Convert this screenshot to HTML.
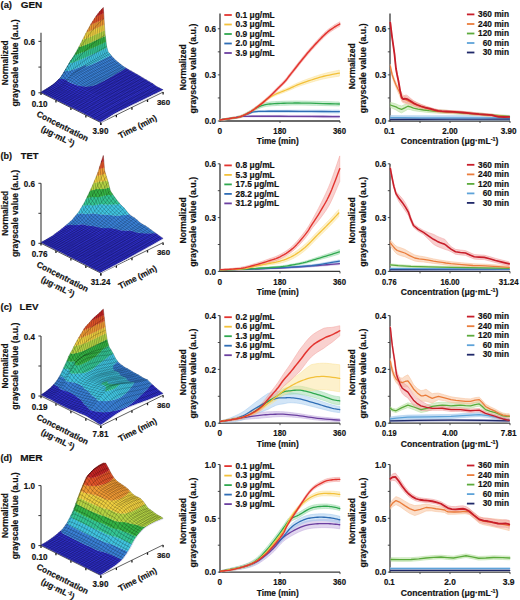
<!DOCTYPE html><html><head><meta charset="utf-8"><style>html,body{margin:0;padding:0;background:#fff;width:520px;height:600px;overflow:hidden}svg{display:block}text{font-family:"Liberation Sans", sans-serif;stroke:#141414;stroke-width:0.18px}.s0{fill:#2e2ec4;stroke:#2e2ec4;stroke-width:0.25}.s1{fill:#3a80d6;stroke:#3a80d6;stroke-width:0.25}.s2{fill:#40c4e0;stroke:#40c4e0;stroke-width:0.25}.s3{fill:#34c694;stroke:#34c694;stroke-width:0.25}.s4{fill:#34b244;stroke:#34b244;stroke-width:0.25}.s5{fill:#b4d444;stroke:#b4d444;stroke-width:0.25}.s6{fill:#f0d040;stroke:#f0d040;stroke-width:0.25}.s7{fill:#f09a34;stroke:#f09a34;stroke-width:0.25}.s8{fill:#e2542a;stroke:#e2542a;stroke-width:0.25}.s9{fill:#c42424;stroke:#c42424;stroke-width:0.25}</style></head><body>
<svg width="520" height="600" viewBox="0 0 520 600">
<rect width="520" height="600" fill="#fff"/>
<g transform="translate(0 0)">
<text x="0.50" y="8.20" font-size="9.6" text-anchor="start" fill="#111" font-weight="bold" textLength="11.50" lengthAdjust="spacingAndGlyphs" >(a)</text>
<text x="20.70" y="8.20" font-size="9.8" text-anchor="start" fill="#111" font-weight="bold" textLength="21.60" lengthAdjust="spacingAndGlyphs" >GEN</text>
</g>
<g transform="translate(0 0)">
<line x1="41.0" y1="32.80" x2="41.0" y2="93.3" stroke="#383838" stroke-width="1.1"/>
<line x1="38.4" y1="92.80" x2="41.0" y2="92.80" stroke="#383838" stroke-width="1"/>
<line x1="38.4" y1="41.37" x2="41.0" y2="41.37" stroke="#383838" stroke-width="1"/>
<line x1="38.4" y1="67.09" x2="41.0" y2="67.09" stroke="#383838" stroke-width="1"/>
<text x="35.40" y="95.80" font-size="8.2" text-anchor="end" fill="#111" font-weight="bold" textLength="4.60" lengthAdjust="spacingAndGlyphs" >0</text>
<text x="35.00" y="44.97" font-size="8.2" text-anchor="end" fill="#111" font-weight="bold" textLength="11.20" lengthAdjust="spacingAndGlyphs" >0.6</text>
<polyline points="41.0,92.8 100.8,122.6 163.1,92.1" fill="none" stroke="#383838" stroke-width="0.8"/>
<line x1="41.00" y1="92.80" x2="41.00" y2="95.10" stroke="#1a1a1a" stroke-width="1.3"/>
<line x1="55.95" y1="100.25" x2="55.95" y2="102.55" stroke="#1a1a1a" stroke-width="1.3"/>
<line x1="70.90" y1="107.70" x2="70.90" y2="110.00" stroke="#1a1a1a" stroke-width="1.3"/>
<line x1="85.85" y1="115.15" x2="85.85" y2="117.45" stroke="#1a1a1a" stroke-width="1.3"/>
<line x1="100.80" y1="122.60" x2="100.80" y2="124.90" stroke="#1a1a1a" stroke-width="1.3"/>
<line x1="100.80" y1="122.60" x2="100.80" y2="124.90" stroke="#1a1a1a" stroke-width="1.3"/>
<line x1="116.38" y1="114.97" x2="116.38" y2="117.27" stroke="#1a1a1a" stroke-width="1.3"/>
<line x1="131.95" y1="107.35" x2="131.95" y2="109.65" stroke="#1a1a1a" stroke-width="1.3"/>
<line x1="147.52" y1="99.72" x2="147.52" y2="102.02" stroke="#1a1a1a" stroke-width="1.3"/>
<line x1="163.10" y1="92.10" x2="163.10" y2="94.40" stroke="#1a1a1a" stroke-width="1.3"/>
<path class="s0" d="M41.0 92.2L41.7 92.4L43.4 91.3L42.7 91.1ZM42.7 91.1L43.4 91.3L45.2 90.2L44.5 90.0ZM44.5 90.0L45.2 90.2L46.9 89.1L46.2 89.0ZM46.2 89.0L46.9 89.1L48.6 88.0L47.9 87.9ZM47.9 87.9L48.6 88.0L50.4 86.8L49.7 86.8ZM49.7 86.8L50.4 86.8L52.1 85.6L51.4 85.6ZM51.4 85.6L52.1 85.6L53.8 84.4L53.1 84.4ZM53.1 84.4L53.8 84.4L55.5 82.9L54.8 83.1ZM54.8 83.1L55.5 82.9L57.3 81.2L56.6 81.4ZM56.6 81.4L57.3 81.2L59.0 79.4L58.3 79.8ZM58.3 79.8L59.0 79.4L59.4 79.0L60.2 78.1L60.0 78.2ZM60.0 78.2L60.2 78.1L60.2 77.9ZM41.7 92.4L42.8 93.1L44.6 92.0L43.4 91.3ZM43.4 91.3L44.6 92.0L46.3 90.9L45.2 90.2ZM45.2 90.2L46.3 90.9L48.0 89.8L46.9 89.1ZM46.9 89.1L48.0 89.8L49.8 88.7L48.6 88.0ZM48.6 88.0L49.8 88.7L51.5 87.6L50.4 86.8ZM50.4 86.8L51.5 87.6L53.2 86.4L52.1 85.6ZM52.1 85.6L53.2 86.4L55.0 85.2L53.8 84.4ZM53.8 84.4L55.0 85.2L56.7 83.9L55.5 82.9ZM55.5 82.9L56.7 83.9L58.4 82.2L57.3 81.2ZM57.3 81.2L58.4 82.2L60.1 80.5L59.0 79.4ZM59.0 79.4L60.1 80.5L61.8 79.0L59.4 79.0ZM42.8 93.1L44.3 93.9L46.0 92.8L44.6 92.0ZM44.6 92.0L46.0 92.8L47.7 91.8L46.3 90.9ZM46.3 90.9L47.7 91.8L49.4 90.7L48.0 89.8ZM48.0 89.8L49.4 90.7L51.2 89.7L49.8 88.7ZM49.8 88.7L51.2 89.7L52.9 88.6L51.5 87.6ZM51.5 87.6L52.9 88.6L54.6 87.5L53.2 86.4ZM53.2 86.4L54.6 87.5L56.4 86.3L55.0 85.2ZM55.0 85.2L56.4 86.3L58.1 85.1L56.7 83.9ZM56.7 83.9L58.1 85.1L59.8 83.5L58.4 82.2ZM58.4 82.2L59.8 83.5L61.6 82.0L60.1 80.5ZM60.1 80.5L61.6 82.0L63.3 80.4L62.0 79.0L61.8 79.0ZM62.0 79.0L63.3 80.4L64.3 79.1ZM44.3 93.9L45.9 94.7L47.6 93.7L46.0 92.8ZM46.0 92.8L47.6 93.7L49.3 92.7L47.7 91.8ZM47.7 91.8L49.3 92.7L51.1 91.6L49.4 90.7ZM49.4 90.7L51.1 91.6L52.8 90.6L51.2 89.7ZM51.2 89.7L52.8 90.6L54.5 89.5L52.9 88.6ZM52.9 88.6L54.5 89.5L56.3 88.4L54.6 87.5ZM54.6 87.5L56.3 88.4L58.0 87.3L56.4 86.3ZM56.4 86.3L58.0 87.3L59.7 86.1L58.1 85.1ZM58.1 85.1L59.7 86.1L61.4 84.6L59.8 83.5ZM59.8 83.5L61.4 84.6L63.2 83.1L61.6 82.0ZM61.6 82.0L63.2 83.1L64.9 81.6L63.3 80.4ZM63.3 80.4L64.9 81.6L66.5 79.6L64.3 79.1ZM45.9 94.7L47.7 95.5L49.4 94.5L47.6 93.7ZM47.6 93.7L49.4 94.5L51.1 93.4L49.3 92.7ZM49.3 92.7L51.1 93.4L52.8 92.3L51.1 91.6ZM51.1 91.6L52.8 92.3L54.6 91.3L52.8 90.6ZM52.8 90.6L54.6 91.3L56.3 90.2L54.5 89.5ZM54.5 89.5L56.3 90.2L58.0 89.0L56.3 88.4ZM56.3 88.4L58.0 89.0L59.8 87.9L58.0 87.3ZM58.0 87.3L59.8 87.9L61.5 86.6L59.7 86.1ZM59.7 86.1L61.5 86.6L63.2 85.0L61.4 84.6ZM61.4 84.6L63.2 85.0L65.0 83.4L63.2 83.1ZM63.2 83.1L65.0 83.4L66.7 81.8L64.9 81.6ZM64.9 81.6L66.7 81.8L67.2 81.0L66.5 79.6ZM47.7 95.5L49.6 96.5L51.3 95.4L49.4 94.5ZM49.4 94.5L51.3 95.4L53.0 94.3L51.1 93.4ZM51.1 93.4L53.0 94.3L54.8 93.3L52.8 92.3ZM52.8 92.3L54.8 93.3L56.5 92.2L54.6 91.3ZM54.6 91.3L56.5 92.2L58.2 91.1L56.3 90.2ZM56.3 90.2L58.2 91.1L60.0 89.9L58.0 89.0ZM58.0 89.0L60.0 89.9L61.7 88.8L59.8 87.9ZM59.8 87.9L61.7 88.8L63.4 87.4L61.5 86.6ZM61.5 86.6L63.4 87.4L65.2 85.8L63.2 85.0ZM63.2 85.0L65.2 85.8L66.9 84.2L65.0 83.4ZM65.0 83.4L66.9 84.2L68.6 82.6L66.7 81.8ZM66.7 81.8L68.6 82.6L69.0 82.1L67.2 81.0ZM49.6 96.5L51.7 97.5L53.4 96.4L51.3 95.4ZM51.3 95.4L53.4 96.4L55.1 95.4L53.0 94.3ZM53.0 94.3L55.1 95.4L56.8 94.3L54.8 93.3ZM54.8 93.3L56.8 94.3L58.6 93.2L56.5 92.2ZM56.5 92.2L58.6 93.2L60.3 92.1L58.2 91.1ZM58.2 91.1L60.3 92.1L62.0 90.9L60.0 89.9ZM60.0 89.9L62.0 90.9L63.8 89.8L61.7 88.8ZM61.7 88.8L63.8 89.8L65.5 88.4L63.4 87.4ZM63.4 87.4L65.5 88.4L67.2 86.8L65.2 85.8ZM65.2 85.8L67.2 86.8L69.0 85.2L66.9 84.2ZM66.9 84.2L69.0 85.2L70.7 83.6L68.6 82.6ZM68.6 82.6L70.7 83.6L71.1 83.1L69.0 82.1ZM51.7 97.5L53.8 98.6L55.6 97.5L53.4 96.4ZM53.4 96.4L55.6 97.5L57.3 96.5L55.1 95.4ZM55.1 95.4L57.3 96.5L59.0 95.4L56.8 94.3ZM56.8 94.3L59.0 95.4L60.8 94.3L58.6 93.2ZM58.6 93.2L60.8 94.3L62.5 93.2L60.3 92.1ZM60.3 92.1L62.5 93.2L64.2 92.0L62.0 90.9ZM62.0 90.9L64.2 92.0L66.0 90.9L63.8 89.8ZM63.8 89.8L66.0 90.9L67.7 89.6L65.5 88.4ZM65.5 88.4L67.7 89.6L69.4 88.1L67.2 86.8ZM67.2 86.8L69.4 88.1L71.2 86.5L69.0 85.2ZM69.0 85.2L71.2 86.5L72.9 85.0L70.7 83.6ZM70.7 83.6L72.9 85.0L73.8 84.0L71.1 83.1ZM53.8 98.6L56.1 99.7L57.9 98.7L55.6 97.5ZM55.6 97.5L57.9 98.7L59.6 97.6L57.3 96.5ZM57.3 96.5L59.6 97.6L61.3 96.5L59.0 95.4ZM59.0 95.4L61.3 96.5L63.1 95.5L60.8 94.3ZM60.8 94.3L63.1 95.5L64.8 94.4L62.5 93.2ZM62.5 93.2L64.8 94.4L66.5 93.2L64.2 92.0ZM64.2 92.0L66.5 93.2L68.3 92.0L66.0 90.9ZM66.0 90.9L68.3 92.0L70.0 90.8L67.7 89.6ZM67.7 89.6L70.0 90.8L71.7 89.3L69.4 88.1ZM69.4 88.1L71.7 89.3L73.5 87.8L71.2 86.5ZM71.2 86.5L73.5 87.8L75.2 86.3L72.9 85.0ZM72.9 85.0L75.2 86.3L76.4 84.9L73.8 84.0ZM56.1 99.7L58.6 101.0L60.3 99.9L57.9 98.7ZM57.9 98.7L60.3 99.9L62.0 98.8L59.6 97.6ZM59.6 97.6L62.0 98.8L63.7 97.8L61.3 96.5ZM61.3 96.5L63.7 97.8L65.5 96.7L63.1 95.5ZM63.1 95.5L65.5 96.7L67.2 95.6L64.8 94.4ZM64.8 94.4L67.2 95.6L68.9 94.4L66.5 93.2ZM66.5 93.2L68.9 94.4L70.7 93.3L68.3 92.0ZM68.3 92.0L70.7 93.3L72.4 92.0L70.0 90.8ZM70.0 90.8L72.4 92.0L74.1 90.6L71.7 89.3ZM71.7 89.3L74.1 90.6L75.9 89.1L73.5 87.8ZM73.5 87.8L75.9 89.1L77.6 87.7L75.2 86.3ZM75.2 86.3L77.6 87.7L79.3 86.0L79.0 85.7L76.4 84.9ZM79.0 85.7L79.3 86.0L79.5 85.8ZM58.6 101.0L61.1 102.2L62.8 101.2L60.3 99.9ZM60.3 99.9L62.8 101.2L64.5 100.1L62.0 98.8ZM62.0 98.8L64.5 100.1L66.3 99.1L63.7 97.8ZM63.7 97.8L66.3 99.1L68.0 98.0L65.5 96.7ZM65.5 96.7L68.0 98.0L69.7 96.9L67.2 95.6ZM67.2 95.6L69.7 96.9L71.4 95.8L68.9 94.4ZM68.9 94.4L71.4 95.8L73.2 94.6L70.7 93.3ZM70.7 93.3L73.2 94.6L74.9 93.4L72.4 92.0ZM72.4 92.0L74.9 93.4L76.6 92.0L74.1 90.6ZM74.1 90.6L76.6 92.0L78.4 90.6L75.9 89.1ZM75.9 89.1L78.4 90.6L80.1 89.2L77.6 87.7ZM77.6 87.7L80.1 89.2L81.8 87.6L79.3 86.0ZM79.3 86.0L81.8 87.6L83.6 86.3L83.4 86.2L79.5 85.8ZM83.4 86.2L83.6 86.3L83.8 86.2ZM61.1 102.2L63.7 103.5L65.4 102.5L62.8 101.2ZM62.8 101.2L65.4 102.5L67.1 101.4L64.5 100.1ZM64.5 100.1L67.1 101.4L68.9 100.3L66.3 99.1ZM66.3 99.1L68.9 100.3L70.6 99.3L68.0 98.0ZM68.0 98.0L70.6 99.3L72.3 98.2L69.7 96.9ZM69.7 96.9L72.3 98.2L74.0 97.0L71.4 95.8ZM71.4 95.8L74.0 97.0L75.8 95.9L73.2 94.6ZM73.2 94.6L75.8 95.9L77.5 94.6L74.9 93.4ZM74.9 93.4L77.5 94.6L79.2 93.3L76.6 92.0ZM76.6 92.0L79.2 93.3L81.0 91.9L78.4 90.6ZM78.4 90.6L81.0 91.9L82.7 90.5L80.1 89.2ZM80.1 89.2L82.7 90.5L84.4 88.9L81.8 87.6ZM81.8 87.6L84.4 88.9L86.2 87.8L83.6 86.3ZM83.6 86.3L86.2 87.8L87.9 86.8L87.4 86.5L83.8 86.2ZM87.4 86.5L87.9 86.8L88.9 86.3ZM125.2 68.5L126.0 68.1L125.9 68.1ZM63.7 103.5L66.3 104.8L68.1 103.8L65.4 102.5ZM65.4 102.5L68.1 103.8L69.8 102.7L67.1 101.4ZM67.1 101.4L69.8 102.7L71.5 101.6L68.9 100.3ZM68.9 100.3L71.5 101.6L73.3 100.6L70.6 99.3ZM70.6 99.3L73.3 100.6L75.0 99.5L72.3 98.2ZM72.3 98.2L75.0 99.5L76.7 98.3L74.0 97.0ZM74.0 97.0L76.7 98.3L78.5 97.1L75.8 95.9ZM75.8 95.9L78.5 97.1L80.2 95.9L77.5 94.6ZM77.5 94.6L80.2 95.9L81.9 94.5L79.2 93.3ZM79.2 93.3L81.9 94.5L83.7 93.1L81.0 91.9ZM81.0 91.9L83.7 93.1L85.4 91.8L82.7 90.5ZM82.7 90.5L85.4 91.8L87.1 90.3L84.4 88.9ZM84.4 88.9L87.1 90.3L88.8 89.2L86.2 87.8ZM86.2 87.8L88.8 89.2L90.6 88.3L87.9 86.8ZM87.9 86.8L90.6 88.3L92.3 87.4L90.1 86.1L88.9 86.3ZM90.1 86.1L92.3 87.4L94.0 86.5L92.6 85.7ZM92.6 85.7L94.0 86.5L95.8 85.6L94.8 85.1ZM94.8 85.1L95.8 85.6L97.5 84.8L96.9 84.4ZM96.9 84.4L97.5 84.8L99.2 83.9L98.7 83.6ZM98.7 83.6L99.2 83.9L101.0 83.1L100.3 82.7ZM100.3 82.7L101.0 83.1L102.7 82.2L102.0 81.8ZM102.0 81.8L102.7 82.2L104.4 81.4L103.7 80.9ZM103.7 80.9L104.4 81.4L106.1 80.5L105.3 80.0ZM105.3 80.0L106.1 80.5L107.9 79.7L106.9 79.1ZM106.9 79.1L107.9 79.7L109.6 78.9L108.5 78.2ZM108.5 78.2L109.6 78.9L111.3 78.0L110.1 77.3ZM110.1 77.3L111.3 78.0L113.1 77.2L111.7 76.4ZM111.7 76.4L113.1 77.2L114.8 76.4L113.3 75.5ZM113.3 75.5L114.8 76.4L116.5 75.5L114.8 74.5ZM114.8 74.5L116.5 75.5L118.3 74.7L116.4 73.6ZM116.4 73.6L118.3 74.7L120.0 73.9L118.0 72.7ZM118.0 72.7L120.0 73.9L121.7 73.0L119.6 71.8ZM119.6 71.8L121.7 73.0L123.5 72.2L121.2 70.9ZM121.2 70.9L123.5 72.2L125.2 71.4L122.7 69.9ZM122.7 69.9L125.2 71.4L126.9 70.5L124.3 69.0ZM124.3 69.0L126.9 70.5L128.6 69.7L126.0 68.1L125.2 68.5ZM66.3 104.8L69.1 106.2L70.8 105.1L68.1 103.8ZM68.1 103.8L70.8 105.1L72.6 104.0L69.8 102.7ZM69.8 102.7L72.6 104.0L74.3 103.0L71.5 101.6ZM71.5 101.6L74.3 103.0L76.0 101.9L73.3 100.6ZM73.3 100.6L76.0 101.9L77.8 100.8L75.0 99.5ZM75.0 99.5L77.8 100.8L79.5 99.6L76.7 98.3ZM76.7 98.3L79.5 99.6L81.2 98.4L78.5 97.1ZM78.5 97.1L81.2 98.4L83.0 97.2L80.2 95.9ZM80.2 95.9L83.0 97.2L84.7 95.8L81.9 94.5ZM81.9 94.5L84.7 95.8L86.4 94.5L83.7 93.1ZM83.7 93.1L86.4 94.5L88.2 93.2L85.4 91.8ZM85.4 91.8L88.2 93.2L89.9 91.7L87.1 90.3ZM87.1 90.3L89.9 91.7L91.6 90.7L88.8 89.2ZM88.8 89.2L91.6 90.7L93.3 89.8L90.6 88.3ZM90.6 88.3L93.3 89.8L95.1 88.9L92.3 87.4ZM92.3 87.4L95.1 88.9L96.8 88.1L94.0 86.5ZM94.0 86.5L96.8 88.1L98.5 87.2L95.8 85.6ZM95.8 85.6L98.5 87.2L100.3 86.3L97.5 84.8ZM97.5 84.8L100.3 86.3L102.0 85.5L99.2 83.9ZM99.2 83.9L102.0 85.5L103.7 84.6L101.0 83.1ZM101.0 83.1L103.7 84.6L105.5 83.8L102.7 82.2ZM102.7 82.2L105.5 83.8L107.2 83.0L104.4 81.4ZM104.4 81.4L107.2 83.0L108.9 82.1L106.1 80.5ZM106.1 80.5L108.9 82.1L110.7 81.3L107.9 79.7ZM107.9 79.7L110.7 81.3L112.4 80.4L109.6 78.9ZM109.6 78.9L112.4 80.4L114.1 79.6L111.3 78.0ZM111.3 78.0L114.1 79.6L115.8 78.8L113.1 77.2ZM113.1 77.2L115.8 78.8L117.6 77.9L114.8 76.4ZM114.8 76.4L117.6 77.9L119.3 77.1L116.5 75.5ZM116.5 75.5L119.3 77.1L121.0 76.3L118.3 74.7ZM118.3 74.7L121.0 76.3L122.8 75.4L120.0 73.9ZM120.0 73.9L122.8 75.4L124.5 74.6L121.7 73.0ZM121.7 73.0L124.5 74.6L126.2 73.8L123.5 72.2ZM123.5 72.2L126.2 73.8L128.0 72.9L125.2 71.4ZM125.2 71.4L128.0 72.9L129.7 72.1L126.9 70.5ZM126.9 70.5L129.7 72.1L131.4 71.2L128.6 69.7ZM69.1 106.2L72.0 107.6L73.7 106.5L70.8 105.1ZM70.8 105.1L73.7 106.5L75.4 105.4L72.6 104.0ZM72.6 104.0L75.4 105.4L77.2 104.3L74.3 103.0ZM74.3 103.0L77.2 104.3L78.9 103.2L76.0 101.9ZM76.0 101.9L78.9 103.2L80.6 102.1L77.8 100.8ZM77.8 100.8L80.6 102.1L82.4 100.9L79.5 99.6ZM79.5 99.6L82.4 100.9L84.1 99.7L81.2 98.4ZM81.2 98.4L84.1 99.7L85.8 98.5L83.0 97.2ZM83.0 97.2L85.8 98.5L87.5 97.2L84.7 95.8ZM84.7 95.8L87.5 97.2L89.3 95.9L86.4 94.5ZM86.4 94.5L89.3 95.9L91.0 94.7L88.2 93.2ZM88.2 93.2L91.0 94.7L92.7 93.3L89.9 91.7ZM89.9 91.7L92.7 93.3L94.5 92.3L91.6 90.7ZM91.6 90.7L94.5 92.3L96.2 91.4L93.3 89.8ZM93.3 89.8L96.2 91.4L97.9 90.5L95.1 88.9ZM95.1 88.9L97.9 90.5L99.7 89.6L96.8 88.1ZM96.8 88.1L99.7 89.6L101.4 88.8L98.5 87.2ZM98.5 87.2L101.4 88.8L103.1 87.9L100.3 86.3ZM100.3 86.3L103.1 87.9L104.8 87.1L102.0 85.5ZM102.0 85.5L104.8 87.1L106.6 86.2L103.7 84.6ZM103.7 84.6L106.6 86.2L108.3 85.4L105.5 83.8ZM105.5 83.8L108.3 85.4L110.0 84.5L107.2 83.0ZM107.2 83.0L110.0 84.5L111.8 83.7L108.9 82.1ZM108.9 82.1L111.8 83.7L113.5 82.9L110.7 81.3ZM110.7 81.3L113.5 82.9L115.2 82.0L112.4 80.4ZM112.4 80.4L115.2 82.0L117.0 81.2L114.1 79.6ZM114.1 79.6L117.0 81.2L118.7 80.4L115.8 78.8ZM115.8 78.8L118.7 80.4L120.4 79.5L117.6 77.9ZM117.6 77.9L120.4 79.5L122.2 78.7L119.3 77.1ZM119.3 77.1L122.2 78.7L123.9 77.9L121.0 76.3ZM121.0 76.3L123.9 77.9L125.6 77.0L122.8 75.4ZM122.8 75.4L125.6 77.0L127.3 76.2L124.5 74.6ZM124.5 74.6L127.3 76.2L129.1 75.4L126.2 73.8ZM126.2 73.8L129.1 75.4L130.8 74.5L128.0 72.9ZM128.0 72.9L130.8 74.5L132.5 73.7L129.7 72.1ZM129.7 72.1L132.5 73.7L134.3 72.9L131.4 71.2ZM72.0 107.6L74.9 109.0L76.6 107.9L73.7 106.5ZM73.7 106.5L76.6 107.9L78.4 106.8L75.4 105.4ZM75.4 105.4L78.4 106.8L80.1 105.7L77.2 104.3ZM77.2 104.3L80.1 105.7L81.8 104.6L78.9 103.2ZM78.9 103.2L81.8 104.6L83.6 103.5L80.6 102.1ZM80.6 102.1L83.6 103.5L85.3 102.3L82.4 100.9ZM82.4 100.9L85.3 102.3L87.0 101.1L84.1 99.7ZM84.1 99.7L87.0 101.1L88.7 99.9L85.8 98.5ZM85.8 98.5L88.7 99.9L90.5 98.6L87.5 97.2ZM87.5 97.2L90.5 98.6L92.2 97.4L89.3 95.9ZM89.3 95.9L92.2 97.4L93.9 96.2L91.0 94.7ZM91.0 94.7L93.9 96.2L95.7 94.9L92.7 93.3ZM92.7 93.3L95.7 94.9L97.4 93.9L94.5 92.3ZM94.5 92.3L97.4 93.9L99.1 93.0L96.2 91.4ZM96.2 91.4L99.1 93.0L100.9 92.2L97.9 90.5ZM97.9 90.5L100.9 92.2L102.6 91.3L99.7 89.6ZM99.7 89.6L102.6 91.3L104.3 90.4L101.4 88.8ZM101.4 88.8L104.3 90.4L106.0 89.6L103.1 87.9ZM103.1 87.9L106.0 89.6L107.8 88.7L104.8 87.1ZM104.8 87.1L107.8 88.7L109.5 87.9L106.6 86.2ZM106.6 86.2L109.5 87.9L111.2 87.0L108.3 85.4ZM108.3 85.4L111.2 87.0L113.0 86.2L110.0 84.5ZM110.0 84.5L113.0 86.2L114.7 85.4L111.8 83.7ZM111.8 83.7L114.7 85.4L116.4 84.5L113.5 82.9ZM113.5 82.9L116.4 84.5L118.2 83.7L115.2 82.0ZM115.2 82.0L118.2 83.7L119.9 82.9L117.0 81.2ZM117.0 81.2L119.9 82.9L121.6 82.0L118.7 80.4ZM118.7 80.4L121.6 82.0L123.4 81.2L120.4 79.5ZM120.4 79.5L123.4 81.2L125.1 80.4L122.2 78.7ZM122.2 78.7L125.1 80.4L126.8 79.5L123.9 77.9ZM123.9 77.9L126.8 79.5L128.5 78.7L125.6 77.0ZM125.6 77.0L128.5 78.7L130.3 77.9L127.3 76.2ZM127.3 76.2L130.3 77.9L132.0 77.0L129.1 75.4ZM129.1 75.4L132.0 77.0L133.7 76.2L130.8 74.5ZM130.8 74.5L133.7 76.2L135.5 75.4L132.5 73.7ZM132.5 73.7L135.5 75.4L137.2 74.5L134.3 72.9ZM74.9 109.0L77.9 110.5L79.6 109.4L76.6 107.9ZM76.6 107.9L79.6 109.4L81.4 108.3L78.4 106.8ZM78.4 106.8L81.4 108.3L83.1 107.2L80.1 105.7ZM80.1 105.7L83.1 107.2L84.8 106.1L81.8 104.6ZM81.8 104.6L84.8 106.1L86.6 104.9L83.6 103.5ZM83.6 103.5L86.6 104.9L88.3 103.8L85.3 102.3ZM85.3 102.3L88.3 103.8L90.0 102.6L87.0 101.1ZM87.0 101.1L90.0 102.6L91.7 101.4L88.7 99.9ZM88.7 99.9L91.7 101.4L93.5 100.2L90.5 98.6ZM90.5 98.6L93.5 100.2L95.2 99.0L92.2 97.4ZM92.2 97.4L95.2 99.0L96.9 97.9L93.9 96.2ZM93.9 96.2L96.9 97.9L98.7 96.7L95.7 94.9ZM95.7 94.9L98.7 96.7L100.4 95.7L97.4 93.9ZM97.4 93.9L100.4 95.7L102.1 94.8L99.1 93.0ZM99.1 93.0L102.1 94.8L103.9 94.0L100.9 92.2ZM100.9 92.2L103.9 94.0L105.6 93.1L102.6 91.3ZM102.6 91.3L105.6 93.1L107.3 92.2L104.3 90.4ZM104.3 90.4L107.3 92.2L109.1 91.4L106.0 89.6ZM106.0 89.6L109.1 91.4L110.8 90.5L107.8 88.7ZM107.8 88.7L110.8 90.5L112.5 89.7L109.5 87.9ZM109.5 87.9L112.5 89.7L114.2 88.8L111.2 87.0ZM111.2 87.0L114.2 88.8L116.0 88.0L113.0 86.2ZM113.0 86.2L116.0 88.0L117.7 87.2L114.7 85.4ZM114.7 85.4L117.7 87.2L119.4 86.3L116.4 84.5ZM116.4 84.5L119.4 86.3L121.2 85.5L118.2 83.7ZM118.2 83.7L121.2 85.5L122.9 84.7L119.9 82.9ZM119.9 82.9L122.9 84.7L124.6 83.8L121.6 82.0ZM121.6 82.0L124.6 83.8L126.4 83.0L123.4 81.2ZM123.4 81.2L126.4 83.0L128.1 82.2L125.1 80.4ZM125.1 80.4L128.1 82.2L129.8 81.3L126.8 79.5ZM126.8 79.5L129.8 81.3L131.5 80.5L128.5 78.7ZM128.5 78.7L131.5 80.5L133.3 79.7L130.3 77.9ZM130.3 77.9L133.3 79.7L135.0 78.8L132.0 77.0ZM132.0 77.0L135.0 78.8L136.7 78.0L133.7 76.2ZM133.7 76.2L136.7 78.0L138.5 77.2L135.5 75.4ZM135.5 75.4L138.5 77.2L140.2 76.3L137.2 74.5ZM77.9 110.5L81.0 112.0L82.7 110.9L79.6 109.4ZM79.6 109.4L82.7 110.9L84.4 109.8L81.4 108.3ZM81.4 108.3L84.4 109.8L86.2 108.7L83.1 107.2ZM83.1 107.2L86.2 108.7L87.9 107.6L84.8 106.1ZM84.8 106.1L87.9 107.6L89.6 106.5L86.6 104.9ZM86.6 104.9L89.6 106.5L91.4 105.3L88.3 103.8ZM88.3 103.8L91.4 105.3L93.1 104.1L90.0 102.6ZM90.0 102.6L93.1 104.1L94.8 103.0L91.7 101.4ZM91.7 101.4L94.8 103.0L96.5 101.8L93.5 100.2ZM93.5 100.2L96.5 101.8L98.3 100.7L95.2 99.0ZM95.2 99.0L98.3 100.7L100.0 99.6L96.9 97.9ZM96.9 97.9L100.0 99.6L101.7 98.5L98.7 96.7ZM98.7 96.7L101.7 98.5L103.5 97.5L100.4 95.7ZM100.4 95.7L103.5 97.5L105.2 96.7L102.1 94.8ZM102.1 94.8L105.2 96.7L106.9 95.8L103.9 94.0ZM103.9 94.0L106.9 95.8L108.7 94.9L105.6 93.1ZM105.6 93.1L108.7 94.9L110.4 94.1L107.3 92.2ZM107.3 92.2L110.4 94.1L112.1 93.2L109.1 91.4ZM109.1 91.4L112.1 93.2L113.9 92.4L110.8 90.5ZM110.8 90.5L113.9 92.4L115.6 91.5L112.5 89.7ZM112.5 89.7L115.6 91.5L117.3 90.7L114.2 88.8ZM114.2 88.8L117.3 90.7L119.0 89.8L116.0 88.0ZM116.0 88.0L119.0 89.8L120.8 89.0L117.7 87.2ZM117.7 87.2L120.8 89.0L122.5 88.2L119.4 86.3ZM119.4 86.3L122.5 88.2L124.2 87.3L121.2 85.5ZM121.2 85.5L124.2 87.3L126.0 86.5L122.9 84.7ZM122.9 84.7L126.0 86.5L127.7 85.7L124.6 83.8ZM124.6 83.8L127.7 85.7L129.4 84.8L126.4 83.0ZM126.4 83.0L129.4 84.8L131.2 84.0L128.1 82.2ZM128.1 82.2L131.2 84.0L132.9 83.2L129.8 81.3ZM129.8 81.3L132.9 83.2L134.6 82.3L131.5 80.5ZM131.5 80.5L134.6 82.3L136.4 81.5L133.3 79.7ZM133.3 79.7L136.4 81.5L138.1 80.7L135.0 78.8ZM135.0 78.8L138.1 80.7L139.8 79.8L136.7 78.0ZM136.7 78.0L139.8 79.8L141.5 79.0L138.5 77.2ZM138.5 77.2L141.5 79.0L143.3 78.2L140.2 76.3ZM81.0 112.0L84.1 113.6L85.8 112.5L82.7 110.9ZM82.7 110.9L85.8 112.5L87.6 111.4L84.4 109.8ZM84.4 109.8L87.6 111.4L89.3 110.3L86.2 108.7ZM86.2 108.7L89.3 110.3L91.0 109.2L87.9 107.6ZM87.9 107.6L91.0 109.2L92.8 108.0L89.6 106.5ZM89.6 106.5L92.8 108.0L94.5 106.9L91.4 105.3ZM91.4 105.3L94.5 106.9L96.2 105.7L93.1 104.1ZM93.1 104.1L96.2 105.7L98.0 104.6L94.8 103.0ZM94.8 103.0L98.0 104.6L99.7 103.5L96.5 101.8ZM96.5 101.8L99.7 103.5L101.4 102.4L98.3 100.7ZM98.3 100.7L101.4 102.4L103.2 101.4L100.0 99.6ZM100.0 99.6L103.2 101.4L104.9 100.3L101.7 98.5ZM101.7 98.5L104.9 100.3L106.6 99.4L103.5 97.5ZM103.5 97.5L106.6 99.4L108.3 98.5L105.2 96.7ZM105.2 96.7L108.3 98.5L110.1 97.6L106.9 95.8ZM106.9 95.8L110.1 97.6L111.8 96.8L108.7 94.9ZM108.7 94.9L111.8 96.8L113.5 95.9L110.4 94.1ZM110.4 94.1L113.5 95.9L115.3 95.1L112.1 93.2ZM112.1 93.2L115.3 95.1L117.0 94.2L113.9 92.4ZM113.9 92.4L117.0 94.2L118.7 93.4L115.6 91.5ZM115.6 91.5L118.7 93.4L120.5 92.5L117.3 90.7ZM117.3 90.7L120.5 92.5L122.2 91.7L119.0 89.8ZM119.0 89.8L122.2 91.7L123.9 90.9L120.8 89.0ZM120.8 89.0L123.9 90.9L125.7 90.0L122.5 88.2ZM122.5 88.2L125.7 90.0L127.4 89.2L124.2 87.3ZM124.2 87.3L127.4 89.2L129.1 88.4L126.0 86.5ZM126.0 86.5L129.1 88.4L130.8 87.5L127.7 85.7ZM127.7 85.7L130.8 87.5L132.6 86.7L129.4 84.8ZM129.4 84.8L132.6 86.7L134.3 85.9L131.2 84.0ZM131.2 84.0L134.3 85.9L136.0 85.0L132.9 83.2ZM132.9 83.2L136.0 85.0L137.8 84.2L134.6 82.3ZM134.6 82.3L137.8 84.2L139.5 83.4L136.4 81.5ZM136.4 81.5L139.5 83.4L141.2 82.5L138.1 80.7ZM138.1 80.7L141.2 82.5L143.0 81.7L139.8 79.8ZM139.8 79.8L143.0 81.7L144.7 80.9L141.5 79.0ZM141.5 79.0L144.7 80.9L146.4 80.0L143.3 78.2ZM84.1 113.6L87.3 115.2L89.1 114.1L85.8 112.5ZM85.8 112.5L89.1 114.1L90.8 113.0L87.6 111.4ZM87.6 111.4L90.8 113.0L92.5 111.9L89.3 110.3ZM89.3 110.3L92.5 111.9L94.3 110.8L91.0 109.2ZM91.0 109.2L94.3 110.8L96.0 109.7L92.8 108.0ZM92.8 108.0L96.0 109.7L97.7 108.5L94.5 106.9ZM94.5 106.9L97.7 108.5L99.4 107.3L96.2 105.7ZM96.2 105.7L99.4 107.3L101.2 106.2L98.0 104.6ZM98.0 104.6L101.2 106.2L102.9 105.2L99.7 103.5ZM99.7 103.5L102.9 105.2L104.6 104.1L101.4 102.4ZM101.4 102.4L104.6 104.1L106.4 103.2L103.2 101.4ZM103.2 101.4L106.4 103.2L108.1 102.1L104.9 100.3ZM104.9 100.3L108.1 102.1L109.8 101.2L106.6 99.4ZM106.6 99.4L109.8 101.2L111.6 100.4L108.3 98.5ZM108.3 98.5L111.6 100.4L113.3 99.5L110.1 97.6ZM110.1 97.6L113.3 99.5L115.0 98.6L111.8 96.8ZM111.8 96.8L115.0 98.6L116.7 97.8L113.5 95.9ZM113.5 95.9L116.7 97.8L118.5 96.9L115.3 95.1ZM115.3 95.1L118.5 96.9L120.2 96.1L117.0 94.2ZM117.0 94.2L120.2 96.1L121.9 95.3L118.7 93.4ZM118.7 93.4L121.9 95.3L123.7 94.4L120.5 92.5ZM120.5 92.5L123.7 94.4L125.4 93.6L122.2 91.7ZM122.2 91.7L125.4 93.6L127.1 92.7L123.9 90.9ZM123.9 90.9L127.1 92.7L128.9 91.9L125.7 90.0ZM125.7 90.0L128.9 91.9L130.6 91.1L127.4 89.2ZM127.4 89.2L130.6 91.1L132.3 90.2L129.1 88.4ZM129.1 88.4L132.3 90.2L134.1 89.4L130.8 87.5ZM130.8 87.5L134.1 89.4L135.8 88.6L132.6 86.7ZM132.6 86.7L135.8 88.6L137.5 87.7L134.3 85.9ZM134.3 85.9L137.5 87.7L139.2 86.9L136.0 85.0ZM136.0 85.0L139.2 86.9L141.0 86.1L137.8 84.2ZM137.8 84.2L141.0 86.1L142.7 85.2L139.5 83.4ZM139.5 83.4L142.7 85.2L144.4 84.4L141.2 82.5ZM141.2 82.5L144.4 84.4L146.2 83.6L143.0 81.7ZM143.0 81.7L146.2 83.6L147.9 82.7L144.7 80.9ZM144.7 80.9L147.9 82.7L149.6 81.9L146.4 80.0ZM87.3 115.2L90.6 116.8L92.3 115.8L89.1 114.1ZM89.1 114.1L92.3 115.8L94.1 114.7L90.8 113.0ZM90.8 113.0L94.1 114.7L95.8 113.6L92.5 111.9ZM92.5 111.9L95.8 113.6L97.5 112.5L94.3 110.8ZM94.3 110.8L97.5 112.5L99.3 111.4L96.0 109.7ZM96.0 109.7L99.3 111.4L101.0 110.2L97.7 108.5ZM97.7 108.5L101.0 110.2L102.7 109.1L99.4 107.3ZM99.4 107.3L102.7 109.1L104.4 108.0L101.2 106.2ZM101.2 106.2L104.4 108.0L106.2 107.0L102.9 105.2ZM102.9 105.2L106.2 107.0L107.9 106.0L104.6 104.1ZM104.6 104.1L107.9 106.0L109.6 105.0L106.4 103.2ZM106.4 103.2L109.6 105.0L111.4 104.0L108.1 102.1ZM108.1 102.1L111.4 104.0L113.1 103.2L109.8 101.2ZM109.8 101.2L113.1 103.2L114.8 102.3L111.6 100.4ZM111.6 100.4L114.8 102.3L116.6 101.4L113.3 99.5ZM113.3 99.5L116.6 101.4L118.3 100.6L115.0 98.6ZM115.0 98.6L118.3 100.6L120.0 99.7L116.7 97.8ZM116.7 97.8L120.0 99.7L121.8 98.9L118.5 96.9ZM118.5 96.9L121.8 98.9L123.5 98.0L120.2 96.1ZM120.2 96.1L123.5 98.0L125.2 97.2L121.9 95.3ZM121.9 95.3L125.2 97.2L126.9 96.4L123.7 94.4ZM123.7 94.4L126.9 96.4L128.7 95.5L125.4 93.6ZM125.4 93.6L128.7 95.5L130.4 94.7L127.1 92.7ZM127.1 92.7L130.4 94.7L132.1 93.9L128.9 91.9ZM128.9 91.9L132.1 93.9L133.9 93.0L130.6 91.1ZM130.6 91.1L133.9 93.0L135.6 92.2L132.3 90.2ZM132.3 90.2L135.6 92.2L137.3 91.4L134.1 89.4ZM134.1 89.4L137.3 91.4L139.1 90.5L135.8 88.6ZM135.8 88.6L139.1 90.5L140.8 89.7L137.5 87.7ZM137.5 87.7L140.8 89.7L142.5 88.9L139.2 86.9ZM139.2 86.9L142.5 88.9L144.3 88.0L141.0 86.1ZM141.0 86.1L144.3 88.0L146.0 87.2L142.7 85.2ZM142.7 85.2L146.0 87.2L147.7 86.3L144.4 84.4ZM144.4 84.4L147.7 86.3L149.4 85.5L146.2 83.6ZM146.2 83.6L149.4 85.5L151.2 84.7L147.9 82.7ZM147.9 82.7L151.2 84.7L152.9 83.8L149.6 81.9ZM90.6 116.8L93.9 118.7L95.7 117.6L92.3 115.8ZM92.3 115.8L95.7 117.6L97.4 116.6L94.1 114.7ZM94.1 114.7L97.4 116.6L99.1 115.5L95.8 113.6ZM95.8 113.6L99.1 115.5L100.9 114.5L97.5 112.5ZM97.5 112.5L100.9 114.5L102.6 113.4L99.3 111.4ZM99.3 111.4L102.6 113.4L104.3 112.4L101.0 110.2ZM101.0 110.2L104.3 112.4L106.1 111.3L102.7 109.1ZM102.7 109.1L106.1 111.3L107.8 110.3L104.4 108.0ZM104.4 108.0L107.8 110.3L109.5 109.3L106.2 107.0ZM106.2 107.0L109.5 109.3L111.2 108.4L107.9 106.0ZM107.9 106.0L111.2 108.4L113.0 107.5L109.6 105.0ZM109.6 105.0L113.0 107.5L114.7 106.6L111.4 104.0ZM111.4 104.0L114.7 106.6L116.4 105.7L113.1 103.2ZM113.1 103.2L116.4 105.7L118.2 104.8L114.8 102.3ZM114.8 102.3L118.2 104.8L119.9 104.0L116.6 101.4ZM116.6 101.4L119.9 104.0L121.6 103.1L118.3 100.6ZM118.3 100.6L121.6 103.1L123.4 102.3L120.0 99.7ZM120.0 99.7L123.4 102.3L125.1 101.4L121.8 98.9ZM121.8 98.9L125.1 101.4L126.8 100.6L123.5 98.0ZM123.5 98.0L126.8 100.6L128.6 99.7L125.2 97.2ZM125.2 97.2L128.6 99.7L130.3 98.9L126.9 96.4ZM126.9 96.4L130.3 98.9L132.0 98.1L128.7 95.5ZM128.7 95.5L132.0 98.1L133.7 97.2L130.4 94.7ZM130.4 94.7L133.7 97.2L135.5 96.4L132.1 93.9ZM132.1 93.9L135.5 96.4L137.2 95.6L133.9 93.0ZM133.9 93.0L137.2 95.6L138.9 94.7L135.6 92.2ZM135.6 92.2L138.9 94.7L140.7 93.9L137.3 91.4ZM137.3 91.4L140.7 93.9L142.4 93.0L139.1 90.5ZM139.1 90.5L142.4 93.0L144.1 92.2L140.8 89.7ZM140.8 89.7L144.1 92.2L145.9 91.4L142.5 88.9ZM142.5 88.9L145.9 91.4L147.6 90.5L144.3 88.0ZM144.3 88.0L147.6 90.5L149.3 89.7L146.0 87.2ZM146.0 87.2L149.3 89.7L151.0 88.9L147.7 86.3ZM147.7 86.3L151.0 88.9L152.8 88.0L149.4 85.5ZM149.4 85.5L152.8 88.0L154.5 87.2L151.2 84.7ZM151.2 84.7L154.5 87.2L156.2 86.3L152.9 83.8ZM93.9 118.7L97.3 120.3L99.1 119.3L95.7 117.6ZM95.7 117.6L99.1 119.3L100.8 118.2L97.4 116.6ZM97.4 116.6L100.8 118.2L102.5 117.2L99.1 115.5ZM99.1 115.5L102.5 117.2L104.3 116.2L100.9 114.5ZM100.9 114.5L104.3 116.2L106.0 115.1L102.6 113.4ZM102.6 113.4L106.0 115.1L107.7 114.0L104.3 112.4ZM104.3 112.4L107.7 114.0L109.5 112.9L106.1 111.3ZM106.1 111.3L109.5 112.9L111.2 111.9L107.8 110.3ZM107.8 110.3L111.2 111.9L112.9 111.0L109.5 109.3ZM109.5 109.3L112.9 111.0L114.6 110.0L111.2 108.4ZM111.2 108.4L114.6 110.0L116.4 109.2L113.0 107.5ZM113.0 107.5L116.4 109.2L118.1 108.3L114.7 106.6ZM114.7 106.6L118.1 108.3L119.8 107.4L116.4 105.7ZM116.4 105.7L119.8 107.4L121.6 106.6L118.2 104.8ZM118.2 104.8L121.6 106.6L123.3 105.7L119.9 104.0ZM119.9 104.0L123.3 105.7L125.0 104.9L121.6 103.1ZM121.6 103.1L125.0 104.9L126.8 104.0L123.4 102.3ZM123.4 102.3L126.8 104.0L128.5 103.2L125.1 101.4ZM125.1 101.4L128.5 103.2L130.2 102.3L126.8 100.6ZM126.8 100.6L130.2 102.3L132.0 101.5L128.6 99.7ZM128.6 99.7L132.0 101.5L133.7 100.7L130.3 98.9ZM130.3 98.9L133.7 100.7L135.4 99.8L132.0 98.1ZM132.0 98.1L135.4 99.8L137.1 99.0L133.7 97.2ZM133.7 97.2L137.1 99.0L138.9 98.1L135.5 96.4ZM135.5 96.4L138.9 98.1L140.6 97.3L137.2 95.6ZM137.2 95.6L140.6 97.3L142.3 96.5L138.9 94.7ZM138.9 94.7L142.3 96.5L144.1 95.6L140.7 93.9ZM140.7 93.9L144.1 95.6L145.8 94.8L142.4 93.0ZM142.4 93.0L145.8 94.8L147.5 94.0L144.1 92.2ZM144.1 92.2L147.5 94.0L149.3 93.1L145.9 91.4ZM145.9 91.4L149.3 93.1L151.0 92.3L147.6 90.5ZM147.6 90.5L151.0 92.3L152.7 91.4L149.3 89.7ZM149.3 89.7L152.7 91.4L154.4 90.6L151.0 88.9ZM151.0 88.9L154.4 90.6L156.2 89.8L152.8 88.0ZM152.8 88.0L156.2 89.8L157.9 88.9L154.5 87.2ZM154.5 87.2L157.9 88.9L159.6 88.1L156.2 86.3ZM97.3 120.3L100.8 122.0L102.5 121.0L99.1 119.3ZM99.1 119.3L102.5 121.0L104.3 119.9L100.8 118.2ZM100.8 118.2L104.3 119.9L106.0 118.9L102.5 117.2ZM102.5 117.2L106.0 118.9L107.7 117.8L104.3 116.2ZM104.3 116.2L107.7 117.8L109.5 116.7L106.0 115.1ZM106.0 115.1L109.5 116.7L111.2 115.6L107.7 114.0ZM107.7 114.0L111.2 115.6L112.9 114.5L109.5 112.9ZM109.5 112.9L112.9 114.5L114.6 113.5L111.2 111.9ZM111.2 111.9L114.6 113.5L116.4 112.6L112.9 111.0ZM112.9 111.0L116.4 112.6L118.1 111.7L114.6 110.0ZM114.6 110.0L118.1 111.7L119.8 110.8L116.4 109.2ZM116.4 109.2L119.8 110.8L121.6 110.0L118.1 108.3ZM118.1 108.3L121.6 110.0L123.3 109.1L119.8 107.4ZM119.8 107.4L123.3 109.1L125.0 108.3L121.6 106.6ZM121.6 106.6L125.0 108.3L126.8 107.4L123.3 105.7ZM123.3 105.7L126.8 107.4L128.5 106.6L125.0 104.9ZM125.0 104.9L128.5 106.6L130.2 105.7L126.8 104.0ZM126.8 104.0L130.2 105.7L131.9 104.9L128.5 103.2ZM128.5 103.2L131.9 104.9L133.7 104.0L130.2 102.3ZM130.2 102.3L133.7 104.0L135.4 103.2L132.0 101.5ZM132.0 101.5L135.4 103.2L137.1 102.4L133.7 100.7ZM133.7 100.7L137.1 102.4L138.9 101.5L135.4 99.8ZM135.4 99.8L138.9 101.5L140.6 100.7L137.1 99.0ZM137.1 99.0L140.6 100.7L142.3 99.9L138.9 98.1ZM138.9 98.1L142.3 99.9L144.1 99.0L140.6 97.3ZM140.6 97.3L144.1 99.0L145.8 98.2L142.3 96.5ZM142.3 96.5L145.8 98.2L147.5 97.3L144.1 95.6ZM144.1 95.6L147.5 97.3L149.3 96.5L145.8 94.8ZM145.8 94.8L149.3 96.5L151.0 95.7L147.5 94.0ZM147.5 94.0L151.0 95.7L152.7 94.8L149.3 93.1ZM149.3 93.1L152.7 94.8L154.4 94.0L151.0 92.3ZM151.0 92.3L154.4 94.0L156.2 93.2L152.7 91.4ZM152.7 91.4L156.2 93.2L157.9 92.3L154.4 90.6ZM154.4 90.6L157.9 92.3L159.6 91.5L156.2 89.8ZM156.2 89.8L159.6 91.5L161.4 90.7L157.9 88.9ZM157.9 88.9L161.4 90.7L163.1 89.8L159.6 88.1Z"/><path class="s1" d="M59.4 79.0L60.7 77.7L60.2 78.1ZM60.2 78.1L60.7 77.7L62.5 74.9L61.8 75.6L60.2 77.9ZM61.8 75.6L62.5 74.9L64.2 71.9L63.5 73.0ZM63.5 73.0L64.2 71.9L64.8 70.9L65.4 70.0L65.2 70.3ZM65.2 70.3L65.4 70.0L65.5 69.8ZM61.8 79.0L61.9 78.9L60.7 77.7L59.4 79.0ZM60.7 77.7L61.9 78.9L63.6 76.3L62.5 74.9ZM62.5 74.9L63.6 76.3L65.3 73.6L64.2 71.9ZM64.2 71.9L65.3 73.6L67.0 70.9L64.8 70.9ZM62.0 79.0L61.9 78.9L61.8 79.0ZM61.9 78.9L62.0 79.0L64.3 79.1L65.0 78.2L63.6 76.3ZM63.6 76.3L65.0 78.2L66.8 76.0L65.3 73.6ZM65.3 73.6L66.8 76.0L68.5 73.9L67.1 70.9L67.0 70.9ZM67.1 70.9L68.5 73.9L70.2 71.9L69.7 70.5ZM69.7 70.5L70.2 71.9L71.9 70.2L71.8 69.9ZM71.8 69.9L71.9 70.2L72.6 69.6ZM66.5 79.6L66.6 79.5L65.0 78.2L64.3 79.1ZM65.0 78.2L66.6 79.5L68.4 77.5L66.8 76.0ZM66.8 76.0L68.4 77.5L70.1 75.7L68.5 73.9ZM68.5 73.9L70.1 75.7L71.8 74.1L70.2 71.9ZM70.2 71.9L71.8 74.1L73.6 72.7L71.9 70.2ZM71.9 70.2L73.6 72.7L75.3 71.4L74.0 69.2L72.6 69.6ZM74.0 69.2L75.3 71.4L77.0 70.3L76.0 68.5ZM76.0 68.5L77.0 70.3L78.7 69.2L78.0 67.8ZM78.0 67.8L78.7 69.2L80.5 68.1L79.9 67.1ZM79.9 67.1L80.5 68.1L82.2 67.0L81.9 66.3ZM81.9 66.3L82.2 67.0L83.9 66.0L83.7 65.5ZM83.7 65.5L83.9 66.0L85.7 64.9L85.6 64.7ZM85.6 64.7L85.7 64.9L86.4 64.4ZM67.2 81.0L68.4 79.5L66.6 79.5L66.5 79.6ZM66.6 79.5L68.4 79.5L70.1 77.5L68.4 77.5ZM68.4 77.5L70.1 77.5L71.9 75.6L70.1 75.7ZM70.1 75.7L71.9 75.6L73.6 74.1L71.8 74.1ZM71.8 74.1L73.6 74.1L75.3 72.7L73.6 72.7ZM73.6 72.7L75.3 72.7L77.1 71.6L75.3 71.4ZM75.3 71.4L77.1 71.6L78.8 70.6L77.0 70.3ZM77.0 70.3L78.8 70.6L80.5 69.6L78.7 69.2ZM78.7 69.2L80.5 69.6L82.3 68.5L80.5 68.1ZM80.5 68.1L82.3 68.5L84.0 67.5L82.2 67.0ZM82.2 67.0L84.0 67.5L85.7 66.5L83.9 66.0ZM83.9 66.0L85.7 66.5L85.8 66.5L86.5 65.2L85.7 64.9ZM85.7 64.9L86.5 65.2L86.4 64.4ZM69.0 82.1L70.4 80.3L68.4 79.5L67.2 81.0ZM68.4 79.5L70.4 80.3L72.1 78.3L70.1 77.5ZM70.1 77.5L72.1 78.3L73.8 76.5L71.9 75.6ZM71.9 75.6L73.8 76.5L75.5 75.2L73.6 74.1ZM73.6 74.1L75.5 75.2L77.3 73.9L75.3 72.7ZM75.3 72.7L77.3 73.9L79.0 72.9L77.1 71.6ZM77.1 71.6L79.0 72.9L80.7 71.9L78.8 70.6ZM78.8 70.6L80.7 71.9L82.5 71.0L80.5 69.6ZM80.5 69.6L82.5 71.0L84.2 70.0L82.3 68.5ZM82.3 68.5L84.2 70.0L85.9 69.1L84.0 67.5ZM84.0 67.5L85.9 69.1L87.7 68.2L85.7 66.5ZM85.7 66.5L87.7 68.2L89.4 67.3L87.8 65.8L85.8 66.5ZM87.8 65.8L89.4 67.3L91.1 66.4L89.8 65.1ZM89.8 65.1L91.1 66.4L92.9 65.5L91.7 64.4ZM91.7 64.4L92.9 65.5L94.6 64.7L93.5 63.6ZM93.5 63.6L94.6 64.7L96.3 63.8L95.3 62.7ZM95.3 62.7L96.3 63.8L98.0 63.0L97.1 61.9ZM97.1 61.9L98.0 63.0L99.8 62.2L98.8 61.1ZM98.8 61.1L99.8 62.2L101.5 61.4L100.6 60.2ZM100.6 60.2L101.5 61.4L103.2 60.5L102.3 59.4ZM102.3 59.4L103.2 60.5L105.0 59.7L104.0 58.5ZM104.0 58.5L105.0 59.7L106.7 58.9L105.8 57.7ZM105.8 57.7L106.7 58.9L108.4 58.1L107.5 56.8ZM107.5 56.8L108.4 58.1L110.2 57.3L109.2 56.0ZM109.2 56.0L110.2 57.3L111.9 56.4L110.9 55.1ZM71.1 83.1L72.4 81.4L70.4 80.3L69.0 82.1ZM70.4 80.3L72.4 81.4L74.2 79.6L72.1 78.3ZM72.1 78.3L74.2 79.6L75.9 77.9L73.8 76.5ZM73.8 76.5L75.9 77.9L77.6 76.7L75.5 75.2ZM75.5 75.2L77.6 76.7L79.3 75.5L77.3 73.9ZM77.3 73.9L79.3 75.5L81.1 74.5L79.0 72.9ZM79.0 72.9L81.1 74.5L82.8 73.6L80.7 71.9ZM80.7 71.9L82.8 73.6L84.5 72.7L82.5 71.0ZM82.5 71.0L84.5 72.7L86.3 71.8L84.2 70.0ZM84.2 70.0L86.3 71.8L88.0 70.9L85.9 69.1ZM85.9 69.1L88.0 70.9L89.7 70.0L87.7 68.2ZM87.7 68.2L89.7 70.0L91.5 69.2L89.4 67.3ZM89.4 67.3L91.5 69.2L93.2 68.3L91.1 66.4ZM91.1 66.4L93.2 68.3L94.9 67.5L92.9 65.5ZM92.9 65.5L94.9 67.5L96.6 66.6L94.6 64.7ZM94.6 64.7L96.6 66.6L98.4 65.8L96.3 63.8ZM96.3 63.8L98.4 65.8L100.1 65.0L98.0 63.0ZM98.0 63.0L100.1 65.0L101.8 64.2L99.8 62.2ZM99.8 62.2L101.8 64.2L103.6 63.4L101.5 61.4ZM101.5 61.4L103.6 63.4L105.3 62.6L103.2 60.5ZM103.2 60.5L105.3 62.6L107.0 61.8L105.0 59.7ZM105.0 59.7L107.0 61.8L108.8 61.0L106.7 58.9ZM106.7 58.9L108.8 61.0L110.5 60.2L108.4 58.1ZM108.4 58.1L110.5 60.2L112.2 59.4L110.2 57.3ZM110.2 57.3L112.2 59.4L114.0 58.6L111.9 56.4ZM73.8 84.0L74.6 83.0L72.4 81.4L71.1 83.1ZM72.4 81.4L74.6 83.0L76.3 81.3L74.2 79.6ZM74.2 79.6L76.3 81.3L78.1 79.8L75.9 77.9ZM75.9 77.9L78.1 79.8L79.8 78.7L77.6 76.7ZM77.6 76.7L79.8 78.7L81.5 77.6L79.3 75.5ZM79.3 75.5L81.5 77.6L83.3 76.6L81.1 74.5ZM81.1 74.5L83.3 76.6L85.0 75.7L82.8 73.6ZM82.8 73.6L85.0 75.7L86.7 74.8L84.5 72.7ZM84.5 72.7L86.7 74.8L88.5 73.9L86.3 71.8ZM86.3 71.8L88.5 73.9L90.2 73.0L88.0 70.9ZM88.0 70.9L90.2 73.0L91.9 72.2L89.7 70.0ZM89.7 70.0L91.9 72.2L93.6 71.3L91.5 69.2ZM91.5 69.2L93.6 71.3L95.4 70.5L93.2 68.3ZM93.2 68.3L95.4 70.5L97.1 69.6L94.9 67.5ZM94.9 67.5L97.1 69.6L98.8 68.8L96.6 66.6ZM96.6 66.6L98.8 68.8L100.6 68.0L98.4 65.8ZM98.4 65.8L100.6 68.0L102.3 67.2L100.1 65.0ZM100.1 65.0L102.3 67.2L104.0 66.4L101.8 64.2ZM101.8 64.2L104.0 66.4L105.8 65.6L103.6 63.4ZM103.6 63.4L105.8 65.6L107.5 64.8L105.3 62.6ZM105.3 62.6L107.5 64.8L109.2 64.0L107.0 61.8ZM107.0 61.8L109.2 64.0L111.0 63.1L108.8 61.0ZM108.8 61.0L111.0 63.1L112.7 62.3L110.5 60.2ZM110.5 60.2L112.7 62.3L114.4 61.5L112.2 59.4ZM112.2 59.4L114.4 61.5L116.1 60.7L114.0 58.6ZM76.4 84.9L76.9 84.4L74.6 83.0L73.8 84.0ZM74.6 83.0L76.9 84.4L78.6 82.9L76.3 81.3ZM76.3 81.3L78.6 82.9L80.4 81.6L78.1 79.8ZM78.1 79.8L80.4 81.6L82.1 80.5L79.8 78.7ZM79.8 78.7L82.1 80.5L83.8 79.4L81.5 77.6ZM81.5 77.6L83.8 79.4L85.6 78.5L83.3 76.6ZM83.3 76.6L85.6 78.5L87.3 77.6L85.0 75.7ZM85.0 75.7L87.3 77.6L89.0 76.7L86.7 74.8ZM86.7 74.8L89.0 76.7L90.8 75.9L88.5 73.9ZM88.5 73.9L90.8 75.9L92.5 75.0L90.2 73.0ZM90.2 73.0L92.5 75.0L94.2 74.1L91.9 72.2ZM91.9 72.2L94.2 74.1L96.0 73.3L93.6 71.3ZM93.6 71.3L96.0 73.3L97.7 72.4L95.4 70.5ZM95.4 70.5L97.7 72.4L99.4 71.6L97.1 69.6ZM97.1 69.6L99.4 71.6L101.1 70.8L98.8 68.8ZM98.8 68.8L101.1 70.8L102.9 70.0L100.6 68.0ZM100.6 68.0L102.9 70.0L104.6 69.1L102.3 67.2ZM102.3 67.2L104.6 69.1L106.3 68.3L104.0 66.4ZM104.0 66.4L106.3 68.3L108.1 67.5L105.8 65.6ZM105.8 65.6L108.1 67.5L109.8 66.7L107.5 64.8ZM107.5 64.8L109.8 66.7L111.5 65.9L109.2 64.0ZM109.2 64.0L111.5 65.9L113.3 65.0L111.0 63.1ZM111.0 63.1L113.3 65.0L115.0 64.2L112.7 62.3ZM112.7 62.3L115.0 64.2L116.7 63.4L114.4 61.5ZM114.4 61.5L116.7 63.4L118.4 62.6L116.1 60.7ZM79.0 85.7L76.9 84.4L76.4 84.9ZM76.9 84.4L79.0 85.7L79.5 85.8L81.1 84.6L78.6 82.9ZM78.6 82.9L81.1 84.6L82.8 83.4L80.4 81.6ZM80.4 81.6L82.8 83.4L84.5 82.4L82.1 80.5ZM82.1 80.5L84.5 82.4L86.2 81.4L83.8 79.4ZM83.8 79.4L86.2 81.4L88.0 80.5L85.6 78.5ZM85.6 78.5L88.0 80.5L89.7 79.6L87.3 77.6ZM87.3 77.6L89.7 79.6L91.4 78.7L89.0 76.7ZM89.0 76.7L91.4 78.7L93.2 77.8L90.8 75.9ZM90.8 75.9L93.2 77.8L94.9 77.0L92.5 75.0ZM92.5 75.0L94.9 77.0L96.6 76.1L94.2 74.1ZM94.2 74.1L96.6 76.1L98.4 75.3L96.0 73.3ZM96.0 73.3L98.4 75.3L100.1 74.4L97.7 72.4ZM97.7 72.4L100.1 74.4L101.8 73.6L99.4 71.6ZM99.4 71.6L101.8 73.6L103.5 72.8L101.1 70.8ZM101.1 70.8L103.5 72.8L105.3 71.9L102.9 70.0ZM102.9 70.0L105.3 71.9L107.0 71.1L104.6 69.1ZM104.6 69.1L107.0 71.1L108.7 70.3L106.3 68.3ZM106.3 68.3L108.7 70.3L110.5 69.5L108.1 67.5ZM108.1 67.5L110.5 69.5L112.2 68.6L109.8 66.7ZM109.8 66.7L112.2 68.6L113.9 67.8L111.5 65.9ZM111.5 65.9L113.9 67.8L115.7 67.0L113.3 65.0ZM113.3 65.0L115.7 67.0L117.4 66.2L115.0 64.2ZM115.0 64.2L117.4 66.2L119.1 65.4L116.7 63.4ZM116.7 63.4L119.1 65.4L120.9 64.5L118.4 62.6ZM83.4 86.2L81.1 84.6L79.5 85.8ZM81.1 84.6L83.4 86.2L83.8 86.2L85.3 85.3L82.8 83.4ZM82.8 83.4L85.3 85.3L87.0 84.3L84.5 82.4ZM84.5 82.4L87.0 84.3L88.8 83.3L86.2 81.4ZM86.2 81.4L88.8 83.3L90.5 82.4L88.0 80.5ZM88.0 80.5L90.5 82.4L92.2 81.6L89.7 79.6ZM89.7 79.6L92.2 81.6L93.9 80.7L91.4 78.7ZM91.4 78.7L93.9 80.7L95.7 79.8L93.2 77.8ZM93.2 77.8L95.7 79.8L97.4 79.0L94.9 77.0ZM94.9 77.0L97.4 79.0L99.1 78.1L96.6 76.1ZM96.6 76.1L99.1 78.1L100.9 77.3L98.4 75.3ZM98.4 75.3L100.9 77.3L102.6 76.5L100.1 74.4ZM100.1 74.4L102.6 76.5L104.3 75.6L101.8 73.6ZM101.8 73.6L104.3 75.6L106.1 74.8L103.5 72.8ZM103.5 72.8L106.1 74.8L107.8 74.0L105.3 71.9ZM105.3 71.9L107.8 74.0L109.5 73.1L107.0 71.1ZM107.0 71.1L109.5 73.1L111.2 72.3L108.7 70.3ZM108.7 70.3L111.2 72.3L113.0 71.5L110.5 69.5ZM110.5 69.5L113.0 71.5L114.7 70.6L112.2 68.6ZM112.2 68.6L114.7 70.6L116.4 69.8L113.9 67.8ZM113.9 67.8L116.4 69.8L118.2 69.0L115.7 67.0ZM115.7 67.0L118.2 69.0L119.9 68.2L117.4 66.2ZM117.4 66.2L119.9 68.2L121.6 67.3L119.1 65.4ZM119.1 65.4L121.6 67.3L123.4 66.5L120.9 64.5ZM87.4 86.5L85.3 85.3L83.8 86.2ZM85.3 85.3L87.4 86.5L88.9 86.3L89.6 85.9L87.0 84.3ZM87.0 84.3L89.6 85.9L91.3 84.9L88.8 83.3ZM88.8 83.3L91.3 84.9L93.1 84.1L90.5 82.4ZM90.5 82.4L93.1 84.1L94.8 83.2L92.2 81.6ZM92.2 81.6L94.8 83.2L96.5 82.3L93.9 80.7ZM93.9 80.7L96.5 82.3L98.3 81.5L95.7 79.8ZM95.7 79.8L98.3 81.5L100.0 80.6L97.4 79.0ZM97.4 79.0L100.0 80.6L101.7 79.8L99.1 78.1ZM99.1 78.1L101.7 79.8L103.5 78.9L100.9 77.3ZM100.9 77.3L103.5 78.9L105.2 78.1L102.6 76.5ZM102.6 76.5L105.2 78.1L106.9 77.3L104.3 75.6ZM104.3 75.6L106.9 77.3L108.7 76.4L106.1 74.8ZM106.1 74.8L108.7 76.4L110.4 75.6L107.8 74.0ZM107.8 74.0L110.4 75.6L112.1 74.8L109.5 73.1ZM109.5 73.1L112.1 74.8L113.8 73.9L111.2 72.3ZM111.2 72.3L113.8 73.9L115.6 73.1L113.0 71.5ZM113.0 71.5L115.6 73.1L117.3 72.3L114.7 70.6ZM114.7 70.6L117.3 72.3L119.0 71.4L116.4 69.8ZM116.4 69.8L119.0 71.4L120.8 70.6L118.2 69.0ZM118.2 69.0L120.8 70.6L122.5 69.8L119.9 68.2ZM119.9 68.2L122.5 69.8L124.2 69.0L121.6 67.3ZM121.6 67.3L124.2 69.0L125.2 68.5L125.9 68.1L123.4 66.5ZM90.1 86.1L89.6 85.9L88.9 86.3ZM89.6 85.9L90.1 86.1L92.6 85.7L91.3 84.9ZM91.3 84.9L92.6 85.7L94.8 85.1L93.1 84.1ZM93.1 84.1L94.8 85.1L96.9 84.4L94.8 83.2ZM94.8 83.2L96.9 84.4L98.7 83.6L96.5 82.3ZM96.5 82.3L98.7 83.6L100.3 82.7L98.3 81.5ZM98.3 81.5L100.3 82.7L102.0 81.8L100.0 80.6ZM100.0 80.6L102.0 81.8L103.7 80.9L101.7 79.8ZM101.7 79.8L103.7 80.9L105.3 80.0L103.5 78.9ZM103.5 78.9L105.3 80.0L106.9 79.1L105.2 78.1ZM105.2 78.1L106.9 79.1L108.5 78.2L106.9 77.3ZM106.9 77.3L108.5 78.2L110.1 77.3L108.7 76.4ZM108.7 76.4L110.1 77.3L111.7 76.4L110.4 75.6ZM110.4 75.6L111.7 76.4L113.3 75.5L112.1 74.8ZM112.1 74.8L113.3 75.5L114.8 74.5L113.8 73.9ZM113.8 73.9L114.8 74.5L116.4 73.6L115.6 73.1ZM115.6 73.1L116.4 73.6L118.0 72.7L117.3 72.3ZM117.3 72.3L118.0 72.7L119.6 71.8L119.0 71.4ZM119.0 71.4L119.6 71.8L121.2 70.9L120.8 70.6ZM120.8 70.6L121.2 70.9L122.7 69.9L122.5 69.8ZM122.5 69.8L122.7 69.9L124.3 69.0L124.2 69.0ZM124.2 69.0L124.3 69.0L125.2 68.5Z"/><path class="s2" d="M64.8 70.9L65.9 68.9L65.4 70.0ZM65.4 70.0L65.9 68.9L67.7 65.8L67.0 67.4L65.5 69.8ZM67.0 67.4L67.7 65.8L69.3 63.2L69.3 63.1L68.7 64.4ZM68.7 64.4L69.3 63.1L69.9 62.2ZM67.0 70.9L67.1 70.8L65.9 68.9L64.8 70.9ZM65.9 68.9L67.1 70.8L68.8 68.0L67.7 65.8ZM67.7 65.8L68.8 68.0L70.5 65.7L69.5 63.2L69.3 63.2ZM69.5 63.2L70.5 65.7L72.3 63.5L72.0 62.7ZM72.0 62.7L72.3 63.5L73.6 62.2ZM67.1 70.9L67.1 70.8L67.0 70.9ZM67.1 70.8L67.1 70.9L69.7 70.5L68.8 68.0ZM68.8 68.0L69.7 70.5L71.8 69.9L70.5 65.7ZM70.5 65.7L71.8 69.9L72.6 69.6L73.7 68.6L72.3 63.5ZM72.3 63.5L73.7 68.6L75.4 67.4L74.0 62.1L73.6 62.2ZM74.0 62.1L75.4 67.4L77.1 66.1L76.0 61.3ZM76.0 61.3L77.1 66.1L78.9 64.8L77.9 60.6ZM77.9 60.6L78.9 64.8L80.6 63.6L79.8 59.8ZM79.8 59.8L80.6 63.6L82.3 62.3L81.7 59.0ZM81.7 59.0L82.3 62.3L84.1 61.0L83.5 58.2ZM83.5 58.2L84.1 61.0L85.8 59.7L85.4 57.4ZM85.4 57.4L85.8 59.7L87.5 58.5L87.2 56.6ZM87.2 56.6L87.5 58.5L89.2 57.2L89.0 55.8ZM89.0 55.8L89.2 57.2L91.0 56.0L90.8 55.0ZM90.8 55.0L91.0 56.0L92.7 54.9L92.6 54.2ZM92.6 54.2L92.7 54.9L94.4 53.7L94.4 53.4ZM94.4 53.4L94.4 53.7L96.2 52.6L96.2 52.6ZM96.2 52.6L96.2 52.6L96.6 52.3ZM74.0 69.2L73.7 68.6L72.6 69.6ZM73.7 68.6L74.0 69.2L76.0 68.5L75.4 67.4ZM75.4 67.4L76.0 68.5L78.0 67.8L77.1 66.1ZM77.1 66.1L78.0 67.8L79.9 67.1L78.9 64.8ZM78.9 64.8L79.9 67.1L81.9 66.3L80.6 63.6ZM80.6 63.6L81.9 66.3L83.7 65.5L82.3 62.3ZM82.3 62.3L83.7 65.5L85.6 64.7L84.1 61.0ZM84.1 61.0L85.6 64.7L86.4 64.4L87.4 63.8L85.8 59.7ZM85.8 59.7L87.4 63.8L89.1 62.7L87.5 58.5ZM87.5 58.5L89.1 62.7L90.9 61.7L89.2 57.2ZM89.2 57.2L90.9 61.7L92.6 60.7L91.0 56.0ZM91.0 56.0L92.6 60.7L94.3 59.7L92.7 54.9ZM92.7 54.9L94.3 59.7L96.1 58.7L94.4 53.7ZM94.4 53.7L96.1 58.7L97.8 57.8L96.2 52.6ZM96.2 52.6L97.8 57.8L99.5 56.8L98.0 51.7L96.6 52.3ZM98.0 51.7L99.5 56.8L101.2 55.9L99.8 50.9ZM99.8 50.9L101.2 55.9L103.0 55.0L101.6 50.1ZM101.6 50.1L103.0 55.0L104.7 54.0L103.3 49.3ZM103.3 49.3L104.7 54.0L106.4 53.1L105.1 48.5ZM105.1 48.5L106.4 53.1L108.2 52.2L106.9 47.6ZM85.8 66.5L87.5 65.5L86.5 65.2ZM86.5 65.2L87.5 65.5L89.2 64.5L87.4 63.8L86.4 64.4ZM87.4 63.8L89.2 64.5L90.9 63.6L89.1 62.7ZM89.1 62.7L90.9 63.6L92.6 62.6L90.9 61.7ZM90.9 61.7L92.6 62.6L94.4 61.7L92.6 60.7ZM92.6 60.7L94.4 61.7L96.1 60.8L94.3 59.7ZM94.3 59.7L96.1 60.8L97.8 59.9L96.1 58.7ZM96.1 58.7L97.8 59.9L99.6 59.0L97.8 57.8ZM97.8 57.8L99.6 59.0L101.3 58.1L99.5 56.8ZM99.5 56.8L101.3 58.1L103.0 57.3L101.2 55.9ZM101.2 55.9L103.0 57.3L104.8 56.4L103.0 55.0ZM103.0 55.0L104.8 56.4L106.5 55.5L104.7 54.0ZM104.7 54.0L106.5 55.5L108.2 54.7L106.4 53.1ZM106.4 53.1L108.2 54.7L110.0 53.8L108.2 52.2ZM87.8 65.8L87.5 65.5L85.8 66.5ZM87.5 65.5L87.8 65.8L89.8 65.1L89.2 64.5ZM89.2 64.5L89.8 65.1L91.7 64.4L90.9 63.6ZM90.9 63.6L91.7 64.4L93.5 63.6L92.6 62.6ZM92.6 62.6L93.5 63.6L95.3 62.7L94.4 61.7ZM94.4 61.7L95.3 62.7L97.1 61.9L96.1 60.8ZM96.1 60.8L97.1 61.9L98.8 61.1L97.8 59.9ZM97.8 59.9L98.8 61.1L100.6 60.2L99.6 59.0ZM99.6 59.0L100.6 60.2L102.3 59.4L101.3 58.1ZM101.3 58.1L102.3 59.4L104.0 58.5L103.0 57.3ZM103.0 57.3L104.0 58.5L105.8 57.7L104.8 56.4ZM104.8 56.4L105.8 57.7L107.5 56.8L106.5 55.5ZM106.5 55.5L107.5 56.8L109.2 56.0L108.2 54.7ZM108.2 54.7L109.2 56.0L110.9 55.1L110.0 53.8Z"/><path class="s3" d="M69.3 63.2L69.4 63.0L69.3 63.1ZM69.3 63.1L69.4 63.0L71.1 60.2L70.4 61.2L69.9 62.2ZM70.4 61.2L71.1 60.2L72.8 58.0L72.2 58.5ZM72.2 58.5L72.8 58.0L74.6 55.8L73.9 55.8ZM73.9 55.8L74.6 55.8L75.4 54.7L74.8 54.3ZM69.5 63.2L69.4 63.0L69.3 63.2ZM69.4 63.0L69.5 63.2L72.0 62.7L71.1 60.2ZM71.1 60.2L72.0 62.7L73.6 62.2L74.0 61.8L72.8 58.0ZM72.8 58.0L74.0 61.8L75.7 60.2L74.6 55.8ZM74.6 55.8L75.7 60.2L77.5 58.6L76.5 54.4L75.4 54.7ZM76.5 54.4L77.5 58.6L79.2 56.9L78.6 53.7ZM78.6 53.7L79.2 56.9L80.9 55.2L80.5 53.0ZM80.5 53.0L80.9 55.2L82.6 53.4L82.5 52.2ZM82.5 52.2L82.6 53.4L84.4 51.6L84.4 51.4ZM84.4 51.4L84.4 51.6L84.7 51.3ZM74.0 62.1L74.0 61.8L73.6 62.2ZM74.0 61.8L74.0 62.1L76.0 61.3L75.7 60.2ZM75.7 60.2L76.0 61.3L77.9 60.6L77.5 58.6ZM77.5 58.6L77.9 60.6L79.8 59.8L79.2 56.9ZM79.2 56.9L79.8 59.8L81.7 59.0L80.9 55.2ZM80.9 55.2L81.7 59.0L83.5 58.2L82.6 53.4ZM82.6 53.4L83.5 58.2L85.4 57.4L84.4 51.6ZM84.4 51.6L85.4 57.4L87.2 56.6L86.2 50.7L84.7 51.3ZM86.2 50.7L87.2 56.6L89.0 55.8L88.1 49.9ZM88.1 49.9L89.0 55.8L90.8 55.0L89.9 49.1ZM89.9 49.1L90.8 55.0L92.6 54.2L91.8 48.3ZM91.8 48.3L92.6 54.2L94.4 53.4L93.6 47.5ZM93.6 47.5L94.4 53.4L96.2 52.6L95.4 46.7ZM95.4 46.7L96.2 52.6L96.6 52.3L97.9 51.5L97.2 45.9ZM97.2 45.9L97.9 51.5L99.6 50.5L98.9 45.0ZM98.9 45.0L99.6 50.5L101.4 49.5L100.7 44.2ZM100.7 44.2L101.4 49.5L103.1 48.5L102.5 43.4ZM102.5 43.4L103.1 48.5L104.8 47.4L104.2 42.5ZM104.2 42.5L104.8 47.4L106.6 46.4L106.0 41.7ZM98.0 51.7L97.9 51.5L96.6 52.3ZM97.9 51.5L98.0 51.7L99.8 50.9L99.6 50.5ZM99.6 50.5L99.8 50.9L101.6 50.1L101.4 49.5ZM101.4 49.5L101.6 50.1L103.3 49.3L103.1 48.5ZM103.1 48.5L103.3 49.3L105.1 48.5L104.8 47.4ZM104.8 47.4L105.1 48.5L106.9 47.6L106.6 46.4Z"/><path class="s4" d="M75.4 54.7L76.3 53.5L75.6 53.1L74.8 54.3ZM75.6 53.1L76.3 53.5L78.0 51.0L77.3 49.9ZM77.3 49.9L78.0 51.0L79.8 48.5L79.1 46.8L79.0 46.8ZM79.1 46.8L79.8 48.5L81.2 46.4ZM76.5 54.4L76.3 53.5L75.4 54.7ZM76.3 53.5L76.5 54.4L78.6 53.7L78.0 51.0ZM78.0 51.0L78.6 53.7L80.5 53.0L79.8 48.5ZM79.8 48.5L80.5 53.0L82.5 52.2L81.6 46.3L81.2 46.4ZM81.6 46.3L82.5 52.2L84.4 51.4L83.5 45.6ZM83.5 45.6L84.4 51.4L84.7 51.3L86.1 50.0L85.5 44.8ZM85.5 44.8L86.1 50.0L87.8 48.4L87.4 44.0ZM87.4 44.0L87.8 48.4L89.6 46.7L89.2 43.3ZM89.2 43.3L89.6 46.7L91.3 45.2L91.0 42.5ZM91.0 42.5L91.3 45.2L93.0 43.7L92.8 41.6ZM92.8 41.6L93.0 43.7L94.8 42.3L94.6 40.8ZM94.6 40.8L94.8 42.3L96.5 40.9L96.4 40.0ZM96.4 40.0L96.5 40.9L98.2 39.6L98.2 39.2ZM98.2 39.2L98.2 39.6L100.0 38.4L100.0 38.4ZM100.0 38.4L100.0 38.4L100.1 38.3ZM86.2 50.7L86.1 50.0L84.7 51.3ZM86.1 50.0L86.2 50.7L88.1 49.9L87.8 48.4ZM87.8 48.4L88.1 49.9L89.9 49.1L89.6 46.7ZM89.6 46.7L89.9 49.1L91.8 48.3L91.3 45.2ZM91.3 45.2L91.8 48.3L93.6 47.5L93.0 43.7ZM93.0 43.7L93.6 47.5L95.4 46.7L94.8 42.3ZM94.8 42.3L95.4 46.7L97.2 45.9L96.5 40.9ZM96.5 40.9L97.2 45.9L98.9 45.0L98.2 39.6ZM98.2 39.6L98.9 45.0L100.7 44.2L100.0 38.4ZM100.0 38.4L100.7 44.2L102.5 43.4L101.7 37.5L100.1 38.3ZM101.7 37.5L102.5 43.4L104.2 42.5L103.5 36.7ZM103.5 36.7L104.2 42.5L106.0 41.7L105.3 35.9Z"/><path class="s5" d="M79.1 46.8L79.1 46.7L79.0 46.8ZM79.1 46.7L79.1 46.8L81.2 46.4L81.5 45.9L80.8 43.4ZM80.8 43.4L81.5 45.9L83.2 43.3L82.5 39.9ZM82.5 39.9L83.2 43.3L85.0 40.7L84.7 38.9L82.8 39.5ZM84.7 38.9L85.0 40.7L86.7 38.2ZM81.6 46.3L81.5 45.9L81.2 46.4ZM81.5 45.9L81.6 46.3L83.5 45.6L83.2 43.3ZM83.2 43.3L83.5 45.6L85.5 44.8L85.0 40.7ZM85.0 40.7L85.5 44.8L87.4 44.0L86.7 38.2L86.7 38.2ZM86.7 38.2L87.4 44.0L89.2 43.3L88.6 37.5ZM88.6 37.5L89.2 43.3L91.0 42.5L90.5 36.7ZM90.5 36.7L91.0 42.5L92.8 41.6L92.3 35.9ZM92.3 35.9L92.8 41.6L94.6 40.8L94.1 35.1ZM94.1 35.1L94.6 40.8L96.4 40.0L96.0 34.3ZM96.0 34.3L96.4 40.0L98.2 39.2L97.7 33.5ZM97.7 33.5L98.2 39.2L100.0 38.4L99.5 32.7ZM99.5 32.7L100.0 38.4L100.1 38.3L101.7 37.1L101.3 31.8ZM101.3 31.8L101.7 37.1L103.4 35.9L103.1 31.0ZM103.1 31.0L103.4 35.9L105.1 34.7L104.8 30.2ZM101.7 37.5L101.7 37.1L100.1 38.3ZM101.7 37.1L101.7 37.5L103.5 36.7L103.4 35.9ZM103.4 35.9L103.5 36.7L105.3 35.9L105.1 34.7Z"/><path class="s6" d="M84.7 38.9L84.3 36.5L82.8 39.5ZM84.3 36.5L84.7 38.9L86.7 38.2L86.7 38.2L86.0 33.1ZM86.0 33.1L86.7 38.2L88.4 35.7L87.9 31.7L86.5 32.2ZM87.9 31.7L88.4 35.7L90.2 33.4L89.9 30.9ZM89.9 30.9L90.2 33.4L91.9 31.1L91.8 30.2ZM91.8 30.2L91.9 31.1L93.1 29.6ZM86.7 38.2L86.7 38.2L86.7 38.2ZM86.7 38.2L86.7 38.2L88.6 37.5L88.4 35.7ZM88.4 35.7L88.6 37.5L90.5 36.7L90.2 33.4ZM90.2 33.4L90.5 36.7L92.3 35.9L91.9 31.1ZM91.9 31.1L92.3 35.9L94.1 35.1L93.6 29.4L93.1 29.6ZM93.6 29.4L94.1 35.1L96.0 34.3L95.5 28.6ZM95.5 28.6L96.0 34.3L97.7 33.5L97.3 27.8ZM97.3 27.8L97.7 33.5L99.5 32.7L99.1 27.0ZM99.1 27.0L99.5 32.7L101.3 31.8L100.9 26.1ZM100.9 26.1L101.3 31.8L103.1 31.0L102.7 25.3ZM102.7 25.3L103.1 31.0L104.8 30.2L104.4 24.5Z"/><path class="s7" d="M87.9 31.7L87.7 29.9L86.5 32.2ZM87.7 29.9L87.9 31.7L89.9 30.9L89.5 26.7ZM89.5 26.7L89.9 30.9L91.8 30.2L91.3 24.4L90.6 24.7ZM91.3 24.4L91.8 30.2L93.1 29.6L93.6 29.0L93.1 23.6ZM93.1 23.6L93.6 29.0L95.3 27.0L95.0 22.9ZM95.0 22.9L95.3 27.0L97.1 25.1L96.9 22.1ZM96.9 22.1L97.1 25.1L98.8 23.3L98.7 21.3ZM98.7 21.3L98.8 23.3L100.5 21.6L100.5 20.5ZM100.5 20.5L100.5 21.6L102.3 20.0L102.2 19.6ZM102.2 19.6L102.3 20.0L103.1 19.2ZM93.6 29.4L93.6 29.0L93.1 29.6ZM93.6 29.0L93.6 29.4L95.5 28.6L95.3 27.0ZM95.3 27.0L95.5 28.6L97.3 27.8L97.1 25.1ZM97.1 25.1L97.3 27.8L99.1 27.0L98.8 23.3ZM98.8 23.3L99.1 27.0L100.9 26.1L100.5 21.6ZM100.5 21.6L100.9 26.1L102.7 25.3L102.3 20.0ZM102.3 20.0L102.7 25.3L104.4 24.5L104.0 18.8L103.1 19.2Z"/><path class="s8" d="M91.3 24.4L91.2 23.7L90.6 24.7ZM91.2 23.7L91.3 24.4L93.1 23.6L92.9 21.0ZM92.9 21.0L93.1 23.6L95.0 22.9L94.6 18.3ZM94.6 18.3L95.0 22.9L96.9 22.1L96.4 16.4L95.7 16.7ZM96.4 16.4L96.9 22.1L98.7 21.3L98.3 15.6ZM98.3 15.6L98.7 21.3L100.5 20.5L100.1 14.8ZM100.1 14.8L100.5 20.5L102.2 19.6L101.9 14.0ZM101.9 14.0L102.2 19.6L103.1 19.2L104.0 18.5L103.7 13.1ZM104.0 18.8L104.0 18.5L103.1 19.2Z"/><path class="s9" d="M96.4 16.4L96.4 15.7L95.7 16.7ZM96.4 15.7L96.4 16.4L98.3 15.6L98.1 13.5ZM98.1 13.5L98.3 15.6L100.1 14.8L99.8 11.3ZM99.8 11.3L100.1 14.8L101.9 14.0L101.6 9.3ZM101.6 9.3L101.9 14.0L103.7 13.1L103.3 7.5Z"/>
<path d="M41.0 92.2L41.7 92.4L42.8 93.1L44.3 93.9L45.9 94.7L47.7 95.5L49.6 96.5L51.7 97.5L53.8 98.6L56.1 99.7L58.6 101.0L61.1 102.2L63.7 103.5L66.3 104.8L69.1 106.2L72.0 107.6L74.9 109.0L77.9 110.5L81.0 112.0L84.1 113.6L87.3 115.2L90.6 116.8L93.9 118.7L97.3 120.3L100.8 122.0M42.7 91.1L43.4 91.3L44.6 92.0L46.0 92.8L47.6 93.7L49.4 94.5L51.3 95.4L53.4 96.4L55.6 97.5L57.9 98.7L60.3 99.9L62.8 101.2L65.4 102.5L68.1 103.8L70.8 105.1L73.7 106.5L76.6 107.9L79.6 109.4L82.7 110.9L85.8 112.5L89.1 114.1L92.3 115.8L95.7 117.6L99.1 119.3L102.5 121.0M44.5 90.0L45.2 90.2L46.3 90.9L47.7 91.8L49.3 92.7L51.1 93.4L53.0 94.3L55.1 95.4L57.3 96.5L59.6 97.6L62.0 98.8L64.5 100.1L67.1 101.4L69.8 102.7L72.6 104.0L75.4 105.4L78.4 106.8L81.4 108.3L84.4 109.8L87.6 111.4L90.8 113.0L94.1 114.7L97.4 116.6L100.8 118.2L104.3 119.9M46.2 89.0L46.9 89.1L48.0 89.8L49.4 90.7L51.1 91.6L52.8 92.3L54.8 93.3L56.8 94.3L59.0 95.4L61.3 96.5L63.7 97.8L66.3 99.1L68.9 100.3L71.5 101.6L74.3 103.0L77.2 104.3L80.1 105.7L83.1 107.2L86.2 108.7L89.3 110.3L92.5 111.9L95.8 113.6L99.1 115.5L102.5 117.2L106.0 118.9M47.9 87.9L48.6 88.0L49.8 88.7L51.2 89.7L52.8 90.6L54.6 91.3L56.5 92.2L58.6 93.2L60.8 94.3L63.1 95.5L65.5 96.7L68.0 98.0L70.6 99.3L73.3 100.6L76.0 101.9L78.9 103.2L81.8 104.6L84.8 106.1L87.9 107.6L91.0 109.2L94.3 110.8L97.5 112.5L100.9 114.5L104.3 116.2L107.7 117.8M49.7 86.8L50.4 86.8L51.5 87.6L52.9 88.6L54.5 89.5L56.3 90.2L58.2 91.1L60.3 92.1L62.5 93.2L64.8 94.4L67.2 95.6L69.7 96.9L72.3 98.2L75.0 99.5L77.8 100.8L80.6 102.1L83.6 103.5L86.6 104.9L89.6 106.5L92.8 108.0L96.0 109.7L99.3 111.4L102.6 113.4L106.0 115.1L109.5 116.7M51.4 85.6L52.1 85.6L53.2 86.4L54.6 87.5L56.3 88.4L58.0 89.0L60.0 89.9L62.0 90.9L64.2 92.0L66.5 93.2L68.9 94.4L71.4 95.8L74.0 97.0L76.7 98.3L79.5 99.6L82.4 100.9L85.3 102.3L88.3 103.8L91.4 105.3L94.5 106.9L97.7 108.5L101.0 110.2L104.3 112.4L107.7 114.0L111.2 115.6M53.1 84.4L53.8 84.4L55.0 85.2L56.4 86.3L58.0 87.3L59.8 87.9L61.7 88.8L63.8 89.8L66.0 90.9L68.3 92.0L70.7 93.3L73.2 94.6L75.8 95.9L78.5 97.1L81.2 98.4L84.1 99.7L87.0 101.1L90.0 102.6L93.1 104.1L96.2 105.7L99.4 107.3L102.7 109.1L106.1 111.3L109.5 112.9L112.9 114.5M54.8 83.1L55.5 82.9L56.7 83.9L58.1 85.1L59.7 86.1L61.5 86.6L63.4 87.4L65.5 88.4L67.7 89.6L70.0 90.8L72.4 92.0L74.9 93.4L77.5 94.6L80.2 95.9L83.0 97.2L85.8 98.5L88.7 99.9L91.7 101.4L94.8 103.0L98.0 104.6L101.2 106.2L104.4 108.0L107.8 110.3L111.2 111.9L114.6 113.5M56.6 81.4L57.3 81.2L58.4 82.2L59.8 83.5L61.4 84.6L63.2 85.0L65.2 85.8L67.2 86.8L69.4 88.1L71.7 89.3L74.1 90.6L76.6 92.0L79.2 93.3L81.9 94.5L84.7 95.8L87.5 97.2L90.5 98.6L93.5 100.2L96.5 101.8L99.7 103.5L102.9 105.2L106.2 107.0L109.5 109.3L112.9 111.0L116.4 112.6M58.3 79.8L59.0 79.4L60.1 80.5L61.6 82.0L63.2 83.1L65.0 83.4L66.9 84.2L69.0 85.2L71.2 86.5L73.5 87.8L75.9 89.1L78.4 90.6L81.0 91.9L83.7 93.1L86.4 94.5L89.3 95.9L92.2 97.4L95.2 99.0L98.3 100.7L101.4 102.4L104.6 104.1L107.9 106.0L111.2 108.4L114.6 110.0L118.1 111.7M60.0 78.2L60.7 77.7L61.9 78.9L63.3 80.4L64.9 81.6L66.7 81.8L68.6 82.6L70.7 83.6L72.9 85.0L75.2 86.3L77.6 87.7L80.1 89.2L82.7 90.5L85.4 91.8L88.2 93.2L91.0 94.7L93.9 96.2L96.9 97.9L100.0 99.6L103.2 101.4L106.4 103.2L109.6 105.0L113.0 107.5L116.4 109.2L119.8 110.8M61.8 75.6L62.5 74.9L63.6 76.3L65.0 78.2L66.6 79.5L68.4 79.5L70.4 80.3L72.4 81.4L74.6 83.0L76.9 84.4L79.3 86.0L81.8 87.6L84.4 88.9L87.1 90.3L89.9 91.7L92.7 93.3L95.7 94.9L98.7 96.7L101.7 98.5L104.9 100.3L108.1 102.1L111.4 104.0L114.7 106.6L118.1 108.3L121.6 110.0M63.5 73.0L64.2 71.9L65.3 73.6L66.8 76.0L68.4 77.5L70.1 77.5L72.1 78.3L74.2 79.6L76.3 81.3L78.6 82.9L81.1 84.6L83.6 86.3L86.2 87.8L88.8 89.2L91.6 90.7L94.5 92.3L97.4 93.9L100.4 95.7L103.5 97.5L106.6 99.4L109.8 101.2L113.1 103.2L116.4 105.7L119.8 107.4L123.3 109.1M65.2 70.3L65.9 68.9L67.1 70.8L68.5 73.9L70.1 75.7L71.9 75.6L73.8 76.5L75.9 77.9L78.1 79.8L80.4 81.6L82.8 83.4L85.3 85.3L87.9 86.8L90.6 88.3L93.3 89.8L96.2 91.4L99.1 93.0L102.1 94.8L105.2 96.7L108.3 98.5L111.6 100.4L114.8 102.3L118.2 104.8L121.6 106.6L125.0 108.3M67.0 67.4L67.7 65.8L68.8 68.0L70.2 71.9L71.8 74.1L73.6 74.1L75.5 75.2L77.6 76.7L79.8 78.7L82.1 80.5L84.5 82.4L87.0 84.3L89.6 85.9L92.3 87.4L95.1 88.9L97.9 90.5L100.9 92.2L103.9 94.0L106.9 95.8L110.1 97.6L113.3 99.5L116.6 101.4L119.9 104.0L123.3 105.7L126.8 107.4M68.7 64.4L69.4 63.0L70.5 65.7L71.9 70.2L73.6 72.7L75.3 72.7L77.3 73.9L79.3 75.5L81.5 77.6L83.8 79.4L86.2 81.4L88.8 83.3L91.3 84.9L94.0 86.5L96.8 88.1L99.7 89.6L102.6 91.3L105.6 93.1L108.7 94.9L111.8 96.8L115.0 98.6L118.3 100.6L121.6 103.1L125.0 104.9L128.5 106.6M70.4 61.2L71.1 60.2L72.3 63.5L73.7 68.6L75.3 71.4L77.1 71.6L79.0 72.9L81.1 74.5L83.3 76.6L85.6 78.5L88.0 80.5L90.5 82.4L93.1 84.1L95.8 85.6L98.5 87.2L101.4 88.8L104.3 90.4L107.3 92.2L110.4 94.1L113.5 95.9L116.7 97.8L120.0 99.7L123.4 102.3L126.8 104.0L130.2 105.7M72.2 58.5L72.8 58.0L74.0 61.8L75.4 67.4L77.0 70.3L78.8 70.6L80.7 71.9L82.8 73.6L85.0 75.7L87.3 77.6L89.7 79.6L92.2 81.6L94.8 83.2L97.5 84.8L100.3 86.3L103.1 87.9L106.0 89.6L109.1 91.4L112.1 93.2L115.3 95.1L118.5 96.9L121.8 98.9L125.1 101.4L128.5 103.2L131.9 104.9M73.9 55.8L74.6 55.8L75.7 60.2L77.1 66.1L78.7 69.2L80.5 69.6L82.5 71.0L84.5 72.7L86.7 74.8L89.0 76.7L91.4 78.7L93.9 80.7L96.5 82.3L99.2 83.9L102.0 85.5L104.8 87.1L107.8 88.7L110.8 90.5L113.9 92.4L117.0 94.2L120.2 96.1L123.5 98.0L126.8 100.6L130.2 102.3L133.7 104.0M75.6 53.1L76.3 53.5L77.5 58.6L78.9 64.8L80.5 68.1L82.3 68.5L84.2 70.0L86.3 71.8L88.5 73.9L90.8 75.9L93.2 77.8L95.7 79.8L98.3 81.5L101.0 83.1L103.7 84.6L106.6 86.2L109.5 87.9L112.5 89.7L115.6 91.5L118.7 93.4L121.9 95.3L125.2 97.2L128.6 99.7L132.0 101.5L135.4 103.2M77.3 49.9L78.0 51.0L79.2 56.9L80.6 63.6L82.2 67.0L84.0 67.5L85.9 69.1L88.0 70.9L90.2 73.0L92.5 75.0L94.9 77.0L97.4 79.0L100.0 80.6L102.7 82.2L105.5 83.8L108.3 85.4L111.2 87.0L114.2 88.8L117.3 90.7L120.5 92.5L123.7 94.4L126.9 96.4L130.3 98.9L133.7 100.7L137.1 102.4M79.1 46.7L79.8 48.5L80.9 55.2L82.3 62.3L83.9 66.0L85.7 66.5L87.7 68.2L89.7 70.0L91.9 72.2L94.2 74.1L96.6 76.1L99.1 78.1L101.7 79.8L104.4 81.4L107.2 83.0L110.0 84.5L113.0 86.2L116.0 88.0L119.0 89.8L122.2 91.7L125.4 93.6L128.7 95.5L132.0 98.1L135.4 99.8L138.9 101.5M80.8 43.4L81.5 45.9L82.6 53.4L84.1 61.0L85.7 64.9L87.5 65.5L89.4 67.3L91.5 69.2L93.6 71.3L96.0 73.3L98.4 75.3L100.9 77.3L103.5 78.9L106.1 80.5L108.9 82.1L111.8 83.7L114.7 85.4L117.7 87.2L120.8 89.0L123.9 90.9L127.1 92.7L130.4 94.7L133.7 97.2L137.1 99.0L140.6 100.7M82.5 39.9L83.2 43.3L84.4 51.6L85.8 59.7L87.4 63.8L89.2 64.5L91.1 66.4L93.2 68.3L95.4 70.5L97.7 72.4L100.1 74.4L102.6 76.5L105.2 78.1L107.9 79.7L110.7 81.3L113.5 82.9L116.4 84.5L119.4 86.3L122.5 88.2L125.7 90.0L128.9 91.9L132.1 93.9L135.5 96.4L138.9 98.1L142.3 99.9M84.3 36.5L85.0 40.7L86.1 50.0L87.5 58.5L89.1 62.7L90.9 63.6L92.9 65.5L94.9 67.5L97.1 69.6L99.4 71.6L101.8 73.6L104.3 75.6L106.9 77.3L109.6 78.9L112.4 80.4L115.2 82.0L118.2 83.7L121.2 85.5L124.2 87.3L127.4 89.2L130.6 91.1L133.9 93.0L137.2 95.6L140.6 97.3L144.1 99.0M86.0 33.1L86.7 38.2L87.8 48.4L89.2 57.2L90.9 61.7L92.6 62.6L94.6 64.7L96.6 66.6L98.8 68.8L101.1 70.8L103.5 72.8L106.1 74.8L108.7 76.4L111.3 78.0L114.1 79.6L117.0 81.2L119.9 82.9L122.9 84.7L126.0 86.5L129.1 88.4L132.3 90.2L135.6 92.2L138.9 94.7L142.3 96.5L145.8 98.2M87.7 29.9L88.4 35.7L89.6 46.7L91.0 56.0L92.6 60.7L94.4 61.7L96.3 63.8L98.4 65.8L100.6 68.0L102.9 70.0L105.3 71.9L107.8 74.0L110.4 75.6L113.1 77.2L115.8 78.8L118.7 80.4L121.6 82.0L124.6 83.8L127.7 85.7L130.8 87.5L134.1 89.4L137.3 91.4L140.7 93.9L144.1 95.6L147.5 97.3M89.5 26.7L90.2 33.4L91.3 45.2L92.7 54.9L94.3 59.7L96.1 60.8L98.0 63.0L100.1 65.0L102.3 67.2L104.6 69.1L107.0 71.1L109.5 73.1L112.1 74.8L114.8 76.4L117.6 77.9L120.4 79.5L123.4 81.2L126.4 83.0L129.4 84.8L132.6 86.7L135.8 88.6L139.1 90.5L142.4 93.0L145.8 94.8L149.3 96.5M91.2 23.7L91.9 31.1L93.0 43.7L94.4 53.7L96.1 58.7L97.8 59.9L99.8 62.2L101.8 64.2L104.0 66.4L106.3 68.3L108.7 70.3L111.2 72.3L113.8 73.9L116.5 75.5L119.3 77.1L122.2 78.7L125.1 80.4L128.1 82.2L131.2 84.0L134.3 85.9L137.5 87.7L140.8 89.7L144.1 92.2L147.5 94.0L151.0 95.7M92.9 21.0L93.6 29.0L94.8 42.3L96.2 52.6L97.8 57.8L99.6 59.0L101.5 61.4L103.6 63.4L105.8 65.6L108.1 67.5L110.5 69.5L113.0 71.5L115.6 73.1L118.3 74.7L121.0 76.3L123.9 77.9L126.8 79.5L129.8 81.3L132.9 83.2L136.0 85.0L139.2 86.9L142.5 88.9L145.9 91.4L149.3 93.1L152.7 94.8M94.6 18.3L95.3 27.0L96.5 40.9L97.9 51.5L99.5 56.8L101.3 58.1L103.2 60.5L105.3 62.6L107.5 64.8L109.8 66.7L112.2 68.6L114.7 70.6L117.3 72.3L120.0 73.9L122.8 75.4L125.6 77.0L128.5 78.7L131.5 80.5L134.6 82.3L137.8 84.2L141.0 86.1L144.3 88.0L147.6 90.5L151.0 92.3L154.4 94.0M96.4 15.7L97.1 25.1L98.2 39.6L99.6 50.5L101.2 55.9L103.0 57.3L105.0 59.7L107.0 61.8L109.2 64.0L111.5 65.9L113.9 67.8L116.4 69.8L119.0 71.4L121.7 73.0L124.5 74.6L127.3 76.2L130.3 77.9L133.3 79.7L136.4 81.5L139.5 83.4L142.7 85.2L146.0 87.2L149.3 89.7L152.7 91.4L156.2 93.2M98.1 13.5L98.8 23.3L100.0 38.4L101.4 49.5L103.0 55.0L104.8 56.4L106.7 58.9L108.8 61.0L111.0 63.1L113.3 65.0L115.7 67.0L118.2 69.0L120.8 70.6L123.5 72.2L126.2 73.8L129.1 75.4L132.0 77.0L135.0 78.8L138.1 80.7L141.2 82.5L144.4 84.4L147.7 86.3L151.0 88.9L154.4 90.6L157.9 92.3M99.8 11.3L100.5 21.6L101.7 37.1L103.1 48.5L104.7 54.0L106.5 55.5L108.4 58.1L110.5 60.2L112.7 62.3L115.0 64.2L117.4 66.2L119.9 68.2L122.5 69.8L125.2 71.4L128.0 72.9L130.8 74.5L133.7 76.2L136.7 78.0L139.8 79.8L143.0 81.7L146.2 83.6L149.4 85.5L152.8 88.0L156.2 89.8L159.6 91.5M101.6 9.3L102.3 20.0L103.4 35.9L104.8 47.4L106.4 53.1L108.2 54.7L110.2 57.3L112.2 59.4L114.4 61.5L116.7 63.4L119.1 65.4L121.6 67.3L124.2 69.0L126.9 70.5L129.7 72.1L132.5 73.7L135.5 75.4L138.5 77.2L141.5 79.0L144.7 80.9L147.9 82.7L151.2 84.7L154.5 87.2L157.9 88.9L161.4 90.7M103.3 7.5L104.0 18.5L105.1 34.7L106.6 46.4L108.2 52.2L110.0 53.8L111.9 56.4L114.0 58.6L116.1 60.7L118.4 62.6L120.9 64.5L123.4 66.5L126.0 68.1L128.6 69.7L131.4 71.2L134.3 72.9L137.2 74.5L140.2 76.3L143.3 78.2L146.4 80.0L149.6 81.9L152.9 83.8L156.2 86.3L159.6 88.1L163.1 89.8" fill="none" stroke="#000" stroke-opacity="0.52" stroke-width="0.45"/>
<path d="M41.0 92.2L42.7 91.1L44.5 90.0L46.2 89.0L47.9 87.9L49.7 86.8L51.4 85.6L53.1 84.4L54.8 83.1L56.6 81.4L58.3 79.8L60.0 78.2L61.8 75.6L63.5 73.0L65.2 70.3L67.0 67.4L68.7 64.4L70.4 61.2L72.2 58.5L73.9 55.8L75.6 53.1L77.3 49.9L79.1 46.7L80.8 43.4L82.5 39.9L84.3 36.5L86.0 33.1L87.7 29.9L89.5 26.7L91.2 23.7L92.9 21.0L94.6 18.3L96.4 15.7L98.1 13.5L99.8 11.3L101.6 9.3L103.3 7.5M41.7 92.4L43.4 91.3L45.2 90.2L46.9 89.1L48.6 88.0L50.4 86.8L52.1 85.6L53.8 84.4L55.5 82.9L57.3 81.2L59.0 79.4L60.7 77.7L62.5 74.9L64.2 71.9L65.9 68.9L67.7 65.8L69.4 63.0L71.1 60.2L72.8 58.0L74.6 55.8L76.3 53.5L78.0 51.0L79.8 48.5L81.5 45.9L83.2 43.3L85.0 40.7L86.7 38.2L88.4 35.7L90.2 33.4L91.9 31.1L93.6 29.0L95.3 27.0L97.1 25.1L98.8 23.3L100.5 21.6L102.3 20.0L104.0 18.5M42.8 93.1L44.6 92.0L46.3 90.9L48.0 89.8L49.8 88.7L51.5 87.6L53.2 86.4L55.0 85.2L56.7 83.9L58.4 82.2L60.1 80.5L61.9 78.9L63.6 76.3L65.3 73.6L67.1 70.8L68.8 68.0L70.5 65.7L72.3 63.5L74.0 61.8L75.7 60.2L77.5 58.6L79.2 56.9L80.9 55.2L82.6 53.4L84.4 51.6L86.1 50.0L87.8 48.4L89.6 46.7L91.3 45.2L93.0 43.7L94.8 42.3L96.5 40.9L98.2 39.6L100.0 38.4L101.7 37.1L103.4 35.9L105.1 34.7M44.3 93.9L46.0 92.8L47.7 91.8L49.4 90.7L51.2 89.7L52.9 88.6L54.6 87.5L56.4 86.3L58.1 85.1L59.8 83.5L61.6 82.0L63.3 80.4L65.0 78.2L66.8 76.0L68.5 73.9L70.2 71.9L71.9 70.2L73.7 68.6L75.4 67.4L77.1 66.1L78.9 64.8L80.6 63.6L82.3 62.3L84.1 61.0L85.8 59.7L87.5 58.5L89.2 57.2L91.0 56.0L92.7 54.9L94.4 53.7L96.2 52.6L97.9 51.5L99.6 50.5L101.4 49.5L103.1 48.5L104.8 47.4L106.6 46.4M45.9 94.7L47.6 93.7L49.3 92.7L51.1 91.6L52.8 90.6L54.5 89.5L56.3 88.4L58.0 87.3L59.7 86.1L61.4 84.6L63.2 83.1L64.9 81.6L66.6 79.5L68.4 77.5L70.1 75.7L71.8 74.1L73.6 72.7L75.3 71.4L77.0 70.3L78.7 69.2L80.5 68.1L82.2 67.0L83.9 66.0L85.7 64.9L87.4 63.8L89.1 62.7L90.9 61.7L92.6 60.7L94.3 59.7L96.1 58.7L97.8 57.8L99.5 56.8L101.2 55.9L103.0 55.0L104.7 54.0L106.4 53.1L108.2 52.2M47.7 95.5L49.4 94.5L51.1 93.4L52.8 92.3L54.6 91.3L56.3 90.2L58.0 89.0L59.8 87.9L61.5 86.6L63.2 85.0L65.0 83.4L66.7 81.8L68.4 79.5L70.1 77.5L71.9 75.6L73.6 74.1L75.3 72.7L77.1 71.6L78.8 70.6L80.5 69.6L82.3 68.5L84.0 67.5L85.7 66.5L87.5 65.5L89.2 64.5L90.9 63.6L92.6 62.6L94.4 61.7L96.1 60.8L97.8 59.9L99.6 59.0L101.3 58.1L103.0 57.3L104.8 56.4L106.5 55.5L108.2 54.7L110.0 53.8M49.6 96.5L51.3 95.4L53.0 94.3L54.8 93.3L56.5 92.2L58.2 91.1L60.0 89.9L61.7 88.8L63.4 87.4L65.2 85.8L66.9 84.2L68.6 82.6L70.4 80.3L72.1 78.3L73.8 76.5L75.5 75.2L77.3 73.9L79.0 72.9L80.7 71.9L82.5 71.0L84.2 70.0L85.9 69.1L87.7 68.2L89.4 67.3L91.1 66.4L92.9 65.5L94.6 64.7L96.3 63.8L98.0 63.0L99.8 62.2L101.5 61.4L103.2 60.5L105.0 59.7L106.7 58.9L108.4 58.1L110.2 57.3L111.9 56.4M51.7 97.5L53.4 96.4L55.1 95.4L56.8 94.3L58.6 93.2L60.3 92.1L62.0 90.9L63.8 89.8L65.5 88.4L67.2 86.8L69.0 85.2L70.7 83.6L72.4 81.4L74.2 79.6L75.9 77.9L77.6 76.7L79.3 75.5L81.1 74.5L82.8 73.6L84.5 72.7L86.3 71.8L88.0 70.9L89.7 70.0L91.5 69.2L93.2 68.3L94.9 67.5L96.6 66.6L98.4 65.8L100.1 65.0L101.8 64.2L103.6 63.4L105.3 62.6L107.0 61.8L108.8 61.0L110.5 60.2L112.2 59.4L114.0 58.6M53.8 98.6L55.6 97.5L57.3 96.5L59.0 95.4L60.8 94.3L62.5 93.2L64.2 92.0L66.0 90.9L67.7 89.6L69.4 88.1L71.2 86.5L72.9 85.0L74.6 83.0L76.3 81.3L78.1 79.8L79.8 78.7L81.5 77.6L83.3 76.6L85.0 75.7L86.7 74.8L88.5 73.9L90.2 73.0L91.9 72.2L93.6 71.3L95.4 70.5L97.1 69.6L98.8 68.8L100.6 68.0L102.3 67.2L104.0 66.4L105.8 65.6L107.5 64.8L109.2 64.0L111.0 63.1L112.7 62.3L114.4 61.5L116.1 60.7M56.1 99.7L57.9 98.7L59.6 97.6L61.3 96.5L63.1 95.5L64.8 94.4L66.5 93.2L68.3 92.0L70.0 90.8L71.7 89.3L73.5 87.8L75.2 86.3L76.9 84.4L78.6 82.9L80.4 81.6L82.1 80.5L83.8 79.4L85.6 78.5L87.3 77.6L89.0 76.7L90.8 75.9L92.5 75.0L94.2 74.1L96.0 73.3L97.7 72.4L99.4 71.6L101.1 70.8L102.9 70.0L104.6 69.1L106.3 68.3L108.1 67.5L109.8 66.7L111.5 65.9L113.3 65.0L115.0 64.2L116.7 63.4L118.4 62.6M58.6 101.0L60.3 99.9L62.0 98.8L63.7 97.8L65.5 96.7L67.2 95.6L68.9 94.4L70.7 93.3L72.4 92.0L74.1 90.6L75.9 89.1L77.6 87.7L79.3 86.0L81.1 84.6L82.8 83.4L84.5 82.4L86.2 81.4L88.0 80.5L89.7 79.6L91.4 78.7L93.2 77.8L94.9 77.0L96.6 76.1L98.4 75.3L100.1 74.4L101.8 73.6L103.5 72.8L105.3 71.9L107.0 71.1L108.7 70.3L110.5 69.5L112.2 68.6L113.9 67.8L115.7 67.0L117.4 66.2L119.1 65.4L120.9 64.5M61.1 102.2L62.8 101.2L64.5 100.1L66.3 99.1L68.0 98.0L69.7 96.9L71.4 95.8L73.2 94.6L74.9 93.4L76.6 92.0L78.4 90.6L80.1 89.2L81.8 87.6L83.6 86.3L85.3 85.3L87.0 84.3L88.8 83.3L90.5 82.4L92.2 81.6L93.9 80.7L95.7 79.8L97.4 79.0L99.1 78.1L100.9 77.3L102.6 76.5L104.3 75.6L106.1 74.8L107.8 74.0L109.5 73.1L111.2 72.3L113.0 71.5L114.7 70.6L116.4 69.8L118.2 69.0L119.9 68.2L121.6 67.3L123.4 66.5M63.7 103.5L65.4 102.5L67.1 101.4L68.9 100.3L70.6 99.3L72.3 98.2L74.0 97.0L75.8 95.9L77.5 94.6L79.2 93.3L81.0 91.9L82.7 90.5L84.4 88.9L86.2 87.8L87.9 86.8L89.6 85.9L91.3 84.9L93.1 84.1L94.8 83.2L96.5 82.3L98.3 81.5L100.0 80.6L101.7 79.8L103.5 78.9L105.2 78.1L106.9 77.3L108.7 76.4L110.4 75.6L112.1 74.8L113.8 73.9L115.6 73.1L117.3 72.3L119.0 71.4L120.8 70.6L122.5 69.8L124.2 69.0L126.0 68.1M66.3 104.8L68.1 103.8L69.8 102.7L71.5 101.6L73.3 100.6L75.0 99.5L76.7 98.3L78.5 97.1L80.2 95.9L81.9 94.5L83.7 93.1L85.4 91.8L87.1 90.3L88.8 89.2L90.6 88.3L92.3 87.4L94.0 86.5L95.8 85.6L97.5 84.8L99.2 83.9L101.0 83.1L102.7 82.2L104.4 81.4L106.1 80.5L107.9 79.7L109.6 78.9L111.3 78.0L113.1 77.2L114.8 76.4L116.5 75.5L118.3 74.7L120.0 73.9L121.7 73.0L123.5 72.2L125.2 71.4L126.9 70.5L128.6 69.7M69.1 106.2L70.8 105.1L72.6 104.0L74.3 103.0L76.0 101.9L77.8 100.8L79.5 99.6L81.2 98.4L83.0 97.2L84.7 95.8L86.4 94.5L88.2 93.2L89.9 91.7L91.6 90.7L93.3 89.8L95.1 88.9L96.8 88.1L98.5 87.2L100.3 86.3L102.0 85.5L103.7 84.6L105.5 83.8L107.2 83.0L108.9 82.1L110.7 81.3L112.4 80.4L114.1 79.6L115.8 78.8L117.6 77.9L119.3 77.1L121.0 76.3L122.8 75.4L124.5 74.6L126.2 73.8L128.0 72.9L129.7 72.1L131.4 71.2M72.0 107.6L73.7 106.5L75.4 105.4L77.2 104.3L78.9 103.2L80.6 102.1L82.4 100.9L84.1 99.7L85.8 98.5L87.5 97.2L89.3 95.9L91.0 94.7L92.7 93.3L94.5 92.3L96.2 91.4L97.9 90.5L99.7 89.6L101.4 88.8L103.1 87.9L104.8 87.1L106.6 86.2L108.3 85.4L110.0 84.5L111.8 83.7L113.5 82.9L115.2 82.0L117.0 81.2L118.7 80.4L120.4 79.5L122.2 78.7L123.9 77.9L125.6 77.0L127.3 76.2L129.1 75.4L130.8 74.5L132.5 73.7L134.3 72.9M74.9 109.0L76.6 107.9L78.4 106.8L80.1 105.7L81.8 104.6L83.6 103.5L85.3 102.3L87.0 101.1L88.7 99.9L90.5 98.6L92.2 97.4L93.9 96.2L95.7 94.9L97.4 93.9L99.1 93.0L100.9 92.2L102.6 91.3L104.3 90.4L106.0 89.6L107.8 88.7L109.5 87.9L111.2 87.0L113.0 86.2L114.7 85.4L116.4 84.5L118.2 83.7L119.9 82.9L121.6 82.0L123.4 81.2L125.1 80.4L126.8 79.5L128.5 78.7L130.3 77.9L132.0 77.0L133.7 76.2L135.5 75.4L137.2 74.5M77.9 110.5L79.6 109.4L81.4 108.3L83.1 107.2L84.8 106.1L86.6 104.9L88.3 103.8L90.0 102.6L91.7 101.4L93.5 100.2L95.2 99.0L96.9 97.9L98.7 96.7L100.4 95.7L102.1 94.8L103.9 94.0L105.6 93.1L107.3 92.2L109.1 91.4L110.8 90.5L112.5 89.7L114.2 88.8L116.0 88.0L117.7 87.2L119.4 86.3L121.2 85.5L122.9 84.7L124.6 83.8L126.4 83.0L128.1 82.2L129.8 81.3L131.5 80.5L133.3 79.7L135.0 78.8L136.7 78.0L138.5 77.2L140.2 76.3M81.0 112.0L82.7 110.9L84.4 109.8L86.2 108.7L87.9 107.6L89.6 106.5L91.4 105.3L93.1 104.1L94.8 103.0L96.5 101.8L98.3 100.7L100.0 99.6L101.7 98.5L103.5 97.5L105.2 96.7L106.9 95.8L108.7 94.9L110.4 94.1L112.1 93.2L113.9 92.4L115.6 91.5L117.3 90.7L119.0 89.8L120.8 89.0L122.5 88.2L124.2 87.3L126.0 86.5L127.7 85.7L129.4 84.8L131.2 84.0L132.9 83.2L134.6 82.3L136.4 81.5L138.1 80.7L139.8 79.8L141.5 79.0L143.3 78.2M84.1 113.6L85.8 112.5L87.6 111.4L89.3 110.3L91.0 109.2L92.8 108.0L94.5 106.9L96.2 105.7L98.0 104.6L99.7 103.5L101.4 102.4L103.2 101.4L104.9 100.3L106.6 99.4L108.3 98.5L110.1 97.6L111.8 96.8L113.5 95.9L115.3 95.1L117.0 94.2L118.7 93.4L120.5 92.5L122.2 91.7L123.9 90.9L125.7 90.0L127.4 89.2L129.1 88.4L130.8 87.5L132.6 86.7L134.3 85.9L136.0 85.0L137.8 84.2L139.5 83.4L141.2 82.5L143.0 81.7L144.7 80.9L146.4 80.0M87.3 115.2L89.1 114.1L90.8 113.0L92.5 111.9L94.3 110.8L96.0 109.7L97.7 108.5L99.4 107.3L101.2 106.2L102.9 105.2L104.6 104.1L106.4 103.2L108.1 102.1L109.8 101.2L111.6 100.4L113.3 99.5L115.0 98.6L116.7 97.8L118.5 96.9L120.2 96.1L121.9 95.3L123.7 94.4L125.4 93.6L127.1 92.7L128.9 91.9L130.6 91.1L132.3 90.2L134.1 89.4L135.8 88.6L137.5 87.7L139.2 86.9L141.0 86.1L142.7 85.2L144.4 84.4L146.2 83.6L147.9 82.7L149.6 81.9M90.6 116.8L92.3 115.8L94.1 114.7L95.8 113.6L97.5 112.5L99.3 111.4L101.0 110.2L102.7 109.1L104.4 108.0L106.2 107.0L107.9 106.0L109.6 105.0L111.4 104.0L113.1 103.2L114.8 102.3L116.6 101.4L118.3 100.6L120.0 99.7L121.8 98.9L123.5 98.0L125.2 97.2L126.9 96.4L128.7 95.5L130.4 94.7L132.1 93.9L133.9 93.0L135.6 92.2L137.3 91.4L139.1 90.5L140.8 89.7L142.5 88.9L144.3 88.0L146.0 87.2L147.7 86.3L149.4 85.5L151.2 84.7L152.9 83.8M93.9 118.7L95.7 117.6L97.4 116.6L99.1 115.5L100.9 114.5L102.6 113.4L104.3 112.4L106.1 111.3L107.8 110.3L109.5 109.3L111.2 108.4L113.0 107.5L114.7 106.6L116.4 105.7L118.2 104.8L119.9 104.0L121.6 103.1L123.4 102.3L125.1 101.4L126.8 100.6L128.6 99.7L130.3 98.9L132.0 98.1L133.7 97.2L135.5 96.4L137.2 95.6L138.9 94.7L140.7 93.9L142.4 93.0L144.1 92.2L145.9 91.4L147.6 90.5L149.3 89.7L151.0 88.9L152.8 88.0L154.5 87.2L156.2 86.3M97.3 120.3L99.1 119.3L100.8 118.2L102.5 117.2L104.3 116.2L106.0 115.1L107.7 114.0L109.5 112.9L111.2 111.9L112.9 111.0L114.6 110.0L116.4 109.2L118.1 108.3L119.8 107.4L121.6 106.6L123.3 105.7L125.0 104.9L126.8 104.0L128.5 103.2L130.2 102.3L132.0 101.5L133.7 100.7L135.4 99.8L137.1 99.0L138.9 98.1L140.6 97.3L142.3 96.5L144.1 95.6L145.8 94.8L147.5 94.0L149.3 93.1L151.0 92.3L152.7 91.4L154.4 90.6L156.2 89.8L157.9 88.9L159.6 88.1M100.8 122.0L102.5 121.0L104.3 119.9L106.0 118.9L107.7 117.8L109.5 116.7L111.2 115.6L112.9 114.5L114.6 113.5L116.4 112.6L118.1 111.7L119.8 110.8L121.6 110.0L123.3 109.1L125.0 108.3L126.8 107.4L128.5 106.6L130.2 105.7L131.9 104.9L133.7 104.0L135.4 103.2L137.1 102.4L138.9 101.5L140.6 100.7L142.3 99.9L144.1 99.0L145.8 98.2L147.5 97.3L149.3 96.5L151.0 95.7L152.7 94.8L154.4 94.0L156.2 93.2L157.9 92.3L159.6 91.5L161.4 90.7L163.1 89.8" fill="none" stroke="#000" stroke-opacity="0.42" stroke-width="0.45"/>
<path d="M100.8 122.6L102.5 121.6L104.3 120.5L106.0 119.5L107.7 118.4L109.5 117.3L111.2 116.2L112.9 115.1L114.6 114.1L116.4 113.2L118.1 112.3L119.8 111.4L121.6 110.6L123.3 109.7L125.0 108.9L126.8 108.0L128.5 107.2L130.2 106.3L131.9 105.5L133.7 104.6L135.4 103.8L137.1 103.0L138.9 102.1L140.6 101.3L142.3 100.5L144.1 99.6L145.8 98.8L147.5 97.9L149.3 97.1L151.0 96.3L152.7 95.4L154.4 94.6L156.2 93.8L157.9 92.9L159.6 92.1L161.4 91.3L163.1 90.4" fill="none" stroke="#dcdcf4" stroke-width="0.9"/>
<text x="31.80" y="106.80" font-size="8.2" text-anchor="start" fill="#111" font-weight="bold" textLength="15.80" lengthAdjust="spacingAndGlyphs" >0.10</text>
<text x="100.50" y="134.00" font-size="8.2" text-anchor="middle" fill="#111" font-weight="bold" textLength="15.80" lengthAdjust="spacingAndGlyphs" >3.90</text>
<text x="163.50" y="104.80" font-size="8.0" text-anchor="middle" fill="#111" font-weight="bold" textLength="13.20" lengthAdjust="spacingAndGlyphs" >360</text>
<text x="61.30" y="128.70" font-size="8.4" text-anchor="middle" fill="#111" font-weight="bold" textLength="57.00" lengthAdjust="spacingAndGlyphs" transform="rotate(27.00 61.30 128.70)" >Concentration</text>
<text x="56.60" y="138.70" font-size="8.4" text-anchor="middle" fill="#111" font-weight="bold" transform="rotate(27.00 56.60 138.70)" >(μg·mL<tspan dy="-3" font-size="5.5">-1</tspan><tspan dy="3">)</tspan></text>
<text x="138.90" y="129.20" font-size="8.4" text-anchor="middle" fill="#111" font-weight="bold" textLength="41.60" lengthAdjust="spacingAndGlyphs" transform="rotate(-27.00 138.90 129.20)" >Time (min)</text>
<text x="7.60" y="62.80" font-size="8.6" text-anchor="middle" fill="#111" font-weight="bold" textLength="45.00" lengthAdjust="spacingAndGlyphs" transform="rotate(-90.00 7.60 62.80)" >Normalized</text>
<text x="17.60" y="63.00" font-size="8.6" text-anchor="middle" fill="#111" font-weight="bold" textLength="87.00" lengthAdjust="spacingAndGlyphs" transform="rotate(-90.00 17.60 63.00)" >grayscale value (a.u.)</text>
</g>
<g transform="translate(0 0)">
<line x1="220.00" y1="13.40" x2="220.00" y2="121.60" stroke="#383838" stroke-width="1.3" />
<line x1="219.40" y1="121.00" x2="340.00" y2="121.00" stroke="#383838" stroke-width="1.3" />
<line x1="217.80" y1="121.00" x2="220.00" y2="121.00" stroke="#383838" stroke-width="0.9" />
<line x1="217.80" y1="74.89" x2="220.00" y2="74.89" stroke="#383838" stroke-width="0.9" />
<line x1="217.80" y1="28.77" x2="220.00" y2="28.77" stroke="#383838" stroke-width="0.9" />
<line x1="217.80" y1="97.94" x2="220.00" y2="97.94" stroke="#383838" stroke-width="0.9" />
<line x1="217.80" y1="51.83" x2="220.00" y2="51.83" stroke="#383838" stroke-width="0.9" />
<line x1="280.00" y1="121.00" x2="280.00" y2="123.00" stroke="#383838" stroke-width="0.9" />
<line x1="340.00" y1="121.00" x2="340.00" y2="123.00" stroke="#383838" stroke-width="0.9" />
<path d="M220.00,119.40 L221.40,119.19 L223.38,118.90 L225.70,118.56 L228.14,118.20 L230.49,117.84 L232.50,117.53 L234.21,117.24 L235.79,116.94 L237.26,116.66 L238.66,116.39 L240.00,116.16 L241.30,115.98 L242.25,115.85 L242.75,115.77 L243.20,115.72 L243.97,115.70 L245.44,115.67 L248.00,115.64 L251.55,115.59 L255.78,115.54 L260.71,115.50 L266.37,115.46 L272.79,115.42 L280.00,115.40 L289.00,115.39 L299.97,115.38 L311.70,115.39 L322.99,115.39 L332.62,115.40 L339.40,115.40 L339.40,117.80 L332.62,117.71 L322.99,117.60 L311.70,117.46 L299.97,117.32 L289.00,117.19 L280.00,117.10 L272.79,117.04 L266.37,117.00 L260.71,116.97 L255.78,116.96 L251.55,116.96 L248.00,116.96 L245.44,116.97 L243.97,116.98 L243.20,116.99 L242.75,117.03 L242.25,117.11 L241.30,117.22 L240.00,117.39 L238.66,117.61 L237.26,117.86 L235.79,118.13 L234.21,118.40 L232.50,118.67 L230.49,118.96 L228.14,119.29 L225.70,119.63 L223.38,119.94 L221.40,120.21 L220.00,120.40 Z" fill="#c4aee0" fill-opacity="0.5" stroke="#c4aee0" stroke-width="0.6" stroke-opacity="0.9"/>
<path d="M220.00,119.40 L221.40,119.19 L223.38,118.91 L225.70,118.57 L228.14,118.20 L230.49,117.83 L232.50,117.50 L234.19,117.19 L235.75,116.90 L237.20,116.61 L238.59,116.31 L239.94,115.99 L241.30,115.62 L242.66,115.21 L243.97,114.74 L245.26,114.25 L246.53,113.76 L247.77,113.29 L249.00,112.86 L250.01,112.46 L250.76,112.06 L251.48,111.69 L252.43,111.35 L253.86,111.05 L256.00,110.80 L258.61,110.62 L261.43,110.49 L264.72,110.41 L268.75,110.35 L273.75,110.30 L280.00,110.25 L288.54,110.20 L299.38,110.17 L311.20,110.14 L322.69,110.13 L332.53,110.12 L339.40,110.10 L339.40,113.09 L332.53,112.99 L322.69,112.84 L311.20,112.66 L299.38,112.49 L288.54,112.34 L280.00,112.25 L273.75,112.20 L268.75,112.16 L264.72,112.15 L261.43,112.18 L258.61,112.26 L256.00,112.40 L253.86,112.61 L252.43,112.89 L251.48,113.22 L250.76,113.58 L250.01,113.96 L249.00,114.34 L247.77,114.75 L246.53,115.20 L245.26,115.67 L243.97,116.14 L242.66,116.58 L241.30,116.98 L239.94,117.32 L238.59,117.62 L237.20,117.90 L235.75,118.16 L234.19,118.43 L232.50,118.70 L230.49,119.01 L228.14,119.33 L225.70,119.66 L223.38,119.96 L221.40,120.22 L220.00,120.40 Z" fill="#a6cbef" fill-opacity="0.5" stroke="#a6cbef" stroke-width="0.6" stroke-opacity="0.9"/>
<path d="M220.00,119.40 L221.40,119.16 L223.38,118.83 L225.70,118.44 L228.14,118.02 L230.49,117.61 L232.50,117.22 L234.17,116.91 L235.66,116.65 L237.06,116.39 L238.41,116.08 L239.81,115.69 L241.30,115.16 L242.96,114.44 L244.74,113.55 L246.56,112.58 L248.31,111.59 L249.93,110.66 L251.30,109.86 L252.36,109.21 L253.17,108.66 L253.84,108.16 L254.46,107.69 L255.14,107.22 L256.00,106.72 L257.01,106.17 L258.09,105.60 L259.23,105.03 L260.43,104.48 L261.69,103.96 L263.00,103.51 L264.28,103.13 L265.52,102.79 L266.81,102.50 L268.26,102.24 L269.96,101.99 L272.00,101.80 L274.51,101.63 L277.44,101.48 L280.62,101.36 L283.89,101.25 L287.07,101.17 L290.00,101.10 L292.45,101.05 L294.50,101.01 L296.47,101.00 L298.67,101.01 L301.41,101.04 L305.00,101.10 L310.01,101.21 L316.30,101.37 L323.14,101.55 L329.76,101.73 L335.43,101.89 L339.40,102.00 L339.40,106.00 L335.43,105.89 L329.76,105.73 L323.14,105.55 L316.30,105.37 L310.01,105.21 L305.00,105.10 L301.41,105.04 L298.67,105.01 L296.47,105.00 L294.50,105.01 L292.45,105.05 L290.00,105.10 L287.07,105.17 L283.89,105.25 L280.62,105.36 L277.44,105.48 L274.51,105.63 L272.00,105.80 L269.96,105.99 L268.26,106.13 L266.81,106.31 L265.52,106.52 L264.28,106.78 L263.00,107.09 L261.69,107.46 L260.43,107.90 L259.23,108.38 L258.09,108.89 L257.01,109.39 L256.00,109.88 L255.14,110.33 L254.46,110.76 L253.84,111.19 L253.17,111.65 L252.36,112.16 L251.30,112.74 L249.93,113.45 L248.31,114.29 L246.56,115.17 L244.74,116.04 L242.96,116.82 L241.30,117.44 L239.81,117.88 L238.41,118.19 L237.06,118.41 L235.66,118.59 L234.17,118.76 L232.50,118.97 L230.49,119.24 L228.14,119.51 L225.70,119.78 L223.38,120.03 L221.40,120.25 L220.00,120.40 Z" fill="#9edcae" fill-opacity="0.5" stroke="#9edcae" stroke-width="0.6" stroke-opacity="0.9"/>
<path d="M220.00,119.40 L221.40,119.18 L223.38,118.89 L225.70,118.53 L228.14,118.15 L230.49,117.77 L232.50,117.42 L234.17,117.14 L235.66,116.90 L237.06,116.66 L238.41,116.38 L239.81,116.01 L241.30,115.50 L242.90,114.86 L244.54,114.12 L246.23,113.29 L247.92,112.38 L249.62,111.40 L251.30,110.36 L253.00,109.21 L254.76,107.92 L256.51,106.56 L258.21,105.19 L259.82,103.89 L261.30,102.72 L262.60,101.68 L263.77,100.71 L264.84,99.80 L265.87,98.95 L266.90,98.13 L268.00,97.33 L269.09,96.58 L270.11,95.91 L271.14,95.26 L272.25,94.61 L273.51,93.92 L275.00,93.17 L276.78,92.34 L278.81,91.45 L280.98,90.53 L283.22,89.59 L285.43,88.66 L287.50,87.75 L289.43,86.85 L291.30,85.96 L293.12,85.06 L294.95,84.18 L296.82,83.31 L298.75,82.46 L300.76,81.63 L302.82,80.82 L304.92,80.02 L307.04,79.24 L309.15,78.48 L311.25,77.74 L313.30,77.02 L315.30,76.31 L317.30,75.63 L319.35,74.96 L321.48,74.31 L323.75,73.67 L326.36,73.00 L329.31,72.31 L332.36,71.64 L335.23,71.02 L337.66,70.50 L339.40,70.12 L339.40,76.08 L337.66,76.38 L335.23,76.77 L332.36,77.24 L329.31,77.76 L326.36,78.30 L323.75,78.83 L321.48,79.36 L319.35,79.90 L317.30,80.46 L315.30,81.04 L313.30,81.64 L311.25,82.26 L309.15,82.90 L307.04,83.55 L304.92,84.22 L302.82,84.91 L300.76,85.62 L298.75,86.34 L296.82,87.09 L294.95,87.86 L293.12,88.65 L291.30,89.45 L289.43,90.25 L287.50,91.05 L285.43,91.85 L283.22,92.67 L280.98,93.49 L278.81,94.30 L276.78,95.09 L275.00,95.83 L273.51,96.51 L272.25,97.12 L271.14,97.72 L270.11,98.31 L269.09,98.96 L268.00,99.67 L266.90,100.44 L265.87,101.23 L264.84,102.06 L263.77,102.93 L262.60,103.87 L261.30,104.88 L259.82,106.01 L258.21,107.26 L256.51,108.58 L254.76,109.89 L253.00,111.13 L251.30,112.24 L249.62,113.23 L247.92,114.16 L246.23,115.02 L244.54,115.81 L242.90,116.50 L241.30,117.10 L239.81,117.56 L238.41,117.89 L237.06,118.14 L235.66,118.34 L234.17,118.54 L232.50,118.77 L230.49,119.07 L228.14,119.38 L225.70,119.69 L223.38,119.98 L221.40,120.22 L220.00,120.40 Z" fill="#fbe39a" fill-opacity="0.5" stroke="#fbe39a" stroke-width="0.6" stroke-opacity="0.9"/>
<path d="M220.00,119.40 L221.40,119.17 L223.38,118.85 L225.70,118.47 L228.14,118.06 L230.49,117.66 L232.50,117.29 L234.17,116.98 L235.66,116.73 L237.06,116.47 L238.41,116.18 L239.81,115.79 L241.30,115.27 L242.90,114.61 L244.54,113.85 L246.23,113.00 L247.92,112.07 L249.62,111.07 L251.30,110.02 L252.98,108.87 L254.68,107.62 L256.38,106.30 L258.06,104.94 L259.71,103.59 L261.30,102.29 L262.84,101.03 L264.34,99.76 L265.81,98.50 L267.24,97.24 L268.63,95.97 L270.00,94.71 L271.32,93.45 L272.59,92.19 L273.82,90.93 L275.04,89.67 L276.26,88.41 L277.50,87.15 L278.78,85.87 L280.09,84.58 L281.41,83.29 L282.69,82.01 L283.89,80.77 L285.00,79.58 L285.93,78.51 L286.71,77.56 L287.42,76.64 L288.14,75.67 L288.98,74.57 L290.00,73.24 L291.25,71.64 L292.66,69.83 L294.17,67.88 L295.73,65.87 L297.30,63.87 L298.80,61.96 L300.24,60.14 L301.66,58.35 L303.08,56.57 L304.51,54.80 L305.98,53.00 L307.50,51.18 L309.11,49.30 L310.78,47.37 L312.49,45.42 L314.21,43.50 L315.89,41.64 L317.50,39.90 L319.05,38.24 L320.57,36.64 L322.06,35.11 L323.51,33.65 L324.92,32.29 L326.30,31.02 L327.64,29.87 L328.95,28.82 L330.23,27.85 L331.46,26.97 L332.65,26.14 L333.80,25.35 L334.96,24.60 L336.13,23.88 L337.27,23.22 L338.30,22.64 L339.16,22.16 L339.80,21.80 L339.80,26.20 L339.16,26.55 L338.30,27.01 L337.27,27.58 L336.13,28.21 L334.96,28.91 L333.80,29.65 L332.65,30.41 L331.46,31.22 L330.23,32.08 L328.95,33.02 L327.64,34.05 L326.30,35.18 L324.92,36.42 L323.51,37.76 L322.06,39.19 L320.57,40.70 L319.05,42.27 L317.50,43.90 L315.89,45.62 L314.21,47.45 L312.49,49.34 L310.78,51.26 L309.11,53.16 L307.50,55.02 L305.98,56.81 L304.51,58.57 L303.08,60.33 L301.66,62.08 L300.24,63.85 L298.80,65.64 L297.30,67.52 L295.73,69.49 L294.17,71.47 L292.66,73.40 L291.25,75.18 L290.00,76.76 L288.98,78.07 L288.14,79.16 L287.42,80.12 L286.71,81.03 L285.93,81.96 L285.00,83.02 L283.89,84.19 L282.69,85.41 L281.41,86.66 L280.09,87.93 L278.78,89.20 L277.50,90.45 L276.26,91.69 L275.04,92.93 L273.82,94.17 L272.59,95.41 L271.32,96.65 L270.00,97.89 L268.63,99.13 L267.24,100.36 L265.81,101.60 L264.34,102.84 L262.84,104.07 L261.30,105.31 L259.71,106.57 L258.06,107.84 L256.38,109.12 L254.68,110.35 L252.98,111.52 L251.30,112.58 L249.62,113.56 L247.92,114.47 L246.23,115.31 L244.54,116.08 L242.90,116.75 L241.30,117.33 L239.81,117.78 L238.41,118.10 L237.06,118.33 L235.66,118.51 L234.17,118.69 L232.50,118.91 L230.49,119.18 L228.14,119.47 L225.70,119.76 L223.38,120.02 L221.40,120.24 L220.00,120.40 Z" fill="#f4a3a0" fill-opacity="0.5" stroke="#f4a3a0" stroke-width="0.6" stroke-opacity="0.9"/>
<path d="M220.00,119.90 L221.40,119.70 L223.38,119.42 L225.70,119.09 L228.14,118.74 L230.49,118.40 L232.50,118.10 L234.21,117.82 L235.79,117.53 L237.26,117.26 L238.66,117.00 L240.00,116.78 L241.30,116.60 L242.25,116.48 L242.75,116.40 L243.20,116.36 L243.97,116.34 L245.44,116.32 L248.00,116.30 L251.55,116.27 L255.78,116.25 L260.71,116.23 L266.37,116.23 L272.79,116.23 L280.00,116.25 L289.00,116.29 L299.97,116.35 L311.70,116.42 L322.99,116.49 L332.62,116.56 L339.40,116.60" fill="none" stroke="#6b3fa0" stroke-width="1.3" stroke-linejoin="round" stroke-linecap="round"/>
<path d="M220.00,119.90 L221.40,119.70 L223.38,119.43 L225.70,119.11 L228.14,118.77 L230.49,118.42 L232.50,118.10 L234.19,117.81 L235.75,117.53 L237.20,117.26 L238.59,116.97 L239.94,116.65 L241.30,116.30 L242.66,115.89 L243.97,115.44 L245.26,114.96 L246.53,114.48 L247.77,114.02 L249.00,113.60 L250.01,113.21 L250.76,112.82 L251.48,112.45 L252.43,112.12 L253.86,111.83 L256.00,111.60 L258.61,111.44 L261.43,111.34 L264.72,111.28 L268.75,111.25 L273.75,111.25 L280.00,111.25 L288.54,111.27 L299.38,111.33 L311.20,111.40 L322.69,111.48 L332.53,111.55 L339.40,111.60" fill="none" stroke="#2f6db5" stroke-width="1.3" stroke-linejoin="round" stroke-linecap="round"/>
<path d="M220.00,119.90 L221.40,119.70 L223.38,119.43 L225.70,119.11 L228.14,118.77 L230.49,118.42 L232.50,118.10 L234.17,117.84 L235.66,117.62 L237.06,117.40 L238.41,117.14 L239.81,116.79 L241.30,116.30 L242.96,115.63 L244.74,114.80 L246.56,113.88 L248.31,112.94 L249.93,112.05 L251.30,111.30 L252.36,110.68 L253.17,110.15 L253.84,109.67 L254.46,109.23 L255.14,108.78 L256.00,108.30 L257.01,107.78 L258.09,107.24 L259.23,106.71 L260.43,106.19 L261.69,105.71 L263.00,105.30 L264.28,104.95 L265.52,104.66 L266.81,104.41 L268.26,104.19 L269.96,103.99 L272.00,103.80 L274.51,103.63 L277.44,103.48 L280.62,103.36 L283.89,103.25 L287.07,103.17 L290.00,103.10 L292.45,103.05 L294.50,103.01 L296.47,103.00 L298.67,103.01 L301.41,103.04 L305.00,103.10 L310.01,103.21 L316.30,103.37 L323.14,103.55 L329.76,103.73 L335.43,103.89 L339.40,104.00" fill="none" stroke="#2fa84f" stroke-width="1.3" stroke-linejoin="round" stroke-linecap="round"/>
<path d="M220.00,119.90 L221.40,119.70 L223.38,119.43 L225.70,119.11 L228.14,118.77 L230.49,118.42 L232.50,118.10 L234.17,117.84 L235.66,117.62 L237.06,117.40 L238.41,117.14 L239.81,116.79 L241.30,116.30 L242.90,115.68 L244.54,114.96 L246.23,114.16 L247.92,113.27 L249.62,112.32 L251.30,111.30 L253.00,110.17 L254.76,108.90 L256.51,107.57 L258.21,106.23 L259.82,104.95 L261.30,103.80 L262.60,102.77 L263.77,101.82 L264.84,100.93 L265.87,100.09 L266.90,99.28 L268.00,98.50 L269.09,97.77 L270.11,97.11 L271.14,96.49 L272.25,95.87 L273.51,95.22 L275.00,94.50 L276.78,93.71 L278.81,92.88 L280.98,92.01 L283.22,91.13 L285.43,90.26 L287.50,89.40 L289.43,88.55 L291.30,87.70 L293.12,86.86 L294.95,86.02 L296.82,85.20 L298.75,84.40 L300.76,83.62 L302.82,82.86 L304.92,82.12 L307.04,81.40 L309.15,80.69 L311.25,80.00 L313.30,79.33 L315.30,78.68 L317.30,78.05 L319.35,77.43 L321.48,76.83 L323.75,76.25 L326.36,75.65 L329.31,75.04 L332.36,74.44 L335.23,73.89 L337.66,73.44 L339.40,73.10" fill="none" stroke="#f3c13a" stroke-width="1.3" stroke-linejoin="round" stroke-linecap="round"/>
<path d="M220.00,119.90 L221.40,119.70 L223.38,119.43 L225.70,119.11 L228.14,118.77 L230.49,118.42 L232.50,118.10 L234.17,117.84 L235.66,117.62 L237.06,117.40 L238.41,117.14 L239.81,116.79 L241.30,116.30 L242.90,115.68 L244.54,114.96 L246.23,114.16 L247.92,113.27 L249.62,112.32 L251.30,111.30 L252.98,110.19 L254.68,108.99 L256.38,107.71 L258.06,106.39 L259.71,105.08 L261.30,103.80 L262.84,102.55 L264.34,101.30 L265.81,100.05 L267.24,98.80 L268.63,97.55 L270.00,96.30 L271.32,95.05 L272.59,93.80 L273.82,92.55 L275.04,91.30 L276.26,90.05 L277.50,88.80 L278.78,87.54 L280.09,86.26 L281.41,84.97 L282.69,83.71 L283.89,82.48 L285.00,81.30 L285.93,80.24 L286.71,79.29 L287.42,78.38 L288.14,77.42 L288.98,76.32 L290.00,75.00 L291.25,73.41 L292.66,71.61 L294.17,69.67 L295.73,67.68 L297.30,65.69 L298.80,63.80 L300.24,61.99 L301.66,60.21 L303.08,58.45 L304.51,56.69 L305.98,54.91 L307.50,53.10 L309.11,51.23 L310.78,49.31 L312.49,47.38 L314.21,45.47 L315.89,43.63 L317.50,41.90 L319.05,40.26 L320.57,38.67 L322.06,37.15 L323.51,35.71 L324.92,34.35 L326.30,33.10 L327.64,31.96 L328.95,30.92 L330.23,29.97 L331.46,29.09 L332.65,28.27 L333.80,27.50 L334.96,26.75 L336.13,26.05 L337.27,25.40 L338.30,24.83 L339.16,24.36 L339.80,24.00" fill="none" stroke="#e3342f" stroke-width="1.5" stroke-linejoin="round" stroke-linecap="round"/>
<text x="216.00" y="124.40" font-size="8.2" text-anchor="end" fill="#111" font-weight="bold" textLength="11.20" lengthAdjust="spacingAndGlyphs" >0.0</text>
<text x="216.00" y="78.29" font-size="8.2" text-anchor="end" fill="#111" font-weight="bold" textLength="11.20" lengthAdjust="spacingAndGlyphs" >0.3</text>
<text x="216.00" y="32.17" font-size="8.2" text-anchor="end" fill="#111" font-weight="bold" textLength="11.20" lengthAdjust="spacingAndGlyphs" >0.6</text>
<text x="219.80" y="133.50" font-size="8.2" text-anchor="middle" fill="#111" font-weight="bold" textLength="4.60" lengthAdjust="spacingAndGlyphs" >0</text>
<text x="279.80" y="133.50" font-size="8.2" text-anchor="middle" fill="#111" font-weight="bold" textLength="13.00" lengthAdjust="spacingAndGlyphs" >180</text>
<text x="339.50" y="133.50" font-size="8.2" text-anchor="middle" fill="#111" font-weight="bold" textLength="13.00" lengthAdjust="spacingAndGlyphs" >360</text>
<text x="277.70" y="143.75" font-size="8.8" text-anchor="middle" fill="#111" font-weight="bold" textLength="42.00" lengthAdjust="spacingAndGlyphs" >Time (min)</text>
<text x="185.80" y="67.20" font-size="8.6" text-anchor="middle" fill="#111" font-weight="bold" textLength="46.00" lengthAdjust="spacingAndGlyphs" transform="rotate(-90.00 185.80 67.20)" >Normalized</text>
<text x="196.20" y="68.50" font-size="8.6" text-anchor="middle" fill="#111" font-weight="bold" textLength="90.00" lengthAdjust="spacingAndGlyphs" transform="rotate(-90.00 196.20 68.50)" >grayscale value (a.u.)</text>
<line x1="224.30" y1="15.00" x2="231.80" y2="15.00" stroke="#e3342f" stroke-width="1.8" />
<text x="235.60" y="17.80" font-size="8.4" text-anchor="start" fill="#111" font-weight="bold" textLength="39.15" lengthAdjust="spacingAndGlyphs" >0.1 μg/mL</text>
<line x1="224.30" y1="24.50" x2="231.80" y2="24.50" stroke="#f3c13a" stroke-width="1.8" />
<text x="235.60" y="27.30" font-size="8.4" text-anchor="start" fill="#111" font-weight="bold" textLength="39.15" lengthAdjust="spacingAndGlyphs" >0.3 μg/mL</text>
<line x1="224.30" y1="34.00" x2="231.80" y2="34.00" stroke="#2fa84f" stroke-width="1.8" />
<text x="235.60" y="36.80" font-size="8.4" text-anchor="start" fill="#111" font-weight="bold" textLength="39.15" lengthAdjust="spacingAndGlyphs" >0.9 μg/mL</text>
<line x1="224.30" y1="43.50" x2="231.80" y2="43.50" stroke="#2f6db5" stroke-width="1.8" />
<text x="235.60" y="46.30" font-size="8.4" text-anchor="start" fill="#111" font-weight="bold" textLength="39.15" lengthAdjust="spacingAndGlyphs" >2.0 μg/mL</text>
<line x1="224.30" y1="53.00" x2="231.80" y2="53.00" stroke="#6b3fa0" stroke-width="1.8" />
<text x="235.60" y="55.80" font-size="8.4" text-anchor="start" fill="#111" font-weight="bold" textLength="39.15" lengthAdjust="spacingAndGlyphs" >3.9 μg/mL</text>
<line x1="390.00" y1="13.40" x2="390.00" y2="121.60" stroke="#383838" stroke-width="1.3" />
<line x1="389.40" y1="121.00" x2="510.00" y2="121.00" stroke="#383838" stroke-width="1.3" />
<line x1="387.80" y1="121.00" x2="390.00" y2="121.00" stroke="#383838" stroke-width="0.9" />
<line x1="387.80" y1="74.89" x2="390.00" y2="74.89" stroke="#383838" stroke-width="0.9" />
<line x1="387.80" y1="28.77" x2="390.00" y2="28.77" stroke="#383838" stroke-width="0.9" />
<line x1="387.80" y1="97.94" x2="390.00" y2="97.94" stroke="#383838" stroke-width="0.9" />
<line x1="387.80" y1="51.83" x2="390.00" y2="51.83" stroke="#383838" stroke-width="0.9" />
<line x1="420.00" y1="121.00" x2="420.00" y2="123.00" stroke="#383838" stroke-width="0.9" />
<line x1="450.00" y1="121.00" x2="450.00" y2="123.00" stroke="#383838" stroke-width="0.9" />
<line x1="480.00" y1="121.00" x2="480.00" y2="123.00" stroke="#383838" stroke-width="0.9" />
<line x1="510.00" y1="121.00" x2="510.00" y2="123.00" stroke="#383838" stroke-width="0.9" />
<path d="M390.40,118.50 L416.48,118.46 L450.00,118.40 L483.48,118.29 L509.50,118.20 L509.50,119.80 L483.48,119.89 L450.00,120.00 L416.48,120.06 L390.40,120.10 Z" fill="#8a90c0" fill-opacity="0.5" stroke="#8a90c0" stroke-width="0.6" stroke-opacity="0.9"/>
<path d="M390.40,115.60 L403.32,115.65 L420.00,115.70 L433.13,115.73 L450.00,115.70 L481.62,115.50 L509.50,115.30 L509.50,120.10 L481.62,120.11 L450.00,120.10 L433.13,120.02 L420.00,119.90 L403.32,119.74 L390.40,119.60 Z" fill="#a9cdee" fill-opacity="0.7" stroke="#a9cdee" stroke-width="0.6" stroke-opacity="0.9"/>
<path d="M390.40,102.47 L392.85,103.06 L396.00,103.90 L398.76,105.24 L401.60,105.93 L404.75,104.59 L407.90,103.24 L410.47,104.07 L413.50,105.56 L418.07,106.93 L423.50,108.05 L428.88,108.77 L436.00,109.46 L445.69,110.21 L460.00,111.33 L486.25,113.63 L509.50,115.69 L509.50,117.31 L486.25,115.86 L460.00,114.27 L445.69,113.53 L436.00,113.04 L428.88,112.53 L423.50,111.95 L418.07,111.25 L413.50,110.64 L410.47,109.65 L407.90,109.26 L404.75,111.14 L401.60,112.87 L398.76,111.70 L396.00,109.90 L392.85,108.53 L390.40,107.53 Z" fill="#b7e0a0" fill-opacity="0.5" stroke="#b7e0a0" stroke-width="0.6" stroke-opacity="0.9"/>
<path d="M390.40,64.22 L391.09,67.91 L392.25,72.81 L394.01,77.74 L396.00,82.50 L397.95,86.04 L399.75,89.06 L401.00,91.90 L402.25,94.13 L403.81,95.40 L406.00,96.50 L409.52,98.67 L413.50,100.86 L416.78,102.56 L421.00,104.42 L428.32,107.26 L436.00,109.44 L441.06,110.13 L446.30,110.40 L454.13,110.86 L462.70,111.40 L471.06,112.24 L479.00,113.11 L485.44,113.70 L492.00,114.29 L501.41,115.22 L509.20,116.00 L509.20,118.00 L501.41,117.32 L492.00,116.51 L485.44,116.00 L479.00,115.49 L471.06,114.73 L462.70,114.00 L454.13,113.56 L446.30,113.20 L441.06,112.99 L436.00,112.36 L428.32,110.51 L421.00,108.77 L416.78,107.55 L413.50,106.34 L409.52,104.79 L406.00,103.50 L403.81,102.95 L402.25,102.07 L401.00,99.40 L399.75,95.94 L397.95,92.01 L396.00,87.50 L394.01,82.41 L392.25,77.19 L391.09,72.09 L390.40,68.28 Z" fill="#f7bf98" fill-opacity="0.5" stroke="#f7bf98" stroke-width="0.6" stroke-opacity="0.9"/>
<path d="M390.30,21.67 L391.11,28.25 L392.20,36.82 L393.38,44.87 L394.50,52.83 L395.24,60.27 L396.00,67.25 L397.15,73.30 L398.50,79.54 L400.01,88.24 L401.60,95.53 L403.17,96.51 L404.75,95.38 L406.17,94.96 L407.90,95.88 L410.43,98.20 L413.50,100.71 L417.04,102.62 L421.00,104.40 L425.46,106.01 L430.00,107.50 L434.16,108.67 L438.20,109.62 L441.74,110.05 L446.30,110.34 L453.99,110.80 L462.70,111.38 L471.06,112.20 L479.00,113.02 L486.11,113.58 L492.00,114.16 L495.45,115.08 L498.60,115.87 L504.31,115.99 L509.20,115.90 L509.20,117.90 L504.31,118.02 L498.60,117.93 L495.45,117.16 L492.00,116.25 L486.11,115.70 L479.00,115.18 L471.06,114.39 L462.70,113.62 L453.99,113.08 L446.30,112.66 L441.74,112.39 L438.20,111.98 L434.16,111.05 L430.00,109.90 L425.46,109.07 L421.00,108.10 L417.04,106.89 L413.50,105.49 L410.43,103.99 L407.90,102.93 L406.17,102.88 L404.75,102.12 L403.17,101.69 L401.60,99.47 L400.01,91.91 L398.50,82.96 L397.15,76.49 L396.00,70.25 L395.24,63.14 L394.50,55.58 L393.38,47.43 L392.20,39.18 L391.11,30.43 L390.30,23.73 Z" fill="#f1a0a0" fill-opacity="0.5" stroke="#f1a0a0" stroke-width="0.6" stroke-opacity="0.9"/>
<path d="M390.40,119.30 L416.48,119.26 L450.00,119.20 L483.48,119.09 L509.50,119.00" fill="none" stroke="#1f2869" stroke-width="1.3" stroke-linejoin="round" stroke-linecap="round"/>
<path d="M390.40,117.60 L403.32,117.69 L420.00,117.80 L433.13,117.88 L450.00,117.90 L481.62,117.81 L509.50,117.70" fill="none" stroke="#5ea3d9" stroke-width="1.3" stroke-linejoin="round" stroke-linecap="round"/>
<path d="M390.40,105.00 L392.85,105.79 L396.00,106.90 L398.76,108.47 L401.60,109.40 L404.75,107.87 L407.90,106.25 L410.47,106.86 L413.50,108.10 L418.07,109.09 L423.50,110.00 L428.88,110.65 L436.00,111.25 L445.69,111.87 L460.00,112.80 L486.25,114.75 L509.50,116.50" fill="none" stroke="#5cab3c" stroke-width="1.3" stroke-linejoin="round" stroke-linecap="round"/>
<path d="M390.40,66.25 L391.09,70.00 L392.25,75.00 L394.01,80.08 L396.00,85.00 L397.95,89.02 L399.75,92.50 L401.00,95.65 L402.25,98.10 L403.81,99.17 L406.00,100.00 L409.52,101.73 L413.50,103.60 L416.78,105.06 L421.00,106.60 L428.32,108.88 L436.00,110.90 L441.06,111.56 L446.30,111.80 L454.13,112.21 L462.70,112.70 L471.06,113.49 L479.00,114.30 L485.44,114.85 L492.00,115.40 L501.41,116.27 L509.20,117.00" fill="none" stroke="#ea7d3c" stroke-width="1.3" stroke-linejoin="round" stroke-linecap="round"/>
<path d="M390.30,22.70 L391.11,29.34 L392.20,38.00 L393.38,46.15 L394.50,54.20 L395.24,61.71 L396.00,68.75 L397.15,74.89 L398.50,81.25 L400.01,90.08 L401.60,97.50 L403.17,99.10 L404.75,98.75 L406.17,98.92 L407.90,99.40 L410.43,101.09 L413.50,103.10 L417.04,104.75 L421.00,106.25 L425.46,107.54 L430.00,108.70 L434.16,109.86 L438.20,110.80 L441.74,111.22 L446.30,111.50 L453.99,111.94 L462.70,112.50 L471.06,113.29 L479.00,114.10 L486.11,114.64 L492.00,115.20 L495.45,116.12 L498.60,116.90 L504.31,117.01 L509.20,116.90" fill="none" stroke="#c81e2a" stroke-width="1.8" stroke-linejoin="round" stroke-linecap="round"/>
<text x="386.20" y="124.40" font-size="8.2" text-anchor="end" fill="#111" font-weight="bold" textLength="11.20" lengthAdjust="spacingAndGlyphs" >0.0</text>
<text x="386.20" y="78.29" font-size="8.2" text-anchor="end" fill="#111" font-weight="bold" textLength="11.20" lengthAdjust="spacingAndGlyphs" >0.3</text>
<text x="386.20" y="32.17" font-size="8.2" text-anchor="end" fill="#111" font-weight="bold" textLength="11.20" lengthAdjust="spacingAndGlyphs" >0.6</text>
<text x="389.30" y="133.50" font-size="8.2" text-anchor="middle" fill="#111" font-weight="bold" textLength="10.80" lengthAdjust="spacingAndGlyphs" >0.1</text>
<text x="450.00" y="133.50" font-size="8.2" text-anchor="middle" fill="#111" font-weight="bold" textLength="15.40" lengthAdjust="spacingAndGlyphs" >2.00</text>
<text x="508.70" y="133.50" font-size="8.2" text-anchor="middle" fill="#111" font-weight="bold" textLength="15.80" lengthAdjust="spacingAndGlyphs" >3.90</text>
<text x="449.60" y="143.75" font-size="8.8" text-anchor="middle" fill="#111" font-weight="bold" textLength="97.50" lengthAdjust="spacingAndGlyphs" >Concentration (μg·mL<tspan dy="-3" font-size="5.5">-1</tspan><tspan dy="3">)</tspan></text>
<text x="354.80" y="66.30" font-size="8.6" text-anchor="middle" fill="#111" font-weight="bold" textLength="46.00" lengthAdjust="spacingAndGlyphs" transform="rotate(-90.00 354.80 66.30)" >Normalized</text>
<text x="365.80" y="68.30" font-size="8.6" text-anchor="middle" fill="#111" font-weight="bold" textLength="90.00" lengthAdjust="spacingAndGlyphs" transform="rotate(-90.00 365.80 68.30)" >grayscale value (a.u.)</text>
<line x1="466.90" y1="14.40" x2="474.40" y2="14.40" stroke="#c81e2a" stroke-width="1.8" />
<text x="509.00" y="17.20" font-size="8.3" text-anchor="end" fill="#111" font-weight="bold" >360 min</text>
<line x1="466.90" y1="24.00" x2="474.40" y2="24.00" stroke="#ea7d3c" stroke-width="1.8" />
<text x="509.00" y="26.80" font-size="8.3" text-anchor="end" fill="#111" font-weight="bold" >240 min</text>
<line x1="466.90" y1="33.50" x2="474.40" y2="33.50" stroke="#5cab3c" stroke-width="1.8" />
<text x="509.00" y="36.30" font-size="8.3" text-anchor="end" fill="#111" font-weight="bold" >120 min</text>
<line x1="466.90" y1="43.00" x2="474.40" y2="43.00" stroke="#5ea3d9" stroke-width="1.8" />
<text x="509.00" y="45.80" font-size="8.3" text-anchor="end" fill="#111" font-weight="bold" >60 min</text>
<line x1="466.90" y1="52.50" x2="474.40" y2="52.50" stroke="#1f2869" stroke-width="1.8" />
<text x="509.00" y="55.30" font-size="8.3" text-anchor="end" fill="#111" font-weight="bold" >30 min</text>
</g>
<g transform="translate(0 150.8)">
<text x="0.50" y="8.20" font-size="9.6" text-anchor="start" fill="#111" font-weight="bold" textLength="11.50" lengthAdjust="spacingAndGlyphs" >(b)</text>
<text x="20.80" y="8.20" font-size="9.8" text-anchor="start" fill="#111" font-weight="bold" textLength="17.80" lengthAdjust="spacingAndGlyphs" >TET</text>
</g>
<g transform="translate(0 150.5)">
<line x1="41.0" y1="32.80" x2="41.0" y2="93.3" stroke="#383838" stroke-width="1.1"/>
<line x1="38.4" y1="92.80" x2="41.0" y2="92.80" stroke="#383838" stroke-width="1"/>
<line x1="38.4" y1="32.80" x2="41.0" y2="32.80" stroke="#383838" stroke-width="1"/>
<line x1="38.4" y1="62.80" x2="41.0" y2="62.80" stroke="#383838" stroke-width="1"/>
<text x="35.40" y="95.80" font-size="8.2" text-anchor="end" fill="#111" font-weight="bold" textLength="4.60" lengthAdjust="spacingAndGlyphs" >0</text>
<text x="35.00" y="36.40" font-size="8.2" text-anchor="end" fill="#111" font-weight="bold" textLength="11.20" lengthAdjust="spacingAndGlyphs" >0.6</text>
<polyline points="41.0,92.8 100.8,122.6 163.1,92.1" fill="none" stroke="#383838" stroke-width="0.8"/>
<line x1="41.00" y1="92.80" x2="41.00" y2="95.10" stroke="#1a1a1a" stroke-width="1.3"/>
<line x1="55.95" y1="100.25" x2="55.95" y2="102.55" stroke="#1a1a1a" stroke-width="1.3"/>
<line x1="70.90" y1="107.70" x2="70.90" y2="110.00" stroke="#1a1a1a" stroke-width="1.3"/>
<line x1="85.85" y1="115.15" x2="85.85" y2="117.45" stroke="#1a1a1a" stroke-width="1.3"/>
<line x1="100.80" y1="122.60" x2="100.80" y2="124.90" stroke="#1a1a1a" stroke-width="1.3"/>
<line x1="100.80" y1="122.60" x2="100.80" y2="124.90" stroke="#1a1a1a" stroke-width="1.3"/>
<line x1="116.38" y1="114.97" x2="116.38" y2="117.27" stroke="#1a1a1a" stroke-width="1.3"/>
<line x1="131.95" y1="107.35" x2="131.95" y2="109.65" stroke="#1a1a1a" stroke-width="1.3"/>
<line x1="147.52" y1="99.72" x2="147.52" y2="102.02" stroke="#1a1a1a" stroke-width="1.3"/>
<line x1="163.10" y1="92.10" x2="163.10" y2="94.40" stroke="#1a1a1a" stroke-width="1.3"/>
<path class="s0" d="M41.0 91.8L42.3 92.6L44.1 91.7L42.7 90.9ZM42.7 90.9L44.1 91.7L45.8 90.8L44.5 90.0ZM44.5 90.0L45.8 90.8L47.5 89.8L46.2 89.1ZM46.2 89.1L47.5 89.8L49.2 88.9L47.9 88.1ZM47.9 88.1L49.2 88.9L51.0 87.9L49.7 87.0ZM49.7 87.0L51.0 87.9L52.7 86.9L51.4 86.0ZM51.4 86.0L52.7 86.9L54.4 85.9L53.1 84.9ZM53.1 84.9L54.4 85.9L56.2 84.7L54.8 83.6ZM54.8 83.6L56.2 84.7L57.9 83.4L56.6 82.3ZM56.6 82.3L57.9 83.4L59.6 82.1L58.3 81.0ZM58.3 81.0L59.6 82.1L61.4 80.9L60.0 79.7ZM60.0 79.7L61.4 80.9L63.1 79.6L61.8 78.3ZM61.8 78.3L63.1 79.6L64.8 78.3L63.5 76.9ZM63.5 76.9L64.8 78.3L66.5 77.0L65.2 75.4ZM65.2 75.4L66.5 77.0L68.3 75.7L67.5 74.6L65.9 74.9ZM67.5 74.6L68.3 75.7L70.0 74.3L69.9 74.1ZM69.9 74.1L70.0 74.3L70.5 73.9ZM42.3 92.6L44.0 93.4L45.8 92.5L44.1 91.7ZM44.1 91.7L45.8 92.5L47.5 91.6L45.8 90.8ZM45.8 90.8L47.5 91.6L49.2 90.7L47.5 89.8ZM47.5 89.8L49.2 90.7L51.0 89.7L49.2 88.9ZM49.2 88.9L51.0 89.7L52.7 88.8L51.0 87.9ZM51.0 87.9L52.7 88.8L54.4 87.8L52.7 86.9ZM52.7 86.9L54.4 87.8L56.1 86.8L54.4 85.9ZM54.4 85.9L56.1 86.8L57.9 85.5L56.2 84.7ZM56.2 84.7L57.9 85.5L59.6 84.3L57.9 83.4ZM57.9 83.4L59.6 84.3L61.3 83.0L59.6 82.1ZM59.6 82.1L61.3 83.0L63.1 81.7L61.4 80.9ZM61.4 80.9L63.1 81.7L64.8 80.5L63.1 79.6ZM63.1 79.6L64.8 80.5L66.5 79.2L64.8 78.3ZM64.8 78.3L66.5 79.2L68.3 77.9L66.5 77.0ZM66.5 77.0L68.3 77.9L70.0 76.7L68.3 75.7ZM68.3 75.7L70.0 76.7L71.7 75.4L70.0 74.3ZM70.0 74.3L71.7 75.4L73.0 74.4L70.5 73.9ZM44.0 93.4L45.9 94.4L47.7 93.5L45.8 92.5ZM45.8 92.5L47.7 93.5L49.4 92.5L47.5 91.6ZM47.5 91.6L49.4 92.5L51.1 91.6L49.2 90.7ZM49.2 90.7L51.1 91.6L52.9 90.7L51.0 89.7ZM51.0 89.7L52.9 90.7L54.6 89.7L52.7 88.8ZM52.7 88.8L54.6 89.7L56.3 88.8L54.4 87.8ZM54.4 87.8L56.3 88.8L58.0 87.8L56.1 86.8ZM56.1 86.8L58.0 87.8L59.8 86.6L57.9 85.5ZM57.9 85.5L59.8 86.6L61.5 85.3L59.6 84.3ZM59.6 84.3L61.5 85.3L63.2 84.1L61.3 83.0ZM61.3 83.0L63.2 84.1L65.0 82.8L63.1 81.7ZM63.1 81.7L65.0 82.8L66.7 81.6L64.8 80.5ZM64.8 80.5L66.7 81.6L68.4 80.4L66.5 79.2ZM66.5 79.2L68.4 80.4L70.2 79.2L68.3 77.9ZM68.3 77.9L70.2 79.2L71.9 77.9L70.0 76.7ZM70.0 76.7L71.9 77.9L73.6 76.7L71.7 75.4ZM71.7 75.4L73.6 76.7L75.4 75.4L74.0 74.4L73.0 74.4ZM74.0 74.4L75.4 75.4L76.8 74.4ZM45.9 94.4L48.0 95.5L49.7 94.6L47.7 93.5ZM47.7 93.5L49.7 94.6L51.4 93.6L49.4 92.5ZM49.4 92.5L51.4 93.6L53.2 92.7L51.1 91.6ZM51.1 91.6L53.2 92.7L54.9 91.8L52.9 90.7ZM52.9 90.7L54.9 91.8L56.6 90.9L54.6 89.7ZM54.6 89.7L56.6 90.9L58.3 89.9L56.3 88.8ZM56.3 88.8L58.3 89.9L60.1 89.0L58.0 87.8ZM58.0 87.8L60.1 89.0L61.8 87.8L59.8 86.6ZM59.8 86.6L61.8 87.8L63.5 86.7L61.5 85.3ZM61.5 85.3L63.5 86.7L65.3 85.5L63.2 84.1ZM63.2 84.1L65.3 85.5L67.0 84.4L65.0 82.8ZM65.0 82.8L67.0 84.4L68.7 83.2L66.7 81.6ZM66.7 81.6L68.7 83.2L70.5 82.1L68.4 80.4ZM68.4 80.4L70.5 82.1L72.2 81.0L70.2 79.2ZM70.2 79.2L72.2 81.0L73.9 79.8L71.9 77.9ZM71.9 77.9L73.9 79.8L75.7 78.7L73.6 76.7ZM73.6 76.7L75.7 78.7L77.4 77.5L75.4 75.4ZM75.4 75.4L77.4 77.5L79.1 76.4L77.2 74.3L76.8 74.4ZM77.2 74.3L79.1 76.4L80.8 74.9L80.1 74.1ZM80.1 74.1L80.8 74.9L82.3 73.7ZM48.0 95.5L50.1 96.5L51.8 95.6L49.7 94.6ZM49.7 94.6L51.8 95.6L53.6 94.6L51.4 93.6ZM51.4 93.6L53.6 94.6L55.3 93.7L53.2 92.7ZM53.2 92.7L55.3 93.7L57.0 92.8L54.9 91.8ZM54.9 91.8L57.0 92.8L58.8 91.9L56.6 90.9ZM56.6 90.9L58.8 91.9L60.5 90.9L58.3 89.9ZM58.3 89.9L60.5 90.9L62.2 90.0L60.1 89.0ZM60.1 89.0L62.2 90.0L63.9 88.9L61.8 87.8ZM61.8 87.8L63.9 88.9L65.7 87.8L63.5 86.7ZM63.5 86.7L65.7 87.8L67.4 86.6L65.3 85.5ZM65.3 85.5L67.4 86.6L69.1 85.5L67.0 84.4ZM67.0 84.4L69.1 85.5L70.9 84.4L68.7 83.2ZM68.7 83.2L70.9 84.4L72.6 83.3L70.5 82.1ZM70.5 82.1L72.6 83.3L74.3 82.2L72.2 81.0ZM72.2 81.0L74.3 82.2L76.1 81.0L73.9 79.8ZM73.9 79.8L76.1 81.0L77.8 79.9L75.7 78.7ZM75.7 78.7L77.8 79.9L79.5 78.8L77.4 77.5ZM77.4 77.5L79.5 78.8L81.3 77.7L79.1 76.4ZM79.1 76.4L81.3 77.7L83.0 76.3L80.8 74.9ZM80.8 74.9L83.0 76.3L84.7 74.9L83.3 74.0L82.3 73.7ZM83.3 74.0L84.7 74.9L85.3 74.4ZM50.1 96.5L52.3 97.6L54.1 96.6L51.8 95.6ZM51.8 95.6L54.1 96.6L55.8 95.7L53.6 94.6ZM53.6 94.6L55.8 95.7L57.5 94.8L55.3 93.7ZM55.3 93.7L57.5 94.8L59.3 93.9L57.0 92.8ZM57.0 92.8L59.3 93.9L61.0 92.9L58.8 91.9ZM58.8 91.9L61.0 92.9L62.7 92.0L60.5 90.9ZM60.5 90.9L62.7 92.0L64.4 91.1L62.2 90.0ZM62.2 90.0L64.4 91.1L66.2 90.0L63.9 88.9ZM63.9 88.9L66.2 90.0L67.9 88.9L65.7 87.8ZM65.7 87.8L67.9 88.9L69.6 87.8L67.4 86.6ZM67.4 86.6L69.6 87.8L71.4 86.7L69.1 85.5ZM69.1 85.5L71.4 86.7L73.1 85.6L70.9 84.4ZM70.9 84.4L73.1 85.6L74.8 84.5L72.6 83.3ZM72.6 83.3L74.8 84.5L76.6 83.4L74.3 82.2ZM74.3 82.2L76.6 83.4L78.3 82.3L76.1 81.0ZM76.1 81.0L78.3 82.3L80.0 81.2L77.8 79.9ZM77.8 79.9L80.0 81.2L81.7 80.1L79.5 78.8ZM79.5 78.8L81.7 80.1L83.5 79.0L81.3 77.7ZM81.3 77.7L83.5 79.0L85.2 77.6L83.0 76.3ZM83.0 76.3L85.2 77.6L86.9 76.3L84.7 74.9ZM84.7 74.9L86.9 76.3L88.7 74.9L88.6 74.9L85.3 74.4ZM88.6 74.9L88.7 74.9L88.7 74.9ZM52.3 97.6L54.6 98.7L56.4 97.8L54.1 96.6ZM54.1 96.6L56.4 97.8L58.1 96.8L55.8 95.7ZM55.8 95.7L58.1 96.8L59.8 95.9L57.5 94.8ZM57.5 94.8L59.8 95.9L61.6 95.0L59.3 93.9ZM59.3 93.9L61.6 95.0L63.3 94.1L61.0 92.9ZM61.0 92.9L63.3 94.1L65.0 93.1L62.7 92.0ZM62.7 92.0L65.0 93.1L66.7 92.2L64.4 91.1ZM64.4 91.1L66.7 92.2L68.5 91.2L66.2 90.0ZM66.2 90.0L68.5 91.2L70.2 90.1L67.9 88.9ZM67.9 88.9L70.2 90.1L71.9 89.0L69.6 87.8ZM69.6 87.8L71.9 89.0L73.7 87.9L71.4 86.7ZM71.4 86.7L73.7 87.9L75.4 86.9L73.1 85.6ZM73.1 85.6L75.4 86.9L77.1 85.8L74.8 84.5ZM74.8 84.5L77.1 85.8L78.9 84.7L76.6 83.4ZM76.6 83.4L78.9 84.7L80.6 83.7L78.3 82.3ZM78.3 82.3L80.6 83.7L82.3 82.6L80.0 81.2ZM80.0 81.2L82.3 82.6L84.1 81.5L81.7 80.1ZM81.7 80.1L84.1 81.5L85.8 80.4L83.5 79.0ZM83.5 79.0L85.8 80.4L87.5 79.1L85.2 77.6ZM85.2 77.6L87.5 79.1L89.2 77.8L86.9 76.3ZM86.9 76.3L89.2 77.8L91.0 76.5L88.7 74.9ZM88.7 74.9L91.0 76.5L92.3 75.4L88.7 74.9ZM54.6 98.7L57.0 99.9L58.7 99.0L56.4 97.8ZM56.4 97.8L58.7 99.0L60.5 98.0L58.1 96.8ZM58.1 96.8L60.5 98.0L62.2 97.1L59.8 95.9ZM59.8 95.9L62.2 97.1L63.9 96.2L61.6 95.0ZM61.6 95.0L63.9 96.2L65.7 95.2L63.3 94.1ZM63.3 94.1L65.7 95.2L67.4 94.3L65.0 93.1ZM65.0 93.1L67.4 94.3L69.1 93.4L66.7 92.2ZM66.7 92.2L69.1 93.4L70.8 92.4L68.5 91.2ZM68.5 91.2L70.8 92.4L72.6 91.4L70.2 90.1ZM70.2 90.1L72.6 91.4L74.3 90.3L71.9 89.0ZM71.9 89.0L74.3 90.3L76.0 89.2L73.7 87.9ZM73.7 87.9L76.0 89.2L77.8 88.2L75.4 86.9ZM75.4 86.9L77.8 88.2L79.5 87.1L77.1 85.8ZM77.1 85.8L79.5 87.1L81.2 86.1L78.9 84.7ZM78.9 84.7L81.2 86.1L83.0 85.0L80.6 83.7ZM80.6 83.7L83.0 85.0L84.7 84.0L82.3 82.6ZM82.3 82.6L84.7 84.0L86.4 82.9L84.1 81.5ZM84.1 81.5L86.4 82.9L88.2 81.9L85.8 80.4ZM85.8 80.4L88.2 81.9L89.9 80.6L87.5 79.1ZM87.5 79.1L89.9 80.6L91.6 79.3L89.2 77.8ZM89.2 77.8L91.6 79.3L93.3 78.0L91.0 76.5ZM91.0 76.5L93.3 78.0L95.1 76.7L93.5 75.6L92.3 75.4ZM93.5 75.6L95.1 76.7L95.8 76.0ZM57.0 99.9L59.4 101.1L61.2 100.2L58.7 99.0ZM58.7 99.0L61.2 100.2L62.9 99.2L60.5 98.0ZM60.5 98.0L62.9 99.2L64.6 98.3L62.2 97.1ZM62.2 97.1L64.6 98.3L66.4 97.4L63.9 96.2ZM63.9 96.2L66.4 97.4L68.1 96.4L65.7 95.2ZM65.7 95.2L68.1 96.4L69.8 95.5L67.4 94.3ZM67.4 94.3L69.8 95.5L71.5 94.6L69.1 93.4ZM69.1 93.4L71.5 94.6L73.3 93.6L70.8 92.4ZM70.8 92.4L73.3 93.6L75.0 92.6L72.6 91.4ZM72.6 91.4L75.0 92.6L76.7 91.6L74.3 90.3ZM74.3 90.3L76.7 91.6L78.5 90.5L76.0 89.2ZM76.0 89.2L78.5 90.5L80.2 89.5L77.8 88.2ZM77.8 88.2L80.2 89.5L81.9 88.5L79.5 87.1ZM79.5 87.1L81.9 88.5L83.7 87.4L81.2 86.1ZM81.2 86.1L83.7 87.4L85.4 86.4L83.0 85.0ZM83.0 85.0L85.4 86.4L87.1 85.3L84.7 84.0ZM84.7 84.0L87.1 85.3L88.9 84.3L86.4 82.9ZM86.4 82.9L88.9 84.3L90.6 83.3L88.2 81.9ZM88.2 81.9L90.6 83.3L92.3 82.0L89.9 80.6ZM89.9 80.6L92.3 82.0L94.0 80.8L91.6 79.3ZM91.6 79.3L94.0 80.8L95.8 79.5L93.3 78.0ZM93.3 78.0L95.8 79.5L97.5 78.2L95.1 76.7ZM95.1 76.7L97.5 78.2L99.2 76.8L99.1 76.7L95.8 76.0ZM99.1 76.7L99.2 76.8L99.3 76.7ZM59.4 101.1L61.9 102.3L63.6 101.4L61.2 100.2ZM61.2 100.2L63.6 101.4L65.4 100.5L62.9 99.2ZM62.9 99.2L65.4 100.5L67.1 99.5L64.6 98.3ZM64.6 98.3L67.1 99.5L68.8 98.6L66.4 97.4ZM66.4 97.4L68.8 98.6L70.6 97.7L68.1 96.4ZM68.1 96.4L70.6 97.7L72.3 96.7L69.8 95.5ZM69.8 95.5L72.3 96.7L74.0 95.8L71.5 94.6ZM71.5 94.6L74.0 95.8L75.8 94.8L73.3 93.6ZM73.3 93.6L75.8 94.8L77.5 93.9L75.0 92.6ZM75.0 92.6L77.5 93.9L79.2 92.8L76.7 91.6ZM76.7 91.6L79.2 92.8L81.0 91.8L78.5 90.5ZM78.5 90.5L81.0 91.8L82.7 90.8L80.2 89.5ZM80.2 89.5L82.7 90.8L84.4 89.8L81.9 88.5ZM81.9 88.5L84.4 89.8L86.1 88.7L83.7 87.4ZM83.7 87.4L86.1 88.7L87.9 87.7L85.4 86.4ZM85.4 86.4L87.9 87.7L89.6 86.7L87.1 85.3ZM87.1 85.3L89.6 86.7L91.3 85.7L88.9 84.3ZM88.9 84.3L91.3 85.7L93.1 84.6L90.6 83.3ZM90.6 83.3L93.1 84.6L94.8 83.4L92.3 82.0ZM92.3 82.0L94.8 83.4L96.5 82.2L94.0 80.8ZM94.0 80.8L96.5 82.2L98.3 80.9L95.8 79.5ZM95.8 79.5L98.3 80.9L100.0 79.7L97.5 78.2ZM97.5 78.2L100.0 79.7L101.7 78.3L99.2 76.8ZM99.2 76.8L101.7 78.3L102.6 77.6L99.3 76.7ZM61.9 102.3L64.4 103.6L66.2 102.7L63.6 101.4ZM63.6 101.4L66.2 102.7L67.9 101.8L65.4 100.5ZM65.4 100.5L67.9 101.8L69.6 100.9L67.1 99.5ZM67.1 99.5L69.6 100.9L71.4 99.9L68.8 98.6ZM68.8 98.6L71.4 99.9L73.1 99.0L70.6 97.7ZM70.6 97.7L73.1 99.0L74.8 98.1L72.3 96.7ZM72.3 96.7L74.8 98.1L76.6 97.2L74.0 95.8ZM74.0 95.8L76.6 97.2L78.3 96.2L75.8 94.8ZM75.8 94.8L78.3 96.2L80.0 95.3L77.5 93.9ZM77.5 93.9L80.0 95.3L81.8 94.3L79.2 92.8ZM79.2 92.8L81.8 94.3L83.5 93.3L81.0 91.8ZM81.0 91.8L83.5 93.3L85.2 92.3L82.7 90.8ZM82.7 90.8L85.2 92.3L86.9 91.3L84.4 89.8ZM84.4 89.8L86.9 91.3L88.7 90.3L86.1 88.7ZM86.1 88.7L88.7 90.3L90.4 89.3L87.9 87.7ZM87.9 87.7L90.4 89.3L92.1 88.3L89.6 86.7ZM89.6 86.7L92.1 88.3L93.9 87.3L91.3 85.7ZM91.3 85.7L93.9 87.3L95.6 86.2L93.1 84.6ZM93.1 84.6L95.6 86.2L97.3 85.1L94.8 83.4ZM94.8 83.4L97.3 85.1L99.1 83.9L96.5 82.2ZM96.5 82.2L99.1 83.9L100.8 82.7L98.3 80.9ZM98.3 80.9L100.8 82.7L102.5 81.5L100.0 79.7ZM100.0 79.7L102.5 81.5L104.3 80.2L101.7 78.3ZM101.7 78.3L104.3 80.2L106.0 78.9L104.3 77.6L102.6 77.6ZM104.3 77.6L106.0 78.9L107.7 77.6ZM64.4 103.6L67.0 105.0L68.8 104.1L66.2 102.7ZM66.2 102.7L68.8 104.1L70.5 103.2L67.9 101.8ZM67.9 101.8L70.5 103.2L72.2 102.2L69.6 100.9ZM69.6 100.9L72.2 102.2L74.0 101.3L71.4 99.9ZM71.4 99.9L74.0 101.3L75.7 100.4L73.1 99.0ZM73.1 99.0L75.7 100.4L77.4 99.5L74.8 98.1ZM74.8 98.1L77.4 99.5L79.1 98.6L76.6 97.2ZM76.6 97.2L79.1 98.6L80.9 97.6L78.3 96.2ZM78.3 96.2L80.9 97.6L82.6 96.7L80.0 95.3ZM80.0 95.3L82.6 96.7L84.3 95.7L81.8 94.3ZM81.8 94.3L84.3 95.7L86.1 94.8L83.5 93.3ZM83.5 93.3L86.1 94.8L87.8 93.8L85.2 92.3ZM85.2 92.3L87.8 93.8L89.5 92.8L86.9 91.3ZM86.9 91.3L89.5 92.8L91.3 91.8L88.7 90.3ZM88.7 90.3L91.3 91.8L93.0 90.8L90.4 89.3ZM90.4 89.3L93.0 90.8L94.7 89.8L92.1 88.3ZM92.1 88.3L94.7 89.8L96.4 88.9L93.9 87.3ZM93.9 87.3L96.4 88.9L98.2 87.9L95.6 86.2ZM95.6 86.2L98.2 87.9L99.9 86.7L97.3 85.1ZM97.3 85.1L99.9 86.7L101.6 85.6L99.1 83.9ZM99.1 83.9L101.6 85.6L103.4 84.5L100.8 82.7ZM100.8 82.7L103.4 84.5L105.1 83.3L102.5 81.5ZM102.5 81.5L105.1 83.3L106.8 82.1L104.3 80.2ZM104.3 80.2L106.8 82.1L108.6 80.8L106.0 78.9ZM106.0 78.9L108.6 80.8L110.3 79.6L107.7 77.6L107.7 77.6ZM107.7 77.6L110.3 79.6L112.0 78.2L111.3 77.6ZM111.3 77.6L112.0 78.2L112.7 77.7ZM67.0 105.0L69.7 106.3L71.4 105.4L68.8 104.1ZM68.8 104.1L71.4 105.4L73.1 104.4L70.5 103.2ZM70.5 103.2L73.1 104.4L74.8 103.5L72.2 102.2ZM72.2 102.2L74.8 103.5L76.6 102.6L74.0 101.3ZM74.0 101.3L76.6 102.6L78.3 101.7L75.7 100.4ZM75.7 100.4L78.3 101.7L80.0 100.8L77.4 99.5ZM77.4 99.5L80.0 100.8L81.8 99.8L79.1 98.6ZM79.1 98.6L81.8 99.8L83.5 98.9L80.9 97.6ZM80.9 97.6L83.5 98.9L85.2 98.0L82.6 96.7ZM82.6 96.7L85.2 98.0L87.0 97.0L84.3 95.7ZM84.3 95.7L87.0 97.0L88.7 96.0L86.1 94.8ZM86.1 94.8L88.7 96.0L90.4 95.1L87.8 93.8ZM87.8 93.8L90.4 95.1L92.2 94.1L89.5 92.8ZM89.5 92.8L92.2 94.1L93.9 93.1L91.3 91.8ZM91.3 91.8L93.9 93.1L95.6 92.1L93.0 90.8ZM93.0 90.8L95.6 92.1L97.3 91.2L94.7 89.8ZM94.7 89.8L97.3 91.2L99.1 90.2L96.4 88.9ZM96.4 88.9L99.1 90.2L100.8 89.2L98.2 87.9ZM98.2 87.9L100.8 89.2L102.5 88.1L99.9 86.7ZM99.9 86.7L102.5 88.1L104.3 87.0L101.6 85.6ZM101.6 85.6L104.3 87.0L106.0 85.9L103.4 84.5ZM103.4 84.5L106.0 85.9L107.7 84.7L105.1 83.3ZM105.1 83.3L107.7 84.7L109.5 83.5L106.8 82.1ZM106.8 82.1L109.5 83.5L111.2 82.3L108.6 80.8ZM108.6 80.8L111.2 82.3L112.9 81.1L110.3 79.6ZM110.3 79.6L112.9 81.1L114.6 79.8L112.0 78.2ZM112.0 78.2L114.6 79.8L116.3 78.5L112.7 77.7ZM69.7 106.3L72.3 107.6L74.0 106.6L71.4 105.4ZM71.4 105.4L74.0 106.6L75.8 105.7L73.1 104.4ZM73.1 104.4L75.8 105.7L77.5 104.8L74.8 103.5ZM74.8 103.5L77.5 104.8L79.2 103.9L76.6 102.6ZM76.6 102.6L79.2 103.9L81.0 102.9L78.3 101.7ZM78.3 101.7L81.0 102.9L82.7 102.0L80.0 100.8ZM80.0 100.8L82.7 102.0L84.4 101.1L81.8 99.8ZM81.8 99.8L84.4 101.1L86.2 100.2L83.5 98.9ZM83.5 98.9L86.2 100.2L87.9 99.2L85.2 98.0ZM85.2 98.0L87.9 99.2L89.6 98.3L87.0 97.0ZM87.0 97.0L89.6 98.3L91.4 97.3L88.7 96.0ZM88.7 96.0L91.4 97.3L93.1 96.3L90.4 95.1ZM90.4 95.1L93.1 96.3L94.8 95.3L92.2 94.1ZM92.2 94.1L94.8 95.3L96.5 94.4L93.9 93.1ZM93.9 93.1L96.5 94.4L98.3 93.4L95.6 92.1ZM95.6 92.1L98.3 93.4L100.0 92.4L97.3 91.2ZM97.3 91.2L100.0 92.4L101.7 91.4L99.1 90.2ZM99.1 90.2L101.7 91.4L103.5 90.5L100.8 89.2ZM100.8 89.2L103.5 90.5L105.2 89.4L102.5 88.1ZM102.5 88.1L105.2 89.4L106.9 88.3L104.3 87.0ZM104.3 87.0L106.9 88.3L108.7 87.2L106.0 85.9ZM106.0 85.9L108.7 87.2L110.4 86.0L107.7 84.7ZM107.7 84.7L110.4 86.0L112.1 84.9L109.5 83.5ZM109.5 83.5L112.1 84.9L113.9 83.7L111.2 82.3ZM111.2 82.3L113.9 83.7L115.6 82.5L112.9 81.1ZM112.9 81.1L115.6 82.5L117.3 81.3L114.6 79.8ZM114.6 79.8L117.3 81.3L119.0 79.9L116.7 78.6L116.3 78.5ZM116.7 78.6L119.0 79.9L119.5 79.6ZM72.3 107.6L75.0 108.9L76.8 108.0L74.0 106.6ZM74.0 106.6L76.8 108.0L78.5 107.1L75.8 105.7ZM75.8 105.7L78.5 107.1L80.2 106.1L77.5 104.8ZM77.5 104.8L80.2 106.1L81.9 105.2L79.2 103.9ZM79.2 103.9L81.9 105.2L83.7 104.3L81.0 102.9ZM81.0 102.9L83.7 104.3L85.4 103.4L82.7 102.0ZM82.7 102.0L85.4 103.4L87.1 102.4L84.4 101.1ZM84.4 101.1L87.1 102.4L88.9 101.5L86.2 100.2ZM86.2 100.2L88.9 101.5L90.6 100.6L87.9 99.2ZM87.9 99.2L90.6 100.6L92.3 99.6L89.6 98.3ZM89.6 98.3L92.3 99.6L94.1 98.6L91.4 97.3ZM91.4 97.3L94.1 98.6L95.8 97.7L93.1 96.3ZM93.1 96.3L95.8 97.7L97.5 96.7L94.8 95.3ZM94.8 95.3L97.5 96.7L99.2 95.8L96.5 94.4ZM96.5 94.4L99.2 95.8L101.0 94.8L98.3 93.4ZM98.3 93.4L101.0 94.8L102.7 93.8L100.0 92.4ZM100.0 92.4L102.7 93.8L104.4 92.9L101.7 91.4ZM101.7 91.4L104.4 92.9L106.2 91.9L103.5 90.5ZM103.5 90.5L106.2 91.9L107.9 90.8L105.2 89.4ZM105.2 89.4L107.9 90.8L109.6 89.7L106.9 88.3ZM106.9 88.3L109.6 89.7L111.4 88.7L108.7 87.2ZM108.7 87.2L111.4 88.7L113.1 87.6L110.4 86.0ZM110.4 86.0L113.1 87.6L114.8 86.5L112.1 84.9ZM112.1 84.9L114.8 86.5L116.6 85.3L113.9 83.7ZM113.9 83.7L116.6 85.3L118.3 84.2L115.6 82.5ZM115.6 82.5L118.3 84.2L120.0 83.0L117.3 81.3ZM117.3 81.3L120.0 83.0L121.7 81.7L119.0 79.9ZM119.0 79.9L121.7 81.7L123.5 80.4L122.8 79.9L119.5 79.6ZM122.8 79.9L123.5 80.4L124.0 80.0ZM75.0 108.9L77.8 110.3L79.5 109.4L76.8 108.0ZM76.8 108.0L79.5 109.4L81.2 108.5L78.5 107.1ZM78.5 107.1L81.2 108.5L83.0 107.6L80.2 106.1ZM80.2 106.1L83.0 107.6L84.7 106.6L81.9 105.2ZM81.9 105.2L84.7 106.6L86.4 105.7L83.7 104.3ZM83.7 104.3L86.4 105.7L88.1 104.8L85.4 103.4ZM85.4 103.4L88.1 104.8L89.9 103.9L87.1 102.4ZM87.1 102.4L89.9 103.9L91.6 102.9L88.9 101.5ZM88.9 101.5L91.6 102.9L93.3 102.0L90.6 100.6ZM90.6 100.6L93.3 102.0L95.1 101.1L92.3 99.6ZM92.3 99.6L95.1 101.1L96.8 100.1L94.1 98.6ZM94.1 98.6L96.8 100.1L98.5 99.2L95.8 97.7ZM95.8 97.7L98.5 99.2L100.3 98.2L97.5 96.7ZM97.5 96.7L100.3 98.2L102.0 97.3L99.2 95.8ZM99.2 95.8L102.0 97.3L103.7 96.3L101.0 94.8ZM101.0 94.8L103.7 96.3L105.5 95.4L102.7 93.8ZM102.7 93.8L105.5 95.4L107.2 94.4L104.4 92.9ZM104.4 92.9L107.2 94.4L108.9 93.5L106.2 91.9ZM106.2 91.9L108.9 93.5L110.6 92.4L107.9 90.8ZM107.9 90.8L110.6 92.4L112.4 91.4L109.6 89.7ZM109.6 89.7L112.4 91.4L114.1 90.3L111.4 88.7ZM111.4 88.7L114.1 90.3L115.8 89.3L113.1 87.6ZM113.1 87.6L115.8 89.3L117.6 88.2L114.8 86.5ZM114.8 86.5L117.6 88.2L119.3 87.1L116.6 85.3ZM116.6 85.3L119.3 87.1L121.0 86.0L118.3 84.2ZM118.3 84.2L121.0 86.0L122.8 84.9L120.0 83.0ZM120.0 83.0L122.8 84.9L124.5 83.7L121.7 81.7ZM121.7 81.7L124.5 83.7L126.2 82.5L123.5 80.4ZM123.5 80.4L126.2 82.5L127.9 81.3L126.3 80.0L124.0 80.0ZM126.3 80.0L127.9 81.3L129.7 80.0L129.6 80.0ZM129.6 80.0L129.7 80.0L129.7 80.0ZM77.8 110.3L80.5 111.7L82.3 110.8L79.5 109.4ZM79.5 109.4L82.3 110.8L84.0 109.9L81.2 108.5ZM81.2 108.5L84.0 109.9L85.7 108.9L83.0 107.6ZM83.0 107.6L85.7 108.9L87.5 108.0L84.7 106.6ZM84.7 106.6L87.5 108.0L89.2 107.1L86.4 105.7ZM86.4 105.7L89.2 107.1L90.9 106.1L88.1 104.8ZM88.1 104.8L90.9 106.1L92.6 105.2L89.9 103.9ZM89.9 103.9L92.6 105.2L94.4 104.3L91.6 102.9ZM91.6 102.9L94.4 104.3L96.1 103.4L93.3 102.0ZM93.3 102.0L96.1 103.4L97.8 102.4L95.1 101.1ZM95.1 101.1L97.8 102.4L99.6 101.5L96.8 100.1ZM96.8 100.1L99.6 101.5L101.3 100.5L98.5 99.2ZM98.5 99.2L101.3 100.5L103.0 99.6L100.3 98.2ZM100.3 98.2L103.0 99.6L104.8 98.6L102.0 97.3ZM102.0 97.3L104.8 98.6L106.5 97.7L103.7 96.3ZM103.7 96.3L106.5 97.7L108.2 96.7L105.5 95.4ZM105.5 95.4L108.2 96.7L110.0 95.8L107.2 94.4ZM107.2 94.4L110.0 95.8L111.7 94.8L108.9 93.5ZM108.9 93.5L111.7 94.8L113.4 93.8L110.6 92.4ZM110.6 92.4L113.4 93.8L115.1 92.8L112.4 91.4ZM112.4 91.4L115.1 92.8L116.9 91.7L114.1 90.3ZM114.1 90.3L116.9 91.7L118.6 90.7L115.8 89.3ZM115.8 89.3L118.6 90.7L120.3 89.6L117.6 88.2ZM117.6 88.2L120.3 89.6L122.1 88.6L119.3 87.1ZM119.3 87.1L122.1 88.6L123.8 87.5L121.0 86.0ZM121.0 86.0L123.8 87.5L125.5 86.4L122.8 84.9ZM122.8 84.9L125.5 86.4L127.3 85.2L124.5 83.7ZM124.5 83.7L127.3 85.2L129.0 84.0L126.2 82.5ZM126.2 82.5L129.0 84.0L130.7 82.9L127.9 81.3ZM127.9 81.3L130.7 82.9L132.5 81.6L129.7 80.0ZM129.7 80.0L132.5 81.6L133.5 80.8L129.7 80.0ZM80.5 111.7L83.3 113.1L85.1 112.1L82.3 110.8ZM82.3 110.8L85.1 112.1L86.8 111.2L84.0 109.9ZM84.0 109.9L86.8 111.2L88.5 110.3L85.7 108.9ZM85.7 108.9L88.5 110.3L90.3 109.3L87.5 108.0ZM87.5 108.0L90.3 109.3L92.0 108.4L89.2 107.1ZM89.2 107.1L92.0 108.4L93.7 107.5L90.9 106.1ZM90.9 106.1L93.7 107.5L95.5 106.5L92.6 105.2ZM92.6 105.2L95.5 106.5L97.2 105.6L94.4 104.3ZM94.4 104.3L97.2 105.6L98.9 104.7L96.1 103.4ZM96.1 103.4L98.9 104.7L100.6 103.7L97.8 102.4ZM97.8 102.4L100.6 103.7L102.4 102.8L99.6 101.5ZM99.6 101.5L102.4 102.8L104.1 101.8L101.3 100.5ZM101.3 100.5L104.1 101.8L105.8 100.9L103.0 99.6ZM103.0 99.6L105.8 100.9L107.6 99.9L104.8 98.6ZM104.8 98.6L107.6 99.9L109.3 99.0L106.5 97.7ZM106.5 97.7L109.3 99.0L111.0 98.0L108.2 96.7ZM108.2 96.7L111.0 98.0L112.8 97.1L110.0 95.8ZM110.0 95.8L112.8 97.1L114.5 96.2L111.7 94.8ZM111.7 94.8L114.5 96.2L116.2 95.1L113.4 93.8ZM113.4 93.8L116.2 95.1L118.0 94.1L115.1 92.8ZM115.1 92.8L118.0 94.1L119.7 93.1L116.9 91.7ZM116.9 91.7L119.7 93.1L121.4 92.1L118.6 90.7ZM118.6 90.7L121.4 92.1L123.1 91.0L120.3 89.6ZM120.3 89.6L123.1 91.0L124.9 90.0L122.1 88.6ZM122.1 88.6L124.9 90.0L126.6 88.9L123.8 87.5ZM123.8 87.5L126.6 88.9L128.3 87.8L125.5 86.4ZM125.5 86.4L128.3 87.8L130.1 86.7L127.3 85.2ZM127.3 85.2L130.1 86.7L131.8 85.5L129.0 84.0ZM129.0 84.0L131.8 85.5L133.5 84.4L130.7 82.9ZM130.7 82.9L133.5 84.4L135.3 83.1L132.5 81.6ZM132.5 81.6L135.3 83.1L136.8 82.0L133.5 80.8ZM83.3 113.1L86.2 114.5L87.9 113.6L85.1 112.1ZM85.1 112.1L87.9 113.6L89.6 112.6L86.8 111.2ZM86.8 111.2L89.6 112.6L91.4 111.7L88.5 110.3ZM88.5 110.3L91.4 111.7L93.1 110.8L90.3 109.3ZM90.3 109.3L93.1 110.8L94.8 109.8L92.0 108.4ZM92.0 108.4L94.8 109.8L96.6 108.9L93.7 107.5ZM93.7 107.5L96.6 108.9L98.3 108.0L95.5 106.5ZM95.5 106.5L98.3 108.0L100.0 107.0L97.2 105.6ZM97.2 105.6L100.0 107.0L101.8 106.1L98.9 104.7ZM98.9 104.7L101.8 106.1L103.5 105.2L100.6 103.7ZM100.6 103.7L103.5 105.2L105.2 104.2L102.4 102.8ZM102.4 102.8L105.2 104.2L106.9 103.3L104.1 101.8ZM104.1 101.8L106.9 103.3L108.7 102.3L105.8 100.9ZM105.8 100.9L108.7 102.3L110.4 101.4L107.6 99.9ZM107.6 99.9L110.4 101.4L112.1 100.5L109.3 99.0ZM109.3 99.0L112.1 100.5L113.9 99.5L111.0 98.0ZM111.0 98.0L113.9 99.5L115.6 98.6L112.8 97.1ZM112.8 97.1L115.6 98.6L117.3 97.6L114.5 96.2ZM114.5 96.2L117.3 97.6L119.1 96.6L116.2 95.1ZM116.2 95.1L119.1 96.6L120.8 95.6L118.0 94.1ZM118.0 94.1L120.8 95.6L122.5 94.6L119.7 93.1ZM119.7 93.1L122.5 94.6L124.3 93.6L121.4 92.1ZM121.4 92.1L124.3 93.6L126.0 92.6L123.1 91.0ZM123.1 91.0L126.0 92.6L127.7 91.6L124.9 90.0ZM124.9 90.0L127.7 91.6L129.4 90.6L126.6 88.9ZM126.6 88.9L129.4 90.6L131.2 89.5L128.3 87.8ZM128.3 87.8L131.2 89.5L132.9 88.4L130.1 86.7ZM130.1 86.7L132.9 88.4L134.6 87.2L131.8 85.5ZM131.8 85.5L134.6 87.2L136.4 86.1L133.5 84.4ZM133.5 84.4L136.4 86.1L138.1 84.9L135.3 83.1ZM135.3 83.1L138.1 84.9L139.8 83.7L137.3 82.1L136.8 82.0ZM137.3 82.1L139.8 83.7L141.3 82.6ZM86.2 114.5L89.0 116.0L90.8 115.0L87.9 113.6ZM87.9 113.6L90.8 115.0L92.5 114.1L89.6 112.6ZM89.6 112.6L92.5 114.1L94.2 113.2L91.4 111.7ZM91.4 111.7L94.2 113.2L96.0 112.3L93.1 110.8ZM93.1 110.8L96.0 112.3L97.7 111.3L94.8 109.8ZM94.8 109.8L97.7 111.3L99.4 110.4L96.6 108.9ZM96.6 108.9L99.4 110.4L101.2 109.5L98.3 108.0ZM98.3 108.0L101.2 109.5L102.9 108.5L100.0 107.0ZM100.0 107.0L102.9 108.5L104.6 107.6L101.8 106.1ZM101.8 106.1L104.6 107.6L106.4 106.7L103.5 105.2ZM103.5 105.2L106.4 106.7L108.1 105.7L105.2 104.2ZM105.2 104.2L108.1 105.7L109.8 104.8L106.9 103.3ZM106.9 103.3L109.8 104.8L111.5 103.9L108.7 102.3ZM108.7 102.3L111.5 103.9L113.3 102.9L110.4 101.4ZM110.4 101.4L113.3 102.9L115.0 102.0L112.1 100.5ZM112.1 100.5L115.0 102.0L116.7 101.1L113.9 99.5ZM113.9 99.5L116.7 101.1L118.5 100.1L115.6 98.6ZM115.6 98.6L118.5 100.1L120.2 99.2L117.3 97.6ZM117.3 97.6L120.2 99.2L121.9 98.2L119.1 96.6ZM119.1 96.6L121.9 98.2L123.7 97.2L120.8 95.6ZM120.8 95.6L123.7 97.2L125.4 96.2L122.5 94.6ZM122.5 94.6L125.4 96.2L127.1 95.3L124.3 93.6ZM124.3 93.6L127.1 95.3L128.9 94.3L126.0 92.6ZM126.0 92.6L128.9 94.3L130.6 93.3L127.7 91.6ZM127.7 91.6L130.6 93.3L132.3 92.3L129.4 90.6ZM129.4 90.6L132.3 92.3L134.0 91.2L131.2 89.5ZM131.2 89.5L134.0 91.2L135.8 90.2L132.9 88.4ZM132.9 88.4L135.8 90.2L137.5 89.1L134.6 87.2ZM134.6 87.2L137.5 89.1L139.2 88.0L136.4 86.1ZM136.4 86.1L139.2 88.0L141.0 86.8L138.1 84.9ZM138.1 84.9L141.0 86.8L142.7 85.6L139.8 83.7ZM139.8 83.7L142.7 85.6L144.4 84.4L141.9 82.6L141.3 82.6ZM141.9 82.6L144.4 84.4L146.2 83.2L145.5 82.7ZM145.5 82.7L146.2 83.2L146.8 82.8ZM89.0 116.0L91.9 117.4L93.7 116.5L90.8 115.0ZM90.8 115.0L93.7 116.5L95.4 115.6L92.5 114.1ZM92.5 114.1L95.4 115.6L97.1 114.7L94.2 113.2ZM94.2 113.2L97.1 114.7L98.9 113.8L96.0 112.3ZM96.0 112.3L98.9 113.8L100.6 112.8L97.7 111.3ZM97.7 111.3L100.6 112.8L102.3 111.9L99.4 110.4ZM99.4 110.4L102.3 111.9L104.1 111.0L101.2 109.5ZM101.2 109.5L104.1 111.0L105.8 110.1L102.9 108.5ZM102.9 108.5L105.8 110.1L107.5 109.1L104.6 107.6ZM104.6 107.6L107.5 109.1L109.3 108.2L106.4 106.7ZM106.4 106.7L109.3 108.2L111.0 107.3L108.1 105.7ZM108.1 105.7L111.0 107.3L112.7 106.3L109.8 104.8ZM109.8 104.8L112.7 106.3L114.4 105.4L111.5 103.9ZM111.5 103.9L114.4 105.4L116.2 104.5L113.3 102.9ZM113.3 102.9L116.2 104.5L117.9 103.6L115.0 102.0ZM115.0 102.0L117.9 103.6L119.6 102.6L116.7 101.1ZM116.7 101.1L119.6 102.6L121.4 101.7L118.5 100.1ZM118.5 100.1L121.4 101.7L123.1 100.8L120.2 99.2ZM120.2 99.2L123.1 100.8L124.8 99.8L121.9 98.2ZM121.9 98.2L124.8 99.8L126.6 98.9L123.7 97.2ZM123.7 97.2L126.6 98.9L128.3 97.9L125.4 96.2ZM125.4 96.2L128.3 97.9L130.0 96.9L127.1 95.3ZM127.1 95.3L130.0 96.9L131.7 96.0L128.9 94.3ZM128.9 94.3L131.7 96.0L133.5 95.0L130.6 93.3ZM130.6 93.3L133.5 95.0L135.2 94.0L132.3 92.3ZM132.3 92.3L135.2 94.0L136.9 93.0L134.0 91.2ZM134.0 91.2L136.9 93.0L138.7 92.0L135.8 90.2ZM135.8 90.2L138.7 92.0L140.4 90.9L137.5 89.1ZM137.5 89.1L140.4 90.9L142.1 89.9L139.2 88.0ZM139.2 88.0L142.1 89.9L143.9 88.7L141.0 86.8ZM141.0 86.8L143.9 88.7L145.6 87.6L142.7 85.6ZM142.7 85.6L145.6 87.6L147.3 86.4L144.4 84.4ZM144.4 84.4L147.3 86.4L149.1 85.2L146.2 83.2ZM146.2 83.2L149.1 85.2L150.8 84.0L149.0 82.8L146.8 82.8ZM149.0 82.8L150.8 84.0L152.5 82.9L152.3 82.7ZM152.3 82.7L152.5 82.9L152.8 82.7ZM91.9 117.4L94.9 118.9L96.6 118.0L93.7 116.5ZM93.7 116.5L96.6 118.0L98.3 117.1L95.4 115.6ZM95.4 115.6L98.3 117.1L100.1 116.2L97.1 114.7ZM97.1 114.7L100.1 116.2L101.8 115.3L98.9 113.8ZM98.9 113.8L101.8 115.3L103.5 114.3L100.6 112.8ZM100.6 112.8L103.5 114.3L105.3 113.4L102.3 111.9ZM102.3 111.9L105.3 113.4L107.0 112.5L104.1 111.0ZM104.1 111.0L107.0 112.5L108.7 111.6L105.8 110.1ZM105.8 110.1L108.7 111.6L110.4 110.6L107.5 109.1ZM107.5 109.1L110.4 110.6L112.2 109.7L109.3 108.2ZM109.3 108.2L112.2 109.7L113.9 108.8L111.0 107.3ZM111.0 107.3L113.9 108.8L115.6 107.9L112.7 106.3ZM112.7 106.3L115.6 107.9L117.4 107.0L114.4 105.4ZM114.4 105.4L117.4 107.0L119.1 106.0L116.2 104.5ZM116.2 104.5L119.1 106.0L120.8 105.1L117.9 103.6ZM117.9 103.6L120.8 105.1L122.6 104.2L119.6 102.6ZM119.6 102.6L122.6 104.2L124.3 103.3L121.4 101.7ZM121.4 101.7L124.3 103.3L126.0 102.4L123.1 100.8ZM123.1 100.8L126.0 102.4L127.8 101.4L124.8 99.8ZM124.8 99.8L127.8 101.4L129.5 100.4L126.6 98.9ZM126.6 98.9L129.5 100.4L131.2 99.5L128.3 97.9ZM128.3 97.9L131.2 99.5L132.9 98.5L130.0 96.9ZM130.0 96.9L132.9 98.5L134.7 97.5L131.7 96.0ZM131.7 96.0L134.7 97.5L136.4 96.6L133.5 95.0ZM133.5 95.0L136.4 96.6L138.1 95.6L135.2 94.0ZM135.2 94.0L138.1 95.6L139.9 94.6L136.9 93.0ZM136.9 93.0L139.9 94.6L141.6 93.6L138.7 92.0ZM138.7 92.0L141.6 93.6L143.3 92.6L140.4 90.9ZM140.4 90.9L143.3 92.6L145.1 91.6L142.1 89.9ZM142.1 89.9L145.1 91.6L146.8 90.5L143.9 88.7ZM143.9 88.7L146.8 90.5L148.5 89.4L145.6 87.6ZM145.6 87.6L148.5 89.4L150.2 88.2L147.3 86.4ZM147.3 86.4L150.2 88.2L152.0 87.1L149.1 85.2ZM149.1 85.2L152.0 87.1L153.7 86.0L150.8 84.0ZM150.8 84.0L153.7 86.0L155.4 84.9L152.5 82.9ZM152.5 82.9L155.4 84.9L157.2 83.8L155.3 82.5L152.8 82.7ZM94.9 118.9L97.8 120.4L99.6 119.5L96.6 118.0ZM96.6 118.0L99.6 119.5L101.3 118.6L98.3 117.1ZM98.3 117.1L101.3 118.6L103.0 117.7L100.1 116.2ZM100.1 116.2L103.0 117.7L104.7 116.8L101.8 115.3ZM101.8 115.3L104.7 116.8L106.5 115.9L103.5 114.3ZM103.5 114.3L106.5 115.9L108.2 114.9L105.3 113.4ZM105.3 113.4L108.2 114.9L109.9 114.0L107.0 112.5ZM107.0 112.5L109.9 114.0L111.7 113.1L108.7 111.6ZM108.7 111.6L111.7 113.1L113.4 112.2L110.4 110.6ZM110.4 110.6L113.4 112.2L115.1 111.3L112.2 109.7ZM112.2 109.7L115.1 111.3L116.9 110.4L113.9 108.8ZM113.9 108.8L116.9 110.4L118.6 109.4L115.6 107.9ZM115.6 107.9L118.6 109.4L120.3 108.5L117.4 107.0ZM117.4 107.0L120.3 108.5L122.1 107.6L119.1 106.0ZM119.1 106.0L122.1 107.6L123.8 106.7L120.8 105.1ZM120.8 105.1L123.8 106.7L125.5 105.8L122.6 104.2ZM122.6 104.2L125.5 105.8L127.2 104.8L124.3 103.3ZM124.3 103.3L127.2 104.8L129.0 103.9L126.0 102.4ZM126.0 102.4L129.0 103.9L130.7 103.0L127.8 101.4ZM127.8 101.4L130.7 103.0L132.4 102.0L129.5 100.4ZM129.5 100.4L132.4 102.0L134.2 101.0L131.2 99.5ZM131.2 99.5L134.2 101.0L135.9 100.1L132.9 98.5ZM132.9 98.5L135.9 100.1L137.6 99.1L134.7 97.5ZM134.7 97.5L137.6 99.1L139.4 98.1L136.4 96.6ZM136.4 96.6L139.4 98.1L141.1 97.2L138.1 95.6ZM138.1 95.6L141.1 97.2L142.8 96.2L139.9 94.6ZM139.9 94.6L142.8 96.2L144.5 95.2L141.6 93.6ZM141.6 93.6L144.5 95.2L146.3 94.2L143.3 92.6ZM143.3 92.6L146.3 94.2L148.0 93.2L145.1 91.6ZM145.1 91.6L148.0 93.2L149.7 92.2L146.8 90.5ZM146.8 90.5L149.7 92.2L151.5 91.1L148.5 89.4ZM148.5 89.4L151.5 91.1L153.2 90.1L150.2 88.2ZM150.2 88.2L153.2 90.1L154.9 89.0L152.0 87.1ZM152.0 87.1L154.9 89.0L156.7 88.0L153.7 86.0ZM153.7 86.0L156.7 88.0L158.4 86.9L155.4 84.9ZM155.4 84.9L158.4 86.9L160.1 85.9L157.2 83.8ZM97.8 120.4L100.8 122.0L102.5 121.0L99.6 119.5ZM99.6 119.5L102.5 121.0L104.3 120.1L101.3 118.6ZM101.3 118.6L104.3 120.1L106.0 119.2L103.0 117.7ZM103.0 117.7L106.0 119.2L107.7 118.3L104.7 116.8ZM104.7 116.8L107.7 118.3L109.5 117.4L106.5 115.9ZM106.5 115.9L109.5 117.4L111.2 116.5L108.2 114.9ZM108.2 114.9L111.2 116.5L112.9 115.6L109.9 114.0ZM109.9 114.0L112.9 115.6L114.6 114.7L111.7 113.1ZM111.7 113.1L114.6 114.7L116.4 113.7L113.4 112.2ZM113.4 112.2L116.4 113.7L118.1 112.8L115.1 111.3ZM115.1 111.3L118.1 112.8L119.8 111.9L116.9 110.4ZM116.9 110.4L119.8 111.9L121.6 111.0L118.6 109.4ZM118.6 109.4L121.6 111.0L123.3 110.1L120.3 108.5ZM120.3 108.5L123.3 110.1L125.0 109.2L122.1 107.6ZM122.1 107.6L125.0 109.2L126.8 108.3L123.8 106.7ZM123.8 106.7L126.8 108.3L128.5 107.3L125.5 105.8ZM125.5 105.8L128.5 107.3L130.2 106.4L127.2 104.8ZM127.2 104.8L130.2 106.4L131.9 105.5L129.0 103.9ZM129.0 103.9L131.9 105.5L133.7 104.5L130.7 103.0ZM130.7 103.0L133.7 104.5L135.4 103.6L132.4 102.0ZM132.4 102.0L135.4 103.6L137.1 102.6L134.2 101.0ZM134.2 101.0L137.1 102.6L138.9 101.6L135.9 100.1ZM135.9 100.1L138.9 101.6L140.6 100.7L137.6 99.1ZM137.6 99.1L140.6 100.7L142.3 99.7L139.4 98.1ZM139.4 98.1L142.3 99.7L144.1 98.7L141.1 97.2ZM141.1 97.2L144.1 98.7L145.8 97.8L142.8 96.2ZM142.8 96.2L145.8 97.8L147.5 96.8L144.5 95.2ZM144.5 95.2L147.5 96.8L149.3 95.8L146.3 94.2ZM146.3 94.2L149.3 95.8L151.0 94.9L148.0 93.2ZM148.0 93.2L151.0 94.9L152.7 93.9L149.7 92.2ZM149.7 92.2L152.7 93.9L154.4 92.9L151.5 91.1ZM151.5 91.1L154.4 92.9L156.2 91.9L153.2 90.1ZM153.2 90.1L156.2 91.9L157.9 90.9L154.9 89.0ZM154.9 89.0L157.9 90.9L159.6 89.9L156.7 88.0ZM156.7 88.0L159.6 89.9L161.4 88.9L158.4 86.9ZM158.4 86.9L161.4 88.9L163.1 87.9L160.1 85.9Z"/><path class="s1" d="M67.5 74.6L67.0 74.0L65.9 74.9ZM67.0 74.0L67.5 74.6L69.9 74.1L68.7 72.5ZM68.7 72.5L69.9 74.1L70.5 73.9L71.7 73.0L70.4 70.9ZM70.4 70.9L71.7 73.0L73.5 71.6L72.2 69.4ZM72.2 69.4L73.5 71.6L75.2 69.8L73.9 67.3ZM73.9 67.3L75.2 69.8L76.9 68.0L75.6 65.3ZM75.6 65.3L76.9 68.0L78.7 66.3L77.5 63.6L76.9 63.8ZM77.5 63.6L78.7 66.3L80.4 64.3L79.9 63.1ZM79.9 63.1L80.4 64.3L81.4 62.8ZM73.0 74.4L73.5 74.1L71.7 73.0L70.5 73.9ZM71.7 73.0L73.5 74.1L75.2 72.8L73.5 71.6ZM73.5 71.6L75.2 72.8L76.9 71.1L75.2 69.8ZM75.2 69.8L76.9 71.1L78.6 69.4L76.9 68.0ZM76.9 68.0L78.6 69.4L80.4 67.7L78.7 66.3ZM78.7 66.3L80.4 67.7L82.1 65.8L80.4 64.3ZM80.4 64.3L82.1 65.8L83.8 63.5L83.5 63.2L81.4 62.8ZM83.5 63.2L83.8 63.5L84.0 63.3ZM74.0 74.4L73.5 74.1L73.0 74.4ZM73.5 74.1L74.0 74.4L76.8 74.4L77.1 74.2L75.2 72.8ZM75.2 72.8L77.1 74.2L78.8 72.6L76.9 71.1ZM76.9 71.1L78.8 72.6L80.5 71.0L78.6 69.4ZM78.6 69.4L80.5 71.0L82.3 69.4L80.4 67.7ZM80.4 67.7L82.3 69.4L84.0 67.7L82.1 65.8ZM82.1 65.8L84.0 67.7L85.7 65.5L83.8 63.5ZM83.8 63.5L85.7 65.5L87.3 63.5L84.0 63.3ZM77.2 74.3L77.1 74.2L76.8 74.4ZM77.1 74.2L77.2 74.3L80.1 74.1L78.8 72.6ZM78.8 72.6L80.1 74.1L82.3 73.7L82.6 73.5L80.5 71.0ZM80.5 71.0L82.6 73.5L84.3 72.1L82.3 69.4ZM82.3 69.4L84.3 72.1L86.0 70.5L84.0 67.7ZM84.0 67.7L86.0 70.5L87.8 68.7L85.7 65.5ZM85.7 65.5L87.8 68.7L89.5 66.8L87.6 63.5L87.3 63.5ZM87.6 63.5L89.5 66.8L91.2 65.0L90.2 63.1ZM90.2 63.1L91.2 65.0L93.0 62.9L92.9 62.7ZM92.9 62.7L93.0 62.9L93.1 62.7ZM83.3 74.0L82.6 73.5L82.3 73.7ZM82.6 73.5L83.3 74.0L85.3 74.4L86.4 73.5L84.3 72.1ZM84.3 72.1L86.4 73.5L88.2 72.0L86.0 70.5ZM86.0 70.5L88.2 72.0L89.9 70.2L87.8 68.7ZM87.8 68.7L89.9 70.2L91.6 68.5L89.5 66.8ZM89.5 66.8L91.6 68.5L93.4 66.7L91.2 65.0ZM91.2 65.0L93.4 66.7L95.1 64.8L93.0 62.9ZM93.0 62.9L95.1 64.8L96.3 63.2L93.1 62.7ZM88.6 74.9L86.4 73.5L85.3 74.4ZM86.4 73.5L88.6 74.9L88.7 74.9L90.4 73.5L88.2 72.0ZM88.2 72.0L90.4 73.5L92.1 71.8L89.9 70.2ZM89.9 70.2L92.1 71.8L93.9 70.2L91.6 68.5ZM91.6 68.5L93.9 70.2L95.6 68.5L93.4 66.7ZM93.4 66.7L95.6 68.5L97.3 66.7L95.1 64.8ZM95.1 64.8L97.3 66.7L99.1 64.7L97.7 63.4L96.3 63.2ZM97.7 63.4L99.1 64.7L99.9 63.7ZM92.3 75.4L92.7 75.1L90.4 73.5L88.7 74.9ZM90.4 73.5L92.7 75.1L94.4 73.5L92.1 71.8ZM92.1 71.8L94.4 73.5L96.2 71.9L93.9 70.2ZM93.9 70.2L96.2 71.9L97.9 70.4L95.6 68.5ZM95.6 68.5L97.9 70.4L99.6 68.6L97.3 66.7ZM97.3 66.7L99.6 68.6L101.4 66.7L99.1 64.7ZM99.1 64.7L101.4 66.7L103.1 64.8L102.2 63.9L99.9 63.7ZM102.2 63.9L103.1 64.8L103.8 64.1ZM93.5 75.6L92.7 75.1L92.3 75.4ZM92.7 75.1L93.5 75.6L95.8 76.0L96.8 75.2L94.4 73.5ZM94.4 73.5L96.8 75.2L98.5 73.7L96.2 71.9ZM96.2 71.9L98.5 73.7L100.3 72.2L97.9 70.4ZM97.9 70.4L100.3 72.2L102.0 70.6L99.6 68.6ZM99.6 68.6L102.0 70.6L103.7 68.8L101.4 66.7ZM101.4 66.7L103.7 68.8L105.5 67.0L103.1 64.8ZM103.1 64.8L105.5 67.0L107.2 65.2L106.2 64.2L103.8 64.1ZM106.2 64.2L107.2 65.2L108.0 64.3ZM99.1 76.7L96.8 75.2L95.8 76.0ZM96.8 75.2L99.1 76.7L99.3 76.7L101.0 75.4L98.5 73.7ZM98.5 73.7L101.0 75.4L102.7 73.9L100.3 72.2ZM100.3 72.2L102.7 73.9L104.4 72.4L102.0 70.6ZM102.0 70.6L104.4 72.4L106.2 70.6L103.7 68.8ZM103.7 68.8L106.2 70.6L107.9 68.9L105.5 67.0ZM105.5 67.0L107.9 68.9L109.6 67.2L107.2 65.2ZM107.2 65.2L109.6 67.2L111.3 65.5L110.2 64.6L108.0 64.3ZM110.2 64.6L111.3 65.5L112.2 64.7ZM102.6 77.6L103.4 76.9L101.0 75.4L99.3 76.7ZM101.0 75.4L103.4 76.9L105.2 75.5L102.7 73.9ZM102.7 73.9L105.2 75.5L106.9 74.0L104.4 72.4ZM104.4 72.4L106.9 74.0L108.6 72.4L106.2 70.6ZM106.2 70.6L108.6 72.4L110.4 70.7L107.9 68.9ZM107.9 68.9L110.4 70.7L112.1 69.1L109.6 67.2ZM109.6 67.2L112.1 69.1L113.8 67.4L111.3 65.5ZM111.3 65.5L113.8 67.4L115.6 65.8L114.6 65.0L112.2 64.7ZM114.6 65.0L115.6 65.8L116.2 65.2ZM104.3 77.6L103.4 76.9L102.6 77.6ZM103.4 76.9L104.3 77.6L107.7 77.6L107.7 77.6L105.2 75.5ZM105.2 75.5L107.7 77.6L109.4 76.2L106.9 74.0ZM106.9 74.0L109.4 76.2L111.2 74.6L108.6 72.4ZM108.6 72.4L111.2 74.6L112.9 73.1L110.4 70.7ZM110.4 70.7L112.9 73.1L114.6 71.6L112.1 69.1ZM112.1 69.1L114.6 71.6L116.4 70.0L113.8 67.4ZM113.8 67.4L116.4 70.0L118.1 68.5L115.6 65.8ZM115.6 65.8L118.1 68.5L119.8 67.0L118.1 65.1L116.2 65.2ZM118.1 65.1L119.8 67.0L121.6 65.4L121.0 64.8ZM121.0 64.8L121.6 65.4L122.4 64.6ZM107.7 77.6L107.7 77.6L107.7 77.6ZM107.7 77.6L107.7 77.6L111.3 77.6L109.4 76.2ZM109.4 76.2L111.3 77.6L112.7 77.7L113.8 76.8L111.2 74.6ZM111.2 74.6L113.8 76.8L115.5 75.4L112.9 73.1ZM112.9 73.1L115.5 75.4L117.2 74.0L114.6 71.6ZM114.6 71.6L117.2 74.0L118.9 72.5L116.4 70.0ZM116.4 70.0L118.9 72.5L120.7 71.1L118.1 68.5ZM118.1 68.5L120.7 71.1L122.4 69.7L119.8 67.0ZM119.8 67.0L122.4 69.7L124.1 68.2L121.6 65.4ZM121.6 65.4L124.1 68.2L125.9 66.8L123.9 64.5L122.4 64.6ZM123.9 64.5L125.9 66.8L127.6 65.3L126.7 64.2ZM126.7 64.2L127.6 65.3L129.3 63.9L129.2 63.8ZM116.3 78.5L116.4 78.5L113.8 76.8L112.7 77.7ZM113.8 76.8L116.4 78.5L118.1 77.1L115.5 75.4ZM115.5 75.4L118.1 77.1L119.8 75.7L117.2 74.0ZM117.2 74.0L119.8 75.7L121.6 74.3L118.9 72.5ZM118.9 72.5L121.6 74.3L123.3 72.9L120.7 71.1ZM120.7 71.1L123.3 72.9L125.0 71.5L122.4 69.7ZM122.4 69.7L125.0 71.5L126.8 70.1L124.1 68.2ZM124.1 68.2L126.8 70.1L128.5 68.7L125.9 66.8ZM125.9 66.8L128.5 68.7L130.2 67.2L127.6 65.3ZM127.6 65.3L130.2 67.2L132.0 65.9L129.3 63.9ZM116.7 78.6L116.4 78.5L116.3 78.5ZM116.4 78.5L116.7 78.6L119.5 79.6L120.8 78.6L118.1 77.1ZM118.1 77.1L120.8 78.6L122.5 77.2L119.8 75.7ZM119.8 75.7L122.5 77.2L124.2 75.9L121.6 74.3ZM121.6 74.3L124.2 75.9L126.0 74.5L123.3 72.9ZM123.3 72.9L126.0 74.5L127.7 73.1L125.0 71.5ZM125.0 71.5L127.7 73.1L129.4 71.7L126.8 70.1ZM126.8 70.1L129.4 71.7L131.2 70.3L128.5 68.7ZM128.5 68.7L131.2 70.3L132.9 68.9L130.2 67.2ZM130.2 67.2L132.9 68.9L134.6 67.5L132.0 65.9ZM122.8 79.9L120.8 78.6L119.5 79.6ZM120.8 78.6L122.8 79.9L124.0 80.0L125.2 79.2L122.5 77.2ZM122.5 77.2L125.2 79.2L126.9 77.8L124.2 75.9ZM124.2 75.9L126.9 77.8L128.7 76.5L126.0 74.5ZM126.0 74.5L128.7 76.5L130.4 75.1L127.7 73.1ZM127.7 73.1L130.4 75.1L132.1 73.8L129.4 71.7ZM129.4 71.7L132.1 73.8L133.9 72.4L131.2 70.3ZM131.2 70.3L133.9 72.4L135.6 71.0L132.9 68.9ZM132.9 68.9L135.6 71.0L137.3 69.7L134.6 67.5ZM126.3 80.0L125.2 79.2L124.0 80.0ZM125.2 79.2L126.3 80.0L129.6 80.0L126.9 77.8ZM126.9 77.8L129.6 80.0L129.7 80.0L131.4 78.7L128.7 76.5ZM128.7 76.5L131.4 78.7L133.1 77.4L130.4 75.1ZM130.4 75.1L133.1 77.4L134.9 76.1L132.1 73.8ZM132.1 73.8L134.9 76.1L136.6 74.8L133.9 72.4ZM133.9 72.4L136.6 74.8L138.3 73.5L135.6 71.0ZM135.6 71.0L138.3 73.5L140.1 72.3L137.3 69.7ZM133.5 80.8L134.2 80.3L131.4 78.7L129.7 80.0ZM131.4 78.7L134.2 80.3L135.9 79.1L133.1 77.4ZM133.1 77.4L135.9 79.1L137.6 77.8L134.9 76.1ZM134.9 76.1L137.6 77.8L139.4 76.5L136.6 74.8ZM136.6 74.8L139.4 76.5L141.1 75.2L138.3 73.5ZM138.3 73.5L141.1 75.2L142.8 74.0L140.1 72.3ZM136.8 82.0L137.0 81.9L134.2 80.3L133.5 80.8ZM134.2 80.3L137.0 81.9L138.7 80.6L135.9 79.1ZM135.9 79.1L138.7 80.6L140.5 79.3L137.6 77.8ZM137.6 77.8L140.5 79.3L142.2 78.0L139.4 76.5ZM139.4 76.5L142.2 78.0L143.9 76.7L141.1 75.2ZM141.1 75.2L143.9 76.7L145.6 75.5L142.8 74.0ZM137.3 82.1L137.0 81.9L136.8 82.0ZM137.0 81.9L137.3 82.1L141.3 82.6L141.6 82.4L138.7 80.6ZM138.7 80.6L141.6 82.4L143.3 81.2L140.5 79.3ZM140.5 79.3L143.3 81.2L145.0 79.9L142.2 78.0ZM142.2 78.0L145.0 79.9L146.8 78.7L143.9 76.7ZM143.9 76.7L146.8 78.7L148.5 77.5L145.6 75.5ZM141.9 82.6L141.6 82.4L141.3 82.6ZM141.6 82.4L141.9 82.6L145.5 82.7L143.3 81.2ZM143.3 81.2L145.5 82.7L146.8 82.8L147.9 82.0L145.0 79.9ZM145.0 79.9L147.9 82.0L149.6 80.8L146.8 78.7ZM146.8 78.7L149.6 80.8L151.3 79.6L148.5 77.5ZM149.0 82.8L147.9 82.0L146.8 82.8ZM147.9 82.0L149.0 82.8L152.3 82.7L149.6 80.8ZM149.6 80.8L152.3 82.7L152.8 82.7L154.2 81.7L151.3 79.6ZM155.3 82.5L154.2 81.7L152.8 82.7Z"/><path class="s2" d="M77.5 63.6L77.3 63.2L76.9 63.8ZM77.3 63.2L77.5 63.6L79.9 63.1L79.1 61.0ZM79.1 61.0L79.9 63.1L81.4 62.8L82.1 61.9L80.8 58.1ZM80.8 58.1L82.1 61.9L83.9 59.5L82.6 55.3L82.5 55.3ZM82.6 55.3L83.9 59.5L85.6 57.0L85.0 54.8ZM85.0 54.8L85.6 57.0L87.3 54.3L87.3 54.2ZM87.3 54.2L87.3 54.3L87.3 54.2ZM83.5 63.2L82.1 61.9L81.4 62.8ZM82.1 61.9L83.5 63.2L84.0 63.3L85.6 61.2L83.9 59.5ZM83.9 59.5L85.6 61.2L87.3 58.9L85.6 57.0ZM85.6 57.0L87.3 58.9L89.0 56.2L87.3 54.3ZM87.3 54.3L89.0 56.2L90.0 54.6L87.3 54.2ZM87.3 63.5L87.5 63.3L85.6 61.2L84.0 63.3ZM85.6 61.2L87.5 63.3L89.2 61.2L87.3 58.9ZM87.3 58.9L89.2 61.2L90.9 58.7L89.0 56.2ZM89.0 56.2L90.9 58.7L92.7 56.0L91.8 54.7L90.0 54.6ZM91.8 54.7L92.7 56.0L93.4 54.8ZM87.6 63.5L87.5 63.3L87.3 63.5ZM87.5 63.3L87.6 63.5L90.2 63.1L89.2 61.2ZM89.2 61.2L90.2 63.1L92.9 62.7L90.9 58.7ZM90.9 58.7L92.9 62.7L93.1 62.7L94.7 60.6L92.7 56.0ZM92.7 56.0L94.7 60.6L96.4 58.4L94.9 54.6L93.4 54.8ZM94.9 54.6L96.4 58.4L98.2 56.1L97.4 54.2ZM97.4 54.2L98.2 56.1L99.9 53.8L99.8 53.6ZM99.8 53.6L99.9 53.8L100.0 53.6ZM96.3 63.2L96.8 62.6L94.7 60.6L93.1 62.7ZM94.7 60.6L96.8 62.6L98.6 60.5L96.4 58.4ZM96.4 58.4L98.6 60.5L100.3 58.3L98.2 56.1ZM98.2 56.1L100.3 58.3L102.0 56.2L99.9 53.8ZM99.9 53.8L102.0 56.2L103.8 54.0L103.5 53.8L100.0 53.6ZM103.5 53.8L103.8 54.0L104.0 53.8ZM97.7 63.4L96.8 62.6L96.3 63.2ZM96.8 62.6L97.7 63.4L99.9 63.7L100.8 62.6L98.6 60.5ZM98.6 60.5L100.8 62.6L102.5 60.6L100.3 58.3ZM100.3 58.3L102.5 60.6L104.2 58.6L102.0 56.2ZM102.0 56.2L104.2 58.6L106.0 56.6L103.8 54.0ZM103.8 54.0L106.0 56.6L107.7 54.6L107.1 53.9L104.0 53.8ZM107.1 53.9L107.7 54.6L108.3 53.9ZM102.2 63.9L100.8 62.6L99.9 63.7ZM100.8 62.6L102.2 63.9L103.8 64.1L104.8 62.9L102.5 60.6ZM102.5 60.6L104.8 62.9L106.5 61.0L104.2 58.6ZM104.2 58.6L106.5 61.0L108.3 59.1L106.0 56.6ZM106.0 56.6L108.3 59.1L110.0 57.2L107.7 54.6ZM107.7 54.6L110.0 57.2L111.7 55.3L110.5 53.8L108.3 53.9ZM110.5 53.8L111.7 55.3L113.1 53.8ZM106.2 64.2L104.8 62.9L103.8 64.1ZM104.8 62.9L106.2 64.2L108.0 64.3L108.9 63.4L106.5 61.0ZM106.5 61.0L108.9 63.4L110.6 61.6L108.3 59.1ZM108.3 59.1L110.6 61.6L112.4 59.8L110.0 57.2ZM110.0 57.2L112.4 59.8L114.1 58.0L111.7 55.3ZM111.7 55.3L114.1 58.0L115.8 56.2L113.8 53.8L113.1 53.8ZM113.8 53.8L115.8 56.2L117.6 54.3L117.1 53.7ZM117.1 53.7L117.6 54.3L118.4 53.5ZM110.2 64.6L108.9 63.4L108.0 64.3ZM108.9 63.4L110.2 64.6L112.2 64.7L113.1 63.8L110.6 61.6ZM110.6 61.6L113.1 63.8L114.8 62.1L112.4 59.8ZM112.4 59.8L114.8 62.1L116.5 60.4L114.1 58.0ZM114.1 58.0L116.5 60.4L118.3 58.6L115.8 56.2ZM115.8 56.2L118.3 58.6L120.0 56.8L117.6 54.3ZM117.6 54.3L120.0 56.8L121.7 55.3L120.0 53.4L118.4 53.5ZM114.6 65.0L113.1 63.8L112.2 64.7ZM113.1 63.8L114.6 65.0L116.2 65.2L117.3 64.2L114.8 62.1ZM114.8 62.1L117.3 64.2L119.0 62.5L116.5 60.4ZM116.5 60.4L119.0 62.5L120.8 60.8L118.3 58.6ZM118.3 58.6L120.8 60.8L122.5 59.1L120.0 56.8ZM120.0 56.8L122.5 59.1L124.2 57.6L121.7 55.3ZM118.1 65.1L117.3 64.2L116.2 65.2ZM117.3 64.2L118.1 65.1L121.0 64.8L119.0 62.5ZM119.0 62.5L121.0 64.8L122.4 64.6L123.3 63.8L120.8 60.8ZM120.8 60.8L123.3 63.8L125.0 62.3L122.5 59.1ZM122.5 59.1L125.0 62.3L126.7 60.8L124.2 57.6ZM123.9 64.5L123.3 63.8L122.4 64.6ZM123.3 63.8L123.9 64.5L126.7 64.2L125.0 62.3ZM125.0 62.3L126.7 64.2L129.2 63.8L126.7 60.8Z"/><path class="s3" d="M82.6 55.3L82.5 55.2L82.5 55.3ZM82.5 55.2L82.6 55.3L85.0 54.8L84.3 52.3ZM84.3 52.3L85.0 54.8L87.3 54.2L86.0 49.0ZM86.0 49.0L87.3 54.2L87.3 54.2L89.0 51.2L88.1 47.2L86.7 47.5ZM88.1 47.2L89.0 51.2L90.8 48.1L90.5 46.7ZM90.5 46.7L90.8 48.1L91.8 46.3ZM90.0 54.6L90.8 53.3L89.0 51.2L87.3 54.2ZM89.0 51.2L90.8 53.3L92.5 50.4L90.8 48.1ZM90.8 48.1L92.5 50.4L94.2 47.4L93.5 46.5L91.8 46.3ZM93.5 46.5L94.2 47.4L94.7 46.6ZM91.8 54.7L90.8 53.3L90.0 54.6ZM90.8 53.3L91.8 54.7L93.4 54.8L94.4 53.3L92.5 50.4ZM92.5 50.4L94.4 53.3L96.1 50.6L94.2 47.4ZM94.2 47.4L96.1 50.6L97.8 47.8L97.1 46.6L94.7 46.6ZM97.1 46.6L97.8 47.8L98.7 46.5ZM94.9 54.6L94.4 53.3L93.4 54.8ZM94.4 53.3L94.9 54.6L97.4 54.2L96.1 50.6ZM96.1 50.6L97.4 54.2L99.8 53.6L97.8 47.8ZM97.8 47.8L99.8 53.6L100.0 53.6L101.6 51.5L99.9 46.3L98.7 46.5ZM99.9 46.3L101.6 51.5L103.3 49.2L102.3 45.7ZM102.3 45.7L103.3 49.2L105.1 47.0L104.6 45.1ZM104.6 45.1L105.1 47.0L106.8 44.6L106.8 44.5ZM106.8 44.5L106.8 44.6L106.8 44.5ZM103.5 53.8L101.6 51.5L100.0 53.6ZM101.6 51.5L103.5 53.8L104.0 53.8L105.5 51.9L103.3 49.2ZM103.3 49.2L105.5 51.9L107.2 49.7L105.1 47.0ZM105.1 47.0L107.2 49.7L108.9 47.5L106.8 44.6ZM106.8 44.6L108.9 47.5L110.7 45.2L110.2 44.5L106.8 44.5ZM110.2 44.5L110.7 45.2L111.5 44.3ZM107.1 53.9L105.5 51.9L104.0 53.8ZM105.5 51.9L107.1 53.9L108.3 53.9L109.4 52.5L107.2 49.7ZM107.2 49.7L109.4 52.5L111.2 50.4L108.9 47.5ZM108.9 47.5L111.2 50.4L112.9 48.3L110.7 45.2ZM110.7 45.2L112.9 48.3L114.6 46.6L112.9 44.2L111.5 44.3ZM110.5 53.8L109.4 52.5L108.3 53.9ZM109.4 52.5L110.5 53.8L113.1 53.8L113.5 53.3L111.2 50.4ZM111.2 50.4L113.5 53.3L115.2 51.3L112.9 48.3ZM112.9 48.3L115.2 51.3L116.9 49.7L114.6 46.6ZM113.8 53.8L113.5 53.3L113.1 53.8ZM113.5 53.3L113.8 53.8L117.1 53.7L115.2 51.3ZM115.2 51.3L117.1 53.7L118.4 53.5L119.3 52.7L116.9 49.7ZM120.0 53.4L119.3 52.7L118.4 53.5Z"/><path class="s4" d="M88.1 47.2L87.7 45.4L86.7 47.5ZM87.7 45.4L88.1 47.2L90.5 46.7L89.5 41.7ZM89.5 41.7L90.5 46.7L91.8 46.3L92.5 45.0L91.5 39.8L90.2 40.1ZM91.5 39.8L92.5 45.0L94.2 41.9L93.8 39.2ZM93.8 39.2L94.2 41.9L96.0 38.6L96.0 38.5ZM96.0 38.5L96.0 38.6L96.0 38.5ZM93.5 46.5L92.5 45.0L91.8 46.3ZM92.5 45.0L93.5 46.5L94.7 46.6L95.9 44.5L94.2 41.9ZM94.2 41.9L95.9 44.5L97.7 41.5L96.0 38.6ZM96.0 38.6L97.7 41.5L99.3 38.6L96.0 38.5ZM97.1 46.6L95.9 44.5L94.7 46.6ZM95.9 44.5L97.1 46.6L98.7 46.5L99.6 45.1L97.7 41.5ZM97.7 41.5L99.6 45.1L101.3 42.4L99.5 38.6L99.3 38.6ZM99.5 38.6L101.3 42.4L103.0 39.7L102.5 38.4ZM102.5 38.4L103.0 39.7L103.9 38.2ZM99.9 46.3L99.6 45.1L98.7 46.5ZM99.6 45.1L99.9 46.3L102.3 45.7L101.3 42.4ZM101.3 42.4L102.3 45.7L104.6 45.1L103.0 39.7ZM103.0 39.7L104.6 45.1L106.8 44.5L105.1 38.0L103.9 38.2ZM105.1 38.0L106.8 44.5L106.8 44.5L108.5 42.2L107.3 37.4ZM107.3 37.4L108.5 42.2L110.3 40.3L109.4 36.7ZM110.2 44.5L108.5 42.2L106.8 44.5ZM108.5 42.2L110.2 44.5L111.5 44.3L112.4 43.5L110.3 40.3ZM112.9 44.2L112.4 43.5L111.5 44.3Z"/><path class="s5" d="M91.5 39.8L91.2 38.0L90.2 40.1ZM91.2 38.0L91.5 39.8L93.8 39.2L92.9 34.2ZM92.9 34.2L93.8 39.2L96.0 38.5L95.0 32.3L93.5 32.7ZM95.0 32.3L96.0 38.5L96.0 38.5L97.7 35.2L97.2 31.7ZM97.2 31.7L97.7 35.2L99.4 31.9L99.3 31.1ZM99.3 31.1L99.4 31.9L99.8 30.9ZM99.3 38.6L99.4 38.4L97.7 35.2L96.0 38.5ZM97.7 35.2L99.4 38.4L101.1 35.4L99.4 31.9ZM99.4 31.9L101.1 35.4L102.9 32.0L102.4 30.9L99.8 30.9ZM102.4 30.9L102.9 32.0L103.4 30.8ZM99.5 38.6L99.4 38.4L99.3 38.6ZM99.4 38.4L99.5 38.6L102.5 38.4L101.1 35.4ZM101.1 35.4L102.5 38.4L103.9 38.2L104.8 36.8L102.9 32.0ZM102.9 32.0L104.8 36.8L106.5 33.9L105.3 30.6L103.4 30.8ZM105.3 30.6L106.5 33.9L108.2 31.8L107.7 30.1ZM105.1 38.0L104.8 36.8L103.9 38.2ZM104.8 36.8L105.1 38.0L107.3 37.4L106.5 33.9ZM106.5 33.9L107.3 37.4L109.4 36.7L108.2 31.8Z"/><path class="s6" d="M95.0 32.3L94.6 30.1L93.5 32.7ZM94.6 30.1L95.0 32.3L97.2 31.7L96.4 25.8ZM96.4 25.8L97.2 31.7L99.3 31.1L98.5 25.0L96.5 25.5ZM98.5 25.0L99.3 31.1L99.8 30.9L101.2 27.8L100.8 24.4ZM100.8 24.4L101.2 27.8L102.9 23.8L102.9 23.7ZM102.9 23.7L102.9 23.8L102.9 23.7ZM102.4 30.9L101.2 27.8L99.8 30.9ZM101.2 27.8L102.4 30.9L103.4 30.8L104.6 28.6L102.9 23.8ZM102.9 23.8L104.6 28.6L106.3 25.8L105.6 23.3L102.9 23.7ZM105.3 30.6L104.6 28.6L103.4 30.8ZM104.6 28.6L105.3 30.6L107.7 30.1L106.3 25.8Z"/><path class="s7" d="M98.5 25.0L98.1 21.5L96.5 25.5ZM98.1 21.5L98.5 25.0L100.8 24.4L100.1 18.3L99.0 18.6ZM100.1 18.3L100.8 24.4L102.9 23.7L102.3 17.7ZM102.3 17.7L102.9 23.7L102.9 23.7L104.6 20.3L104.3 17.0ZM105.6 23.3L104.6 20.3L102.9 23.7Z"/><path class="s8" d="M100.1 18.3L99.8 15.9L99.0 18.6ZM99.8 15.9L100.1 18.3L102.3 17.7L101.7 11.6L101.1 11.8ZM101.7 11.6L102.3 17.7L104.3 17.0L103.8 11.0Z"/><path class="s9" d="M101.7 11.6L101.6 10.3L101.1 11.8ZM101.6 10.3L101.7 11.6L103.8 11.0L103.3 5.0Z"/>
<path d="M41.0 91.8L42.3 92.6L44.0 93.4L45.9 94.4L48.0 95.5L50.1 96.5L52.3 97.6L54.6 98.7L57.0 99.9L59.4 101.1L61.9 102.3L64.4 103.6L67.0 105.0L69.7 106.3L72.3 107.6L75.0 108.9L77.8 110.3L80.5 111.7L83.3 113.1L86.2 114.5L89.0 116.0L91.9 117.4L94.9 118.9L97.8 120.4L100.8 122.0M42.7 90.9L44.1 91.7L45.8 92.5L47.7 93.5L49.7 94.6L51.8 95.6L54.1 96.6L56.4 97.8L58.7 99.0L61.2 100.2L63.6 101.4L66.2 102.7L68.8 104.1L71.4 105.4L74.0 106.6L76.8 108.0L79.5 109.4L82.3 110.8L85.1 112.1L87.9 113.6L90.8 115.0L93.7 116.5L96.6 118.0L99.6 119.5L102.5 121.0M44.5 90.0L45.8 90.8L47.5 91.6L49.4 92.5L51.4 93.6L53.6 94.6L55.8 95.7L58.1 96.8L60.5 98.0L62.9 99.2L65.4 100.5L67.9 101.8L70.5 103.2L73.1 104.4L75.8 105.7L78.5 107.1L81.2 108.5L84.0 109.9L86.8 111.2L89.6 112.6L92.5 114.1L95.4 115.6L98.3 117.1L101.3 118.6L104.3 120.1M46.2 89.1L47.5 89.8L49.2 90.7L51.1 91.6L53.2 92.7L55.3 93.7L57.5 94.8L59.8 95.9L62.2 97.1L64.6 98.3L67.1 99.5L69.6 100.9L72.2 102.2L74.8 103.5L77.5 104.8L80.2 106.1L83.0 107.6L85.7 108.9L88.5 110.3L91.4 111.7L94.2 113.2L97.1 114.7L100.1 116.2L103.0 117.7L106.0 119.2M47.9 88.1L49.2 88.9L51.0 89.7L52.9 90.7L54.9 91.8L57.0 92.8L59.3 93.9L61.6 95.0L63.9 96.2L66.4 97.4L68.8 98.6L71.4 99.9L74.0 101.3L76.6 102.6L79.2 103.9L81.9 105.2L84.7 106.6L87.5 108.0L90.3 109.3L93.1 110.8L96.0 112.3L98.9 113.8L101.8 115.3L104.7 116.8L107.7 118.3M49.7 87.0L51.0 87.9L52.7 88.8L54.6 89.7L56.6 90.9L58.8 91.9L61.0 92.9L63.3 94.1L65.7 95.2L68.1 96.4L70.6 97.7L73.1 99.0L75.7 100.4L78.3 101.7L81.0 102.9L83.7 104.3L86.4 105.7L89.2 107.1L92.0 108.4L94.8 109.8L97.7 111.3L100.6 112.8L103.5 114.3L106.5 115.9L109.5 117.4M51.4 86.0L52.7 86.9L54.4 87.8L56.3 88.8L58.3 89.9L60.5 90.9L62.7 92.0L65.0 93.1L67.4 94.3L69.8 95.5L72.3 96.7L74.8 98.1L77.4 99.5L80.0 100.8L82.7 102.0L85.4 103.4L88.1 104.8L90.9 106.1L93.7 107.5L96.6 108.9L99.4 110.4L102.3 111.9L105.3 113.4L108.2 114.9L111.2 116.5M53.1 84.9L54.4 85.9L56.1 86.8L58.0 87.8L60.1 89.0L62.2 90.0L64.4 91.1L66.7 92.2L69.1 93.4L71.5 94.6L74.0 95.8L76.6 97.2L79.1 98.6L81.8 99.8L84.4 101.1L87.1 102.4L89.9 103.9L92.6 105.2L95.5 106.5L98.3 108.0L101.2 109.5L104.1 111.0L107.0 112.5L109.9 114.0L112.9 115.6M54.8 83.6L56.2 84.7L57.9 85.5L59.8 86.6L61.8 87.8L63.9 88.9L66.2 90.0L68.5 91.2L70.8 92.4L73.3 93.6L75.8 94.8L78.3 96.2L80.9 97.6L83.5 98.9L86.2 100.2L88.9 101.5L91.6 102.9L94.4 104.3L97.2 105.6L100.0 107.0L102.9 108.5L105.8 110.1L108.7 111.6L111.7 113.1L114.6 114.7M56.6 82.3L57.9 83.4L59.6 84.3L61.5 85.3L63.5 86.7L65.7 87.8L67.9 88.9L70.2 90.1L72.6 91.4L75.0 92.6L77.5 93.9L80.0 95.3L82.6 96.7L85.2 98.0L87.9 99.2L90.6 100.6L93.3 102.0L96.1 103.4L98.9 104.7L101.8 106.1L104.6 107.6L107.5 109.1L110.4 110.6L113.4 112.2L116.4 113.7M58.3 81.0L59.6 82.1L61.3 83.0L63.2 84.1L65.3 85.5L67.4 86.6L69.6 87.8L71.9 89.0L74.3 90.3L76.7 91.6L79.2 92.8L81.8 94.3L84.3 95.7L87.0 97.0L89.6 98.3L92.3 99.6L95.1 101.1L97.8 102.4L100.6 103.7L103.5 105.2L106.4 106.7L109.3 108.2L112.2 109.7L115.1 111.3L118.1 112.8M60.0 79.7L61.4 80.9L63.1 81.7L65.0 82.8L67.0 84.4L69.1 85.5L71.4 86.7L73.7 87.9L76.0 89.2L78.5 90.5L81.0 91.8L83.5 93.3L86.1 94.8L88.7 96.0L91.4 97.3L94.1 98.6L96.8 100.1L99.6 101.5L102.4 102.8L105.2 104.2L108.1 105.7L111.0 107.3L113.9 108.8L116.9 110.4L119.8 111.9M61.8 78.3L63.1 79.6L64.8 80.5L66.7 81.6L68.7 83.2L70.9 84.4L73.1 85.6L75.4 86.9L77.8 88.2L80.2 89.5L82.7 90.8L85.2 92.3L87.8 93.8L90.4 95.1L93.1 96.3L95.8 97.7L98.5 99.2L101.3 100.5L104.1 101.8L106.9 103.3L109.8 104.8L112.7 106.3L115.6 107.9L118.6 109.4L121.6 111.0M63.5 76.9L64.8 78.3L66.5 79.2L68.4 80.4L70.5 82.1L72.6 83.3L74.8 84.5L77.1 85.8L79.5 87.1L81.9 88.5L84.4 89.8L86.9 91.3L89.5 92.8L92.2 94.1L94.8 95.3L97.5 96.7L100.3 98.2L103.0 99.6L105.8 100.9L108.7 102.3L111.5 103.9L114.4 105.4L117.4 107.0L120.3 108.5L123.3 110.1M65.2 75.4L66.5 77.0L68.3 77.9L70.2 79.2L72.2 81.0L74.3 82.2L76.6 83.4L78.9 84.7L81.2 86.1L83.7 87.4L86.1 88.7L88.7 90.3L91.3 91.8L93.9 93.1L96.5 94.4L99.2 95.8L102.0 97.3L104.8 98.6L107.6 99.9L110.4 101.4L113.3 102.9L116.2 104.5L119.1 106.0L122.1 107.6L125.0 109.2M67.0 74.0L68.3 75.7L70.0 76.7L71.9 77.9L73.9 79.8L76.1 81.0L78.3 82.3L80.6 83.7L83.0 85.0L85.4 86.4L87.9 87.7L90.4 89.3L93.0 90.8L95.6 92.1L98.3 93.4L101.0 94.8L103.7 96.3L106.5 97.7L109.3 99.0L112.1 100.5L115.0 102.0L117.9 103.6L120.8 105.1L123.8 106.7L126.8 108.3M68.7 72.5L70.0 74.3L71.7 75.4L73.6 76.7L75.7 78.7L77.8 79.9L80.0 81.2L82.3 82.6L84.7 84.0L87.1 85.3L89.6 86.7L92.1 88.3L94.7 89.8L97.3 91.2L100.0 92.4L102.7 93.8L105.5 95.4L108.2 96.7L111.0 98.0L113.9 99.5L116.7 101.1L119.6 102.6L122.6 104.2L125.5 105.8L128.5 107.3M70.4 70.9L71.7 73.0L73.5 74.1L75.4 75.4L77.4 77.5L79.5 78.8L81.7 80.1L84.1 81.5L86.4 82.9L88.9 84.3L91.3 85.7L93.9 87.3L96.4 88.9L99.1 90.2L101.7 91.4L104.4 92.9L107.2 94.4L110.0 95.8L112.8 97.1L115.6 98.6L118.5 100.1L121.4 101.7L124.3 103.3L127.2 104.8L130.2 106.4M72.2 69.4L73.5 71.6L75.2 72.8L77.1 74.2L79.1 76.4L81.3 77.7L83.5 79.0L85.8 80.4L88.2 81.9L90.6 83.3L93.1 84.6L95.6 86.2L98.2 87.9L100.8 89.2L103.5 90.5L106.2 91.9L108.9 93.5L111.7 94.8L114.5 96.2L117.3 97.6L120.2 99.2L123.1 100.8L126.0 102.4L129.0 103.9L131.9 105.5M73.9 67.3L75.2 69.8L76.9 71.1L78.8 72.6L80.8 74.9L83.0 76.3L85.2 77.6L87.5 79.1L89.9 80.6L92.3 82.0L94.8 83.4L97.3 85.1L99.9 86.7L102.5 88.1L105.2 89.4L107.9 90.8L110.6 92.4L113.4 93.8L116.2 95.1L119.1 96.6L121.9 98.2L124.8 99.8L127.8 101.4L130.7 103.0L133.7 104.5M75.6 65.3L76.9 68.0L78.6 69.4L80.5 71.0L82.6 73.5L84.7 74.9L86.9 76.3L89.2 77.8L91.6 79.3L94.0 80.8L96.5 82.2L99.1 83.9L101.6 85.6L104.3 87.0L106.9 88.3L109.6 89.7L112.4 91.4L115.1 92.8L118.0 94.1L120.8 95.6L123.7 97.2L126.6 98.9L129.5 100.4L132.4 102.0L135.4 103.6M77.3 63.2L78.7 66.3L80.4 67.7L82.3 69.4L84.3 72.1L86.4 73.5L88.7 74.9L91.0 76.5L93.3 78.0L95.8 79.5L98.3 80.9L100.8 82.7L103.4 84.5L106.0 85.9L108.7 87.2L111.4 88.7L114.1 90.3L116.9 91.7L119.7 93.1L122.5 94.6L125.4 96.2L128.3 97.9L131.2 99.5L134.2 101.0L137.1 102.6M79.1 61.0L80.4 64.3L82.1 65.8L84.0 67.7L86.0 70.5L88.2 72.0L90.4 73.5L92.7 75.1L95.1 76.7L97.5 78.2L100.0 79.7L102.5 81.5L105.1 83.3L107.7 84.7L110.4 86.0L113.1 87.6L115.8 89.3L118.6 90.7L121.4 92.1L124.3 93.6L127.1 95.3L130.0 96.9L132.9 98.5L135.9 100.1L138.9 101.6M80.8 58.1L82.1 61.9L83.8 63.5L85.7 65.5L87.8 68.7L89.9 70.2L92.1 71.8L94.4 73.5L96.8 75.2L99.2 76.8L101.7 78.3L104.3 80.2L106.8 82.1L109.5 83.5L112.1 84.9L114.8 86.5L117.6 88.2L120.3 89.6L123.1 91.0L126.0 92.6L128.9 94.3L131.7 96.0L134.7 97.5L137.6 99.1L140.6 100.7M82.5 55.2L83.9 59.5L85.6 61.2L87.5 63.3L89.5 66.8L91.6 68.5L93.9 70.2L96.2 71.9L98.5 73.7L101.0 75.4L103.4 76.9L106.0 78.9L108.6 80.8L111.2 82.3L113.9 83.7L116.6 85.3L119.3 87.1L122.1 88.6L124.9 90.0L127.7 91.6L130.6 93.3L133.5 95.0L136.4 96.6L139.4 98.1L142.3 99.7M84.3 52.3L85.6 57.0L87.3 58.9L89.2 61.2L91.2 65.0L93.4 66.7L95.6 68.5L97.9 70.4L100.3 72.2L102.7 73.9L105.2 75.5L107.7 77.6L110.3 79.6L112.9 81.1L115.6 82.5L118.3 84.2L121.0 86.0L123.8 87.5L126.6 88.9L129.4 90.6L132.3 92.3L135.2 94.0L138.1 95.6L141.1 97.2L144.1 98.7M86.0 49.0L87.3 54.3L89.0 56.2L90.9 58.7L93.0 62.9L95.1 64.8L97.3 66.7L99.6 68.6L102.0 70.6L104.4 72.4L106.9 74.0L109.4 76.2L112.0 78.2L114.6 79.8L117.3 81.3L120.0 83.0L122.8 84.9L125.5 86.4L128.3 87.8L131.2 89.5L134.0 91.2L136.9 93.0L139.9 94.6L142.8 96.2L145.8 97.8M87.7 45.4L89.0 51.2L90.8 53.3L92.7 56.0L94.7 60.6L96.8 62.6L99.1 64.7L101.4 66.7L103.7 68.8L106.2 70.6L108.6 72.4L111.2 74.6L113.8 76.8L116.4 78.5L119.0 79.9L121.7 81.7L124.5 83.7L127.3 85.2L130.1 86.7L132.9 88.4L135.8 90.2L138.7 92.0L141.6 93.6L144.5 95.2L147.5 96.8M89.5 41.7L90.8 48.1L92.5 50.4L94.4 53.3L96.4 58.4L98.6 60.5L100.8 62.6L103.1 64.8L105.5 67.0L107.9 68.9L110.4 70.7L112.9 73.1L115.5 75.4L118.1 77.1L120.8 78.6L123.5 80.4L126.2 82.5L129.0 84.0L131.8 85.5L134.6 87.2L137.5 89.1L140.4 90.9L143.3 92.6L146.3 94.2L149.3 95.8M91.2 38.0L92.5 45.0L94.2 47.4L96.1 50.6L98.2 56.1L100.3 58.3L102.5 60.6L104.8 62.9L107.2 65.2L109.6 67.2L112.1 69.1L114.6 71.6L117.2 74.0L119.8 75.7L122.5 77.2L125.2 79.2L127.9 81.3L130.7 82.9L133.5 84.4L136.4 86.1L139.2 88.0L142.1 89.9L145.1 91.6L148.0 93.2L151.0 94.9M92.9 34.2L94.2 41.9L95.9 44.5L97.8 47.8L99.9 53.8L102.0 56.2L104.2 58.6L106.5 61.0L108.9 63.4L111.3 65.5L113.8 67.4L116.4 70.0L118.9 72.5L121.6 74.3L124.2 75.9L126.9 77.8L129.7 80.0L132.5 81.6L135.3 83.1L138.1 84.9L141.0 86.8L143.9 88.7L146.8 90.5L149.7 92.2L152.7 93.9M94.6 30.1L96.0 38.6L97.7 41.5L99.6 45.1L101.6 51.5L103.8 54.0L106.0 56.6L108.3 59.1L110.6 61.6L113.1 63.8L115.6 65.8L118.1 68.5L120.7 71.1L123.3 72.9L126.0 74.5L128.7 76.5L131.4 78.7L134.2 80.3L137.0 81.9L139.8 83.7L142.7 85.6L145.6 87.6L148.5 89.4L151.5 91.1L154.4 92.9M96.4 25.8L97.7 35.2L99.4 38.4L101.3 42.4L103.3 49.2L105.5 51.9L107.7 54.6L110.0 57.2L112.4 59.8L114.8 62.1L117.3 64.2L119.8 67.0L122.4 69.7L125.0 71.5L127.7 73.1L130.4 75.1L133.1 77.4L135.9 79.1L138.7 80.6L141.6 82.4L144.4 84.4L147.3 86.4L150.2 88.2L153.2 90.1L156.2 91.9M98.1 21.5L99.4 31.9L101.1 35.4L103.0 39.7L105.1 47.0L107.2 49.7L109.4 52.5L111.7 55.3L114.1 58.0L116.5 60.4L119.0 62.5L121.6 65.4L124.1 68.2L126.8 70.1L129.4 71.7L132.1 73.8L134.9 76.1L137.6 77.8L140.5 79.3L143.3 81.2L146.2 83.2L149.1 85.2L152.0 87.1L154.9 89.0L157.9 90.9M99.8 15.9L101.2 27.8L102.9 32.0L104.8 36.8L106.8 44.6L108.9 47.5L111.2 50.4L113.5 53.3L115.8 56.2L118.3 58.6L120.8 60.8L123.3 63.8L125.9 66.8L128.5 68.7L131.2 70.3L133.9 72.4L136.6 74.8L139.4 76.5L142.2 78.0L145.0 79.9L147.9 82.0L150.8 84.0L153.7 86.0L156.7 88.0L159.6 89.9M101.6 10.3L102.9 23.8L104.6 28.6L106.5 33.9L108.5 42.2L110.7 45.2L112.9 48.3L115.2 51.3L117.6 54.3L120.0 56.8L122.5 59.1L125.0 62.3L127.6 65.3L130.2 67.2L132.9 68.9L135.6 71.0L138.3 73.5L141.1 75.2L143.9 76.7L146.8 78.7L149.6 80.8L152.5 82.9L155.4 84.9L158.4 86.9L161.4 88.9M103.3 5.0L104.6 20.3L106.3 25.8L108.2 31.8L110.3 40.3L112.4 43.5L114.6 46.6L116.9 49.7L119.3 52.7L121.7 55.3L124.2 57.6L126.7 60.8L129.3 63.9L132.0 65.9L134.6 67.5L137.3 69.7L140.1 72.3L142.8 74.0L145.6 75.5L148.5 77.5L151.3 79.6L154.2 81.7L157.2 83.8L160.1 85.9L163.1 87.9" fill="none" stroke="#000" stroke-opacity="0.52" stroke-width="0.45"/>
<path d="M41.0 91.8L42.7 90.9L44.5 90.0L46.2 89.1L47.9 88.1L49.7 87.0L51.4 86.0L53.1 84.9L54.8 83.6L56.6 82.3L58.3 81.0L60.0 79.7L61.8 78.3L63.5 76.9L65.2 75.4L67.0 74.0L68.7 72.5L70.4 70.9L72.2 69.4L73.9 67.3L75.6 65.3L77.3 63.2L79.1 61.0L80.8 58.1L82.5 55.2L84.3 52.3L86.0 49.0L87.7 45.4L89.5 41.7L91.2 38.0L92.9 34.2L94.6 30.1L96.4 25.8L98.1 21.5L99.8 15.9L101.6 10.3L103.3 5.0M42.3 92.6L44.1 91.7L45.8 90.8L47.5 89.8L49.2 88.9L51.0 87.9L52.7 86.9L54.4 85.9L56.2 84.7L57.9 83.4L59.6 82.1L61.4 80.9L63.1 79.6L64.8 78.3L66.5 77.0L68.3 75.7L70.0 74.3L71.7 73.0L73.5 71.6L75.2 69.8L76.9 68.0L78.7 66.3L80.4 64.3L82.1 61.9L83.9 59.5L85.6 57.0L87.3 54.3L89.0 51.2L90.8 48.1L92.5 45.0L94.2 41.9L96.0 38.6L97.7 35.2L99.4 31.9L101.2 27.8L102.9 23.8L104.6 20.3M44.0 93.4L45.8 92.5L47.5 91.6L49.2 90.7L51.0 89.7L52.7 88.8L54.4 87.8L56.1 86.8L57.9 85.5L59.6 84.3L61.3 83.0L63.1 81.7L64.8 80.5L66.5 79.2L68.3 77.9L70.0 76.7L71.7 75.4L73.5 74.1L75.2 72.8L76.9 71.1L78.6 69.4L80.4 67.7L82.1 65.8L83.8 63.5L85.6 61.2L87.3 58.9L89.0 56.2L90.8 53.3L92.5 50.4L94.2 47.4L95.9 44.5L97.7 41.5L99.4 38.4L101.1 35.4L102.9 32.0L104.6 28.6L106.3 25.8M45.9 94.4L47.7 93.5L49.4 92.5L51.1 91.6L52.9 90.7L54.6 89.7L56.3 88.8L58.0 87.8L59.8 86.6L61.5 85.3L63.2 84.1L65.0 82.8L66.7 81.6L68.4 80.4L70.2 79.2L71.9 77.9L73.6 76.7L75.4 75.4L77.1 74.2L78.8 72.6L80.5 71.0L82.3 69.4L84.0 67.7L85.7 65.5L87.5 63.3L89.2 61.2L90.9 58.7L92.7 56.0L94.4 53.3L96.1 50.6L97.8 47.8L99.6 45.1L101.3 42.4L103.0 39.7L104.8 36.8L106.5 33.9L108.2 31.8M48.0 95.5L49.7 94.6L51.4 93.6L53.2 92.7L54.9 91.8L56.6 90.9L58.3 89.9L60.1 89.0L61.8 87.8L63.5 86.7L65.3 85.5L67.0 84.4L68.7 83.2L70.5 82.1L72.2 81.0L73.9 79.8L75.7 78.7L77.4 77.5L79.1 76.4L80.8 74.9L82.6 73.5L84.3 72.1L86.0 70.5L87.8 68.7L89.5 66.8L91.2 65.0L93.0 62.9L94.7 60.6L96.4 58.4L98.2 56.1L99.9 53.8L101.6 51.5L103.3 49.2L105.1 47.0L106.8 44.6L108.5 42.2L110.3 40.3M50.1 96.5L51.8 95.6L53.6 94.6L55.3 93.7L57.0 92.8L58.8 91.9L60.5 90.9L62.2 90.0L63.9 88.9L65.7 87.8L67.4 86.6L69.1 85.5L70.9 84.4L72.6 83.3L74.3 82.2L76.1 81.0L77.8 79.9L79.5 78.8L81.3 77.7L83.0 76.3L84.7 74.9L86.4 73.5L88.2 72.0L89.9 70.2L91.6 68.5L93.4 66.7L95.1 64.8L96.8 62.6L98.6 60.5L100.3 58.3L102.0 56.2L103.8 54.0L105.5 51.9L107.2 49.7L108.9 47.5L110.7 45.2L112.4 43.5M52.3 97.6L54.1 96.6L55.8 95.7L57.5 94.8L59.3 93.9L61.0 92.9L62.7 92.0L64.4 91.1L66.2 90.0L67.9 88.9L69.6 87.8L71.4 86.7L73.1 85.6L74.8 84.5L76.6 83.4L78.3 82.3L80.0 81.2L81.7 80.1L83.5 79.0L85.2 77.6L86.9 76.3L88.7 74.9L90.4 73.5L92.1 71.8L93.9 70.2L95.6 68.5L97.3 66.7L99.1 64.7L100.8 62.6L102.5 60.6L104.2 58.6L106.0 56.6L107.7 54.6L109.4 52.5L111.2 50.4L112.9 48.3L114.6 46.6M54.6 98.7L56.4 97.8L58.1 96.8L59.8 95.9L61.6 95.0L63.3 94.1L65.0 93.1L66.7 92.2L68.5 91.2L70.2 90.1L71.9 89.0L73.7 87.9L75.4 86.9L77.1 85.8L78.9 84.7L80.6 83.7L82.3 82.6L84.1 81.5L85.8 80.4L87.5 79.1L89.2 77.8L91.0 76.5L92.7 75.1L94.4 73.5L96.2 71.9L97.9 70.4L99.6 68.6L101.4 66.7L103.1 64.8L104.8 62.9L106.5 61.0L108.3 59.1L110.0 57.2L111.7 55.3L113.5 53.3L115.2 51.3L116.9 49.7M57.0 99.9L58.7 99.0L60.5 98.0L62.2 97.1L63.9 96.2L65.7 95.2L67.4 94.3L69.1 93.4L70.8 92.4L72.6 91.4L74.3 90.3L76.0 89.2L77.8 88.2L79.5 87.1L81.2 86.1L83.0 85.0L84.7 84.0L86.4 82.9L88.2 81.9L89.9 80.6L91.6 79.3L93.3 78.0L95.1 76.7L96.8 75.2L98.5 73.7L100.3 72.2L102.0 70.6L103.7 68.8L105.5 67.0L107.2 65.2L108.9 63.4L110.6 61.6L112.4 59.8L114.1 58.0L115.8 56.2L117.6 54.3L119.3 52.7M59.4 101.1L61.2 100.2L62.9 99.2L64.6 98.3L66.4 97.4L68.1 96.4L69.8 95.5L71.5 94.6L73.3 93.6L75.0 92.6L76.7 91.6L78.5 90.5L80.2 89.5L81.9 88.5L83.7 87.4L85.4 86.4L87.1 85.3L88.9 84.3L90.6 83.3L92.3 82.0L94.0 80.8L95.8 79.5L97.5 78.2L99.2 76.8L101.0 75.4L102.7 73.9L104.4 72.4L106.2 70.6L107.9 68.9L109.6 67.2L111.3 65.5L113.1 63.8L114.8 62.1L116.5 60.4L118.3 58.6L120.0 56.8L121.7 55.3M61.9 102.3L63.6 101.4L65.4 100.5L67.1 99.5L68.8 98.6L70.6 97.7L72.3 96.7L74.0 95.8L75.8 94.8L77.5 93.9L79.2 92.8L81.0 91.8L82.7 90.8L84.4 89.8L86.1 88.7L87.9 87.7L89.6 86.7L91.3 85.7L93.1 84.6L94.8 83.4L96.5 82.2L98.3 80.9L100.0 79.7L101.7 78.3L103.4 76.9L105.2 75.5L106.9 74.0L108.6 72.4L110.4 70.7L112.1 69.1L113.8 67.4L115.6 65.8L117.3 64.2L119.0 62.5L120.8 60.8L122.5 59.1L124.2 57.6M64.4 103.6L66.2 102.7L67.9 101.8L69.6 100.9L71.4 99.9L73.1 99.0L74.8 98.1L76.6 97.2L78.3 96.2L80.0 95.3L81.8 94.3L83.5 93.3L85.2 92.3L86.9 91.3L88.7 90.3L90.4 89.3L92.1 88.3L93.9 87.3L95.6 86.2L97.3 85.1L99.1 83.9L100.8 82.7L102.5 81.5L104.3 80.2L106.0 78.9L107.7 77.6L109.4 76.2L111.2 74.6L112.9 73.1L114.6 71.6L116.4 70.0L118.1 68.5L119.8 67.0L121.6 65.4L123.3 63.8L125.0 62.3L126.7 60.8M67.0 105.0L68.8 104.1L70.5 103.2L72.2 102.2L74.0 101.3L75.7 100.4L77.4 99.5L79.1 98.6L80.9 97.6L82.6 96.7L84.3 95.7L86.1 94.8L87.8 93.8L89.5 92.8L91.3 91.8L93.0 90.8L94.7 89.8L96.4 88.9L98.2 87.9L99.9 86.7L101.6 85.6L103.4 84.5L105.1 83.3L106.8 82.1L108.6 80.8L110.3 79.6L112.0 78.2L113.8 76.8L115.5 75.4L117.2 74.0L118.9 72.5L120.7 71.1L122.4 69.7L124.1 68.2L125.9 66.8L127.6 65.3L129.3 63.9M69.7 106.3L71.4 105.4L73.1 104.4L74.8 103.5L76.6 102.6L78.3 101.7L80.0 100.8L81.8 99.8L83.5 98.9L85.2 98.0L87.0 97.0L88.7 96.0L90.4 95.1L92.2 94.1L93.9 93.1L95.6 92.1L97.3 91.2L99.1 90.2L100.8 89.2L102.5 88.1L104.3 87.0L106.0 85.9L107.7 84.7L109.5 83.5L111.2 82.3L112.9 81.1L114.6 79.8L116.4 78.5L118.1 77.1L119.8 75.7L121.6 74.3L123.3 72.9L125.0 71.5L126.8 70.1L128.5 68.7L130.2 67.2L132.0 65.9M72.3 107.6L74.0 106.6L75.8 105.7L77.5 104.8L79.2 103.9L81.0 102.9L82.7 102.0L84.4 101.1L86.2 100.2L87.9 99.2L89.6 98.3L91.4 97.3L93.1 96.3L94.8 95.3L96.5 94.4L98.3 93.4L100.0 92.4L101.7 91.4L103.5 90.5L105.2 89.4L106.9 88.3L108.7 87.2L110.4 86.0L112.1 84.9L113.9 83.7L115.6 82.5L117.3 81.3L119.0 79.9L120.8 78.6L122.5 77.2L124.2 75.9L126.0 74.5L127.7 73.1L129.4 71.7L131.2 70.3L132.9 68.9L134.6 67.5M75.0 108.9L76.8 108.0L78.5 107.1L80.2 106.1L81.9 105.2L83.7 104.3L85.4 103.4L87.1 102.4L88.9 101.5L90.6 100.6L92.3 99.6L94.1 98.6L95.8 97.7L97.5 96.7L99.2 95.8L101.0 94.8L102.7 93.8L104.4 92.9L106.2 91.9L107.9 90.8L109.6 89.7L111.4 88.7L113.1 87.6L114.8 86.5L116.6 85.3L118.3 84.2L120.0 83.0L121.7 81.7L123.5 80.4L125.2 79.2L126.9 77.8L128.7 76.5L130.4 75.1L132.1 73.8L133.9 72.4L135.6 71.0L137.3 69.7M77.8 110.3L79.5 109.4L81.2 108.5L83.0 107.6L84.7 106.6L86.4 105.7L88.1 104.8L89.9 103.9L91.6 102.9L93.3 102.0L95.1 101.1L96.8 100.1L98.5 99.2L100.3 98.2L102.0 97.3L103.7 96.3L105.5 95.4L107.2 94.4L108.9 93.5L110.6 92.4L112.4 91.4L114.1 90.3L115.8 89.3L117.6 88.2L119.3 87.1L121.0 86.0L122.8 84.9L124.5 83.7L126.2 82.5L127.9 81.3L129.7 80.0L131.4 78.7L133.1 77.4L134.9 76.1L136.6 74.8L138.3 73.5L140.1 72.3M80.5 111.7L82.3 110.8L84.0 109.9L85.7 108.9L87.5 108.0L89.2 107.1L90.9 106.1L92.6 105.2L94.4 104.3L96.1 103.4L97.8 102.4L99.6 101.5L101.3 100.5L103.0 99.6L104.8 98.6L106.5 97.7L108.2 96.7L110.0 95.8L111.7 94.8L113.4 93.8L115.1 92.8L116.9 91.7L118.6 90.7L120.3 89.6L122.1 88.6L123.8 87.5L125.5 86.4L127.3 85.2L129.0 84.0L130.7 82.9L132.5 81.6L134.2 80.3L135.9 79.1L137.6 77.8L139.4 76.5L141.1 75.2L142.8 74.0M83.3 113.1L85.1 112.1L86.8 111.2L88.5 110.3L90.3 109.3L92.0 108.4L93.7 107.5L95.5 106.5L97.2 105.6L98.9 104.7L100.6 103.7L102.4 102.8L104.1 101.8L105.8 100.9L107.6 99.9L109.3 99.0L111.0 98.0L112.8 97.1L114.5 96.2L116.2 95.1L118.0 94.1L119.7 93.1L121.4 92.1L123.1 91.0L124.9 90.0L126.6 88.9L128.3 87.8L130.1 86.7L131.8 85.5L133.5 84.4L135.3 83.1L137.0 81.9L138.7 80.6L140.5 79.3L142.2 78.0L143.9 76.7L145.6 75.5M86.2 114.5L87.9 113.6L89.6 112.6L91.4 111.7L93.1 110.8L94.8 109.8L96.6 108.9L98.3 108.0L100.0 107.0L101.8 106.1L103.5 105.2L105.2 104.2L106.9 103.3L108.7 102.3L110.4 101.4L112.1 100.5L113.9 99.5L115.6 98.6L117.3 97.6L119.1 96.6L120.8 95.6L122.5 94.6L124.3 93.6L126.0 92.6L127.7 91.6L129.4 90.6L131.2 89.5L132.9 88.4L134.6 87.2L136.4 86.1L138.1 84.9L139.8 83.7L141.6 82.4L143.3 81.2L145.0 79.9L146.8 78.7L148.5 77.5M89.0 116.0L90.8 115.0L92.5 114.1L94.2 113.2L96.0 112.3L97.7 111.3L99.4 110.4L101.2 109.5L102.9 108.5L104.6 107.6L106.4 106.7L108.1 105.7L109.8 104.8L111.5 103.9L113.3 102.9L115.0 102.0L116.7 101.1L118.5 100.1L120.2 99.2L121.9 98.2L123.7 97.2L125.4 96.2L127.1 95.3L128.9 94.3L130.6 93.3L132.3 92.3L134.0 91.2L135.8 90.2L137.5 89.1L139.2 88.0L141.0 86.8L142.7 85.6L144.4 84.4L146.2 83.2L147.9 82.0L149.6 80.8L151.3 79.6M91.9 117.4L93.7 116.5L95.4 115.6L97.1 114.7L98.9 113.8L100.6 112.8L102.3 111.9L104.1 111.0L105.8 110.1L107.5 109.1L109.3 108.2L111.0 107.3L112.7 106.3L114.4 105.4L116.2 104.5L117.9 103.6L119.6 102.6L121.4 101.7L123.1 100.8L124.8 99.8L126.6 98.9L128.3 97.9L130.0 96.9L131.7 96.0L133.5 95.0L135.2 94.0L136.9 93.0L138.7 92.0L140.4 90.9L142.1 89.9L143.9 88.7L145.6 87.6L147.3 86.4L149.1 85.2L150.8 84.0L152.5 82.9L154.2 81.7M94.9 118.9L96.6 118.0L98.3 117.1L100.1 116.2L101.8 115.3L103.5 114.3L105.3 113.4L107.0 112.5L108.7 111.6L110.4 110.6L112.2 109.7L113.9 108.8L115.6 107.9L117.4 107.0L119.1 106.0L120.8 105.1L122.6 104.2L124.3 103.3L126.0 102.4L127.8 101.4L129.5 100.4L131.2 99.5L132.9 98.5L134.7 97.5L136.4 96.6L138.1 95.6L139.9 94.6L141.6 93.6L143.3 92.6L145.1 91.6L146.8 90.5L148.5 89.4L150.2 88.2L152.0 87.1L153.7 86.0L155.4 84.9L157.2 83.8M97.8 120.4L99.6 119.5L101.3 118.6L103.0 117.7L104.7 116.8L106.5 115.9L108.2 114.9L109.9 114.0L111.7 113.1L113.4 112.2L115.1 111.3L116.9 110.4L118.6 109.4L120.3 108.5L122.1 107.6L123.8 106.7L125.5 105.8L127.2 104.8L129.0 103.9L130.7 103.0L132.4 102.0L134.2 101.0L135.9 100.1L137.6 99.1L139.4 98.1L141.1 97.2L142.8 96.2L144.5 95.2L146.3 94.2L148.0 93.2L149.7 92.2L151.5 91.1L153.2 90.1L154.9 89.0L156.7 88.0L158.4 86.9L160.1 85.9M100.8 122.0L102.5 121.0L104.3 120.1L106.0 119.2L107.7 118.3L109.5 117.4L111.2 116.5L112.9 115.6L114.6 114.7L116.4 113.7L118.1 112.8L119.8 111.9L121.6 111.0L123.3 110.1L125.0 109.2L126.8 108.3L128.5 107.3L130.2 106.4L131.9 105.5L133.7 104.5L135.4 103.6L137.1 102.6L138.9 101.6L140.6 100.7L142.3 99.7L144.1 98.7L145.8 97.8L147.5 96.8L149.3 95.8L151.0 94.9L152.7 93.9L154.4 92.9L156.2 91.9L157.9 90.9L159.6 89.9L161.4 88.9L163.1 87.9" fill="none" stroke="#000" stroke-opacity="0.42" stroke-width="0.45"/>
<path d="M100.8 122.6L102.5 121.6L104.3 120.7L106.0 119.8L107.7 118.9L109.5 118.0L111.2 117.1L112.9 116.2L114.6 115.3L116.4 114.3L118.1 113.4L119.8 112.5L121.6 111.6L123.3 110.7L125.0 109.8L126.8 108.9L128.5 107.9L130.2 107.0L131.9 106.1L133.7 105.1L135.4 104.2L137.1 103.2L138.9 102.2L140.6 101.3L142.3 100.3L144.1 99.3L145.8 98.4L147.5 97.4L149.3 96.4L151.0 95.5L152.7 94.5L154.4 93.5L156.2 92.5L157.9 91.5L159.6 90.5L161.4 89.5L163.1 88.5" fill="none" stroke="#dcdcf4" stroke-width="0.9"/>
<text x="31.80" y="106.80" font-size="8.2" text-anchor="start" fill="#111" font-weight="bold" textLength="15.80" lengthAdjust="spacingAndGlyphs" >0.76</text>
<text x="100.50" y="134.00" font-size="8.2" text-anchor="middle" fill="#111" font-weight="bold" textLength="19.75" lengthAdjust="spacingAndGlyphs" >31.24</text>
<text x="163.50" y="104.80" font-size="8.0" text-anchor="middle" fill="#111" font-weight="bold" textLength="13.20" lengthAdjust="spacingAndGlyphs" >360</text>
<text x="61.30" y="128.70" font-size="8.4" text-anchor="middle" fill="#111" font-weight="bold" textLength="57.00" lengthAdjust="spacingAndGlyphs" transform="rotate(27.00 61.30 128.70)" >Concentration</text>
<text x="56.60" y="138.70" font-size="8.4" text-anchor="middle" fill="#111" font-weight="bold" transform="rotate(27.00 56.60 138.70)" >(μg·mL<tspan dy="-3" font-size="5.5">-1</tspan><tspan dy="3">)</tspan></text>
<text x="138.90" y="129.20" font-size="8.4" text-anchor="middle" fill="#111" font-weight="bold" textLength="41.60" lengthAdjust="spacingAndGlyphs" transform="rotate(-27.00 138.90 129.20)" >Time (min)</text>
<text x="7.60" y="62.80" font-size="8.6" text-anchor="middle" fill="#111" font-weight="bold" textLength="45.00" lengthAdjust="spacingAndGlyphs" transform="rotate(-90.00 7.60 62.80)" >Normalized</text>
<text x="17.60" y="63.00" font-size="8.6" text-anchor="middle" fill="#111" font-weight="bold" textLength="87.00" lengthAdjust="spacingAndGlyphs" transform="rotate(-90.00 17.60 63.00)" >grayscale value (a.u.)</text>
</g>
<g transform="translate(0 150.4)">
<line x1="220.00" y1="13.40" x2="220.00" y2="121.60" stroke="#383838" stroke-width="1.3" />
<line x1="219.40" y1="121.00" x2="340.00" y2="121.00" stroke="#383838" stroke-width="1.3" />
<line x1="217.80" y1="121.00" x2="220.00" y2="121.00" stroke="#383838" stroke-width="0.9" />
<line x1="217.80" y1="67.20" x2="220.00" y2="67.20" stroke="#383838" stroke-width="0.9" />
<line x1="217.80" y1="13.40" x2="220.00" y2="13.40" stroke="#383838" stroke-width="0.9" />
<line x1="217.80" y1="94.10" x2="220.00" y2="94.10" stroke="#383838" stroke-width="0.9" />
<line x1="217.80" y1="40.30" x2="220.00" y2="40.30" stroke="#383838" stroke-width="0.9" />
<line x1="280.00" y1="121.00" x2="280.00" y2="123.00" stroke="#383838" stroke-width="0.9" />
<line x1="340.00" y1="121.00" x2="340.00" y2="123.00" stroke="#383838" stroke-width="0.9" />
<path d="M220.50,119.40 L227.23,119.13 L236.74,118.76 L247.91,118.32 L259.59,117.84 L270.67,117.36 L280.00,116.90 L287.70,116.45 L294.71,115.99 L301.10,115.52 L306.97,115.06 L312.41,114.62 L317.50,114.21 L322.31,113.82 L326.77,113.43 L330.79,113.06 L334.30,112.73 L337.20,112.46 L339.40,112.25 L339.40,114.25 L337.20,114.43 L334.30,114.68 L330.79,114.97 L326.77,115.30 L322.31,115.64 L317.50,115.99 L312.41,116.34 L306.97,116.73 L301.10,117.13 L294.71,117.54 L287.70,117.93 L280.00,118.30 L270.67,118.66 L259.59,119.03 L247.91,119.40 L236.74,119.72 L227.23,120.00 L220.50,120.20 Z" fill="#c4aee0" fill-opacity="0.5" stroke="#c4aee0" stroke-width="0.6" stroke-opacity="0.9"/>
<path d="M220.50,119.30 L227.37,118.97 L237.20,118.51 L248.69,117.98 L260.52,117.42 L271.39,116.89 L280.00,116.45 L286.31,116.10 L291.35,115.79 L295.44,115.52 L298.87,115.27 L301.96,115.03 L305.00,114.78 L307.70,114.57 L309.74,114.41 L311.44,114.26 L313.10,114.07 L315.02,113.82 L317.50,113.45 L320.86,112.90 L324.91,112.20 L329.23,111.42 L333.37,110.66 L336.91,110.01 L339.40,109.55 L339.40,111.95 L336.91,112.37 L333.37,112.97 L329.23,113.68 L324.91,114.40 L320.86,115.05 L317.50,115.55 L315.02,115.88 L313.10,116.11 L311.44,116.28 L309.74,116.41 L307.70,116.54 L305.00,116.72 L301.96,116.92 L298.87,117.12 L295.44,117.33 L291.35,117.55 L286.31,117.78 L280.00,118.05 L271.39,118.37 L260.52,118.76 L248.69,119.16 L237.20,119.54 L227.37,119.87 L220.50,120.10 Z" fill="#a6cbef" fill-opacity="0.5" stroke="#a6cbef" stroke-width="0.6" stroke-opacity="0.9"/>
<path d="M220.50,119.20 L223.70,119.06 L228.13,118.89 L233.38,118.68 L239.04,118.44 L244.71,118.17 L250.00,117.88 L255.17,117.54 L260.61,117.16 L266.06,116.75 L271.28,116.34 L276.01,115.93 L280.00,115.55 L283.10,115.21 L285.46,114.88 L287.34,114.57 L288.98,114.25 L290.62,113.92 L292.50,113.56 L294.58,113.17 L296.67,112.78 L298.75,112.38 L300.83,111.92 L302.92,111.41 L305.00,110.85 L307.08,110.23 L309.17,109.57 L311.25,108.87 L313.33,108.15 L315.42,107.43 L317.50,106.72 L319.62,106.03 L321.78,105.32 L323.94,104.62 L326.06,103.92 L328.10,103.24 L330.00,102.60 L331.85,101.95 L333.71,101.29 L335.48,100.65 L337.08,100.07 L338.41,99.58 L339.40,99.22 L339.40,103.58 L338.41,103.88 L337.08,104.29 L335.48,104.78 L333.71,105.32 L331.85,105.87 L330.00,106.40 L328.10,106.93 L326.06,107.48 L323.94,108.05 L321.78,108.63 L319.62,109.21 L317.50,109.78 L315.42,110.35 L313.33,110.95 L311.25,111.54 L309.17,112.12 L307.08,112.66 L305.00,113.15 L302.92,113.58 L300.83,113.97 L298.75,114.36 L296.67,114.73 L294.58,115.09 L292.50,115.44 L290.62,115.78 L288.98,116.09 L287.34,116.38 L285.46,116.67 L283.10,116.95 L280.00,117.25 L276.01,117.57 L271.28,117.91 L266.06,118.25 L260.61,118.57 L255.17,118.87 L250.00,119.12 L244.71,119.34 L239.04,119.52 L233.38,119.68 L228.13,119.81 L223.70,119.92 L220.50,120.00 Z" fill="#9edcae" fill-opacity="0.5" stroke="#9edcae" stroke-width="0.6" stroke-opacity="0.9"/>
<path d="M220.50,118.99 L223.06,118.85 L226.70,118.67 L230.97,118.45 L235.41,118.19 L239.57,117.89 L243.00,117.54 L245.66,117.13 L247.91,116.65 L249.88,116.12 L251.70,115.58 L253.53,115.04 L255.50,114.54 L257.59,114.07 L259.69,113.60 L261.78,113.15 L263.87,112.70 L265.95,112.24 L268.00,111.79 L270.02,111.36 L272.02,110.91 L274.00,110.46 L275.98,109.97 L277.98,109.41 L280.00,108.75 L282.05,108.00 L284.13,107.20 L286.22,106.33 L288.31,105.37 L290.41,104.31 L292.50,103.12 L294.58,101.82 L296.67,100.42 L298.75,98.91 L300.83,97.32 L302.92,95.68 L305.00,93.94 L307.08,92.05 L309.17,90.00 L311.25,87.84 L313.33,85.64 L315.42,83.43 L317.50,81.28 L319.63,79.14 L321.81,76.95 L323.98,74.76 L326.11,72.61 L328.13,70.55 L330.00,68.62 L331.78,66.75 L333.52,64.87 L335.16,63.08 L336.62,61.46 L337.84,60.11 L338.75,59.12 L338.75,66.08 L337.84,67.06 L336.62,68.38 L335.16,69.96 L333.52,71.71 L331.78,73.54 L330.00,75.38 L328.13,77.26 L326.11,79.26 L323.98,81.36 L321.81,83.49 L319.63,85.63 L317.50,87.72 L315.42,89.82 L313.33,91.97 L311.25,94.12 L309.17,96.23 L307.08,98.22 L305.00,100.06 L302.92,101.76 L300.83,103.34 L298.75,104.78 L296.67,106.08 L294.58,107.28 L292.50,108.38 L290.41,109.35 L288.31,110.20 L286.22,110.95 L284.13,111.61 L282.05,112.21 L280.00,112.75 L277.98,113.21 L275.98,113.57 L274.00,113.86 L272.02,114.11 L270.02,114.36 L268.00,114.71 L265.95,115.08 L263.87,115.45 L261.78,115.82 L259.69,116.19 L257.59,116.57 L255.50,116.96 L253.53,117.38 L251.70,117.85 L249.88,118.32 L247.91,118.76 L245.66,119.15 L243.00,119.46 L239.57,119.67 L235.41,119.81 L230.97,119.89 L226.70,119.94 L223.06,119.97 L220.50,120.01 Z" fill="#fbe39a" fill-opacity="0.5" stroke="#fbe39a" stroke-width="0.6" stroke-opacity="0.9"/>
<path d="M220.50,118.74 L221.56,118.68 L223.00,118.61 L224.72,118.52 L226.61,118.41 L228.57,118.27 L230.50,118.10 L232.44,117.90 L234.48,117.69 L236.59,117.45 L238.74,117.17 L240.89,116.84 L243.00,116.44 L245.08,115.98 L247.17,115.45 L249.25,114.87 L251.33,114.25 L253.42,113.62 L255.50,112.99 L257.59,112.35 L259.69,111.69 L261.78,111.01 L263.87,110.32 L265.95,109.60 L268.00,108.88 L270.02,108.17 L272.02,107.50 L274.00,106.81 L275.98,106.05 L277.98,105.20 L280.00,104.19 L282.05,103.05 L284.13,101.84 L286.22,100.52 L288.31,99.07 L290.41,97.45 L292.50,95.58 L294.64,93.44 L296.85,91.02 L299.06,88.45 L301.20,85.84 L303.21,83.31 L305.00,80.98 L306.52,78.88 L307.82,76.94 L308.98,75.08 L310.09,73.22 L311.24,71.29 L312.50,69.08 L313.89,66.50 L315.32,63.84 L316.80,61.09 L318.29,58.27 L319.78,55.37 L321.25,52.42 L322.70,49.47 L324.13,46.55 L325.56,43.56 L327.01,40.40 L328.48,37.00 L330.00,33.25 L331.68,28.83 L333.54,23.65 L335.42,18.22 L337.19,13.04 L338.68,8.64 L339.75,5.52 L339.75,30.98 L338.68,33.50 L337.19,37.07 L335.42,41.25 L333.54,45.63 L331.68,49.77 L330.00,53.25 L328.48,55.99 L327.01,58.41 L325.56,60.60 L324.13,62.64 L322.70,64.60 L321.25,66.58 L319.78,68.56 L318.29,70.46 L316.80,72.29 L315.32,74.05 L313.89,75.76 L312.50,77.42 L311.24,79.19 L310.09,80.96 L308.98,82.67 L307.82,84.37 L306.52,86.14 L305.00,88.02 L303.21,90.11 L301.20,92.37 L299.06,94.69 L296.85,96.96 L294.64,99.07 L292.50,100.92 L290.41,102.50 L288.31,103.97 L286.22,105.30 L284.13,106.50 L282.05,107.60 L280.00,108.61 L277.98,109.51 L275.98,110.25 L274.00,110.89 L272.02,111.47 L270.02,112.03 L268.00,112.62 L265.95,113.23 L263.87,113.82 L261.78,114.40 L259.69,114.95 L257.59,115.49 L255.50,116.01 L253.42,116.53 L251.33,117.04 L249.25,117.54 L247.17,118.00 L245.08,118.41 L243.00,118.76 L240.89,119.03 L238.74,119.24 L236.59,119.40 L234.48,119.52 L232.44,119.61 L230.50,119.70 L228.57,119.76 L226.61,119.79 L224.72,119.79 L223.00,119.78 L221.56,119.77 L220.50,119.76 Z" fill="#f4a3a0" fill-opacity="0.5" stroke="#f4a3a0" stroke-width="0.6" stroke-opacity="0.9"/>
<path d="M220.50,119.80 L227.23,119.56 L236.74,119.24 L247.91,118.86 L259.59,118.44 L270.67,118.01 L280.00,117.60 L287.70,117.19 L294.71,116.76 L301.10,116.33 L306.97,115.90 L312.41,115.48 L317.50,115.10 L322.31,114.73 L326.77,114.37 L330.79,114.02 L334.30,113.71 L337.20,113.44 L339.40,113.25" fill="none" stroke="#6b3fa0" stroke-width="1.3" stroke-linejoin="round" stroke-linecap="round"/>
<path d="M220.50,119.70 L227.37,119.42 L237.20,119.03 L248.69,118.57 L260.52,118.09 L271.39,117.63 L280.00,117.25 L286.31,116.94 L291.35,116.67 L295.44,116.42 L298.87,116.20 L301.96,115.97 L305.00,115.75 L307.70,115.56 L309.74,115.41 L311.44,115.27 L313.10,115.09 L315.02,114.85 L317.50,114.50 L320.86,113.98 L324.91,113.30 L329.23,112.55 L333.37,111.81 L336.91,111.19 L339.40,110.75" fill="none" stroke="#2f6db5" stroke-width="1.3" stroke-linejoin="round" stroke-linecap="round"/>
<path d="M220.50,119.60 L223.70,119.49 L228.13,119.35 L233.38,119.18 L239.04,118.98 L244.71,118.75 L250.00,118.50 L255.17,118.21 L260.61,117.87 L266.06,117.50 L271.28,117.12 L276.01,116.75 L280.00,116.40 L283.10,116.08 L285.46,115.77 L287.34,115.48 L288.98,115.17 L290.62,114.85 L292.50,114.50 L294.58,114.13 L296.67,113.76 L298.75,113.37 L300.83,112.95 L302.92,112.50 L305.00,112.00 L307.08,111.45 L309.17,110.84 L311.25,110.20 L313.33,109.55 L315.42,108.89 L317.50,108.25 L319.62,107.62 L321.78,106.98 L323.94,106.33 L326.06,105.70 L328.10,105.09 L330.00,104.50 L331.85,103.91 L333.71,103.30 L335.48,102.72 L337.08,102.18 L338.41,101.73 L339.40,101.40" fill="none" stroke="#2fa84f" stroke-width="1.3" stroke-linejoin="round" stroke-linecap="round"/>
<path d="M220.50,119.50 L223.06,119.41 L226.70,119.31 L230.97,119.17 L235.41,119.00 L239.57,118.78 L243.00,118.50 L245.66,118.14 L247.91,117.70 L249.88,117.22 L251.70,116.71 L253.53,116.21 L255.50,115.75 L257.59,115.32 L259.69,114.90 L261.78,114.48 L263.87,114.07 L265.95,113.66 L268.00,113.25 L270.02,112.86 L272.02,112.51 L274.00,112.16 L275.98,111.77 L277.98,111.31 L280.00,110.75 L282.05,110.10 L284.13,109.41 L286.22,108.64 L288.31,107.79 L290.41,106.83 L292.50,105.75 L294.58,104.55 L296.67,103.25 L298.75,101.84 L300.83,100.33 L302.92,98.72 L305.00,97.00 L307.08,95.13 L309.17,93.11 L311.25,90.98 L313.33,88.81 L315.42,86.63 L317.50,84.50 L319.63,82.38 L321.81,80.22 L323.98,78.06 L326.11,75.94 L328.13,73.90 L330.00,72.00 L331.78,70.15 L333.52,68.29 L335.16,66.52 L336.62,64.92 L337.84,63.59 L338.75,62.60" fill="none" stroke="#f3c13a" stroke-width="1.3" stroke-linejoin="round" stroke-linecap="round"/>
<path d="M220.50,119.25 L221.56,119.22 L223.00,119.19 L224.72,119.16 L226.61,119.10 L228.57,119.02 L230.50,118.90 L232.44,118.76 L234.48,118.60 L236.59,118.42 L238.74,118.20 L240.89,117.93 L243.00,117.60 L245.08,117.20 L247.17,116.72 L249.25,116.20 L251.33,115.65 L253.42,115.08 L255.50,114.50 L257.59,113.92 L259.69,113.32 L261.78,112.70 L263.87,112.07 L265.95,111.42 L268.00,110.75 L270.02,110.10 L272.02,109.49 L274.00,108.85 L275.98,108.15 L277.98,107.35 L280.00,106.40 L282.05,105.33 L284.13,104.17 L286.22,102.91 L288.31,101.52 L290.41,99.98 L292.50,98.25 L294.64,96.25 L296.85,93.99 L299.06,91.57 L301.20,89.11 L303.21,86.71 L305.00,84.50 L306.52,82.51 L307.82,80.66 L308.98,78.88 L310.09,77.09 L311.24,75.24 L312.50,73.25 L313.89,71.13 L315.32,68.94 L316.80,66.69 L318.29,64.36 L319.78,61.97 L321.25,59.50 L322.70,57.04 L324.13,54.59 L325.56,52.08 L327.01,49.41 L328.48,46.49 L330.00,43.25 L331.68,39.30 L333.54,34.64 L335.42,29.73 L337.19,25.06 L338.68,21.07 L339.75,18.25" fill="none" stroke="#e3342f" stroke-width="1.4" stroke-linejoin="round" stroke-linecap="round"/>
<text x="216.00" y="124.40" font-size="8.2" text-anchor="end" fill="#111" font-weight="bold" textLength="11.20" lengthAdjust="spacingAndGlyphs" >0.0</text>
<text x="216.00" y="70.60" font-size="8.2" text-anchor="end" fill="#111" font-weight="bold" textLength="11.20" lengthAdjust="spacingAndGlyphs" >0.3</text>
<text x="216.00" y="16.80" font-size="8.2" text-anchor="end" fill="#111" font-weight="bold" textLength="11.20" lengthAdjust="spacingAndGlyphs" >0.6</text>
<text x="219.80" y="134.30" font-size="8.2" text-anchor="middle" fill="#111" font-weight="bold" textLength="4.60" lengthAdjust="spacingAndGlyphs" >0</text>
<text x="279.80" y="134.30" font-size="8.2" text-anchor="middle" fill="#111" font-weight="bold" textLength="13.00" lengthAdjust="spacingAndGlyphs" >180</text>
<text x="339.50" y="134.30" font-size="8.2" text-anchor="middle" fill="#111" font-weight="bold" textLength="13.00" lengthAdjust="spacingAndGlyphs" >360</text>
<text x="277.70" y="144.55" font-size="8.8" text-anchor="middle" fill="#111" font-weight="bold" textLength="42.00" lengthAdjust="spacingAndGlyphs" >Time (min)</text>
<text x="185.80" y="70.00" font-size="8.6" text-anchor="middle" fill="#111" font-weight="bold" textLength="46.00" lengthAdjust="spacingAndGlyphs" transform="rotate(-90.00 185.80 70.00)" >Normalized</text>
<text x="196.20" y="71.40" font-size="8.6" text-anchor="middle" fill="#111" font-weight="bold" textLength="90.00" lengthAdjust="spacingAndGlyphs" transform="rotate(-90.00 196.20 71.40)" >grayscale value (a.u.)</text>
<line x1="224.30" y1="15.00" x2="231.80" y2="15.00" stroke="#e3342f" stroke-width="1.8" />
<text x="235.60" y="17.80" font-size="8.4" text-anchor="start" fill="#111" font-weight="bold" textLength="39.15" lengthAdjust="spacingAndGlyphs" >0.8 μg/mL</text>
<line x1="224.30" y1="24.50" x2="231.80" y2="24.50" stroke="#f3c13a" stroke-width="1.8" />
<text x="235.60" y="27.30" font-size="8.4" text-anchor="start" fill="#111" font-weight="bold" textLength="39.15" lengthAdjust="spacingAndGlyphs" >5.3 μg/mL</text>
<line x1="224.30" y1="34.00" x2="231.80" y2="34.00" stroke="#2fa84f" stroke-width="1.8" />
<text x="235.60" y="36.80" font-size="8.4" text-anchor="start" fill="#111" font-weight="bold" textLength="43.50" lengthAdjust="spacingAndGlyphs" >17.5 μg/mL</text>
<line x1="224.30" y1="43.50" x2="231.80" y2="43.50" stroke="#2f6db5" stroke-width="1.8" />
<text x="235.60" y="46.30" font-size="8.4" text-anchor="start" fill="#111" font-weight="bold" textLength="43.50" lengthAdjust="spacingAndGlyphs" >28.2 μg/mL</text>
<line x1="224.30" y1="53.00" x2="231.80" y2="53.00" stroke="#6b3fa0" stroke-width="1.8" />
<text x="235.60" y="55.80" font-size="8.4" text-anchor="start" fill="#111" font-weight="bold" textLength="43.50" lengthAdjust="spacingAndGlyphs" >31.2 μg/mL</text>
<line x1="390.00" y1="13.40" x2="390.00" y2="121.60" stroke="#383838" stroke-width="1.3" />
<line x1="389.40" y1="121.00" x2="510.00" y2="121.00" stroke="#383838" stroke-width="1.3" />
<line x1="387.80" y1="121.00" x2="390.00" y2="121.00" stroke="#383838" stroke-width="0.9" />
<line x1="387.80" y1="67.20" x2="390.00" y2="67.20" stroke="#383838" stroke-width="0.9" />
<line x1="387.80" y1="13.40" x2="390.00" y2="13.40" stroke="#383838" stroke-width="0.9" />
<line x1="387.80" y1="94.10" x2="390.00" y2="94.10" stroke="#383838" stroke-width="0.9" />
<line x1="387.80" y1="40.30" x2="390.00" y2="40.30" stroke="#383838" stroke-width="0.9" />
<line x1="420.00" y1="121.00" x2="420.00" y2="123.00" stroke="#383838" stroke-width="0.9" />
<line x1="450.00" y1="121.00" x2="450.00" y2="123.00" stroke="#383838" stroke-width="0.9" />
<line x1="480.00" y1="121.00" x2="480.00" y2="123.00" stroke="#383838" stroke-width="0.9" />
<line x1="510.00" y1="121.00" x2="510.00" y2="123.00" stroke="#383838" stroke-width="0.9" />
<path d="M390.40,118.45 L509.00,118.20 L509.00,119.80 L390.40,120.05 Z" fill="#8a90c0" fill-opacity="0.5" stroke="#8a90c0" stroke-width="0.6" stroke-opacity="0.9"/>
<path d="M390.40,117.30 L509.00,117.60 L509.00,119.60 L390.40,119.30 Z" fill="#a9cdee" fill-opacity="0.5" stroke="#a9cdee" stroke-width="0.6" stroke-opacity="0.9"/>
<path d="M390.40,113.50 L398.20,114.19 L411.00,115.00 L428.66,115.53 L451.00,116.00 L482.50,116.56 L509.00,117.00 L509.00,119.00 L482.50,118.56 L451.00,118.00 L428.66,117.53 L411.00,117.00 L398.20,116.19 L390.40,115.50 Z" fill="#b7e0a0" fill-opacity="0.5" stroke="#b7e0a0" stroke-width="0.6" stroke-opacity="0.9"/>
<path d="M390.40,89.56 L391.72,91.10 L393.50,93.05 L395.10,94.82 L397.25,96.38 L400.61,97.31 L404.75,98.92 L409.67,101.82 L414.75,104.58 L419.12,105.61 L423.50,106.24 L428.50,107.37 L433.50,108.49 L437.95,109.33 L442.25,110.02 L445.80,110.63 L451.00,111.33 L461.77,112.38 L473.00,113.34 L479.14,113.60 L485.50,113.83 L498.16,114.69 L509.25,115.49 L509.25,118.51 L498.16,117.86 L485.50,117.17 L479.14,117.04 L473.00,116.86 L461.77,116.07 L451.00,115.17 L445.80,114.55 L442.25,113.98 L437.95,113.49 L433.50,113.01 L428.50,112.29 L423.50,111.56 L419.12,111.28 L414.75,110.62 L409.67,108.53 L404.75,106.28 L400.61,105.23 L397.25,103.82 L395.10,101.84 L393.50,99.75 L391.72,97.44 L390.40,95.64 Z" fill="#f7bf98" fill-opacity="0.5" stroke="#f7bf98" stroke-width="0.6" stroke-opacity="0.9"/>
<path d="M390.40,16.25 L391.09,20.31 L392.25,26.25 L393.85,33.83 L396.00,41.25 L398.97,44.45 L402.25,48.00 L405.45,52.73 L408.50,58.83 L410.77,66.33 L413.50,73.10 L418.19,76.94 L423.50,80.00 L428.73,82.29 L433.50,83.90 L436.94,85.76 L439.75,87.00 L442.44,87.99 L444.75,88.90 L446.22,90.57 L448.00,92.90 L451.33,96.49 L455.50,98.95 L460.42,99.66 L465.50,100.23 L469.88,102.20 L474.25,104.10 L479.09,104.49 L484.25,104.79 L489.64,106.21 L495.50,107.98 L503.08,109.94 L509.25,111.49 L509.25,115.51 L503.08,114.05 L495.50,112.22 L489.64,110.54 L484.25,109.21 L479.09,109.00 L474.25,108.70 L469.88,106.87 L465.50,104.97 L460.42,104.49 L455.50,103.85 L451.33,101.47 L448.00,99.90 L446.22,99.35 L444.75,98.90 L442.44,97.99 L439.75,97.00 L436.94,95.76 L433.50,93.90 L428.73,89.09 L423.50,84.00 L418.19,80.94 L413.50,77.10 L410.77,71.16 L408.50,65.17 L405.45,60.73 L402.25,56.00 L398.97,51.42 L396.00,45.25 L393.85,37.83 L392.25,30.25 L391.09,24.31 L390.40,20.25 Z" fill="#f1a0a0" fill-opacity="0.5" stroke="#f1a0a0" stroke-width="0.6" stroke-opacity="0.9"/>
<path d="M390.40,119.25 L509.00,119.00" fill="none" stroke="#1f2869" stroke-width="1.3" stroke-linejoin="round" stroke-linecap="round"/>
<path d="M390.40,118.30 L509.00,118.60" fill="none" stroke="#5ea3d9" stroke-width="1.3" stroke-linejoin="round" stroke-linecap="round"/>
<path d="M390.40,114.50 L398.20,115.19 L411.00,116.00 L428.66,116.53 L451.00,117.00 L482.50,117.56 L509.00,118.00" fill="none" stroke="#5cab3c" stroke-width="1.3" stroke-linejoin="round" stroke-linecap="round"/>
<path d="M390.40,92.60 L391.72,94.27 L393.50,96.40 L395.10,98.33 L397.25,100.10 L400.61,101.27 L404.75,102.60 L409.67,105.17 L414.75,107.60 L419.12,108.45 L423.50,108.90 L428.50,109.83 L433.50,110.75 L437.95,111.41 L442.25,112.00 L445.80,112.59 L451.00,113.25 L461.77,114.23 L473.00,115.10 L479.14,115.32 L485.50,115.50 L498.16,116.28 L509.25,117.00" fill="none" stroke="#ea7d3c" stroke-width="1.3" stroke-linejoin="round" stroke-linecap="round"/>
<path d="M390.40,18.25 L391.09,22.31 L392.25,28.25 L393.85,35.83 L396.00,43.25 L398.97,47.94 L402.25,52.00 L405.45,56.73 L408.50,62.00 L410.77,68.74 L413.50,75.10 L418.19,78.94 L423.50,82.00 L428.73,85.69 L433.50,88.90 L436.94,90.76 L439.75,92.00 L442.44,92.99 L444.75,93.90 L446.22,94.96 L448.00,96.40 L451.33,98.98 L455.50,101.40 L460.42,102.08 L465.50,102.60 L469.88,104.54 L474.25,106.40 L479.09,106.74 L484.25,107.00 L489.64,108.37 L495.50,110.10 L503.08,111.99 L509.25,113.50" fill="none" stroke="#c81e2a" stroke-width="1.6" stroke-linejoin="round" stroke-linecap="round"/>
<text x="386.20" y="124.40" font-size="8.2" text-anchor="end" fill="#111" font-weight="bold" textLength="11.20" lengthAdjust="spacingAndGlyphs" >0.0</text>
<text x="386.20" y="70.60" font-size="8.2" text-anchor="end" fill="#111" font-weight="bold" textLength="11.20" lengthAdjust="spacingAndGlyphs" >0.3</text>
<text x="386.20" y="16.80" font-size="8.2" text-anchor="end" fill="#111" font-weight="bold" textLength="11.20" lengthAdjust="spacingAndGlyphs" >0.6</text>
<text x="389.30" y="134.30" font-size="8.2" text-anchor="middle" fill="#111" font-weight="bold" textLength="14.40" lengthAdjust="spacingAndGlyphs" >0.76</text>
<text x="450.00" y="134.30" font-size="8.2" text-anchor="middle" fill="#111" font-weight="bold" textLength="19.25" lengthAdjust="spacingAndGlyphs" >16.00</text>
<text x="508.70" y="134.30" font-size="8.2" text-anchor="middle" fill="#111" font-weight="bold" textLength="19.75" lengthAdjust="spacingAndGlyphs" >31.24</text>
<text x="449.60" y="144.55" font-size="8.8" text-anchor="middle" fill="#111" font-weight="bold" textLength="97.50" lengthAdjust="spacingAndGlyphs" >Concentration (μg·mL<tspan dy="-3" font-size="5.5">-1</tspan><tspan dy="3">)</tspan></text>
<text x="354.80" y="70.00" font-size="8.6" text-anchor="middle" fill="#111" font-weight="bold" textLength="46.00" lengthAdjust="spacingAndGlyphs" transform="rotate(-90.00 354.80 70.00)" >Normalized</text>
<text x="365.80" y="71.40" font-size="8.6" text-anchor="middle" fill="#111" font-weight="bold" textLength="90.00" lengthAdjust="spacingAndGlyphs" transform="rotate(-90.00 365.80 71.40)" >grayscale value (a.u.)</text>
<line x1="466.90" y1="14.40" x2="474.40" y2="14.40" stroke="#c81e2a" stroke-width="1.8" />
<text x="509.00" y="17.20" font-size="8.3" text-anchor="end" fill="#111" font-weight="bold" >360 min</text>
<line x1="466.90" y1="24.00" x2="474.40" y2="24.00" stroke="#ea7d3c" stroke-width="1.8" />
<text x="509.00" y="26.80" font-size="8.3" text-anchor="end" fill="#111" font-weight="bold" >240 min</text>
<line x1="466.90" y1="33.50" x2="474.40" y2="33.50" stroke="#5cab3c" stroke-width="1.8" />
<text x="509.00" y="36.30" font-size="8.3" text-anchor="end" fill="#111" font-weight="bold" >120 min</text>
<line x1="466.90" y1="43.00" x2="474.40" y2="43.00" stroke="#5ea3d9" stroke-width="1.8" />
<text x="509.00" y="45.80" font-size="8.3" text-anchor="end" fill="#111" font-weight="bold" >60 min</text>
<line x1="466.90" y1="52.50" x2="474.40" y2="52.50" stroke="#1f2869" stroke-width="1.8" />
<text x="509.00" y="55.30" font-size="8.3" text-anchor="end" fill="#111" font-weight="bold" >30 min</text>
</g>
<g transform="translate(0 301.4)">
<text x="0.50" y="8.20" font-size="9.6" text-anchor="start" fill="#111" font-weight="bold" textLength="11.50" lengthAdjust="spacingAndGlyphs" >(c)</text>
<text x="19.60" y="8.20" font-size="9.8" text-anchor="start" fill="#111" font-weight="bold" textLength="19.00" lengthAdjust="spacingAndGlyphs" >LEV</text>
</g>
<g transform="translate(0 303.2)">
<line x1="41.0" y1="32.80" x2="41.0" y2="93.3" stroke="#383838" stroke-width="1.1"/>
<line x1="38.4" y1="92.80" x2="41.0" y2="92.80" stroke="#383838" stroke-width="1"/>
<line x1="38.4" y1="32.80" x2="41.0" y2="32.80" stroke="#383838" stroke-width="1"/>
<line x1="38.4" y1="62.80" x2="41.0" y2="62.80" stroke="#383838" stroke-width="1"/>
<text x="35.40" y="95.80" font-size="8.2" text-anchor="end" fill="#111" font-weight="bold" textLength="4.60" lengthAdjust="spacingAndGlyphs" >0</text>
<text x="35.00" y="36.40" font-size="8.2" text-anchor="end" fill="#111" font-weight="bold" textLength="11.20" lengthAdjust="spacingAndGlyphs" >0.4</text>
<polyline points="41.0,92.8 100.8,122.6 163.1,92.1" fill="none" stroke="#383838" stroke-width="0.8"/>
<line x1="41.00" y1="92.80" x2="41.00" y2="95.10" stroke="#1a1a1a" stroke-width="1.3"/>
<line x1="55.95" y1="100.25" x2="55.95" y2="102.55" stroke="#1a1a1a" stroke-width="1.3"/>
<line x1="70.90" y1="107.70" x2="70.90" y2="110.00" stroke="#1a1a1a" stroke-width="1.3"/>
<line x1="85.85" y1="115.15" x2="85.85" y2="117.45" stroke="#1a1a1a" stroke-width="1.3"/>
<line x1="100.80" y1="122.60" x2="100.80" y2="124.90" stroke="#1a1a1a" stroke-width="1.3"/>
<line x1="100.80" y1="122.60" x2="100.80" y2="124.90" stroke="#1a1a1a" stroke-width="1.3"/>
<line x1="116.38" y1="114.97" x2="116.38" y2="117.27" stroke="#1a1a1a" stroke-width="1.3"/>
<line x1="131.95" y1="107.35" x2="131.95" y2="109.65" stroke="#1a1a1a" stroke-width="1.3"/>
<line x1="147.52" y1="99.72" x2="147.52" y2="102.02" stroke="#1a1a1a" stroke-width="1.3"/>
<line x1="163.10" y1="92.10" x2="163.10" y2="94.40" stroke="#1a1a1a" stroke-width="1.3"/>
<path class="s0" d="M41.0 91.7L42.0 92.1L43.7 90.9L42.7 90.6ZM42.7 90.6L43.7 90.9L45.4 89.6L44.5 89.4ZM44.5 89.4L45.4 89.6L47.2 88.3L46.2 88.1ZM46.2 88.1L47.2 88.3L48.9 86.8L47.9 86.7ZM47.9 86.7L48.9 86.8L50.6 85.4L49.7 85.3ZM49.7 85.3L50.6 85.4L52.3 84.0L51.4 83.8ZM51.4 83.8L52.3 84.0L54.1 82.0L53.1 81.9ZM53.1 81.9L54.1 82.0L54.5 81.5L54.3 80.7ZM42.0 92.1L43.4 92.8L45.1 91.5L43.7 90.9ZM43.7 90.9L45.1 91.5L46.8 90.1L45.4 89.6ZM45.4 89.6L46.8 90.1L48.6 88.8L47.2 88.3ZM47.2 88.3L48.6 88.8L50.3 87.4L48.9 86.8ZM48.9 86.8L50.3 87.4L52.0 86.0L50.6 85.4ZM50.6 85.4L52.0 86.0L53.7 84.5L52.3 84.0ZM52.3 84.0L53.7 84.5L55.5 82.5L54.1 82.0ZM54.1 82.0L55.5 82.5L55.6 82.3L54.5 81.5ZM43.4 92.8L45.0 93.6L46.7 92.3L45.1 91.5ZM45.1 91.5L46.7 92.3L48.5 91.0L46.8 90.1ZM46.8 90.1L48.5 91.0L50.2 89.6L48.6 88.8ZM48.6 88.8L50.2 89.6L51.9 88.3L50.3 87.4ZM50.3 87.4L51.9 88.3L53.7 86.9L52.0 86.0ZM52.0 86.0L53.7 86.9L55.4 85.5L53.7 84.5ZM53.7 84.5L55.4 85.5L57.1 83.5L55.5 82.5ZM55.5 82.5L57.1 83.5L57.5 83.0L55.6 82.3ZM45.0 93.6L46.8 94.5L48.6 93.2L46.7 92.3ZM46.7 92.3L48.6 93.2L50.3 91.8L48.5 91.0ZM48.5 91.0L50.3 91.8L52.0 90.4L50.2 89.6ZM50.2 89.6L52.0 90.4L53.7 89.1L51.9 88.3ZM51.9 88.3L53.7 89.1L55.5 87.7L53.7 86.9ZM53.7 86.9L55.5 87.7L57.2 86.2L55.4 85.5ZM55.4 85.5L57.2 86.2L58.8 84.2L58.5 83.9L57.1 83.5ZM57.1 83.5L58.5 83.9L57.5 83.0ZM46.8 94.5L48.8 95.3L50.5 93.9L48.6 93.2ZM48.6 93.2L50.5 93.9L52.2 92.5L50.3 91.8ZM50.3 91.8L52.2 92.5L54.0 91.1L52.0 90.4ZM52.0 90.4L54.0 91.1L55.7 89.6L53.7 89.1ZM53.7 89.1L55.7 89.6L57.4 88.2L55.5 87.7ZM55.5 87.7L57.4 88.2L59.2 86.6L57.2 86.2ZM57.2 86.2L59.2 86.6L59.9 85.6L58.8 84.2ZM48.8 95.3L50.9 96.4L52.6 95.0L50.5 93.9ZM50.5 93.9L52.6 95.0L54.3 93.6L52.2 92.5ZM52.2 92.5L54.3 93.6L56.1 92.2L54.0 91.1ZM54.0 91.1L56.1 92.2L57.8 90.7L55.7 89.6ZM55.7 89.6L57.8 90.7L59.5 89.2L57.4 88.2ZM57.4 88.2L59.5 89.2L61.2 87.6L59.2 86.6ZM59.2 86.6L61.2 87.6L61.9 86.6L59.9 85.6ZM50.9 96.4L53.1 97.6L54.8 96.4L52.6 95.0ZM52.6 95.0L54.8 96.4L56.5 95.1L54.3 93.6ZM54.3 93.6L56.5 95.1L58.2 93.7L56.1 92.2ZM56.1 92.2L58.2 93.7L60.0 92.3L57.8 90.7ZM57.8 90.7L60.0 92.3L61.7 90.8L59.5 89.2ZM59.5 89.2L61.7 90.8L63.4 89.3L61.2 87.6ZM61.2 87.6L63.4 89.3L64.9 87.3L61.9 86.6ZM53.1 97.6L55.3 98.9L57.1 97.7L54.8 96.4ZM54.8 96.4L57.1 97.7L58.8 96.4L56.5 95.1ZM56.5 95.1L58.8 96.4L60.5 95.1L58.2 93.7ZM58.2 93.7L60.5 95.1L62.3 93.7L60.0 92.3ZM60.0 92.3L62.3 93.7L64.0 92.2L61.7 90.8ZM61.7 90.8L64.0 92.2L65.7 90.7L63.4 89.3ZM63.4 89.3L65.7 90.7L67.5 88.5L66.3 87.8L64.9 87.3ZM66.3 87.8L67.5 88.5L67.7 88.3ZM55.3 98.9L57.7 100.1L59.4 99.0L57.1 97.7ZM57.1 97.7L59.4 99.0L61.2 97.7L58.8 96.4ZM58.8 96.4L61.2 97.7L62.9 96.4L60.5 95.1ZM60.5 95.1L62.9 96.4L64.6 95.0L62.3 93.7ZM62.3 93.7L64.6 95.0L66.4 93.5L64.0 92.2ZM64.0 92.2L66.4 93.5L68.1 92.0L65.7 90.7ZM65.7 90.7L68.1 92.0L69.8 89.9L67.5 88.5ZM67.5 88.5L69.8 89.9L70.3 89.3L67.7 88.3ZM57.7 100.1L60.2 101.3L61.9 100.2L59.4 99.0ZM59.4 99.0L61.9 100.2L63.6 99.0L61.2 97.7ZM61.2 97.7L63.6 99.0L65.4 97.7L62.9 96.4ZM62.9 96.4L65.4 97.7L67.1 96.2L64.6 95.0ZM64.6 95.0L67.1 96.2L68.8 94.7L66.4 93.5ZM66.4 93.5L68.8 94.7L70.5 93.1L68.1 92.0ZM68.1 92.0L70.5 93.1L72.3 91.0L69.8 89.9ZM69.8 89.9L72.3 91.0L72.5 90.6L70.3 89.3ZM60.2 101.3L62.7 102.6L64.4 101.4L61.9 100.2ZM61.9 100.2L64.4 101.4L66.1 100.2L63.6 99.0ZM63.6 99.0L66.1 100.2L67.9 98.9L65.4 97.7ZM65.4 97.7L67.9 98.9L69.6 97.4L67.1 96.2ZM67.1 96.2L69.6 97.4L71.3 95.8L68.8 94.7ZM68.8 94.7L71.3 95.8L73.1 94.2L70.5 93.1ZM70.5 93.1L73.1 94.2L74.8 92.1L72.3 91.0ZM72.3 91.0L74.8 92.1L74.8 92.0L72.5 90.6ZM62.7 102.6L65.3 103.8L67.0 102.7L64.4 101.4ZM64.4 101.4L67.0 102.7L68.7 101.4L66.1 100.2ZM66.1 100.2L68.7 101.4L70.5 100.1L67.9 98.9ZM67.9 98.9L70.5 100.1L72.2 98.5L69.6 97.4ZM69.6 97.4L72.2 98.5L73.9 96.9L71.3 95.8ZM71.3 95.8L73.9 96.9L75.7 95.1L73.1 94.2ZM73.1 94.2L75.7 95.1L76.8 93.6L74.9 92.1L74.8 92.1ZM74.8 92.1L74.9 92.1L74.8 92.0ZM65.3 103.8L67.9 105.1L69.7 103.9L67.0 102.7ZM67.0 102.7L69.7 103.9L71.4 102.7L68.7 101.4ZM68.7 101.4L71.4 102.7L73.1 101.3L70.5 100.1ZM70.5 100.1L73.1 101.3L74.9 99.6L72.2 98.5ZM72.2 98.5L74.9 99.6L76.6 97.9L73.9 96.9ZM73.9 96.9L76.6 97.9L78.3 96.2L75.7 95.1ZM75.7 95.1L78.3 96.2L79.1 95.1L76.8 93.6ZM67.9 105.1L70.7 106.2L72.4 104.9L69.7 103.9ZM69.7 103.9L72.4 104.9L74.1 103.6L71.4 102.7ZM71.4 102.7L74.1 103.6L75.9 102.2L73.1 101.3ZM73.1 101.3L75.9 102.2L77.6 100.4L74.9 99.6ZM74.9 99.6L77.6 100.4L79.3 98.7L76.6 97.9ZM76.6 97.9L79.3 98.7L81.1 96.9L78.3 96.2ZM78.3 96.2L81.1 96.9L81.1 96.8L79.1 95.1ZM70.7 106.2L73.5 107.3L75.2 105.9L72.4 104.9ZM72.4 104.9L75.2 105.9L76.9 104.5L74.1 103.6ZM74.1 103.6L76.9 104.5L78.7 103.0L75.9 102.2ZM75.9 102.2L78.7 103.0L80.4 101.2L77.6 100.4ZM77.6 100.4L80.4 101.2L82.1 99.4L79.3 98.7ZM79.3 98.7L82.1 99.4L82.6 98.9L81.2 97.0L81.1 96.9ZM81.1 96.9L81.2 97.0L81.1 96.8ZM73.5 107.3L76.3 108.4L78.0 106.9L75.2 105.9ZM75.2 105.9L78.0 106.9L79.8 105.4L76.9 104.5ZM76.9 104.5L79.8 105.4L81.5 103.7L78.7 103.0ZM78.7 103.0L81.5 103.7L83.2 101.9L80.4 101.2ZM80.4 101.2L83.2 101.9L84.1 100.9L83.1 99.6L82.1 99.4ZM82.1 99.4L83.1 99.6L82.6 98.9ZM76.3 108.4L79.2 109.7L80.9 108.1L78.0 106.9ZM78.0 106.9L80.9 108.1L82.7 106.5L79.8 105.4ZM79.8 105.4L82.7 106.5L84.4 104.8L81.5 103.7ZM81.5 103.7L84.4 104.8L86.1 102.9L83.2 101.9ZM83.2 101.9L86.1 102.9L86.2 102.8L84.1 100.9ZM79.2 109.7L82.1 110.9L83.9 109.3L80.9 108.1ZM80.9 108.1L83.9 109.3L85.6 107.5L82.7 106.5ZM82.7 106.5L85.6 107.5L87.3 105.7L84.4 104.8ZM84.4 104.8L87.3 105.7L88.3 104.7L86.4 102.9L86.1 102.9ZM86.1 102.9L86.4 102.9L86.2 102.8ZM82.1 110.9L85.1 112.0L86.9 110.2L83.9 109.3ZM83.9 109.3L86.9 110.2L88.6 108.3L85.6 107.5ZM85.6 107.5L88.6 108.3L90.0 106.8L89.5 106.2L87.3 105.7ZM87.3 105.7L89.5 106.2L88.3 104.7ZM85.1 112.0L88.2 113.8L89.9 112.2L86.9 110.2ZM86.9 110.2L89.9 112.2L91.6 110.4L88.6 108.3ZM88.6 108.3L91.6 110.4L93.4 108.6L91.3 107.1L90.0 106.8ZM91.3 107.1L93.4 108.6L94.1 107.8ZM88.2 113.8L91.3 115.7L93.0 114.1L89.9 112.2ZM89.9 112.2L93.0 114.1L94.7 112.4L91.6 110.4ZM91.6 110.4L94.7 112.4L96.5 110.7L93.4 108.6ZM93.4 108.6L96.5 110.7L98.2 109.0L97.5 108.4L94.1 107.8ZM97.5 108.4L98.2 109.0L98.6 108.6ZM149.0 83.9L150.1 83.6L149.7 83.2ZM149.7 83.2L150.1 83.6L151.8 83.1L150.6 81.9ZM150.6 81.9L151.8 83.1L153.6 82.5L151.6 80.7ZM91.3 115.7L94.4 117.6L96.1 116.2L93.0 114.1ZM93.0 114.1L96.1 116.2L97.9 114.6L94.7 112.4ZM94.7 112.4L97.9 114.6L99.6 113.1L96.5 110.7ZM96.5 110.7L99.6 113.1L101.3 111.5L98.2 109.0ZM98.2 109.0L101.3 111.5L103.1 110.0L101.8 108.9L98.6 108.6ZM101.8 108.9L103.1 110.0L104.1 109.0ZM143.4 89.8L144.6 89.4L144.2 89.0ZM144.2 89.0L144.6 89.4L146.3 88.8L145.4 87.9ZM145.4 87.9L146.3 88.8L148.1 88.2L146.6 86.8ZM146.6 86.8L148.1 88.2L149.8 87.6L147.7 85.6ZM147.7 85.6L149.8 87.6L151.5 87.1L148.7 84.4ZM148.7 84.4L151.5 87.1L153.2 86.5L150.1 83.6L149.0 83.9ZM150.1 83.6L153.2 86.5L155.0 85.9L151.8 83.1ZM151.8 83.1L155.0 85.9L156.7 85.3L153.6 82.5ZM94.4 117.6L97.6 119.7L99.3 118.4L96.1 116.2ZM96.1 116.2L99.3 118.4L101.0 117.1L97.9 114.6ZM97.9 114.6L101.0 117.1L102.8 115.7L99.6 113.1ZM99.6 113.1L102.8 115.7L104.5 114.4L101.3 111.5ZM101.3 111.5L104.5 114.4L106.2 113.0L103.1 110.0ZM103.1 110.0L106.2 113.0L108.0 111.7L105.3 108.9L104.1 109.0ZM105.3 108.9L108.0 111.7L109.7 110.3L108.2 108.7ZM108.2 108.7L109.7 110.3L111.4 109.0L110.8 108.3ZM110.8 108.3L111.4 109.0L112.9 107.8ZM135.5 96.8L135.7 96.7L135.6 96.7ZM135.6 96.7L135.7 96.7L137.4 96.2L137.0 95.7ZM137.0 95.7L137.4 96.2L139.1 95.6L138.3 94.6ZM138.3 94.6L139.1 95.6L140.8 95.1L139.5 93.5ZM139.5 93.5L140.8 95.1L142.6 94.5L140.7 92.4ZM140.7 92.4L142.6 94.5L144.3 94.0L141.8 91.2ZM141.8 91.2L144.3 94.0L146.0 93.4L143.0 90.1ZM143.0 90.1L146.0 93.4L147.8 92.7L144.6 89.4L143.4 89.8ZM144.6 89.4L147.8 92.7L149.5 92.1L146.3 88.8ZM146.3 88.8L149.5 92.1L151.2 91.4L148.1 88.2ZM148.1 88.2L151.2 91.4L153.0 90.7L149.8 87.6ZM149.8 87.6L153.0 90.7L154.7 90.1L151.5 87.1ZM151.5 87.1L154.7 90.1L156.4 89.4L153.2 86.5ZM153.2 86.5L156.4 89.4L158.2 88.7L155.0 85.9ZM155.0 85.9L158.2 88.7L159.9 88.0L156.7 85.3ZM97.6 119.7L100.8 121.6L102.5 120.4L99.3 118.4ZM99.3 118.4L102.5 120.4L104.3 119.1L101.0 117.1ZM101.0 117.1L104.3 119.1L106.0 117.9L102.8 115.7ZM102.8 115.7L106.0 117.9L107.7 116.7L104.5 114.4ZM104.5 114.4L107.7 116.7L109.5 115.4L106.2 113.0ZM106.2 113.0L109.5 115.4L111.2 114.2L108.0 111.7ZM108.0 111.7L111.2 114.2L112.9 113.0L109.7 110.3ZM109.7 110.3L112.9 113.0L114.6 111.8L111.4 109.0ZM111.4 109.0L114.6 111.8L116.4 110.6L113.3 107.8L112.9 107.8ZM113.3 107.8L116.4 110.6L118.1 109.5L115.7 107.3ZM115.7 107.3L118.1 109.5L119.8 108.5L118.1 106.8ZM118.1 106.8L119.8 108.5L121.6 107.4L120.4 106.2ZM120.4 106.2L121.6 107.4L123.3 106.5L122.3 105.5ZM122.3 105.5L123.3 106.5L125.0 105.5L124.2 104.7ZM124.2 104.7L125.0 105.5L126.8 104.6L126.0 103.9ZM126.0 103.9L126.8 104.6L128.5 103.7L127.9 103.1ZM127.9 103.1L128.5 103.7L130.2 103.1L129.2 102.1ZM129.2 102.1L130.2 103.1L131.9 102.4L130.6 101.0ZM130.6 101.0L131.9 102.4L133.7 101.7L131.9 100.0ZM131.9 100.0L133.7 101.7L135.4 101.1L133.2 98.9ZM133.2 98.9L135.4 101.1L137.1 100.4L134.5 97.8ZM134.5 97.8L137.1 100.4L138.9 99.8L135.7 96.7L135.5 96.8ZM135.7 96.7L138.9 99.8L140.6 99.2L137.4 96.2ZM137.4 96.2L140.6 99.2L142.3 98.6L139.1 95.6ZM139.1 95.6L142.3 98.6L144.1 97.9L140.8 95.1ZM140.8 95.1L144.1 97.9L145.8 97.3L142.6 94.5ZM142.6 94.5L145.8 97.3L147.5 96.7L144.3 94.0ZM144.3 94.0L147.5 96.7L149.3 96.0L146.0 93.4ZM146.0 93.4L149.3 96.0L151.0 95.3L147.8 92.7ZM147.8 92.7L151.0 95.3L152.7 94.6L149.5 92.1ZM149.5 92.1L152.7 94.6L154.4 93.9L151.2 91.4ZM151.2 91.4L154.4 93.9L156.2 93.2L153.0 90.7ZM153.0 90.7L156.2 93.2L157.9 92.5L154.7 90.1ZM154.7 90.1L157.9 92.5L159.6 91.8L156.4 89.4ZM156.4 89.4L159.6 91.8L161.4 91.1L158.2 88.7ZM158.2 88.7L161.4 91.1L163.1 90.3L159.9 88.0Z"/><path class="s1" d="M54.5 81.5L55.8 80.0L54.8 80.0L54.3 80.7ZM54.8 80.0L55.8 80.0L57.5 77.7L56.6 77.7ZM56.6 77.7L57.5 77.7L59.3 75.0L58.3 75.1ZM58.3 75.1L59.3 75.0L60.5 72.9L60.0 72.2ZM55.6 82.3L57.2 80.5L55.8 80.0L54.5 81.5ZM55.8 80.0L57.2 80.5L58.9 78.4L57.5 77.7ZM57.5 77.7L58.9 78.4L60.7 75.6L59.3 75.0ZM59.3 75.0L60.7 75.6L61.9 73.6L60.5 72.9ZM57.5 83.0L58.9 81.5L57.2 80.5L55.6 82.3ZM57.2 80.5L58.9 81.5L60.6 79.4L58.9 78.4ZM58.9 78.4L60.6 79.4L62.3 76.7L60.7 75.6ZM60.7 75.6L62.3 76.7L63.8 74.3L61.9 73.6ZM58.8 84.2L58.9 84.0L58.5 83.9ZM58.5 83.9L58.9 84.0L60.7 81.9L58.9 81.5L57.5 83.0ZM58.9 81.5L60.7 81.9L62.4 79.7L60.6 79.4ZM60.6 79.4L62.4 79.7L64.1 76.8L62.3 76.7ZM62.3 76.7L64.1 76.8L64.9 75.6L63.8 74.3ZM59.9 85.6L60.9 84.3L58.9 84.0L58.8 84.2ZM58.9 84.0L60.9 84.3L62.6 81.9L60.7 81.9ZM60.7 81.9L62.6 81.9L64.4 79.4L62.4 79.7ZM62.4 79.7L64.4 79.4L65.6 77.2L65.2 76.5L64.1 76.8ZM64.1 76.8L65.2 76.5L64.9 75.6ZM61.9 86.6L63.0 85.2L60.9 84.3L59.9 85.6ZM60.9 84.3L63.0 85.2L64.7 82.8L62.6 81.9ZM62.6 81.9L64.7 82.8L66.4 80.3L64.4 79.4ZM64.4 79.4L66.4 80.3L67.6 78.2L65.6 77.2ZM64.9 87.3L65.2 87.0L63.0 85.2L61.9 86.6ZM63.0 85.2L65.2 87.0L66.9 84.8L64.7 82.8ZM64.7 82.8L66.9 84.8L68.6 82.6L66.4 80.3ZM66.4 80.3L68.6 82.6L70.4 79.9L69.2 78.5L67.6 78.2ZM69.2 78.5L70.4 79.9L71.2 78.7ZM66.3 87.8L65.2 87.0L64.9 87.3ZM65.2 87.0L66.3 87.8L67.7 88.3L69.2 86.4L66.9 84.8ZM66.9 84.8L69.2 86.4L70.9 84.2L68.6 82.6ZM68.6 82.6L70.9 84.2L72.6 81.8L70.4 79.9ZM70.4 79.9L72.6 81.8L74.4 79.4L74.3 79.3L71.2 78.7ZM74.3 79.3L74.4 79.4L74.4 79.3ZM117.5 58.2L117.6 58.2L117.6 58.1ZM70.3 89.3L71.6 87.8L69.2 86.4L67.7 88.3ZM69.2 86.4L71.6 87.8L73.3 85.6L70.9 84.2ZM70.9 84.2L73.3 85.6L75.0 83.4L72.6 81.8ZM72.6 81.8L75.0 83.4L76.7 81.1L74.4 79.4ZM74.4 79.4L76.7 81.1L77.4 80.2L74.4 79.3ZM113.0 62.8L113.1 62.8L113.0 62.7ZM113.0 62.7L113.1 62.8L114.8 62.4L113.9 61.4ZM113.9 61.4L114.8 62.4L116.5 61.9L115.1 60.3ZM115.1 60.3L116.5 61.9L118.3 61.3L116.3 59.2ZM116.3 59.2L118.3 61.3L120.0 60.7L117.6 58.2L117.5 58.2ZM72.5 90.6L74.0 88.8L71.6 87.8L70.3 89.3ZM71.6 87.8L74.0 88.8L75.7 86.7L73.3 85.6ZM73.3 85.6L75.7 86.7L77.5 84.5L75.0 83.4ZM75.0 83.4L77.5 84.5L79.2 82.2L76.7 81.1ZM76.7 81.1L79.2 82.2L79.8 81.4L77.4 80.2ZM113.0 65.2L113.8 65.0L113.0 64.4ZM113.0 64.4L113.8 65.0L115.5 64.6L113.1 62.8L113.0 62.8ZM113.1 62.8L115.5 64.6L117.3 64.3L114.8 62.4ZM114.8 62.4L117.3 64.3L119.0 63.7L116.5 61.9ZM116.5 61.9L119.0 63.7L120.7 63.1L118.3 61.3ZM118.3 61.3L120.7 63.1L122.5 62.5L120.0 60.7ZM74.8 92.0L76.5 89.9L74.0 88.8L72.5 90.6ZM74.0 88.8L76.5 89.9L78.3 87.7L75.7 86.7ZM75.7 86.7L78.3 87.7L80.0 85.5L77.5 84.5ZM77.5 84.5L80.0 85.5L81.7 83.4L79.2 82.2ZM79.2 82.2L81.7 83.4L82.2 82.8L79.8 81.4ZM113.6 67.4L114.6 67.2L113.3 66.3ZM113.3 66.3L114.6 67.2L116.3 66.8L113.8 65.0L113.0 65.2ZM113.8 65.0L116.3 66.8L118.1 66.4L115.5 64.6ZM115.5 64.6L118.1 66.4L119.8 66.0L117.3 64.3ZM117.3 64.3L119.8 66.0L121.5 65.5L119.0 63.7ZM119.0 63.7L121.5 65.5L123.3 64.9L120.7 63.1ZM120.7 63.1L123.3 64.9L125.0 64.3L122.5 62.5ZM76.8 93.6L77.4 92.9L74.9 92.1ZM74.9 92.1L77.4 92.9L79.1 90.6L76.5 89.9L74.8 92.0ZM76.5 89.9L79.1 90.6L80.9 88.3L78.3 87.7ZM78.3 87.7L80.9 88.3L82.6 86.1L80.0 85.5ZM80.0 85.5L82.6 86.1L83.8 84.5L82.9 83.6L81.7 83.4ZM81.7 83.4L82.9 83.6L82.2 82.8ZM116.7 68.5L117.2 68.3L114.6 67.2L113.6 67.4ZM114.6 67.2L117.2 68.3L118.9 68.0L116.3 66.8ZM116.3 66.8L118.9 68.0L120.7 67.6L118.1 66.4ZM118.1 66.4L120.7 67.6L122.4 67.2L119.8 66.0ZM119.8 66.0L122.4 67.2L124.1 66.7L121.5 65.5ZM121.5 65.5L124.1 66.7L125.9 66.2L123.3 64.9ZM123.3 64.9L125.9 66.2L127.6 65.6L125.0 64.3ZM79.1 95.1L80.1 93.8L77.4 92.9L76.8 93.6ZM77.4 92.9L80.1 93.8L81.8 91.5L79.1 90.6ZM79.1 90.6L81.8 91.5L83.5 89.1L80.9 88.3ZM80.9 88.3L83.5 89.1L85.3 86.9L82.6 86.1ZM82.6 86.1L85.3 86.9L85.8 86.2L83.8 84.5ZM119.0 69.9L119.9 69.8L117.2 68.3L116.7 68.5ZM117.2 68.3L119.9 69.8L121.6 69.4L118.9 68.0ZM118.9 68.0L121.6 69.4L123.3 69.1L120.7 67.6ZM120.7 67.6L123.3 69.1L125.1 68.7L122.4 67.2ZM122.4 67.2L125.1 68.7L126.8 68.2L124.1 66.7ZM124.1 66.7L126.8 68.2L128.5 67.7L125.9 66.2ZM125.9 66.2L128.5 67.7L130.2 67.1L127.6 65.6ZM81.1 96.8L82.8 94.6L80.1 93.8L79.1 95.1ZM80.1 93.8L82.8 94.6L84.5 92.3L81.8 91.5ZM81.8 91.5L84.5 92.3L86.3 90.1L83.5 89.1ZM83.5 89.1L86.3 90.1L88.0 87.9L85.3 86.9ZM85.3 86.9L88.0 87.9L88.1 87.8L85.8 86.2ZM120.0 72.2L120.9 72.0L119.5 71.1ZM119.5 71.1L120.9 72.0L122.6 71.6L119.9 69.8L119.0 69.9ZM119.9 69.8L122.6 71.6L124.3 71.3L121.6 69.4ZM121.6 69.4L124.3 71.3L126.1 70.9L123.3 69.1ZM123.3 69.1L126.1 70.9L127.8 70.5L125.1 68.7ZM125.1 68.7L127.8 70.5L129.5 70.0L126.8 68.2ZM126.8 68.2L129.5 70.0L131.2 69.5L128.5 67.7ZM128.5 67.7L131.2 69.5L133.0 68.9L130.2 67.1ZM82.6 98.9L83.8 97.5L81.2 97.0ZM81.2 97.0L83.8 97.5L85.6 95.2L82.8 94.6L81.1 96.8ZM82.8 94.6L85.6 95.2L87.3 93.0L84.5 92.3ZM84.5 92.3L87.3 93.0L89.0 90.7L86.3 90.1ZM86.3 90.1L89.0 90.7L89.9 89.6L88.4 88.0L88.0 87.9ZM88.0 87.9L88.4 88.0L88.1 87.8ZM122.6 73.6L123.6 73.4L120.9 72.0L120.0 72.2ZM120.9 72.0L123.6 73.4L125.4 73.1L122.6 71.6ZM122.6 71.6L125.4 73.1L127.1 72.7L124.3 71.3ZM124.3 71.3L127.1 72.7L128.8 72.3L126.1 70.9ZM126.1 70.9L128.8 72.3L130.6 72.0L127.8 70.5ZM127.8 70.5L130.6 72.0L132.3 71.5L129.5 70.0ZM129.5 70.0L132.3 71.5L134.0 71.0L131.2 69.5ZM131.2 69.5L134.0 71.0L135.8 70.4L133.0 68.9ZM84.1 100.9L85.0 100.0L83.1 99.6ZM83.1 99.6L85.0 100.0L86.7 98.1L83.8 97.5L82.6 98.9ZM83.8 97.5L86.7 98.1L88.4 95.8L85.6 95.2ZM85.6 95.2L88.4 95.8L90.1 93.5L87.3 93.0ZM87.3 93.0L90.1 93.5L91.5 91.7L90.9 91.0L89.0 90.7ZM89.0 90.7L90.9 91.0L89.9 89.6ZM125.8 74.9L126.5 74.7L123.6 73.4L122.6 73.6ZM123.6 73.4L126.5 74.7L128.2 74.4L125.4 73.1ZM125.4 73.1L128.2 74.4L129.9 74.0L127.1 72.7ZM127.1 72.7L129.9 74.0L131.7 73.7L128.8 72.3ZM128.8 72.3L131.7 73.7L133.4 73.3L130.6 72.0ZM130.6 72.0L133.4 73.3L135.1 72.9L132.3 71.5ZM132.3 71.5L135.1 72.9L136.9 72.4L134.0 71.0ZM134.0 71.0L136.9 72.4L138.6 71.9L135.8 70.4ZM86.2 102.8L87.8 101.0L85.0 100.0L84.1 100.9ZM85.0 100.0L87.8 101.0L89.6 99.0L86.7 98.1ZM86.7 98.1L89.6 99.0L91.3 96.8L88.4 95.8ZM88.4 95.8L91.3 96.8L93.0 94.5L90.1 93.5ZM90.1 93.5L93.0 94.5L94.0 93.3L91.5 91.7ZM127.2 77.0L127.7 77.0L126.7 76.4ZM126.7 76.4L127.7 77.0L129.4 76.6L126.5 74.7L125.8 74.9ZM126.5 74.7L129.4 76.6L131.1 76.3L128.2 74.4ZM128.2 74.4L131.1 76.3L132.8 75.9L129.9 74.0ZM129.9 74.0L132.8 75.9L134.6 75.5L131.7 73.7ZM131.7 73.7L134.6 75.5L136.3 75.2L133.4 73.3ZM133.4 73.3L136.3 75.2L138.0 74.7L135.1 72.9ZM135.1 72.9L138.0 74.7L139.8 74.2L136.9 72.4ZM136.9 72.4L139.8 74.2L141.5 73.7L138.6 71.9ZM88.3 104.7L89.1 103.8L86.4 102.9ZM86.4 102.9L89.1 103.8L90.8 101.8L87.8 101.0L86.2 102.8ZM87.8 101.0L90.8 101.8L92.5 99.8L89.6 99.0ZM89.6 99.0L92.5 99.8L94.3 97.6L91.3 96.8ZM91.3 96.8L94.3 97.6L96.0 95.4L93.0 94.5ZM93.0 94.5L96.0 95.4L96.2 95.1L94.0 93.3ZM129.8 78.7L130.6 78.6L127.7 77.0L127.2 77.0ZM127.7 77.0L130.6 78.6L132.3 78.2L129.4 76.6ZM129.4 76.6L132.3 78.2L134.1 77.9L131.1 76.3ZM131.1 76.3L134.1 77.9L135.8 77.5L132.8 75.9ZM132.8 75.9L135.8 77.5L137.5 77.1L134.6 75.5ZM134.6 75.5L137.5 77.1L139.2 76.8L136.3 75.2ZM136.3 75.2L139.2 76.8L141.0 76.3L138.0 74.7ZM138.0 74.7L141.0 76.3L142.7 75.9L139.8 74.2ZM139.8 74.2L142.7 75.9L144.4 75.4L141.5 73.7ZM90.0 106.8L90.3 106.4L89.5 106.2ZM89.5 106.2L90.3 106.4L92.1 104.3L89.1 103.8L88.3 104.7ZM89.1 103.8L92.1 104.3L93.8 102.2L90.8 101.8ZM90.8 101.8L93.8 102.2L95.5 100.1L92.5 99.8ZM92.5 99.8L95.5 100.1L97.3 97.8L94.3 97.6ZM94.3 97.6L97.3 97.8L97.6 97.4L96.3 95.4L96.0 95.4ZM96.0 95.4L96.3 95.4L96.2 95.1ZM132.3 79.1L130.6 78.6L129.8 78.7ZM130.6 78.6L132.3 79.1L134.3 79.4L135.3 79.2L132.3 78.2ZM132.3 78.2L135.3 79.2L137.1 78.9L134.1 77.9ZM134.1 77.9L137.1 78.9L138.8 78.6L135.8 77.5ZM135.8 77.5L138.8 78.6L140.5 78.2L137.5 77.1ZM137.5 77.1L140.5 78.2L142.2 77.9L139.2 76.8ZM139.2 76.8L142.2 77.9L144.0 77.5L141.0 76.3ZM141.0 76.3L144.0 77.5L145.7 77.1L142.7 75.9ZM142.7 75.9L145.7 77.1L147.4 76.6L144.4 75.4ZM91.3 107.1L90.3 106.4L90.0 106.8ZM90.3 106.4L91.3 107.1L94.1 107.8L95.1 106.7L92.1 104.3ZM92.1 104.3L95.1 106.7L96.8 104.8L93.8 102.2ZM93.8 102.2L96.8 104.8L98.6 102.9L95.5 100.1ZM95.5 100.1L98.6 102.9L100.3 100.9L97.3 97.8ZM97.3 97.8L100.3 100.9L102.0 98.9L101.0 97.7L97.6 97.4ZM101.0 97.7L102.0 98.9L103.0 97.8ZM130.8 84.2L131.4 84.1L131.2 83.7ZM131.2 83.7L131.4 84.1L133.2 83.8L132.1 82.5ZM132.1 82.5L133.2 83.8L134.9 83.6L133.0 81.2ZM133.0 81.2L134.9 83.6L136.6 83.3L133.9 79.9ZM133.9 79.9L136.6 83.3L138.4 82.9L135.3 79.2L134.3 79.4ZM135.3 79.2L138.4 82.9L140.1 82.5L137.1 78.9ZM137.1 78.9L140.1 82.5L141.8 82.0L138.8 78.6ZM138.8 78.6L141.8 82.0L143.6 81.6L140.5 78.2ZM140.5 78.2L143.6 81.6L145.3 81.2L142.2 77.9ZM142.2 77.9L145.3 81.2L147.0 80.7L144.0 77.5ZM144.0 77.5L147.0 80.7L148.8 80.2L145.7 77.1ZM145.7 77.1L148.8 80.2L150.5 79.7L147.4 76.6ZM97.5 108.4L95.1 106.7L94.1 107.8ZM95.1 106.7L97.5 108.4L98.6 108.6L99.9 107.3L96.8 104.8ZM96.8 104.8L99.9 107.3L101.7 105.5L98.6 102.9ZM98.6 102.9L101.7 105.5L103.4 103.7L100.3 100.9ZM100.3 100.9L103.4 103.7L105.1 102.0L102.0 98.9ZM102.0 98.9L105.1 102.0L106.8 100.2L104.7 97.9L103.0 97.8ZM104.7 97.9L106.8 100.2L108.6 98.7L107.7 97.6ZM107.7 97.6L108.6 98.7L110.1 97.3ZM126.6 89.3L127.6 89.0L127.3 88.6ZM127.3 88.6L127.6 89.0L129.3 88.7L128.4 87.4ZM128.4 87.4L129.3 88.7L131.1 88.3L129.3 86.2ZM129.3 86.2L131.1 88.3L132.8 88.0L130.3 85.0ZM130.3 85.0L132.8 88.0L134.5 87.7L131.4 84.1L130.8 84.2ZM131.4 84.1L134.5 87.7L136.3 87.4L133.2 83.8ZM133.2 83.8L136.3 87.4L138.0 87.0L134.9 83.6ZM134.9 83.6L138.0 87.0L139.7 86.6L136.6 83.3ZM136.6 83.3L139.7 86.6L141.5 86.1L138.4 82.9ZM138.4 82.9L141.5 86.1L143.2 85.6L140.1 82.5ZM140.1 82.5L143.2 85.6L144.9 85.1L141.8 82.0ZM141.8 82.0L144.9 85.1L146.6 84.6L143.6 81.6ZM143.6 81.6L146.6 84.6L148.4 84.1L145.3 81.2ZM145.3 81.2L148.4 84.1L149.0 83.9L149.7 83.2L147.0 80.7ZM147.0 80.7L149.7 83.2L150.6 81.9L148.8 80.2ZM148.8 80.2L150.6 81.9L151.6 80.7L150.5 79.7ZM101.8 108.9L99.9 107.3L98.6 108.6ZM99.9 107.3L101.8 108.9L104.1 109.0L104.8 108.4L101.7 105.5ZM101.7 105.5L104.8 108.4L106.5 106.9L103.4 103.7ZM103.4 103.7L106.5 106.9L108.2 105.3L105.1 102.0ZM105.1 102.0L108.2 105.3L110.0 103.7L106.8 100.2ZM106.8 100.2L110.0 103.7L111.7 102.4L108.6 98.7ZM108.6 98.7L111.7 102.4L113.4 101.1L110.4 97.3L110.1 97.3ZM110.4 97.3L113.4 101.1L115.2 99.7L112.9 96.8ZM112.9 96.8L115.2 99.7L116.9 98.6L115.1 96.2ZM115.1 96.2L116.9 98.6L118.6 97.6L117.0 95.5ZM117.0 95.5L118.6 97.6L120.4 96.6L119.0 94.7ZM119.0 94.7L120.4 96.6L122.1 95.7L120.8 93.9ZM120.8 93.9L122.1 95.7L123.8 95.2L122.2 92.9ZM122.2 92.9L123.8 95.2L125.6 94.6L123.5 91.9ZM123.5 91.9L125.6 94.6L127.3 94.1L124.8 90.8ZM124.8 90.8L127.3 94.1L129.0 93.6L126.1 89.7ZM126.1 89.7L129.0 93.6L130.7 93.0L127.6 89.0L126.6 89.3ZM127.6 89.0L130.7 93.0L132.5 92.6L129.3 88.7ZM129.3 88.7L132.5 92.6L134.2 92.2L131.1 88.3ZM131.1 88.3L134.2 92.2L135.9 91.7L132.8 88.0ZM132.8 88.0L135.9 91.7L137.7 91.3L134.5 87.7ZM134.5 87.7L137.7 91.3L139.4 90.9L136.3 87.4ZM136.3 87.4L139.4 90.9L141.1 90.5L138.0 87.0ZM138.0 87.0L141.1 90.5L142.9 90.0L139.7 86.6ZM139.7 86.6L142.9 90.0L143.4 89.8L144.2 89.0L141.5 86.1ZM141.5 86.1L144.2 89.0L145.4 87.9L143.2 85.6ZM143.2 85.6L145.4 87.9L146.6 86.8L144.9 85.1ZM144.9 85.1L146.6 86.8L147.7 85.6L146.6 84.6ZM146.6 84.6L147.7 85.6L148.7 84.4L148.4 84.1ZM148.4 84.1L148.7 84.4L149.0 83.9ZM105.3 108.9L104.8 108.4L104.1 109.0ZM104.8 108.4L105.3 108.9L108.2 108.7L106.5 106.9ZM106.5 106.9L108.2 108.7L110.8 108.3L108.2 105.3ZM108.2 105.3L110.8 108.3L112.9 107.8L113.2 107.7L110.0 103.7ZM110.0 103.7L113.2 107.7L114.9 106.5L111.7 102.4ZM111.7 102.4L114.9 106.5L116.6 105.3L113.4 101.1ZM113.4 101.1L116.6 105.3L118.3 104.2L115.2 99.7ZM115.2 99.7L118.3 104.2L120.1 103.2L116.9 98.6ZM116.9 98.6L120.1 103.2L121.8 102.2L118.6 97.6ZM118.6 97.6L121.8 102.2L123.5 101.3L120.4 96.6ZM120.4 96.6L123.5 101.3L125.3 100.4L122.1 95.7ZM122.1 95.7L125.3 100.4L127.0 99.8L123.8 95.2ZM123.8 95.2L127.0 99.8L128.7 99.1L125.6 94.6ZM125.6 94.6L128.7 99.1L130.5 98.5L127.3 94.1ZM127.3 94.1L130.5 98.5L132.2 97.9L129.0 93.6ZM129.0 93.6L132.2 97.9L133.9 97.3L130.7 93.0ZM130.7 93.0L133.9 97.3L135.5 96.8L135.6 96.7L132.5 92.6ZM132.5 92.6L135.6 96.7L137.0 95.7L134.2 92.2ZM134.2 92.2L137.0 95.7L138.3 94.6L135.9 91.7ZM135.9 91.7L138.3 94.6L139.5 93.5L137.7 91.3ZM137.7 91.3L139.5 93.5L140.7 92.4L139.4 90.9ZM139.4 90.9L140.7 92.4L141.8 91.2L141.1 90.5ZM141.1 90.5L141.8 91.2L143.0 90.1L142.9 90.0ZM142.9 90.0L143.0 90.1L143.4 89.8ZM113.3 107.8L113.2 107.7L112.9 107.8ZM113.2 107.7L113.3 107.8L115.7 107.3L114.9 106.5ZM114.9 106.5L115.7 107.3L118.1 106.8L116.6 105.3ZM116.6 105.3L118.1 106.8L120.4 106.2L118.3 104.2ZM118.3 104.2L120.4 106.2L122.3 105.5L120.1 103.2ZM120.1 103.2L122.3 105.5L124.2 104.7L121.8 102.2ZM121.8 102.2L124.2 104.7L126.0 103.9L123.5 101.3ZM123.5 101.3L126.0 103.9L127.9 103.1L125.3 100.4ZM125.3 100.4L127.9 103.1L129.2 102.1L127.0 99.8ZM127.0 99.8L129.2 102.1L130.6 101.0L128.7 99.1ZM128.7 99.1L130.6 101.0L131.9 100.0L130.5 98.5ZM130.5 98.5L131.9 100.0L133.2 98.9L132.2 97.9ZM132.2 97.9L133.2 98.9L134.5 97.8L133.9 97.3ZM133.9 97.3L134.5 97.8L135.5 96.8Z"/><path class="s2" d="M60.5 72.9L61.0 72.0L60.0 72.2L60.0 72.2ZM60.0 72.2L61.0 72.0L62.7 68.7L61.8 68.6ZM61.8 68.6L62.7 68.7L64.4 65.4L64.1 65.1L63.5 65.0ZM63.5 65.0L64.1 65.1L63.6 64.8ZM61.9 73.6L62.4 72.8L61.0 72.0L60.5 72.9ZM61.0 72.0L62.4 72.8L64.1 69.8L62.7 68.7ZM62.7 68.7L64.1 69.8L65.9 66.7L64.6 65.4L64.4 65.4ZM64.6 65.4L65.9 66.7L66.4 65.8ZM63.8 74.3L64.0 74.0L62.4 72.8L61.9 73.6ZM62.4 72.8L64.0 74.0L65.8 71.2L64.1 69.8ZM64.1 69.8L65.8 71.2L67.5 68.5L65.9 66.7ZM65.9 66.7L67.5 68.5L69.0 66.1L66.4 65.8ZM64.9 75.6L65.9 73.9L64.0 74.0L63.8 74.3ZM64.0 74.0L65.9 73.9L67.6 71.1L65.8 71.2ZM65.8 71.2L67.6 71.1L69.3 68.4L67.5 68.5ZM67.5 68.5L69.3 68.4L69.9 67.5L69.0 66.1ZM65.6 77.2L66.1 76.3L65.2 76.5ZM65.2 76.5L66.1 76.3L67.8 73.1L65.9 73.9L64.9 75.6ZM65.9 73.9L67.8 73.1L69.5 69.9L67.6 71.1ZM67.6 71.1L69.5 69.9L69.9 69.4L69.9 68.0L69.3 68.4ZM69.3 68.4L69.9 68.0L69.9 67.5ZM67.6 78.2L68.2 77.2L66.1 76.3L65.6 77.2ZM66.1 76.3L68.2 77.2L69.9 74.1L67.8 73.1ZM67.8 73.1L69.9 74.1L71.6 71.0L69.5 69.9ZM69.5 69.9L71.6 71.0L72.0 70.4L69.9 69.4ZM112.2 50.7L113.2 50.5L113.0 50.2ZM69.2 78.5L68.2 77.2L67.6 78.2ZM68.2 77.2L69.2 78.5L71.2 78.7L72.1 77.2L69.9 74.1ZM69.9 74.1L72.1 77.2L73.8 74.5L71.6 71.0ZM71.6 71.0L73.8 74.5L75.5 72.2L74.5 70.3L72.0 70.4ZM74.5 70.3L75.5 72.2L77.3 70.0L77.3 70.0ZM77.3 70.0L77.3 70.0L77.3 70.0ZM102.1 57.9L103.2 57.7L103.1 57.2ZM103.1 57.2L103.2 57.7L105.0 57.3L104.5 56.2ZM104.5 56.2L105.0 57.3L106.7 57.1L105.9 55.2ZM105.9 55.2L106.7 57.1L108.4 56.9L107.2 54.2ZM107.2 54.2L108.4 56.9L110.2 56.6L108.5 53.1ZM108.5 53.1L110.2 56.6L111.9 56.1L110.0 52.1ZM110.0 52.1L111.9 56.1L113.6 55.6L111.5 51.2ZM111.5 51.2L113.6 55.6L115.4 55.0L113.2 50.5L112.2 50.7ZM74.3 79.3L72.1 77.2L71.2 78.7ZM72.1 77.2L74.3 79.3L74.4 79.3L76.1 76.9L73.8 74.5ZM73.8 74.5L76.1 76.9L77.8 74.8L75.5 72.2ZM75.5 72.2L77.8 74.8L79.6 72.8L77.3 70.0ZM77.3 70.0L79.6 72.8L81.3 70.9L80.6 70.0L77.3 70.0ZM80.6 70.0L81.3 70.9L82.4 69.8ZM95.1 63.5L95.1 63.5L95.1 63.5ZM95.1 63.5L95.1 63.5L96.9 63.1L96.5 62.5ZM96.5 62.5L96.9 63.1L98.6 62.6L97.9 61.5ZM97.9 61.5L98.6 62.6L100.3 62.3L99.2 60.4ZM99.2 60.4L100.3 62.3L102.1 61.9L100.4 59.3ZM100.4 59.3L102.1 61.9L103.8 61.5L101.7 58.2ZM101.7 58.2L103.8 61.5L105.5 61.2L103.2 57.7L102.1 57.9ZM103.2 57.7L105.5 61.2L107.3 60.8L105.0 57.3ZM105.0 57.3L107.3 60.8L109.0 60.5L106.7 57.1ZM106.7 57.1L109.0 60.5L110.7 60.2L108.4 56.9ZM108.4 56.9L110.7 60.2L112.4 59.9L110.2 56.6ZM110.2 56.6L112.4 59.9L114.2 59.3L111.9 56.1ZM111.9 56.1L114.2 59.3L115.9 58.8L113.6 55.6ZM113.6 55.6L115.9 58.8L117.5 58.2L117.6 58.1L115.4 55.0ZM77.4 80.2L78.5 78.8L76.1 76.9L74.4 79.3ZM76.1 76.9L78.5 78.8L80.2 76.8L77.8 74.8ZM77.8 74.8L80.2 76.8L81.9 75.0L79.6 72.8ZM79.6 72.8L81.9 75.0L83.7 73.3L81.3 70.9ZM81.3 70.9L83.7 73.3L85.4 71.7L83.6 69.8L82.4 69.8ZM83.6 69.8L85.4 71.7L87.1 70.6L85.8 69.1ZM85.8 69.1L87.1 70.6L88.9 69.6L87.8 68.4ZM87.8 68.4L88.9 69.6L90.6 68.8L89.5 67.5ZM89.5 67.5L90.6 68.8L92.3 68.1L91.1 66.7ZM91.1 66.7L92.3 68.1L94.1 67.3L92.8 65.8ZM92.8 65.8L94.1 67.3L95.8 66.8L94.0 64.7ZM94.0 64.7L95.8 66.8L97.5 66.4L95.1 63.5L95.1 63.5ZM95.1 63.5L97.5 66.4L99.2 65.9L96.9 63.1ZM96.9 63.1L99.2 65.9L101.0 65.4L98.6 62.6ZM98.6 62.6L101.0 65.4L102.7 65.0L100.3 62.3ZM100.3 62.3L102.7 65.0L104.4 64.6L102.1 61.9ZM102.1 61.9L104.4 64.6L106.2 64.3L103.8 61.5ZM103.8 61.5L106.2 64.3L107.9 63.9L105.5 61.2ZM105.5 61.2L107.9 63.9L109.6 63.5L107.3 60.8ZM107.3 60.8L109.6 63.5L111.4 63.1L109.0 60.5ZM109.0 60.5L111.4 63.1L113.0 62.8L113.0 62.7L110.7 60.2ZM110.7 60.2L113.0 62.7L113.9 61.4L112.4 59.9ZM112.4 59.9L113.9 61.4L115.1 60.3L114.2 59.3ZM114.2 59.3L115.1 60.3L116.3 59.2L115.9 58.8ZM115.9 58.8L116.3 59.2L117.5 58.2ZM79.8 81.4L80.9 80.0L78.5 78.8L77.4 80.2ZM78.5 78.8L80.9 80.0L82.7 78.1L80.2 76.8ZM80.2 76.8L82.7 78.1L84.4 76.3L81.9 75.0ZM81.9 75.0L84.4 76.3L86.1 74.7L83.7 73.3ZM83.7 73.3L86.1 74.7L87.9 73.3L85.4 71.7ZM85.4 71.7L87.9 73.3L89.6 72.3L87.1 70.6ZM87.1 70.6L89.6 72.3L91.3 71.3L88.9 69.6ZM88.9 69.6L91.3 71.3L93.0 70.6L90.6 68.8ZM90.6 68.8L93.0 70.6L94.8 69.9L92.3 68.1ZM92.3 68.1L94.8 69.9L96.5 69.2L94.1 67.3ZM94.1 67.3L96.5 69.2L98.2 68.7L95.8 66.8ZM95.8 66.8L98.2 68.7L100.0 68.2L97.5 66.4ZM97.5 66.4L100.0 68.2L101.7 67.8L99.2 65.9ZM99.2 65.9L101.7 67.8L103.4 67.4L101.0 65.4ZM101.0 65.4L103.4 67.4L105.2 67.0L102.7 65.0ZM102.7 65.0L105.2 67.0L106.9 66.6L104.4 64.6ZM104.4 64.6L106.9 66.6L108.6 66.2L106.2 64.3ZM106.2 64.3L108.6 66.2L110.3 65.8L107.9 63.9ZM107.9 63.9L110.3 65.8L112.1 65.4L109.6 63.5ZM109.6 63.5L112.1 65.4L113.0 65.2L113.0 64.4L111.4 63.1ZM111.4 63.1L113.0 64.4L113.0 62.8ZM82.2 82.8L83.5 81.2L80.9 80.0L79.8 81.4ZM80.9 80.0L83.5 81.2L85.2 79.3L82.7 78.1ZM82.7 78.1L85.2 79.3L86.9 77.6L84.4 76.3ZM84.4 76.3L86.9 77.6L88.6 76.1L86.1 74.7ZM86.1 74.7L88.6 76.1L90.4 74.9L87.9 73.3ZM87.9 73.3L90.4 74.9L92.1 73.9L89.6 72.3ZM89.6 72.3L92.1 73.9L93.8 72.9L91.3 71.3ZM91.3 71.3L93.8 72.9L95.6 72.2L93.0 70.6ZM93.0 70.6L95.6 72.2L97.3 71.5L94.8 69.9ZM94.8 69.9L97.3 71.5L99.0 70.9L96.5 69.2ZM96.5 69.2L99.0 70.9L100.8 70.4L98.2 68.7ZM98.2 68.7L100.8 70.4L102.5 70.0L100.0 68.2ZM100.0 68.2L102.5 70.0L104.2 69.5L101.7 67.8ZM101.7 67.8L104.2 69.5L106.0 69.1L103.4 67.4ZM103.4 67.4L106.0 69.1L107.7 68.7L105.2 67.0ZM105.2 67.0L107.7 68.7L109.4 68.3L106.9 66.6ZM106.9 66.6L109.4 68.3L111.1 67.9L108.6 66.2ZM108.6 66.2L111.1 67.9L112.9 67.6L110.3 65.8ZM110.3 65.8L112.9 67.6L113.6 67.4L113.3 66.3L112.1 65.4ZM112.1 65.4L113.3 66.3L113.0 65.2ZM83.8 84.5L84.3 83.9L82.9 83.6ZM82.9 83.6L84.3 83.9L86.1 81.7L83.5 81.2L82.2 82.8ZM83.5 81.2L86.1 81.7L87.8 79.8L85.2 79.3ZM85.2 79.3L87.8 79.8L89.5 78.1L86.9 77.6ZM86.9 77.6L89.5 78.1L91.2 76.7L88.6 76.1ZM88.6 76.1L91.2 76.7L93.0 75.6L90.4 74.9ZM90.4 74.9L93.0 75.6L94.7 74.6L92.1 73.9ZM92.1 73.9L94.7 74.6L96.4 73.7L93.8 72.9ZM93.8 72.9L96.4 73.7L98.2 73.0L95.6 72.2ZM95.6 72.2L98.2 73.0L99.9 72.4L97.3 71.5ZM97.3 71.5L99.9 72.4L101.6 71.8L99.0 70.9ZM99.0 70.9L101.6 71.8L103.4 71.3L100.8 70.4ZM100.8 70.4L103.4 71.3L105.1 70.9L102.5 70.0ZM102.5 70.0L105.1 70.9L106.8 70.6L104.2 69.5ZM104.2 69.5L106.8 70.6L108.6 70.2L106.0 69.1ZM106.0 69.1L108.6 70.2L110.3 69.8L107.7 68.7ZM107.7 68.7L110.3 69.8L112.0 69.4L109.4 68.3ZM109.4 68.3L112.0 69.4L113.7 69.1L111.1 67.9ZM111.1 67.9L113.7 69.1L115.5 68.7L112.9 67.6ZM112.9 67.6L115.5 68.7L116.7 68.5L113.6 67.4ZM85.8 86.2L87.0 84.7L84.3 83.9L83.8 84.5ZM84.3 83.9L87.0 84.7L88.7 82.4L86.1 81.7ZM86.1 81.7L88.7 82.4L90.4 80.6L87.8 79.8ZM87.8 79.8L90.4 80.6L92.2 78.9L89.5 78.1ZM89.5 78.1L92.2 78.9L93.9 77.6L91.2 76.7ZM91.2 76.7L93.9 77.6L95.6 76.6L93.0 75.6ZM93.0 75.6L95.6 76.6L97.4 75.6L94.7 74.6ZM94.7 74.6L97.4 75.6L99.1 74.7L96.4 73.7ZM96.4 73.7L99.1 74.7L100.8 74.1L98.2 73.0ZM98.2 73.0L100.8 74.1L102.6 73.5L99.9 72.4ZM99.9 72.4L102.6 73.5L104.3 73.0L101.6 71.8ZM101.6 71.8L104.3 73.0L106.0 72.6L103.4 71.3ZM103.4 71.3L106.0 72.6L107.8 72.2L105.1 70.9ZM105.1 70.9L107.8 72.2L109.5 71.8L106.8 70.6ZM106.8 70.6L109.5 71.8L111.2 71.5L108.6 70.2ZM108.6 70.2L111.2 71.5L112.9 71.1L110.3 69.8ZM110.3 69.8L112.9 71.1L114.7 70.8L112.0 69.4ZM112.0 69.4L114.7 70.8L116.4 70.5L113.7 69.1ZM113.7 69.1L116.4 70.5L118.1 70.1L115.5 68.7ZM115.5 68.7L118.1 70.1L119.0 69.9L116.7 68.5ZM88.1 87.8L89.7 85.8L87.0 84.7L85.8 86.2ZM87.0 84.7L89.7 85.8L91.4 83.7L88.7 82.4ZM88.7 82.4L91.4 83.7L93.2 82.0L90.4 80.6ZM90.4 80.6L93.2 82.0L94.9 80.3L92.2 78.9ZM92.2 78.9L94.9 80.3L96.6 79.0L93.9 77.6ZM93.9 77.6L96.6 79.0L98.4 78.0L95.6 76.6ZM95.6 76.6L98.4 78.0L100.1 77.2L97.4 75.6ZM97.4 75.6L100.1 77.2L101.8 76.4L99.1 74.7ZM99.1 74.7L101.8 76.4L103.6 75.8L100.8 74.1ZM100.8 74.1L103.6 75.8L105.3 75.3L102.6 73.5ZM102.6 73.5L105.3 75.3L107.0 74.7L104.3 73.0ZM104.3 73.0L107.0 74.7L108.7 74.3L106.0 72.6ZM106.0 72.6L108.7 74.3L110.5 74.0L107.8 72.2ZM107.8 72.2L110.5 74.0L112.2 73.7L109.5 71.8ZM109.5 71.8L112.2 73.7L113.9 73.3L111.2 71.5ZM111.2 71.5L113.9 73.3L115.7 73.0L112.9 71.1ZM112.9 71.1L115.7 73.0L117.4 72.7L114.7 70.8ZM114.7 70.8L117.4 72.7L119.1 72.3L116.4 70.5ZM116.4 70.5L119.1 72.3L120.0 72.2L119.5 71.1L118.1 70.1ZM118.1 70.1L119.5 71.1L119.0 69.9ZM89.9 89.6L90.8 88.6L88.4 88.0ZM88.4 88.0L90.8 88.6L92.5 86.5L89.7 85.8L88.1 87.8ZM89.7 85.8L92.5 86.5L94.2 84.4L91.4 83.7ZM91.4 83.7L94.2 84.4L96.0 82.7L93.2 82.0ZM93.2 82.0L96.0 82.7L97.7 81.2L94.9 80.3ZM94.9 80.3L97.7 81.2L99.4 79.9L96.6 79.0ZM96.6 79.0L99.4 79.9L101.1 78.9L98.4 78.0ZM98.4 78.0L101.1 78.9L102.9 78.2L100.1 77.2ZM100.1 77.2L102.9 78.2L104.6 77.4L101.8 76.4ZM101.8 76.4L104.6 77.4L106.3 76.9L103.6 75.8ZM103.6 75.8L106.3 76.9L108.1 76.4L105.3 75.3ZM105.3 75.3L108.1 76.4L109.8 75.9L107.0 74.7ZM107.0 74.7L109.8 75.9L111.5 75.5L108.7 74.3ZM108.7 74.3L111.5 75.5L113.3 75.2L110.5 74.0ZM110.5 74.0L113.3 75.2L115.0 74.9L112.2 73.7ZM112.2 73.7L115.0 74.9L116.7 74.6L113.9 73.3ZM113.9 73.3L116.7 74.6L118.5 74.4L115.7 73.0ZM115.7 73.0L118.5 74.4L120.2 74.1L117.4 72.7ZM117.4 72.7L120.2 74.1L121.9 73.8L119.1 72.3ZM119.1 72.3L121.9 73.8L122.6 73.6L120.0 72.2ZM91.5 91.7L91.9 91.2L90.9 91.0ZM90.9 91.0L91.9 91.2L93.6 89.1L90.8 88.6L89.9 89.6ZM90.8 88.6L93.6 89.1L95.3 87.1L92.5 86.5ZM92.5 86.5L95.3 87.1L97.1 85.0L94.2 84.4ZM94.2 84.4L97.1 85.0L98.8 83.4L96.0 82.7ZM96.0 82.7L98.8 83.4L100.5 81.8L97.7 81.2ZM97.7 81.2L100.5 81.8L101.6 81.1L101.7 80.5L99.4 79.9ZM99.4 79.9L101.7 80.5L102.8 79.3L101.1 78.9ZM101.1 78.9L102.8 79.3L105.1 78.8L102.9 78.2ZM102.9 78.2L105.1 78.8L107.2 78.3L107.5 78.2L104.6 77.4ZM104.6 77.4L107.5 78.2L109.2 77.8L106.3 76.9ZM106.3 76.9L109.2 77.8L110.9 77.3L108.1 76.4ZM108.1 76.4L110.9 77.3L112.6 76.9L109.8 75.9ZM109.8 75.9L112.6 76.9L114.4 76.6L111.5 75.5ZM111.5 75.5L114.4 76.6L116.1 76.3L113.3 75.2ZM113.3 75.2L116.1 76.3L117.8 76.1L115.0 74.9ZM115.0 74.9L117.8 76.1L119.6 75.8L116.7 74.6ZM116.7 74.6L119.6 75.8L121.3 75.6L118.5 74.4ZM118.5 74.4L121.3 75.6L123.0 75.3L120.2 74.1ZM120.2 74.1L123.0 75.3L124.8 75.1L121.9 73.8ZM121.9 73.8L124.8 75.1L125.8 74.9L122.6 73.6ZM94.0 93.3L94.8 92.3L91.9 91.2L91.5 91.7ZM91.9 91.2L94.8 92.3L96.5 90.3L93.6 89.1ZM93.6 89.1L96.5 90.3L98.2 88.4L95.3 87.1ZM95.3 87.1L98.2 88.4L100.0 86.4L97.1 85.0ZM97.1 85.0L100.0 86.4L101.7 84.8L98.8 83.4ZM98.8 83.4L101.7 84.8L103.4 83.4L100.5 81.8ZM100.5 81.8L103.4 83.4L105.0 82.2L101.6 81.1ZM108.2 80.7L108.6 80.6L107.8 80.1ZM107.8 80.1L108.6 80.6L110.3 79.9L107.5 78.2L107.2 78.3ZM107.5 78.2L110.3 79.9L112.1 79.5L109.2 77.8ZM109.2 77.8L112.1 79.5L113.8 79.1L110.9 77.3ZM110.9 77.3L113.8 79.1L115.5 78.6L112.6 76.9ZM112.6 76.9L115.5 78.6L117.3 78.4L114.4 76.6ZM114.4 76.6L117.3 78.4L119.0 78.2L116.1 76.3ZM116.1 76.3L119.0 78.2L120.7 77.9L117.8 76.1ZM117.8 76.1L120.7 77.9L122.5 77.7L119.6 75.8ZM119.6 75.8L122.5 77.7L124.2 77.5L121.3 75.6ZM121.3 75.6L124.2 77.5L125.9 77.2L123.0 75.3ZM123.0 75.3L125.9 77.2L127.2 77.0L126.7 76.4L124.8 75.1ZM124.8 75.1L126.7 76.4L125.8 74.9ZM96.2 95.1L97.7 93.2L94.8 92.3L94.0 93.3ZM94.8 92.3L97.7 93.2L99.4 91.2L96.5 90.3ZM96.5 90.3L99.4 91.2L101.2 89.3L98.2 88.4ZM98.2 88.4L101.2 89.3L102.9 87.4L100.0 86.4ZM100.0 86.4L102.9 87.4L104.6 85.9L101.7 84.8ZM101.7 84.8L104.6 85.9L106.3 84.5L106.3 84.4L103.4 83.4ZM103.4 83.4L106.3 84.4L105.0 82.2ZM109.3 80.8L108.6 80.6L108.2 80.7ZM108.6 80.6L109.3 80.8L112.7 81.4L113.3 81.2L110.3 79.9ZM110.3 79.9L113.3 81.2L115.0 80.8L112.1 79.5ZM112.1 79.5L115.0 80.8L116.8 80.4L113.8 79.1ZM113.8 79.1L116.8 80.4L118.5 80.0L115.5 78.6ZM115.5 78.6L118.5 80.0L120.2 79.8L117.3 78.4ZM117.3 78.4L120.2 79.8L121.9 79.6L119.0 78.2ZM119.0 78.2L121.9 79.6L123.7 79.4L120.7 77.9ZM120.7 77.9L123.7 79.4L125.4 79.2L122.5 77.7ZM122.5 77.7L125.4 79.2L127.1 79.0L124.2 77.5ZM124.2 77.5L127.1 79.0L128.9 78.8L125.9 77.2ZM125.9 77.2L128.9 78.8L129.8 78.7L127.2 77.0ZM97.6 97.4L99.0 95.6L96.3 95.4ZM96.3 95.4L99.0 95.6L100.7 93.3L97.7 93.2L96.2 95.1ZM97.7 93.2L100.7 93.3L102.4 91.3L99.4 91.2ZM99.4 91.2L102.4 91.3L104.2 89.4L101.2 89.3ZM101.2 89.3L104.2 89.4L105.6 87.9L105.4 87.5L102.9 87.4ZM102.9 87.4L105.4 87.5L105.8 85.9L104.6 85.9ZM104.6 85.9L105.8 85.9L106.3 84.5ZM113.5 81.2L113.3 81.2L112.7 81.4ZM113.3 81.2L113.5 81.2L116.5 81.0L115.0 80.8ZM115.0 80.8L116.5 81.0L119.6 80.8L116.8 80.4ZM116.8 80.4L119.6 80.8L119.9 80.8L121.5 80.5L118.5 80.0ZM118.5 80.0L121.5 80.5L123.2 80.4L120.2 79.8ZM120.2 79.8L123.2 80.4L124.9 80.3L121.9 79.6ZM121.9 79.6L124.9 80.3L126.7 80.1L123.7 79.4ZM123.7 79.4L126.7 80.1L128.4 80.0L125.4 79.2ZM125.4 79.2L128.4 80.0L130.1 79.9L127.1 79.0ZM127.1 79.0L130.1 79.9L131.9 79.8L128.9 78.8ZM128.9 78.8L131.9 79.8L133.6 79.6L132.3 79.1L129.8 78.7ZM132.3 79.1L133.6 79.6L134.3 79.4ZM101.0 97.7L99.0 95.6L97.6 97.4ZM99.0 95.6L101.0 97.7L103.0 97.8L103.8 96.9L100.7 93.3ZM100.7 93.3L103.8 96.9L105.5 95.2L102.4 91.3ZM102.4 91.3L105.5 95.2L107.2 93.5L104.2 89.4ZM104.2 89.4L107.2 93.5L108.9 91.8L106.1 87.8L105.6 87.9ZM106.1 87.8L108.9 91.8L110.7 90.5L108.5 87.3ZM108.5 87.3L110.7 90.5L112.4 89.2L110.7 86.7ZM110.7 86.7L112.4 89.2L114.1 88.1L112.7 86.0ZM112.7 86.0L114.1 88.1L115.9 87.1L114.6 85.2ZM114.6 85.2L115.9 87.1L117.6 86.7L116.0 84.2ZM116.0 84.2L117.6 86.7L119.3 86.2L117.3 83.1ZM117.3 83.1L119.3 86.2L121.1 85.8L118.6 82.0ZM118.6 82.0L121.1 85.8L122.8 85.4L119.8 80.9ZM119.8 80.9L122.8 85.4L124.5 85.0L121.5 80.5L119.9 80.8ZM121.5 80.5L124.5 85.0L126.3 84.8L123.2 80.4ZM123.2 80.4L126.3 84.8L128.0 84.5L124.9 80.3ZM124.9 80.3L128.0 84.5L129.7 84.3L126.7 80.1ZM126.7 80.1L129.7 84.3L130.8 84.2L131.2 83.7L128.4 80.0ZM128.4 80.0L131.2 83.7L132.1 82.5L130.1 79.9ZM130.1 79.9L132.1 82.5L133.0 81.2L131.9 79.8ZM131.9 79.8L133.0 81.2L133.9 79.9L133.6 79.6ZM133.6 79.6L133.9 79.9L134.3 79.4ZM104.7 97.9L103.8 96.9L103.0 97.8ZM103.8 96.9L104.7 97.9L107.7 97.6L105.5 95.2ZM105.5 95.2L107.7 97.6L110.1 97.3L110.3 97.2L107.2 93.5ZM107.2 93.5L110.3 97.2L112.0 95.7L108.9 91.8ZM108.9 91.8L112.0 95.7L113.8 94.5L110.7 90.5ZM110.7 90.5L113.8 94.5L115.5 93.4L112.4 89.2ZM112.4 89.2L115.5 93.4L117.2 92.3L114.1 88.1ZM114.1 88.1L117.2 92.3L119.0 91.3L115.9 87.1ZM115.9 87.1L119.0 91.3L120.7 90.9L117.6 86.7ZM117.6 86.7L120.7 90.9L122.4 90.4L119.3 86.2ZM119.3 86.2L122.4 90.4L124.2 89.9L121.1 85.8ZM121.1 85.8L124.2 89.9L125.9 89.5L122.8 85.4ZM122.8 85.4L125.9 89.5L126.6 89.3L127.3 88.6L124.5 85.0ZM124.5 85.0L127.3 88.6L128.4 87.4L126.3 84.8ZM126.3 84.8L128.4 87.4L129.3 86.2L128.0 84.5ZM128.0 84.5L129.3 86.2L130.3 85.0L129.7 84.3ZM129.7 84.3L130.3 85.0L130.8 84.2ZM110.4 97.3L110.3 97.2L110.1 97.3ZM110.3 97.2L110.4 97.3L112.9 96.8L112.0 95.7ZM112.0 95.7L112.9 96.8L115.1 96.2L113.8 94.5ZM113.8 94.5L115.1 96.2L117.0 95.5L115.5 93.4ZM115.5 93.4L117.0 95.5L119.0 94.7L117.2 92.3ZM117.2 92.3L119.0 94.7L120.8 93.9L119.0 91.3ZM119.0 91.3L120.8 93.9L122.2 92.9L120.7 90.9ZM120.7 90.9L122.2 92.9L123.5 91.9L122.4 90.4ZM122.4 90.4L123.5 91.9L124.8 90.8L124.2 89.9ZM124.2 89.9L124.8 90.8L126.1 89.7L125.9 89.5ZM125.9 89.5L126.1 89.7L126.6 89.3Z"/><path class="s3" d="M64.4 65.4L64.5 65.3L64.1 65.1ZM64.1 65.1L64.5 65.3L66.2 61.8L65.2 61.3L63.6 64.8ZM65.2 61.3L66.2 61.8L67.9 58.2L67.0 57.6L66.9 57.5ZM67.0 57.6L67.9 58.2L68.0 57.9ZM64.6 65.4L64.5 65.3L64.4 65.4ZM64.5 65.3L64.6 65.4L66.4 65.8L67.6 63.6L66.2 61.8ZM66.2 61.8L67.6 63.6L69.3 60.3L67.9 58.2ZM67.9 58.2L69.3 60.3L70.4 58.2L68.0 57.9ZM69.0 66.1L69.2 65.7L67.6 63.6L66.4 65.8ZM67.6 63.6L69.2 65.7L71.0 62.8L69.3 60.3ZM69.3 60.3L71.0 62.8L72.7 59.8L71.8 58.2L70.4 58.2ZM71.8 58.2L72.7 59.8L74.2 57.9ZM69.9 67.5L71.1 65.7L69.2 65.7L69.0 66.1ZM69.2 65.7L71.1 65.7L72.8 62.9L71.0 62.8ZM71.0 62.8L72.8 62.9L74.5 60.0L72.7 59.8ZM72.7 59.8L74.5 60.0L75.4 59.1L74.2 57.9ZM102.9 45.7L103.9 45.5L103.8 45.1ZM103.8 45.1L103.9 45.5L105.7 45.0L105.4 44.2ZM105.4 44.2L105.7 45.0L107.4 44.4L107.1 43.3ZM107.1 43.3L107.4 44.4L109.1 43.8L108.7 42.4ZM69.9 69.4L71.3 67.1L69.9 68.0ZM69.9 68.0L71.3 67.1L73.0 64.4L71.1 65.7L69.9 67.5ZM71.1 65.7L73.0 64.4L74.7 61.5L72.8 62.9ZM72.8 62.9L74.7 61.5L74.8 61.4L74.9 59.7L74.5 60.0ZM74.5 60.0L74.9 59.7L75.4 59.1ZM100.5 48.8L100.7 48.7L100.6 48.6ZM100.6 48.6L100.7 48.7L102.4 48.6L101.4 47.3ZM101.4 47.3L102.4 48.6L104.2 48.5L102.4 46.1ZM102.4 46.1L104.2 48.5L105.9 48.3L103.9 45.5L102.9 45.7ZM103.9 45.5L105.9 48.3L107.6 47.9L105.7 45.0ZM105.7 45.0L107.6 47.9L109.4 47.4L107.4 44.4ZM107.4 44.4L109.4 47.4L111.1 46.9L109.1 43.8ZM72.0 70.4L73.4 68.4L71.3 67.1L69.9 69.4ZM71.3 67.1L73.4 68.4L75.1 65.8L73.0 64.4ZM73.0 64.4L75.1 65.8L76.8 63.1L74.7 61.5ZM74.7 61.5L76.8 63.1L77.4 62.1L74.8 61.4ZM95.9 53.1L97.6 52.9L97.0 52.0ZM97.0 52.0L97.6 52.9L99.3 52.7L98.2 50.9ZM98.2 50.9L99.3 52.7L101.0 52.4L99.4 49.8ZM99.4 49.8L101.0 52.4L102.8 52.2L100.7 48.7L100.5 48.8ZM100.7 48.7L102.8 52.2L104.5 52.1L102.4 48.6ZM102.4 48.6L104.5 52.1L106.2 52.0L104.2 48.5ZM104.2 48.5L106.2 52.0L108.0 51.9L105.9 48.3ZM105.9 48.3L108.0 51.9L109.7 51.5L107.6 47.9ZM107.6 47.9L109.7 51.5L111.4 51.0L109.4 47.4ZM109.4 47.4L111.4 51.0L112.2 50.7L113.0 50.2L111.1 46.9ZM74.5 70.3L73.4 68.4L72.0 70.4ZM73.4 68.4L74.5 70.3L77.3 70.0L75.1 65.8ZM75.1 65.8L77.3 70.0L77.3 70.0L79.0 67.8L76.8 63.1ZM76.8 63.1L79.0 67.8L80.7 65.6L79.2 61.9L77.4 62.1ZM79.2 61.9L80.7 65.6L82.5 64.4L81.1 61.2ZM81.1 61.2L82.5 64.4L84.2 63.3L83.1 60.4ZM83.1 60.4L84.2 63.3L85.9 62.4L84.8 59.6ZM84.8 59.6L85.9 62.4L87.7 61.5L86.6 58.7ZM86.6 58.7L87.7 61.5L89.4 60.7L88.3 57.9ZM88.3 57.9L89.4 60.7L91.1 60.2L89.9 57.0ZM89.9 57.0L91.1 60.2L92.9 59.8L91.4 56.0ZM91.4 56.0L92.9 59.8L94.6 59.4L92.9 55.1ZM92.9 55.1L94.6 59.4L96.3 58.9L94.4 54.1ZM94.4 54.1L96.3 58.9L98.0 58.6L95.9 53.1ZM95.9 53.1L98.0 58.6L99.8 58.3L97.6 52.9L95.9 53.1ZM97.6 52.9L99.8 58.3L101.5 58.0L99.3 52.7ZM99.3 52.7L101.5 58.0L102.1 57.9L103.1 57.2L101.0 52.4ZM101.0 52.4L103.1 57.2L104.5 56.2L102.8 52.2ZM102.8 52.2L104.5 56.2L105.9 55.2L104.5 52.1ZM104.5 52.1L105.9 55.2L107.2 54.2L106.2 52.0ZM106.2 52.0L107.2 54.2L108.5 53.1L108.0 51.9ZM108.0 51.9L108.5 53.1L110.0 52.1L109.7 51.5ZM109.7 51.5L110.0 52.1L111.5 51.2L111.4 51.0ZM111.4 51.0L111.5 51.2L112.2 50.7ZM80.6 70.0L79.0 67.8L77.3 70.0ZM79.0 67.8L80.6 70.0L82.4 69.8L83.0 69.1L80.7 65.6ZM80.7 65.6L83.0 69.1L84.8 68.0L82.5 64.4ZM82.5 64.4L84.8 68.0L86.5 66.9L84.2 63.3ZM84.2 63.3L86.5 66.9L88.2 66.1L85.9 62.4ZM85.9 62.4L88.2 66.1L89.9 65.3L87.7 61.5ZM87.7 61.5L89.9 65.3L91.7 64.5L89.4 60.7ZM89.4 60.7L91.7 64.5L93.4 64.0L91.1 60.2ZM91.1 60.2L93.4 64.0L95.1 63.5L95.1 63.5L92.9 59.8ZM92.9 59.8L95.1 63.5L96.5 62.5L94.6 59.4ZM94.6 59.4L96.5 62.5L97.9 61.5L96.3 58.9ZM96.3 58.9L97.9 61.5L99.2 60.4L98.0 58.6ZM98.0 58.6L99.2 60.4L100.4 59.3L99.8 58.3ZM99.8 58.3L100.4 59.3L101.7 58.2L101.5 58.0ZM101.5 58.0L101.7 58.2L102.1 57.9ZM83.6 69.8L83.0 69.1L82.4 69.8ZM83.0 69.1L83.6 69.8L85.8 69.1L84.8 68.0ZM84.8 68.0L85.8 69.1L87.8 68.4L86.5 66.9ZM86.5 66.9L87.8 68.4L89.5 67.5L88.2 66.1ZM88.2 66.1L89.5 67.5L91.1 66.7L89.9 65.3ZM89.9 65.3L91.1 66.7L92.8 65.8L91.7 64.5ZM91.7 64.5L92.8 65.8L94.0 64.7L93.4 64.0ZM93.4 64.0L94.0 64.7L95.1 63.5ZM101.6 81.1L102.3 80.6L101.7 80.5ZM101.7 80.5L102.3 80.6L104.0 79.6L102.8 79.3ZM102.8 79.3L104.0 79.6L105.7 78.9L105.1 78.8ZM105.1 78.8L105.7 78.9L107.2 78.3ZM105.0 82.2L105.2 82.2L102.3 80.6L101.6 81.1ZM102.3 80.6L105.2 82.2L106.9 81.1L104.0 79.6ZM104.0 79.6L106.9 81.1L108.2 80.7L107.8 80.1L105.7 78.9ZM105.7 78.9L107.8 80.1L107.2 78.3ZM106.3 84.5L106.4 84.5L106.3 84.4ZM106.3 84.4L106.4 84.5L108.1 83.3L105.2 82.2L105.0 82.2ZM105.2 82.2L108.1 83.3L109.8 82.3L106.9 81.1ZM106.9 81.1L109.8 82.3L111.6 81.8L109.3 80.8L108.2 80.7ZM109.3 80.8L111.6 81.8L112.7 81.4ZM105.6 87.9L105.9 87.5L105.4 87.5ZM105.4 87.5L105.9 87.5L107.6 86.0L105.8 85.9ZM105.8 85.9L107.6 86.0L109.4 84.6L106.4 84.5L106.3 84.5ZM106.4 84.5L109.4 84.6L111.1 83.5L108.1 83.3ZM108.1 83.3L111.1 83.5L112.8 82.4L109.8 82.3ZM109.8 82.3L112.8 82.4L114.6 82.0L111.6 81.8ZM111.6 81.8L114.6 82.0L116.3 81.5L113.5 81.2L112.7 81.4ZM113.5 81.2L116.3 81.5L118.0 81.2L116.5 81.0ZM116.5 81.0L118.0 81.2L119.7 80.9L119.6 80.8ZM119.6 80.8L119.7 80.9L119.9 80.8ZM106.1 87.8L105.9 87.5L105.6 87.9ZM105.9 87.5L106.1 87.8L108.5 87.3L107.6 86.0ZM107.6 86.0L108.5 87.3L110.7 86.7L109.4 84.6ZM109.4 84.6L110.7 86.7L112.7 86.0L111.1 83.5ZM111.1 83.5L112.7 86.0L114.6 85.2L112.8 82.4ZM112.8 82.4L114.6 85.2L116.0 84.2L114.6 82.0ZM114.6 82.0L116.0 84.2L117.3 83.1L116.3 81.5ZM116.3 81.5L117.3 83.1L118.6 82.0L118.0 81.2ZM118.0 81.2L118.6 82.0L119.8 80.9L119.7 80.9ZM119.7 80.9L119.8 80.9L119.9 80.8Z"/><path class="s4" d="M67.0 57.6L67.0 57.5L66.9 57.5ZM67.0 57.5L67.0 57.6L68.0 57.9L69.6 54.3L68.7 53.3ZM68.7 53.3L69.6 54.3L71.4 51.2L70.7 50.3L70.3 50.3ZM70.7 50.3L71.4 51.2L71.8 50.4ZM70.4 58.2L71.1 56.9L69.6 54.3L68.0 57.9ZM69.6 54.3L71.1 56.9L72.8 54.2L71.4 51.2ZM71.4 51.2L72.8 54.2L74.5 51.6L73.9 50.2L71.8 50.4ZM73.9 50.2L74.5 51.6L75.8 49.9ZM71.8 58.2L71.1 56.9L70.4 58.2ZM71.1 56.9L71.8 58.2L74.2 57.9L74.4 57.6L72.8 54.2ZM72.8 54.2L74.4 57.6L76.2 55.6L74.5 51.6ZM74.5 51.6L76.2 55.6L77.9 53.9L76.4 49.7L75.8 49.9ZM76.4 49.7L77.9 53.9L79.6 52.2L78.6 49.1ZM78.6 49.1L79.6 52.2L81.3 50.5L80.8 48.5ZM80.8 48.5L81.3 50.5L83.1 49.2L82.7 47.7ZM82.7 47.7L83.1 49.2L84.8 48.0L84.5 47.0ZM84.5 47.0L84.8 48.0L86.5 46.8L86.4 46.2ZM86.4 46.2L86.5 46.8L88.3 45.6L88.2 45.4ZM88.2 45.4L88.3 45.6L90.0 44.7L90.0 44.5ZM90.0 44.5L90.0 44.7L91.7 43.8L91.7 43.7ZM91.7 43.7L91.7 43.8L93.5 43.0L93.4 42.8ZM93.4 42.8L93.5 43.0L95.2 42.1L95.2 42.0ZM95.2 42.0L95.2 42.1L96.9 41.3L96.9 41.1ZM96.9 41.1L96.9 41.3L98.7 40.8L98.6 40.3ZM98.6 40.3L98.7 40.8L100.4 40.3L100.2 39.4ZM100.2 39.4L100.4 40.3L102.1 39.7L101.9 38.5ZM101.9 38.5L102.1 39.7L103.8 39.1L103.6 37.7ZM103.6 37.7L103.8 39.1L105.6 38.5L105.3 36.8ZM105.3 36.8L105.6 38.5L107.3 37.9L107.0 35.9ZM75.4 59.1L76.2 58.3L74.4 57.6L74.2 57.9ZM74.4 57.6L76.2 58.3L78.0 56.6L76.2 55.6ZM76.2 55.6L78.0 56.6L79.7 55.2L77.9 53.9ZM77.9 53.9L79.7 55.2L81.4 53.9L79.6 52.2ZM79.6 52.2L81.4 53.9L83.2 52.5L81.3 50.5ZM81.3 50.5L83.2 52.5L84.9 51.7L83.1 49.2ZM83.1 49.2L84.9 51.7L86.6 50.9L84.8 48.0ZM84.8 48.0L86.6 50.9L88.4 50.1L86.5 46.8ZM86.5 46.8L88.4 50.1L90.1 49.3L88.3 45.6ZM88.3 45.6L90.1 49.3L91.8 48.7L90.0 44.7ZM90.0 44.7L91.8 48.7L93.5 48.1L91.7 43.8ZM91.7 43.8L93.5 48.1L95.3 47.6L93.5 43.0ZM93.5 43.0L95.3 47.6L97.0 47.0L95.2 42.1ZM95.2 42.1L97.0 47.0L98.7 46.5L96.9 41.3ZM96.9 41.3L98.7 46.5L100.5 46.1L98.7 40.8ZM98.7 40.8L100.5 46.1L102.2 45.8L100.4 40.3ZM100.4 40.3L102.2 45.8L102.9 45.7L103.8 45.1L102.1 39.7ZM102.1 39.7L103.8 45.1L105.4 44.2L103.8 39.1ZM103.8 39.1L105.4 44.2L107.1 43.3L105.6 38.5ZM105.6 38.5L107.1 43.3L108.7 42.4L107.3 37.9ZM74.8 61.4L76.5 58.5L74.9 59.7ZM74.9 59.7L76.5 58.5L78.2 57.0L76.2 58.3L75.4 59.1ZM76.2 58.3L78.2 57.0L79.9 55.6L78.0 56.6ZM78.0 56.6L79.9 55.6L81.7 54.4L79.7 55.2ZM79.7 55.2L81.7 54.4L83.4 53.3L81.4 53.9ZM81.4 53.9L83.4 53.3L85.1 52.2L83.2 52.5ZM83.2 52.5L85.1 52.2L86.9 51.7L84.9 51.7ZM84.9 51.7L86.9 51.7L88.6 51.2L86.6 50.9ZM86.6 50.9L88.6 51.2L90.3 50.7L88.4 50.1ZM88.4 50.1L90.3 50.7L92.0 50.2L90.1 49.3ZM90.1 49.3L92.0 50.2L93.8 49.9L91.8 48.7ZM91.8 48.7L93.8 49.9L95.5 49.6L93.5 48.1ZM93.5 48.1L95.5 49.6L97.2 49.3L95.3 47.6ZM95.3 47.6L97.2 49.3L99.0 49.0L97.0 47.0ZM97.0 47.0L99.0 49.0L100.5 48.8L100.6 48.6L98.7 46.5ZM98.7 46.5L100.6 48.6L101.4 47.3L100.5 46.1ZM100.5 46.1L101.4 47.3L102.4 46.1L102.2 45.8ZM102.2 45.8L102.4 46.1L102.9 45.7ZM77.4 62.1L78.6 60.4L76.5 58.5L74.8 61.4ZM76.5 58.5L78.6 60.4L80.3 59.1L78.2 57.0ZM78.2 57.0L80.3 59.1L82.0 57.8L79.9 55.6ZM79.9 55.6L82.0 57.8L83.7 56.8L81.7 54.4ZM81.7 54.4L83.7 56.8L85.5 55.9L83.4 53.3ZM83.4 53.3L85.5 55.9L87.2 54.9L85.1 52.2ZM85.1 52.2L87.2 54.9L88.9 54.5L86.9 51.7ZM86.9 51.7L88.9 54.5L90.7 54.1L88.6 51.2ZM88.6 51.2L90.7 54.1L92.4 53.7L90.3 50.7ZM90.3 50.7L92.4 53.7L94.1 53.4L92.0 50.2ZM92.0 50.2L94.1 53.4L95.9 53.1L93.8 49.9ZM93.8 49.9L95.9 53.1L95.9 53.1L97.0 52.0L95.5 49.6ZM95.5 49.6L97.0 52.0L98.2 50.9L97.2 49.3ZM97.2 49.3L98.2 50.9L99.4 49.8L99.0 49.0ZM99.0 49.0L99.4 49.8L100.5 48.8ZM79.2 61.9L78.6 60.4L77.4 62.1ZM78.6 60.4L79.2 61.9L81.1 61.2L80.3 59.1ZM80.3 59.1L81.1 61.2L83.1 60.4L82.0 57.8ZM82.0 57.8L83.1 60.4L84.8 59.6L83.7 56.8ZM83.7 56.8L84.8 59.6L86.6 58.7L85.5 55.9ZM85.5 55.9L86.6 58.7L88.3 57.9L87.2 54.9ZM87.2 54.9L88.3 57.9L89.9 57.0L88.9 54.5ZM88.9 54.5L89.9 57.0L91.4 56.0L90.7 54.1ZM90.7 54.1L91.4 56.0L92.9 55.1L92.4 53.7ZM92.4 53.7L92.9 55.1L94.4 54.1L94.1 53.4ZM94.1 53.4L94.4 54.1L95.9 53.1L95.9 53.1ZM95.9 53.1L95.9 53.1L95.9 53.1Z"/><path class="s5" d="M70.7 50.3L70.4 49.9L70.3 50.3ZM70.4 49.9L70.7 50.3L71.8 50.4L73.1 48.3L72.2 46.8ZM72.2 46.8L73.1 48.3L74.8 45.4L73.9 43.4ZM73.9 43.4L74.8 45.4L76.6 42.5L76.5 42.4L74.3 42.6ZM76.5 42.4L76.6 42.5L76.6 42.4ZM73.9 50.2L73.1 48.3L71.8 50.4ZM73.1 48.3L73.9 50.2L75.8 49.9L76.2 49.3L74.8 45.4ZM74.8 45.4L76.2 49.3L78.0 47.1L76.6 42.5ZM76.6 42.5L78.0 47.1L79.7 44.8L78.9 41.9L76.6 42.4ZM78.9 41.9L79.7 44.8L81.4 43.0L81.0 41.3ZM81.0 41.3L81.4 43.0L83.2 41.3L83.0 40.5ZM83.0 40.5L83.2 41.3L84.5 40.0ZM76.4 49.7L76.2 49.3L75.8 49.9ZM76.2 49.3L76.4 49.7L78.6 49.1L78.0 47.1ZM78.0 47.1L78.6 49.1L80.8 48.5L79.7 44.8ZM79.7 44.8L80.8 48.5L82.7 47.7L81.4 43.0ZM81.4 43.0L82.7 47.7L84.5 47.0L83.2 41.3ZM83.2 41.3L84.5 47.0L86.4 46.2L84.9 39.8L84.5 40.0ZM84.9 39.8L86.4 46.2L88.2 45.4L86.9 39.1ZM86.9 39.1L88.2 45.4L90.0 44.5L88.7 38.3ZM88.7 38.3L90.0 44.5L91.7 43.7L90.5 37.4ZM90.5 37.4L91.7 43.7L93.4 42.8L92.3 36.6ZM92.3 36.6L93.4 42.8L95.2 42.0L94.1 35.8ZM94.1 35.8L95.2 42.0L96.9 41.1L95.8 35.0ZM95.8 35.0L96.9 41.1L98.6 40.3L97.5 34.1ZM97.5 34.1L98.6 40.3L100.2 39.4L99.2 33.2ZM99.2 33.2L100.2 39.4L101.9 38.5L100.9 32.4ZM100.9 32.4L101.9 38.5L103.6 37.7L102.7 31.5ZM102.7 31.5L103.6 37.7L105.3 36.8L104.4 30.7ZM104.4 30.7L105.3 36.8L107.0 35.9L106.1 29.8Z"/><path class="s6" d="M76.5 42.4L75.6 40.1L74.3 42.6ZM75.6 40.1L76.5 42.4L76.6 42.4L78.3 39.7L77.3 36.8ZM77.3 36.8L78.3 39.7L80.0 37.3L79.3 34.8L78.4 35.0ZM79.3 34.8L80.0 37.3L81.8 35.0L81.6 34.2ZM81.6 34.2L81.8 35.0L82.5 33.9ZM78.9 41.9L78.3 39.7L76.6 42.4ZM78.3 39.7L78.9 41.9L81.0 41.3L80.0 37.3ZM80.0 37.3L81.0 41.3L83.0 40.5L81.8 35.0ZM81.8 35.0L83.0 40.5L84.5 40.0L84.9 39.6L83.7 33.5L82.5 33.9ZM83.7 33.5L84.9 39.6L86.6 37.9L85.7 32.8ZM85.7 32.8L86.6 37.9L88.4 36.5L87.6 32.0ZM87.6 32.0L88.4 36.5L90.1 35.3L89.4 31.3ZM89.4 31.3L90.1 35.3L91.8 34.1L91.2 30.5ZM91.2 30.5L91.8 34.1L93.6 32.9L93.0 29.6ZM93.0 29.6L93.6 32.9L95.3 31.8L94.9 28.8ZM94.9 28.8L95.3 31.8L97.0 31.0L96.6 28.0ZM96.6 28.0L97.0 31.0L98.7 30.2L98.3 27.1ZM98.3 27.1L98.7 30.2L100.5 29.4L100.1 26.3ZM100.1 26.3L100.5 29.4L102.2 28.6L101.8 25.5ZM101.8 25.5L102.2 28.6L103.9 27.8L103.6 24.6ZM103.6 24.6L103.9 27.8L105.7 27.0L105.3 23.8ZM84.9 39.8L84.9 39.6L84.5 40.0ZM84.9 39.6L84.9 39.8L86.9 39.1L86.6 37.9ZM86.6 37.9L86.9 39.1L88.7 38.3L88.4 36.5ZM88.4 36.5L88.7 38.3L90.5 37.4L90.1 35.3ZM90.1 35.3L90.5 37.4L92.3 36.6L91.8 34.1ZM91.8 34.1L92.3 36.6L94.1 35.8L93.6 32.9ZM93.6 32.9L94.1 35.8L95.8 35.0L95.3 31.8ZM95.3 31.8L95.8 35.0L97.5 34.1L97.0 31.0ZM97.0 31.0L97.5 34.1L99.2 33.2L98.7 30.2ZM98.7 30.2L99.2 33.2L100.9 32.4L100.5 29.4ZM100.5 29.4L100.9 32.4L102.7 31.5L102.2 28.6ZM102.2 28.6L102.7 31.5L104.4 30.7L103.9 27.8ZM103.9 27.8L104.4 30.7L106.1 29.8L105.7 27.0Z"/><path class="s7" d="M79.3 34.8L79.1 33.9L78.4 35.0ZM79.1 33.9L79.3 34.8L81.6 34.2L80.8 31.0ZM80.8 31.0L81.6 34.2L82.5 33.9L83.5 32.6L82.5 28.2ZM82.5 28.2L83.5 32.6L85.2 30.3L84.5 26.6L83.3 26.9ZM84.5 26.6L85.2 30.3L87.0 28.5L86.5 25.9ZM86.5 25.9L87.0 28.5L88.7 26.9L88.4 25.1ZM88.4 25.1L88.7 26.9L90.4 25.3L90.3 24.3ZM90.3 24.3L90.4 25.3L92.1 23.7L92.1 23.5ZM92.1 23.5L92.1 23.7L92.6 23.3ZM83.7 33.5L83.5 32.6L82.5 33.9ZM83.5 32.6L83.7 33.5L85.7 32.8L85.2 30.3ZM85.2 30.3L85.7 32.8L87.6 32.0L87.0 28.5ZM87.0 28.5L87.6 32.0L89.4 31.3L88.7 26.9ZM88.7 26.9L89.4 31.3L91.2 30.5L90.4 25.3ZM90.4 25.3L91.2 30.5L93.0 29.6L92.1 23.7ZM92.1 23.7L93.0 29.6L94.9 28.8L94.0 22.7L92.6 23.3ZM94.0 22.7L94.9 28.8L96.6 28.0L95.7 21.9ZM95.7 21.9L96.6 28.0L98.3 27.1L97.5 21.1ZM97.5 21.1L98.3 27.1L100.1 26.3L99.3 20.3ZM99.3 20.3L100.1 26.3L101.8 25.5L101.1 19.4ZM101.1 19.4L101.8 25.5L103.6 24.6L102.8 18.6ZM102.8 18.6L103.6 24.6L105.3 23.8L104.6 17.8Z"/><path class="s8" d="M84.5 26.6L84.3 25.3L83.3 26.9ZM84.3 25.3L84.5 26.6L86.5 25.9L86.0 23.1ZM86.0 23.1L86.5 25.9L88.4 25.1L87.7 21.2ZM87.7 21.2L88.4 25.1L90.3 24.3L89.5 19.3ZM89.5 19.3L90.3 24.3L92.1 23.5L91.2 17.4L91.1 17.5ZM91.2 17.4L92.1 23.5L92.6 23.3L93.9 22.2L93.1 16.7ZM93.1 16.7L93.9 22.2L95.6 21.0L94.9 15.9ZM94.9 15.9L95.6 21.0L97.3 19.8L96.7 15.1ZM96.7 15.1L97.3 19.8L99.1 18.6L98.5 14.2ZM98.5 14.2L99.1 18.6L100.8 17.4L100.3 13.4ZM100.3 13.4L100.8 17.4L102.5 16.1L102.1 12.6ZM102.1 12.6L102.5 16.1L104.3 14.9L103.9 11.8ZM94.0 22.7L93.9 22.2L92.6 23.3ZM93.9 22.2L94.0 22.7L95.7 21.9L95.6 21.0ZM95.6 21.0L95.7 21.9L97.5 21.1L97.3 19.8ZM97.3 19.8L97.5 21.1L99.3 20.3L99.1 18.6ZM99.1 18.6L99.3 20.3L101.1 19.4L100.8 17.4ZM100.8 17.4L101.1 19.4L102.8 18.6L102.5 16.1ZM102.5 16.1L102.8 18.6L104.6 17.8L104.3 14.9Z"/><path class="s9" d="M91.2 17.4L91.2 17.4L91.1 17.5ZM91.2 17.4L91.2 17.4L93.1 16.7L92.9 15.5ZM92.9 15.5L93.1 16.7L94.9 15.9L94.6 13.9ZM94.6 13.9L94.9 15.9L96.7 15.1L96.4 12.4ZM96.4 12.4L96.7 15.1L98.5 14.2L98.1 10.9ZM98.1 10.9L98.5 14.2L100.3 13.4L99.8 9.2ZM99.8 9.2L100.3 13.4L102.1 12.6L101.6 7.5ZM101.6 7.5L102.1 12.6L103.9 11.8L103.3 5.9Z"/>
<path d="M41.0 91.7L42.0 92.1L43.4 92.8L45.0 93.6L46.8 94.5L48.8 95.3L50.9 96.4L53.1 97.6L55.3 98.9L57.7 100.1L60.2 101.3L62.7 102.6L65.3 103.8L67.9 105.1L70.7 106.2L73.5 107.3L76.3 108.4L79.2 109.7L82.1 110.9L85.1 112.0L88.2 113.8L91.3 115.7L94.4 117.6L97.6 119.7L100.8 121.6M42.7 90.6L43.7 90.9L45.1 91.5L46.7 92.3L48.6 93.2L50.5 93.9L52.6 95.0L54.8 96.4L57.1 97.7L59.4 99.0L61.9 100.2L64.4 101.4L67.0 102.7L69.7 103.9L72.4 104.9L75.2 105.9L78.0 106.9L80.9 108.1L83.9 109.3L86.9 110.2L89.9 112.2L93.0 114.1L96.1 116.2L99.3 118.4L102.5 120.4M44.5 89.4L45.4 89.6L46.8 90.1L48.5 91.0L50.3 91.8L52.2 92.5L54.3 93.6L56.5 95.1L58.8 96.4L61.2 97.7L63.6 99.0L66.1 100.2L68.7 101.4L71.4 102.7L74.1 103.6L76.9 104.5L79.8 105.4L82.7 106.5L85.6 107.5L88.6 108.3L91.6 110.4L94.7 112.4L97.9 114.6L101.0 117.1L104.3 119.1M46.2 88.1L47.2 88.3L48.6 88.8L50.2 89.6L52.0 90.4L54.0 91.1L56.1 92.2L58.2 93.7L60.5 95.1L62.9 96.4L65.4 97.7L67.9 98.9L70.5 100.1L73.1 101.3L75.9 102.2L78.7 103.0L81.5 103.7L84.4 104.8L87.3 105.7L90.3 106.4L93.4 108.6L96.5 110.7L99.6 113.1L102.8 115.7L106.0 117.9M47.9 86.7L48.9 86.8L50.3 87.4L51.9 88.3L53.7 89.1L55.7 89.6L57.8 90.7L60.0 92.3L62.3 93.7L64.6 95.0L67.1 96.2L69.6 97.4L72.2 98.5L74.9 99.6L77.6 100.4L80.4 101.2L83.2 101.9L86.1 102.9L89.1 103.8L92.1 104.3L95.1 106.7L98.2 109.0L101.3 111.5L104.5 114.4L107.7 116.7M49.7 85.3L50.6 85.4L52.0 86.0L53.7 86.9L55.5 87.7L57.4 88.2L59.5 89.2L61.7 90.8L64.0 92.2L66.4 93.5L68.8 94.7L71.3 95.8L73.9 96.9L76.6 97.9L79.3 98.7L82.1 99.4L85.0 100.0L87.8 101.0L90.8 101.8L93.8 102.2L96.8 104.8L99.9 107.3L103.1 110.0L106.2 113.0L109.5 115.4M51.4 83.8L52.3 84.0L53.7 84.5L55.4 85.5L57.2 86.2L59.2 86.6L61.2 87.6L63.4 89.3L65.7 90.7L68.1 92.0L70.5 93.1L73.1 94.2L75.7 95.1L78.3 96.2L81.1 96.9L83.8 97.5L86.7 98.1L89.6 99.0L92.5 99.8L95.5 100.1L98.6 102.9L101.7 105.5L104.8 108.4L108.0 111.7L111.2 114.2M53.1 81.9L54.1 82.0L55.5 82.5L57.1 83.5L58.9 84.0L60.9 84.3L63.0 85.2L65.2 87.0L67.5 88.5L69.8 89.9L72.3 91.0L74.8 92.1L77.4 92.9L80.1 93.8L82.8 94.6L85.6 95.2L88.4 95.8L91.3 96.8L94.3 97.6L97.3 97.8L100.3 100.9L103.4 103.7L106.5 106.9L109.7 110.3L112.9 113.0M54.8 80.0L55.8 80.0L57.2 80.5L58.9 81.5L60.7 81.9L62.6 81.9L64.7 82.8L66.9 84.8L69.2 86.4L71.6 87.8L74.0 88.8L76.5 89.9L79.1 90.6L81.8 91.5L84.5 92.3L87.3 93.0L90.1 93.5L93.0 94.5L96.0 95.4L99.0 95.6L102.0 98.9L105.1 102.0L108.2 105.3L111.4 109.0L114.6 111.8M56.6 77.7L57.5 77.7L58.9 78.4L60.6 79.4L62.4 79.7L64.4 79.4L66.4 80.3L68.6 82.6L70.9 84.2L73.3 85.6L75.7 86.7L78.3 87.7L80.9 88.3L83.5 89.1L86.3 90.1L89.0 90.7L91.9 91.2L94.8 92.3L97.7 93.2L100.7 93.3L103.8 96.9L106.8 100.2L110.0 103.7L113.2 107.7L116.4 110.6M58.3 75.1L59.3 75.0L60.7 75.6L62.3 76.7L64.1 76.8L66.1 76.3L68.2 77.2L70.4 79.9L72.6 81.8L75.0 83.4L77.5 84.5L80.0 85.5L82.6 86.1L85.3 86.9L88.0 87.9L90.8 88.6L93.6 89.1L96.5 90.3L99.4 91.2L102.4 91.3L105.5 95.2L108.6 98.7L111.7 102.4L114.9 106.5L118.1 109.5M60.0 72.2L61.0 72.0L62.4 72.8L64.0 74.0L65.9 73.9L67.8 73.1L69.9 74.1L72.1 77.2L74.4 79.4L76.7 81.1L79.2 82.2L81.7 83.4L84.3 83.9L87.0 84.7L89.7 85.8L92.5 86.5L95.3 87.1L98.2 88.4L101.2 89.3L104.2 89.4L107.2 93.5L110.3 97.2L113.4 101.1L116.6 105.3L119.8 108.5M61.8 68.6L62.7 68.7L64.1 69.8L65.8 71.2L67.6 71.1L69.5 69.9L71.6 71.0L73.8 74.5L76.1 76.9L78.5 78.8L80.9 80.0L83.5 81.2L86.1 81.7L88.7 82.4L91.4 83.7L94.2 84.4L97.1 85.0L100.0 86.4L102.9 87.4L105.9 87.5L108.9 91.8L112.0 95.7L115.2 99.7L118.3 104.2L121.6 107.4M63.5 65.0L64.5 65.3L65.9 66.7L67.5 68.5L69.3 68.4L71.3 67.1L73.4 68.4L75.5 72.2L77.8 74.8L80.2 76.8L82.7 78.1L85.2 79.3L87.8 79.8L90.4 80.6L93.2 82.0L96.0 82.7L98.8 83.4L101.7 84.8L104.6 85.9L107.6 86.0L110.7 90.5L113.8 94.5L116.9 98.6L120.1 103.2L123.3 106.5M65.2 61.3L66.2 61.8L67.6 63.6L69.2 65.7L71.1 65.7L73.0 64.4L75.1 65.8L77.3 70.0L79.6 72.8L81.9 75.0L84.4 76.3L86.9 77.6L89.5 78.1L92.2 78.9L94.9 80.3L97.7 81.2L100.5 81.8L103.4 83.4L106.4 84.5L109.4 84.6L112.4 89.2L115.5 93.4L118.6 97.6L121.8 102.2L125.0 105.5M67.0 57.5L67.9 58.2L69.3 60.3L71.0 62.8L72.8 62.9L74.7 61.5L76.8 63.1L79.0 67.8L81.3 70.9L83.7 73.3L86.1 74.7L88.6 76.1L91.2 76.7L93.9 77.6L96.6 79.0L99.4 79.9L102.3 80.6L105.2 82.2L108.1 83.3L111.1 83.5L114.1 88.1L117.2 92.3L120.4 96.6L123.5 101.3L126.8 104.6M68.7 53.3L69.6 54.3L71.1 56.9L72.7 59.8L74.5 60.0L76.5 58.5L78.6 60.4L80.7 65.6L83.0 69.1L85.4 71.7L87.9 73.3L90.4 74.9L93.0 75.6L95.6 76.6L98.4 78.0L101.1 78.9L104.0 79.6L106.9 81.1L109.8 82.3L112.8 82.4L115.9 87.1L119.0 91.3L122.1 95.7L125.3 100.4L128.5 103.7M70.4 49.9L71.4 51.2L72.8 54.2L74.4 57.6L76.2 58.3L78.2 57.0L80.3 59.1L82.5 64.4L84.8 68.0L87.1 70.6L89.6 72.3L92.1 73.9L94.7 74.6L97.4 75.6L100.1 77.2L102.9 78.2L105.7 78.9L108.6 80.6L111.6 81.8L114.6 82.0L117.6 86.7L120.7 90.9L123.8 95.2L127.0 99.8L130.2 103.1M72.2 46.8L73.1 48.3L74.5 51.6L76.2 55.6L78.0 56.6L79.9 55.6L82.0 57.8L84.2 63.3L86.5 66.9L88.9 69.6L91.3 71.3L93.8 72.9L96.4 73.7L99.1 74.7L101.8 76.4L104.6 77.4L107.5 78.2L110.3 79.9L113.3 81.2L116.3 81.5L119.3 86.2L122.4 90.4L125.6 94.6L128.7 99.1L131.9 102.4M73.9 43.4L74.8 45.4L76.2 49.3L77.9 53.9L79.7 55.2L81.7 54.4L83.7 56.8L85.9 62.4L88.2 66.1L90.6 68.8L93.0 70.6L95.6 72.2L98.2 73.0L100.8 74.1L103.6 75.8L106.3 76.9L109.2 77.8L112.1 79.5L115.0 80.8L118.0 81.2L121.1 85.8L124.2 89.9L127.3 94.1L130.5 98.5L133.7 101.7M75.6 40.1L76.6 42.5L78.0 47.1L79.6 52.2L81.4 53.9L83.4 53.3L85.5 55.9L87.7 61.5L89.9 65.3L92.3 68.1L94.8 69.9L97.3 71.5L99.9 72.4L102.6 73.5L105.3 75.3L108.1 76.4L110.9 77.3L113.8 79.1L116.8 80.4L119.7 80.9L122.8 85.4L125.9 89.5L129.0 93.6L132.2 97.9L135.4 101.1M77.3 36.8L78.3 39.7L79.7 44.8L81.3 50.5L83.2 52.5L85.1 52.2L87.2 54.9L89.4 60.7L91.7 64.5L94.1 67.3L96.5 69.2L99.0 70.9L101.6 71.8L104.3 73.0L107.0 74.7L109.8 75.9L112.6 76.9L115.5 78.6L118.5 80.0L121.5 80.5L124.5 85.0L127.6 89.0L130.7 93.0L133.9 97.3L137.1 100.4M79.1 33.9L80.0 37.3L81.4 43.0L83.1 49.2L84.9 51.7L86.9 51.7L88.9 54.5L91.1 60.2L93.4 64.0L95.8 66.8L98.2 68.7L100.8 70.4L103.4 71.3L106.0 72.6L108.7 74.3L111.5 75.5L114.4 76.6L117.3 78.4L120.2 79.8L123.2 80.4L126.3 84.8L129.3 88.7L132.5 92.6L135.7 96.7L138.9 99.8M80.8 31.0L81.8 35.0L83.2 41.3L84.8 48.0L86.6 50.9L88.6 51.2L90.7 54.1L92.9 59.8L95.1 63.5L97.5 66.4L100.0 68.2L102.5 70.0L105.1 70.9L107.8 72.2L110.5 74.0L113.3 75.2L116.1 76.3L119.0 78.2L121.9 79.6L124.9 80.3L128.0 84.5L131.1 88.3L134.2 92.2L137.4 96.2L140.6 99.2M82.5 28.2L83.5 32.6L84.9 39.6L86.5 46.8L88.4 50.1L90.3 50.7L92.4 53.7L94.6 59.4L96.9 63.1L99.2 65.9L101.7 67.8L104.2 69.5L106.8 70.6L109.5 71.8L112.2 73.7L115.0 74.9L117.8 76.1L120.7 77.9L123.7 79.4L126.7 80.1L129.7 84.3L132.8 88.0L135.9 91.7L139.1 95.6L142.3 98.6M84.3 25.3L85.2 30.3L86.6 37.9L88.3 45.6L90.1 49.3L92.0 50.2L94.1 53.4L96.3 58.9L98.6 62.6L101.0 65.4L103.4 67.4L106.0 69.1L108.6 70.2L111.2 71.5L113.9 73.3L116.7 74.6L119.6 75.8L122.5 77.7L125.4 79.2L128.4 80.0L131.4 84.1L134.5 87.7L137.7 91.3L140.8 95.1L144.1 97.9M86.0 23.1L87.0 28.5L88.4 36.5L90.0 44.7L91.8 48.7L93.8 49.9L95.9 53.1L98.0 58.6L100.3 62.3L102.7 65.0L105.2 67.0L107.7 68.7L110.3 69.8L112.9 71.1L115.7 73.0L118.5 74.4L121.3 75.6L124.2 77.5L127.1 79.0L130.1 79.9L133.2 83.8L136.3 87.4L139.4 90.9L142.6 94.5L145.8 97.3M87.7 21.2L88.7 26.9L90.1 35.3L91.7 43.8L93.5 48.1L95.5 49.6L97.6 52.9L99.8 58.3L102.1 61.9L104.4 64.6L106.9 66.6L109.4 68.3L112.0 69.4L114.7 70.8L117.4 72.7L120.2 74.1L123.0 75.3L125.9 77.2L128.9 78.8L131.9 79.8L134.9 83.6L138.0 87.0L141.1 90.5L144.3 94.0L147.5 96.7M89.5 19.3L90.4 25.3L91.8 34.1L93.5 43.0L95.3 47.6L97.2 49.3L99.3 52.7L101.5 58.0L103.8 61.5L106.2 64.3L108.6 66.2L111.1 67.9L113.7 69.1L116.4 70.5L119.1 72.3L121.9 73.8L124.8 75.1L127.7 77.0L130.6 78.6L133.6 79.6L136.6 83.3L139.7 86.6L142.9 90.0L146.0 93.4L149.3 96.0M91.2 17.4L92.1 23.7L93.6 32.9L95.2 42.1L97.0 47.0L99.0 49.0L101.0 52.4L103.2 57.7L105.5 61.2L107.9 63.9L110.3 65.8L112.9 67.6L115.5 68.7L118.1 70.1L120.9 72.0L123.6 73.4L126.5 74.7L129.4 76.6L132.3 78.2L135.3 79.2L138.4 82.9L141.5 86.1L144.6 89.4L147.8 92.7L151.0 95.3M92.9 15.5L93.9 22.2L95.3 31.8L96.9 41.3L98.7 46.5L100.7 48.7L102.8 52.2L105.0 57.3L107.3 60.8L109.6 63.5L112.1 65.4L114.6 67.2L117.2 68.3L119.9 69.8L122.6 71.6L125.4 73.1L128.2 74.4L131.1 76.3L134.1 77.9L137.1 78.9L140.1 82.5L143.2 85.6L146.3 88.8L149.5 92.1L152.7 94.6M94.6 13.9L95.6 21.0L97.0 31.0L98.7 40.8L100.5 46.1L102.4 48.6L104.5 52.1L106.7 57.1L109.0 60.5L111.4 63.1L113.8 65.0L116.3 66.8L118.9 68.0L121.6 69.4L124.3 71.3L127.1 72.7L129.9 74.0L132.8 75.9L135.8 77.5L138.8 78.6L141.8 82.0L144.9 85.1L148.1 88.2L151.2 91.4L154.4 93.9M96.4 12.4L97.3 19.8L98.7 30.2L100.4 40.3L102.2 45.8L104.2 48.5L106.2 52.0L108.4 56.9L110.7 60.2L113.1 62.8L115.5 64.6L118.1 66.4L120.7 67.6L123.3 69.1L126.1 70.9L128.8 72.3L131.7 73.7L134.6 75.5L137.5 77.1L140.5 78.2L143.6 81.6L146.6 84.6L149.8 87.6L153.0 90.7L156.2 93.2M98.1 10.9L99.1 18.6L100.5 29.4L102.1 39.7L103.9 45.5L105.9 48.3L108.0 51.9L110.2 56.6L112.4 59.9L114.8 62.4L117.3 64.3L119.8 66.0L122.4 67.2L125.1 68.7L127.8 70.5L130.6 72.0L133.4 73.3L136.3 75.2L139.2 76.8L142.2 77.9L145.3 81.2L148.4 84.1L151.5 87.1L154.7 90.1L157.9 92.5M99.8 9.2L100.8 17.4L102.2 28.6L103.8 39.1L105.7 45.0L107.6 47.9L109.7 51.5L111.9 56.1L114.2 59.3L116.5 61.9L119.0 63.7L121.5 65.5L124.1 66.7L126.8 68.2L129.5 70.0L132.3 71.5L135.1 72.9L138.0 74.7L141.0 76.3L144.0 77.5L147.0 80.7L150.1 83.6L153.2 86.5L156.4 89.4L159.6 91.8M101.6 7.5L102.5 16.1L103.9 27.8L105.6 38.5L107.4 44.4L109.4 47.4L111.4 51.0L113.6 55.6L115.9 58.8L118.3 61.3L120.7 63.1L123.3 64.9L125.9 66.2L128.5 67.7L131.2 69.5L134.0 71.0L136.9 72.4L139.8 74.2L142.7 75.9L145.7 77.1L148.8 80.2L151.8 83.1L155.0 85.9L158.2 88.7L161.4 91.1M103.3 5.9L104.3 14.9L105.7 27.0L107.3 37.9L109.1 43.8L111.1 46.9L113.2 50.5L115.4 55.0L117.6 58.2L120.0 60.7L122.5 62.5L125.0 64.3L127.6 65.6L130.2 67.1L133.0 68.9L135.8 70.4L138.6 71.9L141.5 73.7L144.4 75.4L147.4 76.6L150.5 79.7L153.6 82.5L156.7 85.3L159.9 88.0L163.1 90.3" fill="none" stroke="#000" stroke-opacity="0.52" stroke-width="0.45"/>
<path d="M41.0 91.7L42.7 90.6L44.5 89.4L46.2 88.1L47.9 86.7L49.7 85.3L51.4 83.8L53.1 81.9L54.8 80.0L56.6 77.7L58.3 75.1L60.0 72.2L61.8 68.6L63.5 65.0L65.2 61.3L67.0 57.5L68.7 53.3L70.4 49.9L72.2 46.8L73.9 43.4L75.6 40.1L77.3 36.8L79.1 33.9L80.8 31.0L82.5 28.2L84.3 25.3L86.0 23.1L87.7 21.2L89.5 19.3L91.2 17.4L92.9 15.5L94.6 13.9L96.4 12.4L98.1 10.9L99.8 9.2L101.6 7.5L103.3 5.9M42.0 92.1L43.7 90.9L45.4 89.6L47.2 88.3L48.9 86.8L50.6 85.4L52.3 84.0L54.1 82.0L55.8 80.0L57.5 77.7L59.3 75.0L61.0 72.0L62.7 68.7L64.5 65.3L66.2 61.8L67.9 58.2L69.6 54.3L71.4 51.2L73.1 48.3L74.8 45.4L76.6 42.5L78.3 39.7L80.0 37.3L81.8 35.0L83.5 32.6L85.2 30.3L87.0 28.5L88.7 26.9L90.4 25.3L92.1 23.7L93.9 22.2L95.6 21.0L97.3 19.8L99.1 18.6L100.8 17.4L102.5 16.1L104.3 14.9M43.4 92.8L45.1 91.5L46.8 90.1L48.6 88.8L50.3 87.4L52.0 86.0L53.7 84.5L55.5 82.5L57.2 80.5L58.9 78.4L60.7 75.6L62.4 72.8L64.1 69.8L65.9 66.7L67.6 63.6L69.3 60.3L71.1 56.9L72.8 54.2L74.5 51.6L76.2 49.3L78.0 47.1L79.7 44.8L81.4 43.0L83.2 41.3L84.9 39.6L86.6 37.9L88.4 36.5L90.1 35.3L91.8 34.1L93.6 32.9L95.3 31.8L97.0 31.0L98.7 30.2L100.5 29.4L102.2 28.6L103.9 27.8L105.7 27.0M45.0 93.6L46.7 92.3L48.5 91.0L50.2 89.6L51.9 88.3L53.7 86.9L55.4 85.5L57.1 83.5L58.9 81.5L60.6 79.4L62.3 76.7L64.0 74.0L65.8 71.2L67.5 68.5L69.2 65.7L71.0 62.8L72.7 59.8L74.4 57.6L76.2 55.6L77.9 53.9L79.6 52.2L81.3 50.5L83.1 49.2L84.8 48.0L86.5 46.8L88.3 45.6L90.0 44.7L91.7 43.8L93.5 43.0L95.2 42.1L96.9 41.3L98.7 40.8L100.4 40.3L102.1 39.7L103.8 39.1L105.6 38.5L107.3 37.9M46.8 94.5L48.6 93.2L50.3 91.8L52.0 90.4L53.7 89.1L55.5 87.7L57.2 86.2L58.9 84.0L60.7 81.9L62.4 79.7L64.1 76.8L65.9 73.9L67.6 71.1L69.3 68.4L71.1 65.7L72.8 62.9L74.5 60.0L76.2 58.3L78.0 56.6L79.7 55.2L81.4 53.9L83.2 52.5L84.9 51.7L86.6 50.9L88.4 50.1L90.1 49.3L91.8 48.7L93.5 48.1L95.3 47.6L97.0 47.0L98.7 46.5L100.5 46.1L102.2 45.8L103.9 45.5L105.7 45.0L107.4 44.4L109.1 43.8M48.8 95.3L50.5 93.9L52.2 92.5L54.0 91.1L55.7 89.6L57.4 88.2L59.2 86.6L60.9 84.3L62.6 81.9L64.4 79.4L66.1 76.3L67.8 73.1L69.5 69.9L71.3 67.1L73.0 64.4L74.7 61.5L76.5 58.5L78.2 57.0L79.9 55.6L81.7 54.4L83.4 53.3L85.1 52.2L86.9 51.7L88.6 51.2L90.3 50.7L92.0 50.2L93.8 49.9L95.5 49.6L97.2 49.3L99.0 49.0L100.7 48.7L102.4 48.6L104.2 48.5L105.9 48.3L107.6 47.9L109.4 47.4L111.1 46.9M50.9 96.4L52.6 95.0L54.3 93.6L56.1 92.2L57.8 90.7L59.5 89.2L61.2 87.6L63.0 85.2L64.7 82.8L66.4 80.3L68.2 77.2L69.9 74.1L71.6 71.0L73.4 68.4L75.1 65.8L76.8 63.1L78.6 60.4L80.3 59.1L82.0 57.8L83.7 56.8L85.5 55.9L87.2 54.9L88.9 54.5L90.7 54.1L92.4 53.7L94.1 53.4L95.9 53.1L97.6 52.9L99.3 52.7L101.0 52.4L102.8 52.2L104.5 52.1L106.2 52.0L108.0 51.9L109.7 51.5L111.4 51.0L113.2 50.5M53.1 97.6L54.8 96.4L56.5 95.1L58.2 93.7L60.0 92.3L61.7 90.8L63.4 89.3L65.2 87.0L66.9 84.8L68.6 82.6L70.4 79.9L72.1 77.2L73.8 74.5L75.5 72.2L77.3 70.0L79.0 67.8L80.7 65.6L82.5 64.4L84.2 63.3L85.9 62.4L87.7 61.5L89.4 60.7L91.1 60.2L92.9 59.8L94.6 59.4L96.3 58.9L98.0 58.6L99.8 58.3L101.5 58.0L103.2 57.7L105.0 57.3L106.7 57.1L108.4 56.9L110.2 56.6L111.9 56.1L113.6 55.6L115.4 55.0M55.3 98.9L57.1 97.7L58.8 96.4L60.5 95.1L62.3 93.7L64.0 92.2L65.7 90.7L67.5 88.5L69.2 86.4L70.9 84.2L72.6 81.8L74.4 79.4L76.1 76.9L77.8 74.8L79.6 72.8L81.3 70.9L83.0 69.1L84.8 68.0L86.5 66.9L88.2 66.1L89.9 65.3L91.7 64.5L93.4 64.0L95.1 63.5L96.9 63.1L98.6 62.6L100.3 62.3L102.1 61.9L103.8 61.5L105.5 61.2L107.3 60.8L109.0 60.5L110.7 60.2L112.4 59.9L114.2 59.3L115.9 58.8L117.6 58.2M57.7 100.1L59.4 99.0L61.2 97.7L62.9 96.4L64.6 95.0L66.4 93.5L68.1 92.0L69.8 89.9L71.6 87.8L73.3 85.6L75.0 83.4L76.7 81.1L78.5 78.8L80.2 76.8L81.9 75.0L83.7 73.3L85.4 71.7L87.1 70.6L88.9 69.6L90.6 68.8L92.3 68.1L94.1 67.3L95.8 66.8L97.5 66.4L99.2 65.9L101.0 65.4L102.7 65.0L104.4 64.6L106.2 64.3L107.9 63.9L109.6 63.5L111.4 63.1L113.1 62.8L114.8 62.4L116.5 61.9L118.3 61.3L120.0 60.7M60.2 101.3L61.9 100.2L63.6 99.0L65.4 97.7L67.1 96.2L68.8 94.7L70.5 93.1L72.3 91.0L74.0 88.8L75.7 86.7L77.5 84.5L79.2 82.2L80.9 80.0L82.7 78.1L84.4 76.3L86.1 74.7L87.9 73.3L89.6 72.3L91.3 71.3L93.0 70.6L94.8 69.9L96.5 69.2L98.2 68.7L100.0 68.2L101.7 67.8L103.4 67.4L105.2 67.0L106.9 66.6L108.6 66.2L110.3 65.8L112.1 65.4L113.8 65.0L115.5 64.6L117.3 64.3L119.0 63.7L120.7 63.1L122.5 62.5M62.7 102.6L64.4 101.4L66.1 100.2L67.9 98.9L69.6 97.4L71.3 95.8L73.1 94.2L74.8 92.1L76.5 89.9L78.3 87.7L80.0 85.5L81.7 83.4L83.5 81.2L85.2 79.3L86.9 77.6L88.6 76.1L90.4 74.9L92.1 73.9L93.8 72.9L95.6 72.2L97.3 71.5L99.0 70.9L100.8 70.4L102.5 70.0L104.2 69.5L106.0 69.1L107.7 68.7L109.4 68.3L111.1 67.9L112.9 67.6L114.6 67.2L116.3 66.8L118.1 66.4L119.8 66.0L121.5 65.5L123.3 64.9L125.0 64.3M65.3 103.8L67.0 102.7L68.7 101.4L70.5 100.1L72.2 98.5L73.9 96.9L75.7 95.1L77.4 92.9L79.1 90.6L80.9 88.3L82.6 86.1L84.3 83.9L86.1 81.7L87.8 79.8L89.5 78.1L91.2 76.7L93.0 75.6L94.7 74.6L96.4 73.7L98.2 73.0L99.9 72.4L101.6 71.8L103.4 71.3L105.1 70.9L106.8 70.6L108.6 70.2L110.3 69.8L112.0 69.4L113.7 69.1L115.5 68.7L117.2 68.3L118.9 68.0L120.7 67.6L122.4 67.2L124.1 66.7L125.9 66.2L127.6 65.6M67.9 105.1L69.7 103.9L71.4 102.7L73.1 101.3L74.9 99.6L76.6 97.9L78.3 96.2L80.1 93.8L81.8 91.5L83.5 89.1L85.3 86.9L87.0 84.7L88.7 82.4L90.4 80.6L92.2 78.9L93.9 77.6L95.6 76.6L97.4 75.6L99.1 74.7L100.8 74.1L102.6 73.5L104.3 73.0L106.0 72.6L107.8 72.2L109.5 71.8L111.2 71.5L112.9 71.1L114.7 70.8L116.4 70.5L118.1 70.1L119.9 69.8L121.6 69.4L123.3 69.1L125.1 68.7L126.8 68.2L128.5 67.7L130.2 67.1M70.7 106.2L72.4 104.9L74.1 103.6L75.9 102.2L77.6 100.4L79.3 98.7L81.1 96.9L82.8 94.6L84.5 92.3L86.3 90.1L88.0 87.9L89.7 85.8L91.4 83.7L93.2 82.0L94.9 80.3L96.6 79.0L98.4 78.0L100.1 77.2L101.8 76.4L103.6 75.8L105.3 75.3L107.0 74.7L108.7 74.3L110.5 74.0L112.2 73.7L113.9 73.3L115.7 73.0L117.4 72.7L119.1 72.3L120.9 72.0L122.6 71.6L124.3 71.3L126.1 70.9L127.8 70.5L129.5 70.0L131.2 69.5L133.0 68.9M73.5 107.3L75.2 105.9L76.9 104.5L78.7 103.0L80.4 101.2L82.1 99.4L83.8 97.5L85.6 95.2L87.3 93.0L89.0 90.7L90.8 88.6L92.5 86.5L94.2 84.4L96.0 82.7L97.7 81.2L99.4 79.9L101.1 78.9L102.9 78.2L104.6 77.4L106.3 76.9L108.1 76.4L109.8 75.9L111.5 75.5L113.3 75.2L115.0 74.9L116.7 74.6L118.5 74.4L120.2 74.1L121.9 73.8L123.6 73.4L125.4 73.1L127.1 72.7L128.8 72.3L130.6 72.0L132.3 71.5L134.0 71.0L135.8 70.4M76.3 108.4L78.0 106.9L79.8 105.4L81.5 103.7L83.2 101.9L85.0 100.0L86.7 98.1L88.4 95.8L90.1 93.5L91.9 91.2L93.6 89.1L95.3 87.1L97.1 85.0L98.8 83.4L100.5 81.8L102.3 80.6L104.0 79.6L105.7 78.9L107.5 78.2L109.2 77.8L110.9 77.3L112.6 76.9L114.4 76.6L116.1 76.3L117.8 76.1L119.6 75.8L121.3 75.6L123.0 75.3L124.8 75.1L126.5 74.7L128.2 74.4L129.9 74.0L131.7 73.7L133.4 73.3L135.1 72.9L136.9 72.4L138.6 71.9M79.2 109.7L80.9 108.1L82.7 106.5L84.4 104.8L86.1 102.9L87.8 101.0L89.6 99.0L91.3 96.8L93.0 94.5L94.8 92.3L96.5 90.3L98.2 88.4L100.0 86.4L101.7 84.8L103.4 83.4L105.2 82.2L106.9 81.1L108.6 80.6L110.3 79.9L112.1 79.5L113.8 79.1L115.5 78.6L117.3 78.4L119.0 78.2L120.7 77.9L122.5 77.7L124.2 77.5L125.9 77.2L127.7 77.0L129.4 76.6L131.1 76.3L132.8 75.9L134.6 75.5L136.3 75.2L138.0 74.7L139.8 74.2L141.5 73.7M82.1 110.9L83.9 109.3L85.6 107.5L87.3 105.7L89.1 103.8L90.8 101.8L92.5 99.8L94.3 97.6L96.0 95.4L97.7 93.2L99.4 91.2L101.2 89.3L102.9 87.4L104.6 85.9L106.4 84.5L108.1 83.3L109.8 82.3L111.6 81.8L113.3 81.2L115.0 80.8L116.8 80.4L118.5 80.0L120.2 79.8L121.9 79.6L123.7 79.4L125.4 79.2L127.1 79.0L128.9 78.8L130.6 78.6L132.3 78.2L134.1 77.9L135.8 77.5L137.5 77.1L139.2 76.8L141.0 76.3L142.7 75.9L144.4 75.4M85.1 112.0L86.9 110.2L88.6 108.3L90.3 106.4L92.1 104.3L93.8 102.2L95.5 100.1L97.3 97.8L99.0 95.6L100.7 93.3L102.4 91.3L104.2 89.4L105.9 87.5L107.6 86.0L109.4 84.6L111.1 83.5L112.8 82.4L114.6 82.0L116.3 81.5L118.0 81.2L119.7 80.9L121.5 80.5L123.2 80.4L124.9 80.3L126.7 80.1L128.4 80.0L130.1 79.9L131.9 79.8L133.6 79.6L135.3 79.2L137.1 78.9L138.8 78.6L140.5 78.2L142.2 77.9L144.0 77.5L145.7 77.1L147.4 76.6M88.2 113.8L89.9 112.2L91.6 110.4L93.4 108.6L95.1 106.7L96.8 104.8L98.6 102.9L100.3 100.9L102.0 98.9L103.8 96.9L105.5 95.2L107.2 93.5L108.9 91.8L110.7 90.5L112.4 89.2L114.1 88.1L115.9 87.1L117.6 86.7L119.3 86.2L121.1 85.8L122.8 85.4L124.5 85.0L126.3 84.8L128.0 84.5L129.7 84.3L131.4 84.1L133.2 83.8L134.9 83.6L136.6 83.3L138.4 82.9L140.1 82.5L141.8 82.0L143.6 81.6L145.3 81.2L147.0 80.7L148.8 80.2L150.5 79.7M91.3 115.7L93.0 114.1L94.7 112.4L96.5 110.7L98.2 109.0L99.9 107.3L101.7 105.5L103.4 103.7L105.1 102.0L106.8 100.2L108.6 98.7L110.3 97.2L112.0 95.7L113.8 94.5L115.5 93.4L117.2 92.3L119.0 91.3L120.7 90.9L122.4 90.4L124.2 89.9L125.9 89.5L127.6 89.0L129.3 88.7L131.1 88.3L132.8 88.0L134.5 87.7L136.3 87.4L138.0 87.0L139.7 86.6L141.5 86.1L143.2 85.6L144.9 85.1L146.6 84.6L148.4 84.1L150.1 83.6L151.8 83.1L153.6 82.5M94.4 117.6L96.1 116.2L97.9 114.6L99.6 113.1L101.3 111.5L103.1 110.0L104.8 108.4L106.5 106.9L108.2 105.3L110.0 103.7L111.7 102.4L113.4 101.1L115.2 99.7L116.9 98.6L118.6 97.6L120.4 96.6L122.1 95.7L123.8 95.2L125.6 94.6L127.3 94.1L129.0 93.6L130.7 93.0L132.5 92.6L134.2 92.2L135.9 91.7L137.7 91.3L139.4 90.9L141.1 90.5L142.9 90.0L144.6 89.4L146.3 88.8L148.1 88.2L149.8 87.6L151.5 87.1L153.2 86.5L155.0 85.9L156.7 85.3M97.6 119.7L99.3 118.4L101.0 117.1L102.8 115.7L104.5 114.4L106.2 113.0L108.0 111.7L109.7 110.3L111.4 109.0L113.2 107.7L114.9 106.5L116.6 105.3L118.3 104.2L120.1 103.2L121.8 102.2L123.5 101.3L125.3 100.4L127.0 99.8L128.7 99.1L130.5 98.5L132.2 97.9L133.9 97.3L135.7 96.7L137.4 96.2L139.1 95.6L140.8 95.1L142.6 94.5L144.3 94.0L146.0 93.4L147.8 92.7L149.5 92.1L151.2 91.4L153.0 90.7L154.7 90.1L156.4 89.4L158.2 88.7L159.9 88.0M100.8 121.6L102.5 120.4L104.3 119.1L106.0 117.9L107.7 116.7L109.5 115.4L111.2 114.2L112.9 113.0L114.6 111.8L116.4 110.6L118.1 109.5L119.8 108.5L121.6 107.4L123.3 106.5L125.0 105.5L126.8 104.6L128.5 103.7L130.2 103.1L131.9 102.4L133.7 101.7L135.4 101.1L137.1 100.4L138.9 99.8L140.6 99.2L142.3 98.6L144.1 97.9L145.8 97.3L147.5 96.7L149.3 96.0L151.0 95.3L152.7 94.6L154.4 93.9L156.2 93.2L157.9 92.5L159.6 91.8L161.4 91.1L163.1 90.3" fill="none" stroke="#000" stroke-opacity="0.42" stroke-width="0.45"/>
<path d="M100.8 122.2L102.5 121.0L104.3 119.7L106.0 118.5L107.7 117.3L109.5 116.0L111.2 114.8L112.9 113.6L114.6 112.4L116.4 111.2L118.1 110.1L119.8 109.1L121.6 108.0L123.3 107.1L125.0 106.1L126.8 105.2L128.5 104.3L130.2 103.7L131.9 103.0L133.7 102.3L135.4 101.7L137.1 101.0L138.9 100.4L140.6 99.8L142.3 99.2L144.1 98.5L145.8 97.9L147.5 97.3L149.3 96.6L151.0 95.9L152.7 95.2L154.4 94.5L156.2 93.8L157.9 93.1L159.6 92.4L161.4 91.7L163.1 90.9" fill="none" stroke="#dcdcf4" stroke-width="0.9"/>
<text x="31.80" y="106.80" font-size="8.2" text-anchor="start" fill="#111" font-weight="bold" textLength="15.80" lengthAdjust="spacingAndGlyphs" >0.19</text>
<text x="100.50" y="134.00" font-size="8.2" text-anchor="middle" fill="#111" font-weight="bold" textLength="15.80" lengthAdjust="spacingAndGlyphs" >7.81</text>
<text x="163.50" y="104.80" font-size="8.0" text-anchor="middle" fill="#111" font-weight="bold" textLength="13.20" lengthAdjust="spacingAndGlyphs" >360</text>
<text x="61.30" y="128.70" font-size="8.4" text-anchor="middle" fill="#111" font-weight="bold" textLength="57.00" lengthAdjust="spacingAndGlyphs" transform="rotate(27.00 61.30 128.70)" >Concentration</text>
<text x="56.60" y="138.70" font-size="8.4" text-anchor="middle" fill="#111" font-weight="bold" transform="rotate(27.00 56.60 138.70)" >(μg·mL<tspan dy="-3" font-size="5.5">-1</tspan><tspan dy="3">)</tspan></text>
<text x="138.90" y="129.20" font-size="8.4" text-anchor="middle" fill="#111" font-weight="bold" textLength="41.60" lengthAdjust="spacingAndGlyphs" transform="rotate(-27.00 138.90 129.20)" >Time (min)</text>
<text x="7.60" y="62.80" font-size="8.6" text-anchor="middle" fill="#111" font-weight="bold" textLength="45.00" lengthAdjust="spacingAndGlyphs" transform="rotate(-90.00 7.60 62.80)" >Normalized</text>
<text x="17.60" y="63.00" font-size="8.6" text-anchor="middle" fill="#111" font-weight="bold" textLength="87.00" lengthAdjust="spacingAndGlyphs" transform="rotate(-90.00 17.60 63.00)" >grayscale value (a.u.)</text>
</g>
<g transform="translate(0 302.2)">
<line x1="220.00" y1="13.40" x2="220.00" y2="121.60" stroke="#383838" stroke-width="1.3" />
<line x1="219.40" y1="121.00" x2="340.00" y2="121.00" stroke="#383838" stroke-width="1.3" />
<line x1="217.80" y1="121.00" x2="220.00" y2="121.00" stroke="#383838" stroke-width="0.9" />
<line x1="217.80" y1="67.20" x2="220.00" y2="67.20" stroke="#383838" stroke-width="0.9" />
<line x1="217.80" y1="13.40" x2="220.00" y2="13.40" stroke="#383838" stroke-width="0.9" />
<line x1="217.80" y1="94.10" x2="220.00" y2="94.10" stroke="#383838" stroke-width="0.9" />
<line x1="217.80" y1="40.30" x2="220.00" y2="40.30" stroke="#383838" stroke-width="0.9" />
<line x1="280.00" y1="121.00" x2="280.00" y2="123.00" stroke="#383838" stroke-width="0.9" />
<line x1="340.00" y1="121.00" x2="340.00" y2="123.00" stroke="#383838" stroke-width="0.9" />
<path d="M220.50,118.72 L223.06,118.13 L226.70,117.29 L230.97,116.31 L235.41,115.29 L239.57,114.34 L243.00,113.56 L245.66,112.96 L247.91,112.46 L249.88,112.02 L251.70,111.63 L253.53,111.26 L255.50,110.88 L257.55,110.50 L259.57,110.15 L261.59,109.95 L263.65,109.81 L265.77,109.69 L268.00,109.60 L270.33,109.52 L272.74,109.45 L275.22,109.41 L277.76,109.40 L280.36,109.45 L283.00,109.58 L285.71,109.78 L288.50,110.06 L291.34,110.40 L294.22,110.78 L297.11,111.19 L300.00,111.60 L302.83,112.01 L305.62,112.46 L308.42,112.94 L311.30,113.42 L314.30,113.89 L317.50,114.32 L321.19,114.74 L325.39,115.17 L329.72,115.58 L333.81,115.95 L337.27,116.27 L339.75,116.50 L339.75,119.50 L337.27,119.33 L333.81,119.11 L329.72,118.83 L325.39,118.53 L321.19,118.21 L317.50,117.88 L314.30,117.53 L311.30,117.14 L308.42,116.73 L305.62,116.32 L302.83,115.94 L300.00,115.60 L297.11,115.33 L294.22,115.07 L291.34,114.84 L288.50,114.64 L285.71,114.50 L283.00,114.42 L280.36,114.43 L277.76,114.51 L275.22,114.64 L272.74,114.81 L270.33,115.01 L268.00,115.20 L265.77,115.40 L263.65,115.62 L261.59,115.87 L259.57,116.09 L257.55,116.20 L255.50,116.32 L253.53,116.45 L251.70,116.59 L249.88,116.76 L247.91,116.95 L245.66,117.17 L243.00,117.44 L239.57,117.78 L235.41,118.21 L230.97,118.68 L226.70,119.13 L223.06,119.51 L220.50,119.78 Z" fill="#c4aee0" fill-opacity="0.5" stroke="#c4aee0" stroke-width="0.6" stroke-opacity="0.9"/>
<path d="M220.50,118.67 L221.56,118.38 L223.00,118.00 L224.72,117.54 L226.61,117.00 L228.57,116.37 L230.50,115.65 L232.44,114.86 L234.48,113.98 L236.59,113.02 L238.74,111.98 L240.89,110.84 L243.00,109.60 L245.08,108.20 L247.17,106.66 L249.25,105.02 L251.33,103.34 L253.42,101.68 L255.50,100.10 L257.63,98.54 L259.81,96.94 L261.98,95.37 L264.11,93.86 L266.13,92.47 L268.00,91.25 L269.70,90.71 L271.29,90.27 L272.77,89.92 L274.16,89.65 L275.48,89.44 L276.75,89.29 L277.93,89.23 L278.99,89.27 L279.98,89.38 L280.95,89.52 L281.94,89.67 L283.00,89.80 L284.09,89.88 L285.17,89.94 L286.27,90.02 L287.42,90.12 L288.65,90.27 L290.00,90.50 L291.48,90.66 L293.06,90.86 L294.73,91.10 L296.46,91.40 L298.23,91.74 L300.00,92.15 L301.79,92.63 L303.61,93.18 L305.47,93.79 L307.36,94.43 L309.29,95.09 L311.25,95.75 L313.30,96.43 L315.46,97.16 L317.66,97.90 L319.81,98.63 L321.87,99.32 L323.75,99.95 L325.44,100.52 L327.00,101.05 L328.45,101.54 L329.83,101.99 L331.17,102.41 L332.50,102.80 L333.88,103.16 L335.30,103.48 L336.67,103.77 L337.93,104.02 L338.98,104.23 L339.75,104.39 L339.75,110.41 L338.98,110.31 L337.93,110.19 L336.67,110.04 L335.30,109.86 L333.88,109.65 L332.50,109.40 L331.17,109.12 L329.83,108.81 L328.45,108.46 L327.00,108.09 L325.44,107.68 L323.75,107.25 L321.87,106.77 L319.81,106.24 L317.66,105.68 L315.46,105.12 L313.30,104.57 L311.25,104.05 L309.29,103.55 L307.36,103.04 L305.47,102.55 L303.61,102.09 L301.79,101.69 L300.00,101.35 L298.23,101.09 L296.46,100.88 L294.73,100.72 L293.06,100.61 L291.48,100.54 L290.00,100.50 L288.65,100.64 L287.42,100.82 L286.27,101.03 L285.17,101.26 L284.09,101.49 L283.00,101.70 L281.94,101.87 L280.95,101.99 L279.98,102.11 L278.99,102.27 L277.93,102.52 L276.75,102.91 L275.48,103.40 L274.16,103.97 L272.77,104.62 L271.29,105.37 L269.70,106.25 L268.00,107.25 L266.13,107.87 L264.11,108.61 L261.98,109.44 L259.81,110.32 L257.63,111.22 L255.50,112.10 L253.42,113.02 L251.33,114.01 L249.25,115.02 L247.17,115.99 L245.08,116.87 L243.00,117.60 L240.89,118.19 L238.74,118.68 L236.59,119.08 L234.48,119.39 L232.44,119.64 L230.50,119.85 L228.57,119.98 L226.61,120.01 L224.72,119.98 L223.00,119.92 L221.56,119.85 L220.50,119.83 Z" fill="#a6cbef" fill-opacity="0.5" stroke="#a6cbef" stroke-width="0.6" stroke-opacity="0.9"/>
<path d="M220.50,118.73 L223.07,118.19 L226.72,117.44 L231.00,116.56 L235.44,115.59 L239.60,114.57 L243.00,113.58 L245.60,112.62 L247.74,111.66 L249.59,110.66 L251.31,109.59 L253.06,108.41 L255.00,107.10 L257.17,105.54 L259.46,103.75 L261.78,101.85 L264.04,99.98 L266.14,98.26 L268.00,96.83 L269.57,95.74 L270.91,94.88 L272.09,94.17 L273.20,93.54 L274.31,92.88 L275.50,92.12 L276.76,91.22 L278.02,90.24 L279.28,89.25 L280.54,88.29 L281.78,87.44 L283.00,86.75 L284.16,86.25 L285.26,85.90 L286.34,85.66 L287.46,85.47 L288.67,85.30 L290.00,85.10 L291.48,84.85 L293.06,84.58 L294.73,84.33 L296.46,84.12 L298.23,84.00 L300.00,84.00 L301.79,84.22 L303.61,84.56 L305.47,84.98 L307.36,85.46 L309.29,85.98 L311.25,86.50 L313.30,87.06 L315.46,87.68 L317.66,88.33 L319.81,89.00 L321.87,89.65 L323.75,90.25 L325.44,90.83 L327.00,91.42 L328.45,91.98 L329.83,92.52 L331.17,92.99 L332.50,93.40 L333.88,93.73 L335.30,93.99 L336.67,94.20 L337.93,94.36 L338.98,94.49 L339.75,94.60 L339.75,102.60 L338.98,102.49 L337.93,102.36 L336.67,102.20 L335.30,101.99 L333.88,101.73 L332.50,101.40 L331.17,100.99 L329.83,100.52 L328.45,99.98 L327.00,99.42 L325.44,98.83 L323.75,98.25 L321.87,97.65 L319.81,97.00 L317.66,96.33 L315.46,95.68 L313.30,95.06 L311.25,94.50 L309.29,93.98 L307.36,93.46 L305.47,92.98 L303.61,92.56 L301.79,92.22 L300.00,92.00 L298.23,91.82 L296.46,91.77 L294.73,91.80 L293.06,91.89 L291.48,92.00 L290.00,92.10 L288.67,92.17 L287.46,92.22 L286.34,92.29 L285.26,92.43 L284.16,92.67 L283.00,93.05 L281.78,93.62 L280.54,94.34 L279.28,95.17 L278.02,96.05 L276.76,96.90 L275.50,97.68 L274.31,98.32 L273.20,98.86 L272.09,99.38 L270.91,99.97 L269.57,100.70 L268.00,101.67 L266.14,102.95 L264.04,104.50 L261.78,106.19 L259.46,107.91 L257.17,109.52 L255.00,110.90 L253.06,112.06 L251.31,113.10 L249.59,114.03 L247.74,114.88 L245.60,115.67 L243.00,116.42 L239.60,117.14 L235.44,117.82 L231.00,118.44 L226.72,118.98 L223.07,119.43 L220.50,119.77 Z" fill="#9edcae" fill-opacity="0.5" stroke="#9edcae" stroke-width="0.6" stroke-opacity="0.9"/>
<path d="M220.50,118.73 L223.07,118.18 L226.72,117.42 L231.00,116.53 L235.44,115.55 L239.60,114.57 L243.00,113.64 L245.60,112.80 L247.74,112.00 L249.59,111.19 L251.31,110.32 L253.06,109.33 L255.00,108.19 L257.16,106.81 L259.42,105.23 L261.70,103.46 L263.94,101.64 L266.07,99.89 L268.00,98.30 L269.73,96.88 L271.32,95.54 L272.80,94.28 L274.18,93.07 L275.49,91.92 L276.75,90.79 L277.93,89.72 L278.99,88.72 L279.98,87.76 L280.95,86.84 L281.94,85.92 L283.00,85.00 L284.09,83.93 L285.17,82.88 L286.27,81.84 L287.42,80.79 L288.65,79.72 L290.00,78.60 L291.48,77.42 L293.06,76.19 L294.73,74.93 L296.46,73.67 L298.23,72.43 L300.00,71.25 L301.79,69.71 L303.61,68.17 L305.47,66.65 L307.36,65.17 L309.29,63.74 L311.25,62.50 L313.22,62.07 L315.19,61.71 L317.20,61.42 L319.28,61.20 L321.45,61.07 L323.75,61.03 L326.40,61.13 L329.42,61.39 L332.53,61.73 L335.47,62.08 L337.97,62.40 L339.75,62.60 L339.75,89.60 L337.97,89.33 L335.47,88.93 L332.53,88.47 L329.42,88.02 L326.40,87.67 L323.75,87.47 L321.45,87.43 L319.28,87.49 L317.20,87.63 L315.19,87.86 L313.22,88.15 L311.25,88.50 L309.29,88.19 L307.36,87.86 L305.47,87.63 L303.61,87.46 L301.79,87.34 L300.00,87.25 L298.23,87.60 L296.46,88.00 L294.73,88.45 L293.06,88.92 L291.48,89.41 L290.00,89.90 L288.65,90.38 L287.42,90.87 L286.27,91.38 L285.17,91.90 L284.09,92.44 L283.00,93.00 L281.94,93.74 L280.95,94.48 L279.98,95.24 L278.99,96.02 L277.93,96.84 L276.75,97.71 L275.49,98.61 L274.18,99.54 L272.80,100.50 L271.32,101.51 L269.73,102.57 L268.00,103.70 L266.07,104.94 L263.94,106.32 L261.70,107.76 L259.42,109.19 L257.16,110.60 L255.00,111.81 L253.06,112.81 L251.31,113.67 L249.59,114.41 L247.74,115.08 L245.60,115.72 L243.00,116.36 L239.60,117.04 L235.44,117.71 L231.00,118.35 L226.72,118.93 L223.07,119.41 L220.50,119.77 Z" fill="#fbe39a" fill-opacity="0.5" stroke="#fbe39a" stroke-width="0.6" stroke-opacity="0.9"/>
<path d="M220.50,118.72 L221.56,118.52 L223.00,118.26 L224.72,117.94 L226.61,117.57 L228.57,117.17 L230.50,116.72 L232.47,116.25 L234.57,115.73 L236.75,115.17 L238.93,114.57 L241.03,113.93 L243.00,113.25 L244.83,112.54 L246.56,111.79 L248.23,111.00 L249.85,110.17 L251.43,109.21 L253.00,108.20 L254.53,107.16 L256.01,106.09 L257.45,104.98 L258.88,103.79 L260.31,102.50 L261.75,101.08 L263.22,99.46 L264.71,97.68 L266.20,95.79 L267.68,93.86 L269.11,91.98 L270.50,90.17 L271.85,88.41 L273.19,86.68 L274.48,84.99 L275.73,83.35 L276.91,81.77 L278.00,80.27 L278.95,78.88 L279.78,77.60 L280.53,76.39 L281.28,75.19 L282.08,73.94 L283.00,72.60 L284.02,71.07 L285.07,69.54 L286.19,67.96 L287.37,66.28 L288.64,64.46 L290.00,62.44 L291.48,60.19 L293.06,57.75 L294.73,55.15 L296.46,52.46 L298.23,49.73 L300.00,47.00 L301.79,44.79 L303.61,42.45 L305.47,40.08 L307.36,37.77 L309.29,35.62 L311.25,33.72 L313.30,32.07 L315.46,30.60 L317.66,29.28 L319.81,28.11 L321.87,27.05 L323.75,26.09 L325.44,25.68 L327.00,25.48 L328.45,25.37 L329.83,25.30 L331.17,25.21 L332.50,25.06 L333.88,24.82 L335.30,24.53 L336.67,24.23 L337.93,23.94 L338.98,23.70 L339.75,23.52 L339.75,33.68 L338.98,34.33 L337.93,35.24 L336.67,36.31 L335.30,37.47 L333.88,38.64 L332.50,39.74 L331.17,40.73 L329.83,41.65 L328.45,42.59 L327.00,43.60 L325.44,44.78 L323.75,46.11 L321.87,47.22 L319.81,48.45 L317.66,49.81 L315.46,51.31 L313.30,52.96 L311.25,54.78 L309.29,56.85 L307.36,59.16 L305.47,61.63 L303.61,64.15 L301.79,66.64 L300.00,69.00 L298.23,70.68 L296.46,72.38 L294.73,74.05 L293.06,75.67 L291.48,77.18 L290.00,78.56 L288.64,79.78 L287.37,80.86 L286.19,81.84 L285.07,82.76 L284.02,83.67 L283.00,84.60 L282.08,85.66 L281.28,86.66 L280.53,87.63 L279.78,88.61 L278.95,89.63 L278.00,90.73 L276.91,91.90 L275.73,93.12 L274.48,94.37 L273.19,95.66 L271.85,96.98 L270.50,98.33 L269.11,99.80 L267.68,101.40 L266.20,103.03 L264.71,104.62 L263.22,106.11 L261.75,107.42 L260.31,108.56 L258.88,109.57 L257.45,110.47 L256.01,111.29 L254.53,112.06 L253.00,112.80 L251.43,113.50 L249.85,114.15 L248.23,114.82 L246.56,115.44 L244.83,116.02 L243.00,116.55 L241.03,117.03 L238.93,117.46 L236.75,117.84 L234.57,118.19 L232.47,118.49 L230.50,118.78 L228.57,119.02 L226.61,119.24 L224.72,119.41 L223.00,119.56 L221.56,119.68 L220.50,119.78 Z" fill="#f4a3a0" fill-opacity="0.5" stroke="#f4a3a0" stroke-width="0.6" stroke-opacity="0.9"/>
<path d="M220.50,119.25 L223.06,118.82 L226.70,118.21 L230.97,117.49 L235.41,116.75 L239.57,116.06 L243.00,115.50 L245.66,115.07 L247.91,114.70 L249.88,114.39 L251.70,114.11 L253.53,113.85 L255.50,113.60 L257.55,113.35 L259.57,113.12 L261.59,112.91 L263.65,112.71 L265.77,112.55 L268.00,112.40 L270.33,112.26 L272.74,112.13 L275.22,112.03 L277.76,111.96 L280.36,111.94 L283.00,112.00 L285.71,112.14 L288.50,112.35 L291.34,112.62 L294.22,112.93 L297.11,113.26 L300.00,113.60 L302.83,113.97 L305.62,114.39 L308.42,114.83 L311.30,115.28 L314.30,115.71 L317.50,116.10 L321.19,116.47 L325.39,116.85 L329.72,117.21 L333.81,117.53 L337.27,117.80 L339.75,118.00" fill="none" stroke="#6b3fa0" stroke-width="1.3" stroke-linejoin="round" stroke-linecap="round"/>
<path d="M220.50,119.25 L221.56,119.12 L223.00,118.96 L224.72,118.76 L226.61,118.50 L228.57,118.17 L230.50,117.75 L232.44,117.25 L234.48,116.69 L236.59,116.05 L238.74,115.33 L240.89,114.52 L243.00,113.60 L245.08,112.54 L247.17,111.32 L249.25,110.02 L251.33,108.68 L253.42,107.35 L255.50,106.10 L257.63,104.88 L259.81,103.63 L261.98,102.40 L264.11,101.24 L266.13,100.17 L268.00,99.25 L269.70,98.48 L271.29,97.82 L272.77,97.27 L274.16,96.81 L275.48,96.42 L276.75,96.10 L277.93,95.88 L278.99,95.77 L279.98,95.74 L280.95,95.76 L281.94,95.77 L283.00,95.75 L284.09,95.69 L285.17,95.60 L286.27,95.53 L287.42,95.47 L288.65,95.45 L290.00,95.50 L291.48,95.60 L293.06,95.74 L294.73,95.91 L296.46,96.14 L298.23,96.41 L300.00,96.75 L301.79,97.16 L303.61,97.64 L305.47,98.17 L307.36,98.74 L309.29,99.32 L311.25,99.90 L313.30,100.50 L315.46,101.14 L317.66,101.79 L319.81,102.44 L321.87,103.05 L323.75,103.60 L325.44,104.10 L327.00,104.57 L328.45,105.00 L329.83,105.40 L331.17,105.77 L332.50,106.10 L333.88,106.40 L335.30,106.67 L336.67,106.91 L337.93,107.11 L338.98,107.27 L339.75,107.40" fill="none" stroke="#2f6db5" stroke-width="1.3" stroke-linejoin="round" stroke-linecap="round"/>
<path d="M220.50,119.25 L223.07,118.81 L226.72,118.21 L231.00,117.50 L235.44,116.70 L239.60,115.86 L243.00,115.00 L245.60,114.14 L247.74,113.27 L249.59,112.34 L251.31,111.34 L253.06,110.24 L255.00,109.00 L257.17,107.53 L259.46,105.83 L261.78,104.02 L264.04,102.24 L266.14,100.61 L268.00,99.25 L269.57,98.22 L270.91,97.42 L272.09,96.78 L273.20,96.20 L274.31,95.60 L275.50,94.90 L276.76,94.06 L278.02,93.14 L279.28,92.21 L280.54,91.32 L281.78,90.53 L283.00,89.90 L284.16,89.46 L285.26,89.17 L286.34,88.97 L287.46,88.84 L288.67,88.73 L290.00,88.60 L291.48,88.42 L293.06,88.23 L294.73,88.06 L296.46,87.94 L298.23,87.91 L300.00,88.00 L301.79,88.22 L303.61,88.56 L305.47,88.98 L307.36,89.46 L309.29,89.98 L311.25,90.50 L313.30,91.06 L315.46,91.68 L317.66,92.33 L319.81,93.00 L321.87,93.65 L323.75,94.25 L325.44,94.83 L327.00,95.42 L328.45,95.98 L329.83,96.52 L331.17,96.99 L332.50,97.40 L333.88,97.73 L335.30,97.99 L336.67,98.20 L337.93,98.36 L338.98,98.49 L339.75,98.60" fill="none" stroke="#2fa84f" stroke-width="1.3" stroke-linejoin="round" stroke-linecap="round"/>
<path d="M220.50,119.25 L223.07,118.80 L226.72,118.18 L231.00,117.44 L235.44,116.63 L239.60,115.80 L243.00,115.00 L245.60,114.26 L247.74,113.54 L249.59,112.80 L251.31,111.99 L253.06,111.07 L255.00,110.00 L257.16,108.71 L259.42,107.21 L261.70,105.61 L263.94,103.98 L266.07,102.42 L268.00,101.00 L269.73,99.73 L271.32,98.53 L272.80,97.39 L274.18,96.31 L275.49,95.26 L276.75,94.25 L277.93,93.28 L278.99,92.37 L279.98,91.50 L280.95,90.66 L281.94,89.83 L283.00,89.00 L284.09,88.18 L285.17,87.39 L286.27,86.61 L287.42,85.83 L288.65,85.05 L290.00,84.25 L291.48,83.42 L293.06,82.56 L294.73,81.69 L296.46,80.83 L298.23,80.01 L300.00,79.25 L301.79,78.52 L303.61,77.81 L305.47,77.14 L307.36,76.52 L309.29,75.97 L311.25,75.50 L313.22,75.11 L315.19,74.78 L317.20,74.52 L319.28,74.34 L321.45,74.25 L323.75,74.25 L326.40,74.40 L329.42,74.71 L332.53,75.10 L335.47,75.51 L337.97,75.86 L339.75,76.10" fill="none" stroke="#f3c13a" stroke-width="1.3" stroke-linejoin="round" stroke-linecap="round"/>
<path d="M220.50,119.25 L221.56,119.10 L223.00,118.91 L224.72,118.68 L226.61,118.41 L228.57,118.10 L230.50,117.75 L232.47,117.37 L234.57,116.96 L236.75,116.51 L238.93,116.01 L241.03,115.48 L243.00,114.90 L244.83,114.28 L246.56,113.62 L248.23,112.91 L249.85,112.16 L251.43,111.36 L253.00,110.50 L254.53,109.61 L256.01,108.69 L257.45,107.72 L258.88,106.68 L260.31,105.53 L261.75,104.25 L263.22,102.79 L264.71,101.15 L266.20,99.41 L267.68,97.63 L269.11,95.89 L270.50,94.25 L271.85,92.70 L273.19,91.17 L274.48,89.68 L275.73,88.23 L276.91,86.84 L278.00,85.50 L278.95,84.26 L279.78,83.11 L280.53,82.01 L281.28,80.92 L282.08,79.80 L283.00,78.60 L284.02,77.37 L285.07,76.15 L286.19,74.90 L287.37,73.57 L288.64,72.12 L290.00,70.50 L291.48,68.69 L293.06,66.71 L294.73,64.60 L296.46,62.42 L298.23,60.21 L300.00,58.00 L301.79,55.72 L303.61,53.30 L305.47,50.85 L307.36,48.46 L309.29,46.23 L311.25,44.25 L313.30,42.52 L315.46,40.95 L317.66,39.55 L319.81,38.28 L321.87,37.14 L323.75,36.10 L325.44,35.23 L327.00,34.54 L328.45,33.98 L329.83,33.48 L331.17,32.97 L332.50,32.40 L333.88,31.73 L335.30,31.00 L336.67,30.27 L337.93,29.59 L338.98,29.01 L339.75,28.60" fill="none" stroke="#e3342f" stroke-width="1.5" stroke-linejoin="round" stroke-linecap="round"/>
<text x="216.00" y="124.40" font-size="8.2" text-anchor="end" fill="#111" font-weight="bold" textLength="11.20" lengthAdjust="spacingAndGlyphs" >0.0</text>
<text x="216.00" y="70.60" font-size="8.2" text-anchor="end" fill="#111" font-weight="bold" textLength="11.20" lengthAdjust="spacingAndGlyphs" >0.2</text>
<text x="216.00" y="16.80" font-size="8.2" text-anchor="end" fill="#111" font-weight="bold" textLength="11.20" lengthAdjust="spacingAndGlyphs" >0.4</text>
<text x="219.80" y="134.30" font-size="8.2" text-anchor="middle" fill="#111" font-weight="bold" textLength="4.60" lengthAdjust="spacingAndGlyphs" >0</text>
<text x="279.80" y="134.30" font-size="8.2" text-anchor="middle" fill="#111" font-weight="bold" textLength="13.00" lengthAdjust="spacingAndGlyphs" >180</text>
<text x="339.50" y="134.30" font-size="8.2" text-anchor="middle" fill="#111" font-weight="bold" textLength="13.00" lengthAdjust="spacingAndGlyphs" >360</text>
<text x="277.70" y="144.55" font-size="8.8" text-anchor="middle" fill="#111" font-weight="bold" textLength="42.00" lengthAdjust="spacingAndGlyphs" >Time (min)</text>
<text x="185.80" y="70.00" font-size="8.6" text-anchor="middle" fill="#111" font-weight="bold" textLength="46.00" lengthAdjust="spacingAndGlyphs" transform="rotate(-90.00 185.80 70.00)" >Normalized</text>
<text x="196.20" y="71.40" font-size="8.6" text-anchor="middle" fill="#111" font-weight="bold" textLength="90.00" lengthAdjust="spacingAndGlyphs" transform="rotate(-90.00 196.20 71.40)" >grayscale value (a.u.)</text>
<line x1="224.30" y1="15.00" x2="231.80" y2="15.00" stroke="#e3342f" stroke-width="1.8" />
<text x="235.60" y="17.80" font-size="8.4" text-anchor="start" fill="#111" font-weight="bold" textLength="39.15" lengthAdjust="spacingAndGlyphs" >0.2 μg/mL</text>
<line x1="224.30" y1="24.50" x2="231.80" y2="24.50" stroke="#f3c13a" stroke-width="1.8" />
<text x="235.60" y="27.30" font-size="8.4" text-anchor="start" fill="#111" font-weight="bold" textLength="39.15" lengthAdjust="spacingAndGlyphs" >0.6 μg/mL</text>
<line x1="224.30" y1="34.00" x2="231.80" y2="34.00" stroke="#2fa84f" stroke-width="1.8" />
<text x="235.60" y="36.80" font-size="8.4" text-anchor="start" fill="#111" font-weight="bold" textLength="39.15" lengthAdjust="spacingAndGlyphs" >1.3 μg/mL</text>
<line x1="224.30" y1="43.50" x2="231.80" y2="43.50" stroke="#2f6db5" stroke-width="1.8" />
<text x="235.60" y="46.30" font-size="8.4" text-anchor="start" fill="#111" font-weight="bold" textLength="39.15" lengthAdjust="spacingAndGlyphs" >3.6 μg/mL</text>
<line x1="224.30" y1="53.00" x2="231.80" y2="53.00" stroke="#6b3fa0" stroke-width="1.8" />
<text x="235.60" y="55.80" font-size="8.4" text-anchor="start" fill="#111" font-weight="bold" textLength="39.15" lengthAdjust="spacingAndGlyphs" >7.8 μg/mL</text>
<line x1="390.00" y1="13.40" x2="390.00" y2="121.60" stroke="#383838" stroke-width="1.3" />
<line x1="389.40" y1="121.00" x2="510.00" y2="121.00" stroke="#383838" stroke-width="1.3" />
<line x1="387.80" y1="121.00" x2="390.00" y2="121.00" stroke="#383838" stroke-width="0.9" />
<line x1="387.80" y1="67.20" x2="390.00" y2="67.20" stroke="#383838" stroke-width="0.9" />
<line x1="387.80" y1="13.40" x2="390.00" y2="13.40" stroke="#383838" stroke-width="0.9" />
<line x1="387.80" y1="94.10" x2="390.00" y2="94.10" stroke="#383838" stroke-width="0.9" />
<line x1="387.80" y1="40.30" x2="390.00" y2="40.30" stroke="#383838" stroke-width="0.9" />
<line x1="420.00" y1="121.00" x2="420.00" y2="123.00" stroke="#383838" stroke-width="0.9" />
<line x1="450.00" y1="121.00" x2="450.00" y2="123.00" stroke="#383838" stroke-width="0.9" />
<line x1="480.00" y1="121.00" x2="480.00" y2="123.00" stroke="#383838" stroke-width="0.9" />
<line x1="510.00" y1="121.00" x2="510.00" y2="123.00" stroke="#383838" stroke-width="0.9" />
<path d="M390.40,117.80 L417.06,117.46 L451.00,117.20 L483.91,117.46 L509.25,117.80 L509.25,119.40 L483.91,119.06 L451.00,118.80 L417.06,119.06 L390.40,119.40 Z" fill="#8a90c0" fill-opacity="0.5" stroke="#8a90c0" stroke-width="0.6" stroke-opacity="0.9"/>
<path d="M390.40,114.75 L396.46,113.87 L407.90,112.90 L428.78,112.58 L451.00,112.25 L466.80,111.12 L479.25,110.40 L488.28,111.40 L495.50,113.00 L503.39,114.66 L509.25,116.00 L509.25,120.00 L503.39,118.66 L495.50,117.00 L488.28,115.40 L479.25,114.40 L466.80,115.12 L451.00,116.25 L428.78,116.58 L407.90,116.90 L396.46,117.87 L390.40,118.75 Z" fill="#a9cdee" fill-opacity="0.7" stroke="#a9cdee" stroke-width="0.6" stroke-opacity="0.9"/>
<path d="M390.40,104.58 L392.46,106.08 L396.00,106.80 L401.48,103.61 L407.90,100.61 L414.49,102.32 L421.00,104.40 L426.82,103.18 L432.25,101.25 L437.41,100.39 L442.25,100.00 L446.66,100.26 L451.00,100.62 L455.67,100.44 L460.50,100.26 L465.55,100.77 L470.50,101.11 L475.11,99.99 L479.25,99.48 L482.30,102.07 L485.50,105.29 L490.42,107.12 L495.50,108.64 L499.48,110.44 L503.00,111.92 L506.59,112.53 L509.25,112.73 L509.25,115.77 L506.59,115.70 L503.00,115.27 L499.48,113.97 L495.50,112.36 L490.42,111.10 L485.50,109.51 L482.30,106.46 L479.25,104.02 L475.11,104.73 L470.50,106.09 L465.55,105.99 L460.50,105.74 L455.67,106.16 L451.00,106.57 L446.66,106.26 L442.25,106.00 L437.41,106.39 L432.25,107.25 L426.82,109.18 L421.00,110.40 L414.49,107.77 L407.90,105.39 L401.48,107.76 L396.00,110.40 L392.46,109.32 L390.40,107.62 Z" fill="#b7e0a0" fill-opacity="0.5" stroke="#b7e0a0" stroke-width="0.6" stroke-opacity="0.9"/>
<path d="M390.40,56.21 L391.09,59.97 L392.25,64.78 L393.85,69.30 L396.00,73.15 L399.01,75.39 L402.25,75.94 L405.12,74.00 L407.90,72.62 L410.58,76.87 L413.50,82.32 L417.29,86.31 L421.00,88.51 L423.58,87.97 L426.00,87.00 L429.05,89.28 L432.25,91.44 L434.98,91.10 L438.50,90.93 L444.55,92.70 L451.00,94.56 L455.91,95.38 L460.50,95.89 L465.55,96.48 L470.50,96.69 L475.11,95.44 L479.25,94.96 L482.30,98.00 L485.50,101.90 L490.42,104.66 L495.50,107.04 L499.48,109.25 L503.00,110.90 L506.59,111.49 L509.25,111.59 L509.25,115.61 L506.59,115.58 L503.00,115.10 L499.48,113.55 L495.50,111.46 L490.42,109.22 L485.50,106.60 L482.30,102.79 L479.25,99.84 L475.11,100.44 L470.50,101.81 L465.55,101.75 L460.50,101.31 L455.91,100.93 L451.00,100.24 L444.55,98.57 L438.50,97.57 L434.98,99.25 L432.25,100.76 L429.05,99.98 L426.00,99.00 L423.58,99.09 L421.00,98.69 L417.29,95.14 L413.50,91.18 L410.58,87.39 L407.90,84.57 L405.12,84.55 L402.25,85.06 L399.01,83.19 L396.00,80.35 L393.85,76.07 L392.25,71.22 L391.09,66.19 L390.40,62.29 Z" fill="#f7bf98" fill-opacity="0.5" stroke="#f7bf98" stroke-width="0.6" stroke-opacity="0.9"/>
<path d="M390.40,23.83 L391.17,31.25 L392.25,40.56 L393.51,48.46 L394.75,55.77 L395.62,62.36 L396.50,67.89 L397.66,71.49 L399.00,74.33 L400.43,77.71 L402.25,80.61 L404.93,81.90 L407.90,84.09 L410.58,88.22 L413.50,92.57 L416.90,95.94 L421.00,98.85 L426.47,101.82 L432.25,104.10 L437.41,104.21 L442.25,104.17 L446.66,104.84 L451.00,105.52 L455.67,105.56 L460.50,105.58 L465.55,106.25 L470.50,106.85 L475.11,106.46 L479.25,106.30 L482.30,107.64 L485.50,109.44 L490.42,111.09 L495.50,112.66 L499.48,114.05 L503.00,115.21 L506.59,116.01 L509.25,116.50 L509.25,119.50 L506.59,119.05 L503.00,118.29 L499.48,117.19 L495.50,115.84 L490.42,114.34 L485.50,112.76 L482.30,110.99 L479.25,109.70 L475.11,109.90 L470.50,110.35 L465.55,109.82 L460.50,109.22 L455.67,109.25 L451.00,109.28 L446.66,108.66 L442.25,108.03 L437.41,108.14 L432.25,108.10 L426.47,108.58 L421.00,108.35 L416.90,106.36 L413.50,103.43 L410.58,99.47 L407.90,95.71 L404.93,93.87 L402.25,91.39 L400.43,87.68 L399.00,83.67 L397.66,80.23 L396.50,76.11 L395.62,70.05 L394.75,62.73 L393.51,54.38 L392.25,45.44 L391.17,35.22 L390.40,27.17 Z" fill="#f1a0a0" fill-opacity="0.5" stroke="#f1a0a0" stroke-width="0.6" stroke-opacity="0.9"/>
<path d="M390.40,118.60 L417.06,118.26 L451.00,118.00 L483.91,118.26 L509.25,118.60" fill="none" stroke="#1f2869" stroke-width="1.3" stroke-linejoin="round" stroke-linecap="round"/>
<path d="M390.40,116.75 L396.46,115.87 L407.90,114.90 L428.78,114.58 L451.00,114.25 L466.80,113.12 L479.25,112.40 L488.28,113.40 L495.50,115.00 L503.39,116.66 L509.25,118.00" fill="none" stroke="#5ea3d9" stroke-width="1.3" stroke-linejoin="round" stroke-linecap="round"/>
<path d="M390.40,106.10 L392.46,107.70 L396.00,108.60 L401.48,105.68 L407.90,103.00 L414.49,105.05 L421.00,107.40 L426.82,106.18 L432.25,104.25 L437.41,103.39 L442.25,103.00 L446.66,103.26 L451.00,103.60 L455.67,103.30 L460.50,103.00 L465.55,103.38 L470.50,103.60 L475.11,102.36 L479.25,101.75 L482.30,104.27 L485.50,107.40 L490.42,109.11 L495.50,110.50 L499.48,112.20 L503.00,113.60 L506.59,114.12 L509.25,114.25" fill="none" stroke="#5cab3c" stroke-width="1.3" stroke-linejoin="round" stroke-linecap="round"/>
<path d="M390.40,59.25 L391.09,63.08 L392.25,68.00 L393.85,72.69 L396.00,76.75 L399.01,79.29 L402.25,80.50 L405.12,79.28 L407.90,78.60 L410.58,82.13 L413.50,86.75 L417.29,90.72 L421.00,93.60 L423.58,93.53 L426.00,93.00 L429.05,94.63 L432.25,96.10 L434.98,95.17 L438.50,94.25 L444.55,95.63 L451.00,97.40 L455.91,98.16 L460.50,98.60 L465.55,99.12 L470.50,99.25 L475.11,97.94 L479.25,97.40 L482.30,100.40 L485.50,104.25 L490.42,106.94 L495.50,109.25 L499.48,111.40 L503.00,113.00 L506.59,113.53 L509.25,113.60" fill="none" stroke="#ea7d3c" stroke-width="1.3" stroke-linejoin="round" stroke-linecap="round"/>
<path d="M390.40,25.50 L391.17,33.23 L392.25,43.00 L393.51,51.42 L394.75,59.25 L395.62,66.20 L396.50,72.00 L397.66,75.86 L399.00,79.00 L400.43,82.69 L402.25,86.00 L404.93,87.88 L407.90,89.90 L410.58,93.84 L413.50,98.00 L416.90,101.15 L421.00,103.60 L426.47,105.20 L432.25,106.10 L437.41,106.17 L442.25,106.10 L446.66,106.75 L451.00,107.40 L455.67,107.41 L460.50,107.40 L465.55,108.04 L470.50,108.60 L475.11,108.18 L479.25,108.00 L482.30,109.32 L485.50,111.10 L490.42,112.71 L495.50,114.25 L499.48,115.62 L503.00,116.75 L506.59,117.53 L509.25,118.00" fill="none" stroke="#c81e2a" stroke-width="1.4" stroke-linejoin="round" stroke-linecap="round"/>
<text x="386.20" y="124.40" font-size="8.2" text-anchor="end" fill="#111" font-weight="bold" textLength="11.20" lengthAdjust="spacingAndGlyphs" >0.0</text>
<text x="386.20" y="70.60" font-size="8.2" text-anchor="end" fill="#111" font-weight="bold" textLength="11.20" lengthAdjust="spacingAndGlyphs" >0.2</text>
<text x="386.20" y="16.80" font-size="8.2" text-anchor="end" fill="#111" font-weight="bold" textLength="11.20" lengthAdjust="spacingAndGlyphs" >0.4</text>
<text x="389.30" y="134.30" font-size="8.2" text-anchor="middle" fill="#111" font-weight="bold" textLength="14.40" lengthAdjust="spacingAndGlyphs" >0.19</text>
<text x="450.00" y="134.30" font-size="8.2" text-anchor="middle" fill="#111" font-weight="bold" textLength="15.40" lengthAdjust="spacingAndGlyphs" >4.00</text>
<text x="508.70" y="134.30" font-size="8.2" text-anchor="middle" fill="#111" font-weight="bold" textLength="15.80" lengthAdjust="spacingAndGlyphs" >7.81</text>
<text x="449.60" y="144.55" font-size="8.8" text-anchor="middle" fill="#111" font-weight="bold" textLength="97.50" lengthAdjust="spacingAndGlyphs" >Concentration (μg·mL<tspan dy="-3" font-size="5.5">-1</tspan><tspan dy="3">)</tspan></text>
<text x="354.80" y="70.00" font-size="8.6" text-anchor="middle" fill="#111" font-weight="bold" textLength="46.00" lengthAdjust="spacingAndGlyphs" transform="rotate(-90.00 354.80 70.00)" >Normalized</text>
<text x="365.80" y="71.40" font-size="8.6" text-anchor="middle" fill="#111" font-weight="bold" textLength="90.00" lengthAdjust="spacingAndGlyphs" transform="rotate(-90.00 365.80 71.40)" >grayscale value (a.u.)</text>
<line x1="466.90" y1="14.40" x2="474.40" y2="14.40" stroke="#c81e2a" stroke-width="1.8" />
<text x="509.00" y="17.20" font-size="8.3" text-anchor="end" fill="#111" font-weight="bold" >360 min</text>
<line x1="466.90" y1="24.00" x2="474.40" y2="24.00" stroke="#ea7d3c" stroke-width="1.8" />
<text x="509.00" y="26.80" font-size="8.3" text-anchor="end" fill="#111" font-weight="bold" >240 min</text>
<line x1="466.90" y1="33.50" x2="474.40" y2="33.50" stroke="#5cab3c" stroke-width="1.8" />
<text x="509.00" y="36.30" font-size="8.3" text-anchor="end" fill="#111" font-weight="bold" >120 min</text>
<line x1="466.90" y1="43.00" x2="474.40" y2="43.00" stroke="#5ea3d9" stroke-width="1.8" />
<text x="509.00" y="45.80" font-size="8.3" text-anchor="end" fill="#111" font-weight="bold" >60 min</text>
<line x1="466.90" y1="52.50" x2="474.40" y2="52.50" stroke="#1f2869" stroke-width="1.8" />
<text x="509.00" y="55.30" font-size="8.3" text-anchor="end" fill="#111" font-weight="bold" >30 min</text>
</g>
<g transform="translate(0 452.6)">
<text x="0.50" y="8.20" font-size="9.6" text-anchor="start" fill="#111" font-weight="bold" textLength="11.50" lengthAdjust="spacingAndGlyphs" >(d)</text>
<text x="20.20" y="8.20" font-size="9.8" text-anchor="start" fill="#111" font-weight="bold" textLength="22.50" lengthAdjust="spacingAndGlyphs" >MER</text>
</g>
<g transform="translate(0 452.8)">
<line x1="41.0" y1="32.80" x2="41.0" y2="93.3" stroke="#383838" stroke-width="1.1"/>
<line x1="38.4" y1="92.80" x2="41.0" y2="92.80" stroke="#383838" stroke-width="1"/>
<line x1="38.4" y1="32.80" x2="41.0" y2="32.80" stroke="#383838" stroke-width="1"/>
<line x1="38.4" y1="62.80" x2="41.0" y2="62.80" stroke="#383838" stroke-width="1"/>
<text x="35.40" y="95.80" font-size="8.2" text-anchor="end" fill="#111" font-weight="bold" textLength="4.60" lengthAdjust="spacingAndGlyphs" >0</text>
<text x="35.00" y="36.40" font-size="8.2" text-anchor="end" fill="#111" font-weight="bold" textLength="11.20" lengthAdjust="spacingAndGlyphs" >1.0</text>
<polyline points="41.0,92.8 100.8,122.6 163.1,92.1" fill="none" stroke="#383838" stroke-width="0.8"/>
<line x1="41.00" y1="92.80" x2="41.00" y2="95.10" stroke="#1a1a1a" stroke-width="1.3"/>
<line x1="55.95" y1="100.25" x2="55.95" y2="102.55" stroke="#1a1a1a" stroke-width="1.3"/>
<line x1="70.90" y1="107.70" x2="70.90" y2="110.00" stroke="#1a1a1a" stroke-width="1.3"/>
<line x1="85.85" y1="115.15" x2="85.85" y2="117.45" stroke="#1a1a1a" stroke-width="1.3"/>
<line x1="100.80" y1="122.60" x2="100.80" y2="124.90" stroke="#1a1a1a" stroke-width="1.3"/>
<line x1="100.80" y1="122.60" x2="100.80" y2="124.90" stroke="#1a1a1a" stroke-width="1.3"/>
<line x1="116.38" y1="114.97" x2="116.38" y2="117.27" stroke="#1a1a1a" stroke-width="1.3"/>
<line x1="131.95" y1="107.35" x2="131.95" y2="109.65" stroke="#1a1a1a" stroke-width="1.3"/>
<line x1="147.52" y1="99.72" x2="147.52" y2="102.02" stroke="#1a1a1a" stroke-width="1.3"/>
<line x1="163.10" y1="92.10" x2="163.10" y2="94.40" stroke="#1a1a1a" stroke-width="1.3"/>
<path class="s0" d="M41.0 92.3L43.5 93.5L45.2 92.4L42.7 91.3ZM42.7 91.3L45.2 92.4L47.0 91.2L44.5 90.3ZM44.5 90.3L47.0 91.2L48.7 90.0L46.2 89.2ZM46.2 89.2L48.7 90.0L50.4 88.8L47.9 88.1ZM47.9 88.1L50.4 88.8L52.1 87.6L49.7 86.9ZM49.7 86.9L52.1 87.6L53.9 86.3L51.4 85.6ZM51.4 85.6L53.9 86.3L55.6 85.1L53.1 84.4ZM53.1 84.4L55.6 85.1L57.3 83.9L54.8 83.1ZM54.8 83.1L57.3 83.9L59.1 82.3L56.6 81.7ZM56.6 81.7L59.1 82.3L60.8 80.6L58.3 80.2ZM58.3 80.2L60.8 80.6L61.7 79.8L61.5 78.9L60.0 78.7ZM60.0 78.7L61.5 78.9L61.6 77.4ZM43.5 93.5L46.0 94.7L47.7 93.6L45.2 92.4ZM45.2 92.4L47.7 93.6L49.4 92.4L47.0 91.2ZM47.0 91.2L49.4 92.4L51.2 91.1L48.7 90.0ZM48.7 90.0L51.2 91.1L52.9 89.9L50.4 88.8ZM50.4 88.8L52.9 89.9L54.6 88.7L52.1 87.6ZM52.1 87.6L54.6 88.7L56.4 87.5L53.9 86.3ZM53.9 86.3L56.4 87.5L58.1 86.3L55.6 85.1ZM55.6 85.1L58.1 86.3L59.8 85.1L57.3 83.9ZM57.3 83.9L59.8 85.1L61.6 83.4L59.1 82.3ZM59.1 82.3L61.6 83.4L63.3 81.8L60.8 80.6ZM60.8 80.6L63.3 81.8L63.9 81.2L61.7 79.8ZM46.0 94.7L48.5 96.0L50.2 94.8L47.7 93.6ZM47.7 93.6L50.2 94.8L51.9 93.6L49.4 92.4ZM49.4 92.4L51.9 93.6L53.7 92.4L51.2 91.1ZM51.2 91.1L53.7 92.4L55.4 91.2L52.9 89.9ZM52.9 89.9L55.4 91.2L57.1 90.0L54.6 88.7ZM54.6 88.7L57.1 90.0L58.9 88.8L56.4 87.5ZM56.4 87.5L58.9 88.8L60.6 87.5L58.1 86.3ZM58.1 86.3L60.6 87.5L62.3 86.3L59.8 85.1ZM59.8 85.1L62.3 86.3L64.0 84.7L61.6 83.4ZM61.6 83.4L64.0 84.7L65.8 83.0L63.3 81.8ZM63.3 81.8L65.8 83.0L66.5 82.4L63.9 81.2ZM48.5 96.0L51.0 97.2L52.7 96.1L50.2 94.8ZM50.2 94.8L52.7 96.1L54.4 94.9L51.9 93.6ZM51.9 93.6L54.4 94.9L56.2 93.6L53.7 92.4ZM53.7 92.4L56.2 93.6L57.9 92.4L55.4 91.2ZM55.4 91.2L57.9 92.4L59.6 91.2L57.1 90.0ZM57.1 90.0L59.6 91.2L61.4 90.0L58.9 88.8ZM58.9 88.8L61.4 90.0L63.1 88.8L60.6 87.5ZM60.6 87.5L63.1 88.8L64.8 87.6L62.3 86.3ZM62.3 86.3L64.8 87.6L66.5 86.0L64.0 84.7ZM64.0 84.7L66.5 86.0L68.3 84.3L65.8 83.0ZM65.8 83.0L68.3 84.3L69.0 83.6L66.5 82.4ZM51.0 97.2L53.5 98.5L55.2 97.3L52.7 96.1ZM52.7 96.1L55.2 97.3L56.9 96.1L54.4 94.9ZM54.4 94.9L56.9 96.1L58.7 94.9L56.2 93.6ZM56.2 93.6L58.7 94.9L60.4 93.7L57.9 92.4ZM57.9 92.4L60.4 93.7L62.1 92.4L59.6 91.2ZM59.6 91.2L62.1 92.4L63.8 91.2L61.4 90.0ZM61.4 90.0L63.8 91.2L65.6 90.0L63.1 88.8ZM63.1 88.8L65.6 90.0L67.3 88.8L64.8 87.6ZM64.8 87.6L67.3 88.8L69.0 87.2L66.5 86.0ZM66.5 86.0L69.0 87.2L70.8 85.5L68.3 84.3ZM68.3 84.3L70.8 85.5L71.3 84.9L69.0 83.6ZM53.5 98.5L56.0 99.7L57.7 98.5L55.2 97.3ZM55.2 97.3L57.7 98.5L59.4 97.3L56.9 96.1ZM56.9 96.1L59.4 97.3L61.1 96.1L58.7 94.9ZM58.7 94.9L61.1 96.1L62.9 94.9L60.4 93.7ZM60.4 93.7L62.9 94.9L64.6 93.7L62.1 92.4ZM62.1 92.4L64.6 93.7L66.3 92.4L63.8 91.2ZM63.8 91.2L66.3 92.4L68.1 91.2L65.6 90.0ZM65.6 90.0L68.1 91.2L69.8 90.0L67.3 88.8ZM67.3 88.8L69.8 90.0L71.5 88.4L69.0 87.2ZM69.0 87.2L71.5 88.4L73.3 86.7L70.8 85.5ZM70.8 85.5L73.3 86.7L73.8 86.2L71.3 84.9ZM56.0 99.7L58.4 100.9L60.2 99.8L57.7 98.5ZM57.7 98.5L60.2 99.8L61.9 98.5L59.4 97.3ZM59.4 97.3L61.9 98.5L63.6 97.3L61.1 96.1ZM61.1 96.1L63.6 97.3L65.4 96.1L62.9 94.9ZM62.9 94.9L65.4 96.1L67.1 94.9L64.6 93.7ZM64.6 93.7L67.1 94.9L68.8 93.7L66.3 92.4ZM66.3 92.4L68.8 93.7L70.6 92.4L68.1 91.2ZM68.1 91.2L70.6 92.4L72.3 91.2L69.8 90.0ZM69.8 90.0L72.3 91.2L74.0 89.6L71.5 88.4ZM71.5 88.4L74.0 89.6L75.7 87.9L73.3 86.7ZM73.3 86.7L75.7 87.9L76.2 87.5L73.8 86.2ZM58.4 100.9L60.9 102.2L62.7 101.0L60.2 99.8ZM60.2 99.8L62.7 101.0L64.4 99.8L61.9 98.5ZM61.9 98.5L64.4 99.8L66.1 98.5L63.6 97.3ZM63.6 97.3L66.1 98.5L67.9 97.3L65.4 96.1ZM65.4 96.1L67.9 97.3L69.6 96.1L67.1 94.9ZM67.1 94.9L69.6 96.1L71.3 94.8L68.8 93.7ZM68.8 93.7L71.3 94.8L73.0 93.6L70.6 92.4ZM70.6 92.4L73.0 93.6L74.8 92.4L72.3 91.2ZM72.3 91.2L74.8 92.4L76.5 90.8L74.0 89.6ZM74.0 89.6L76.5 90.8L78.2 89.1L75.7 87.9ZM75.7 87.9L78.2 89.1L78.6 88.8L76.2 87.5ZM60.9 102.2L63.4 103.4L65.2 102.2L62.7 101.0ZM62.7 101.0L65.2 102.2L66.9 101.0L64.4 99.8ZM64.4 99.8L66.9 101.0L68.6 99.8L66.1 98.5ZM66.1 98.5L68.6 99.8L70.3 98.5L67.9 97.3ZM67.9 97.3L70.3 98.5L72.1 97.3L69.6 96.1ZM69.6 96.1L72.1 97.3L73.8 96.1L71.3 94.8ZM71.3 94.8L73.8 96.1L75.5 94.8L73.0 93.6ZM73.0 93.6L75.5 94.8L77.3 93.6L74.8 92.4ZM74.8 92.4L77.3 93.6L79.0 92.0L76.5 90.8ZM76.5 90.8L79.0 92.0L80.7 90.3L78.2 89.1ZM78.2 89.1L80.7 90.3L81.0 90.0L78.6 88.8ZM63.4 103.4L65.9 104.6L67.6 103.5L65.2 102.2ZM65.2 102.2L67.6 103.5L69.4 102.2L66.9 101.0ZM66.9 101.0L69.4 102.2L71.1 101.0L68.6 99.8ZM68.6 99.8L71.1 101.0L72.8 99.8L70.3 98.5ZM70.3 98.5L72.8 99.8L74.6 98.5L72.1 97.3ZM72.1 97.3L74.6 98.5L76.3 97.3L73.8 96.1ZM73.8 96.1L76.3 97.3L78.0 96.1L75.5 94.8ZM75.5 94.8L78.0 96.1L79.8 94.8L77.3 93.6ZM77.3 93.6L79.8 94.8L81.5 93.2L79.0 92.0ZM79.0 92.0L81.5 93.2L83.2 91.6L80.7 90.3ZM80.7 90.3L83.2 91.6L83.6 91.2L81.0 90.0ZM65.9 104.6L68.4 105.9L70.1 104.7L67.6 103.5ZM67.6 103.5L70.1 104.7L71.9 103.5L69.4 102.2ZM69.4 102.2L71.9 103.5L73.6 102.3L71.1 101.0ZM71.1 101.0L73.6 102.3L75.3 101.0L72.8 99.8ZM72.8 99.8L75.3 101.0L77.1 99.8L74.6 98.5ZM74.6 98.5L77.1 99.8L78.8 98.6L76.3 97.3ZM76.3 97.3L78.8 98.6L80.5 97.4L78.0 96.1ZM78.0 96.1L80.5 97.4L82.3 96.2L79.8 94.8ZM79.8 94.8L82.3 96.2L84.0 94.6L81.5 93.2ZM81.5 93.2L84.0 94.6L85.7 92.9L83.2 91.6ZM83.2 91.6L85.7 92.9L86.3 92.4L83.6 91.2ZM68.4 105.9L70.9 107.1L72.6 106.0L70.1 104.7ZM70.1 104.7L72.6 106.0L74.4 104.8L71.9 103.5ZM71.9 103.5L74.4 104.8L76.1 103.5L73.6 102.3ZM73.6 102.3L76.1 103.5L77.8 102.3L75.3 101.0ZM75.3 101.0L77.8 102.3L79.6 101.1L77.1 99.8ZM77.1 99.8L79.6 101.1L81.3 99.9L78.8 98.6ZM78.8 98.6L81.3 99.9L83.0 98.7L80.5 97.4ZM80.5 97.4L83.0 98.7L84.7 97.4L82.3 96.2ZM82.3 96.2L84.7 97.4L86.5 95.9L84.0 94.6ZM84.0 94.6L86.5 95.9L88.2 94.3L85.7 92.9ZM85.7 92.9L88.2 94.3L89.0 93.5L86.3 92.4ZM70.9 107.1L73.4 108.4L75.1 107.2L72.6 106.0ZM72.6 106.0L75.1 107.2L76.9 106.0L74.4 104.8ZM74.4 104.8L76.9 106.0L78.6 104.8L76.1 103.5ZM76.1 103.5L78.6 104.8L80.3 103.6L77.8 102.3ZM77.8 102.3L80.3 103.6L82.0 102.4L79.6 101.1ZM79.6 101.1L82.0 102.4L83.8 101.1L81.3 99.9ZM81.3 99.9L83.8 101.1L85.5 99.9L83.0 98.7ZM83.0 98.7L85.5 99.9L87.2 98.7L84.7 97.4ZM84.7 97.4L87.2 98.7L89.0 97.1L86.5 95.9ZM86.5 95.9L89.0 97.1L90.7 95.5L88.2 94.3ZM88.2 94.3L90.7 95.5L91.6 94.7L89.0 93.5ZM73.4 108.4L75.9 109.6L77.6 108.4L75.1 107.2ZM75.1 107.2L77.6 108.4L79.3 107.2L76.9 106.0ZM76.9 106.0L79.3 107.2L81.1 106.0L78.6 104.8ZM78.6 104.8L81.1 106.0L82.8 104.8L80.3 103.6ZM80.3 103.6L82.8 104.8L84.5 103.6L82.0 102.4ZM82.0 102.4L84.5 103.6L86.3 102.3L83.8 101.1ZM83.8 101.1L86.3 102.3L88.0 101.1L85.5 99.9ZM85.5 99.9L88.0 101.1L89.7 99.9L87.2 98.7ZM87.2 98.7L89.7 99.9L91.5 98.3L89.0 97.1ZM89.0 97.1L91.5 98.3L93.2 96.7L90.7 95.5ZM90.7 95.5L93.2 96.7L94.0 96.0L91.6 94.7ZM75.9 109.6L78.4 110.8L80.1 109.7L77.6 108.4ZM77.6 108.4L80.1 109.7L81.8 108.5L79.3 107.2ZM79.3 107.2L81.8 108.5L83.6 107.3L81.1 106.0ZM81.1 106.0L83.6 107.3L85.3 106.0L82.8 104.8ZM82.8 104.8L85.3 106.0L87.0 104.8L84.5 103.6ZM84.5 103.6L87.0 104.8L88.8 103.6L86.3 102.3ZM86.3 102.3L88.8 103.6L90.5 102.4L88.0 101.1ZM88.0 101.1L90.5 102.4L92.2 101.2L89.7 99.9ZM89.7 99.9L92.2 101.2L94.0 99.6L91.5 98.3ZM91.5 98.3L94.0 99.6L95.7 98.0L93.2 96.7ZM93.2 96.7L95.7 98.0L96.5 97.2L94.0 96.0ZM78.4 110.8L80.9 112.1L82.6 111.0L80.1 109.7ZM80.1 109.7L82.6 111.0L84.3 109.7L81.8 108.5ZM81.8 108.5L84.3 109.7L86.1 108.5L83.6 107.3ZM83.6 107.3L86.1 108.5L87.8 107.3L85.3 106.0ZM85.3 106.0L87.8 107.3L89.5 106.1L87.0 104.8ZM87.0 104.8L89.5 106.1L91.2 104.9L88.8 103.6ZM88.8 103.6L91.2 104.9L93.0 103.7L90.5 102.4ZM90.5 102.4L93.0 103.7L94.7 102.5L92.2 101.2ZM92.2 101.2L94.7 102.5L96.4 101.0L94.0 99.6ZM94.0 99.6L96.4 101.0L98.2 99.4L95.7 98.0ZM95.7 98.0L98.2 99.4L99.5 98.2L96.5 97.2ZM80.9 112.1L83.4 113.4L85.1 112.3L82.6 111.0ZM82.6 111.0L85.1 112.3L86.8 111.1L84.3 109.7ZM84.3 109.7L86.8 111.1L88.5 109.9L86.1 108.5ZM86.1 108.5L88.5 109.9L90.3 108.7L87.8 107.3ZM87.8 107.3L90.3 108.7L92.0 107.5L89.5 106.1ZM89.5 106.1L92.0 107.5L93.7 106.3L91.2 104.9ZM91.2 104.9L93.7 106.3L95.5 105.1L93.0 103.7ZM93.0 103.7L95.5 105.1L97.2 104.0L94.7 102.5ZM94.7 102.5L97.2 104.0L98.9 102.5L96.4 101.0ZM96.4 101.0L98.9 102.5L100.7 100.9L98.2 99.4ZM98.2 99.4L100.7 100.9L102.4 99.4L101.2 98.7L99.5 98.2ZM101.2 98.7L102.4 99.4L102.8 99.0ZM83.4 113.4L85.8 114.6L87.6 113.5L85.1 112.3ZM85.1 112.3L87.6 113.5L89.3 112.4L86.8 111.1ZM86.8 111.1L89.3 112.4L91.0 111.2L88.5 109.9ZM88.5 109.9L91.0 111.2L92.8 110.0L90.3 108.7ZM90.3 108.7L92.8 110.0L94.5 108.9L92.0 107.5ZM92.0 107.5L94.5 108.9L96.2 107.7L93.7 106.3ZM93.7 106.3L96.2 107.7L98.0 106.5L95.5 105.1ZM95.5 105.1L98.0 106.5L99.7 105.4L97.2 104.0ZM97.2 104.0L99.7 105.4L101.4 103.9L98.9 102.5ZM98.9 102.5L101.4 103.9L103.2 102.5L100.7 100.9ZM100.7 100.9L103.2 102.5L104.9 101.0L102.4 99.4ZM102.4 99.4L104.9 101.0L106.2 99.9L102.8 99.0ZM85.8 114.6L88.3 115.9L90.1 114.8L87.6 113.5ZM87.6 113.5L90.1 114.8L91.8 113.6L89.3 112.4ZM89.3 112.4L91.8 113.6L93.5 112.5L91.0 111.2ZM91.0 111.2L93.5 112.5L95.3 111.3L92.8 110.0ZM92.8 110.0L95.3 111.3L97.0 110.1L94.5 108.9ZM94.5 108.9L97.0 110.1L98.7 109.0L96.2 107.7ZM96.2 107.7L98.7 109.0L100.5 107.8L98.0 106.5ZM98.0 106.5L100.5 107.8L102.2 106.7L99.7 105.4ZM99.7 105.4L102.2 106.7L103.9 105.2L101.4 103.9ZM101.4 103.9L103.9 105.2L105.6 103.8L103.2 102.5ZM103.2 102.5L105.6 103.8L107.4 102.3L104.9 101.0ZM104.9 101.0L107.4 102.3L108.9 101.0L106.2 99.9ZM88.3 115.9L90.8 117.1L92.6 116.0L90.1 114.8ZM90.1 114.8L92.6 116.0L94.3 114.9L91.8 113.6ZM91.8 113.6L94.3 114.9L96.0 113.7L93.5 112.5ZM93.5 112.5L96.0 113.7L97.8 112.6L95.3 111.3ZM95.3 111.3L97.8 112.6L99.5 111.4L97.0 110.1ZM97.0 110.1L99.5 111.4L101.2 110.3L98.7 109.0ZM98.7 109.0L101.2 110.3L102.9 109.1L100.5 107.8ZM100.5 107.8L102.9 109.1L104.7 107.9L102.2 106.7ZM102.2 106.7L104.7 107.9L106.4 106.5L103.9 105.2ZM103.9 105.2L106.4 106.5L108.1 105.1L105.6 103.8ZM105.6 103.8L108.1 105.1L109.9 103.6L107.4 102.3ZM107.4 102.3L109.9 103.6L111.6 102.2L110.8 101.7L108.9 101.0ZM110.8 101.7L111.6 102.2L111.6 102.1ZM90.8 117.1L93.3 118.4L95.1 117.3L92.6 116.0ZM92.6 116.0L95.1 117.3L96.8 116.1L94.3 114.9ZM94.3 114.9L96.8 116.1L98.5 115.0L96.0 113.7ZM96.0 113.7L98.5 115.0L100.2 113.8L97.8 112.6ZM97.8 112.6L100.2 113.8L102.0 112.7L99.5 111.4ZM99.5 111.4L102.0 112.7L103.7 111.5L101.2 110.3ZM101.2 110.3L103.7 111.5L105.4 110.4L102.9 109.1ZM102.9 109.1L105.4 110.4L107.2 109.2L104.7 107.9ZM104.7 107.9L107.2 109.2L108.9 107.8L106.4 106.5ZM106.4 106.5L108.9 107.8L110.6 106.4L108.1 105.1ZM108.1 105.1L110.6 106.4L112.4 104.9L109.9 103.6ZM109.9 103.6L112.4 104.9L114.1 103.5L111.6 102.2ZM111.6 102.2L114.1 103.5L114.3 103.3L111.6 102.1ZM93.3 118.4L95.8 119.6L97.5 118.5L95.1 117.3ZM95.1 117.3L97.5 118.5L99.3 117.4L96.8 116.1ZM96.8 116.1L99.3 117.4L101.0 116.2L98.5 115.0ZM98.5 115.0L101.0 116.2L102.7 115.1L100.2 113.8ZM100.2 113.8L102.7 115.1L104.5 113.9L102.0 112.7ZM102.0 112.7L104.5 113.9L106.2 112.8L103.7 111.5ZM103.7 111.5L106.2 112.8L107.9 111.6L105.4 110.4ZM105.4 110.4L107.9 111.6L109.7 110.5L107.2 109.2ZM107.2 109.2L109.7 110.5L111.4 109.1L108.9 107.8ZM108.9 107.8L111.4 109.1L113.1 107.7L110.6 106.4ZM110.6 106.4L113.1 107.7L114.9 106.2L112.4 104.9ZM112.4 104.9L114.9 106.2L116.6 104.8L114.1 103.5ZM114.1 103.5L116.6 104.8L116.8 104.5L114.3 103.3ZM95.8 119.6L98.3 120.9L100.0 119.8L97.5 118.5ZM97.5 118.5L100.0 119.8L101.8 118.6L99.3 117.4ZM99.3 117.4L101.8 118.6L103.5 117.5L101.0 116.2ZM101.0 116.2L103.5 117.5L105.2 116.3L102.7 115.1ZM102.7 115.1L105.2 116.3L107.0 115.2L104.5 113.9ZM104.5 113.9L107.0 115.2L108.7 114.0L106.2 112.8ZM106.2 112.8L108.7 114.0L110.4 112.9L107.9 111.6ZM107.9 111.6L110.4 112.9L112.2 111.7L109.7 110.5ZM109.7 110.5L112.2 111.7L113.9 110.3L111.4 109.1ZM111.4 109.1L113.9 110.3L115.6 108.9L113.1 107.7ZM113.1 107.7L115.6 108.9L117.3 107.5L114.9 106.2ZM114.9 106.2L117.3 107.5L119.1 106.0L116.6 104.8ZM116.6 104.8L119.1 106.0L119.3 105.7L116.8 104.5ZM98.3 120.9L100.8 122.1L102.5 121.0L100.0 119.8ZM100.0 119.8L102.5 121.0L104.3 119.9L101.8 118.6ZM101.8 118.6L104.3 119.9L106.0 118.7L103.5 117.5ZM103.5 117.5L106.0 118.7L107.7 117.6L105.2 116.3ZM105.2 116.3L107.7 117.6L109.5 116.4L107.0 115.2ZM107.0 115.2L109.5 116.4L111.2 115.3L108.7 114.0ZM108.7 114.0L111.2 115.3L112.9 114.1L110.4 112.9ZM110.4 112.9L112.9 114.1L114.6 113.0L112.2 111.7ZM112.2 111.7L114.6 113.0L116.4 111.6L113.9 110.3ZM113.9 110.3L116.4 111.6L118.1 110.2L115.6 108.9ZM115.6 108.9L118.1 110.2L119.8 108.8L117.3 107.5ZM117.3 107.5L119.8 108.8L121.6 107.3L119.1 106.0ZM119.1 106.0L121.6 107.3L121.9 106.9L119.3 105.7Z"/><path class="s1" d="M61.7 79.8L62.5 79.0L61.5 78.9ZM61.5 78.9L62.5 79.0L64.3 77.4L61.8 77.2L61.6 77.4ZM61.8 77.2L64.3 77.4L66.0 74.8L63.5 75.1ZM63.5 75.1L66.0 74.8L67.7 71.8L65.2 72.6ZM65.2 72.6L67.7 71.8L67.9 71.4L67.6 69.7L67.0 70.1ZM67.0 70.1L67.6 69.7L67.4 69.2ZM63.9 81.2L65.0 80.1L62.5 79.0L61.7 79.8ZM62.5 79.0L65.0 80.1L66.8 78.4L64.3 77.4ZM64.3 77.4L66.8 78.4L68.5 75.7L66.0 74.8ZM66.0 74.8L68.5 75.7L70.1 72.8L69.4 72.4L67.7 71.8ZM67.7 71.8L69.4 72.4L67.9 71.4ZM66.5 82.4L67.5 81.4L65.0 80.1L63.9 81.2ZM65.0 80.1L67.5 81.4L69.2 79.7L66.8 78.4ZM66.8 78.4L69.2 79.7L71.0 77.0L68.5 75.7ZM68.5 75.7L71.0 77.0L72.6 74.1L70.1 72.8ZM69.0 83.6L70.0 82.6L67.5 81.4L66.5 82.4ZM67.5 81.4L70.0 82.6L71.7 81.0L69.2 79.7ZM69.2 79.7L71.7 81.0L73.5 78.2L71.0 77.0ZM71.0 77.0L73.5 78.2L75.0 75.3L72.6 74.1ZM71.3 84.9L72.5 83.8L70.0 82.6L69.0 83.6ZM70.0 82.6L72.5 83.8L74.2 82.1L71.7 81.0ZM71.7 81.0L74.2 82.1L76.0 79.3L73.5 78.2ZM73.5 78.2L76.0 79.3L77.4 76.6L75.0 75.3ZM73.8 86.2L75.0 85.0L72.5 83.8L71.3 84.9ZM72.5 83.8L75.0 85.0L76.7 83.3L74.2 82.1ZM74.2 82.1L76.7 83.3L78.4 80.6L76.0 79.3ZM76.0 79.3L78.4 80.6L79.9 77.8L77.4 76.6ZM76.2 87.5L77.5 86.2L75.0 85.0L73.8 86.2ZM75.0 85.0L77.5 86.2L79.2 84.6L76.7 83.3ZM76.7 83.3L79.2 84.6L80.9 81.8L78.4 80.6ZM78.4 80.6L80.9 81.8L82.4 79.1L79.9 77.8ZM78.6 88.8L80.0 87.4L77.5 86.2L76.2 87.5ZM77.5 86.2L80.0 87.4L81.7 85.7L79.2 84.6ZM79.2 84.6L81.7 85.7L83.4 83.0L80.9 81.8ZM80.9 81.8L83.4 83.0L84.9 80.3L82.4 79.1ZM81.0 90.0L82.5 88.6L80.0 87.4L78.6 88.8ZM80.0 87.4L82.5 88.6L84.2 87.0L81.7 85.7ZM81.7 85.7L84.2 87.0L85.9 84.3L83.4 83.0ZM83.4 83.0L85.9 84.3L87.5 81.5L84.9 80.3ZM83.6 91.2L85.0 89.9L82.5 88.6L81.0 90.0ZM82.5 88.6L85.0 89.9L86.7 88.2L84.2 87.0ZM84.2 87.0L86.7 88.2L88.4 85.6L85.9 84.3ZM85.9 84.3L88.4 85.6L90.1 82.7L87.5 81.5ZM86.3 92.4L87.4 91.3L85.0 89.9L83.6 91.2ZM85.0 89.9L87.4 91.3L89.2 89.7L86.7 88.2ZM86.7 88.2L89.2 89.7L90.9 87.1L88.4 85.6ZM88.4 85.6L90.9 87.1L92.6 84.2L90.7 82.9L90.1 82.7ZM90.7 82.9L92.6 84.2L92.9 83.8ZM89.0 93.5L89.9 92.6L87.4 91.3L86.3 92.4ZM87.4 91.3L89.9 92.6L91.7 91.0L89.2 89.7ZM89.2 89.7L91.7 91.0L93.4 88.6L90.9 87.1ZM90.9 87.1L93.4 88.6L95.1 85.7L92.6 84.2ZM92.6 84.2L95.1 85.7L95.6 84.9L92.9 83.8ZM91.6 94.7L92.4 93.9L89.9 92.6L89.0 93.5ZM89.9 92.6L92.4 93.9L94.2 92.3L91.7 91.0ZM91.7 91.0L94.2 92.3L95.9 89.9L93.4 88.6ZM93.4 88.6L95.9 89.9L97.6 87.1L95.1 85.7ZM95.1 85.7L97.6 87.1L98.2 86.1L95.6 84.9ZM94.0 96.0L94.9 95.1L92.4 93.9L91.6 94.7ZM92.4 93.9L94.9 95.1L96.6 93.5L94.2 92.3ZM94.2 92.3L96.6 93.5L98.4 91.1L95.9 89.9ZM95.9 89.9L98.4 91.1L100.1 88.2L97.6 87.1ZM97.6 87.1L100.1 88.2L100.6 87.4L98.2 86.1ZM96.5 97.2L97.4 96.4L94.9 95.1L94.0 96.0ZM94.9 95.1L97.4 96.4L99.1 94.8L96.6 93.5ZM96.6 93.5L99.1 94.8L100.9 92.3L98.4 91.1ZM98.4 91.1L100.9 92.3L102.6 89.5L100.1 88.2ZM100.1 88.2L102.6 89.5L103.2 88.6L100.6 87.4ZM99.5 98.2L99.9 97.8L97.4 96.4L96.5 97.2ZM97.4 96.4L99.9 97.8L101.6 96.3L99.1 94.8ZM99.1 94.8L101.6 96.3L103.4 93.9L100.9 92.3ZM100.9 92.3L103.4 93.9L105.1 91.1L102.6 89.5ZM102.6 89.5L105.1 91.1L106.0 89.7L103.2 88.6ZM101.2 98.7L99.9 97.8L99.5 98.2ZM99.9 97.8L101.2 98.7L102.8 99.0L104.1 97.9L101.6 96.3ZM101.6 96.3L104.1 97.9L105.9 95.6L103.4 93.9ZM103.4 93.9L105.9 95.6L107.6 93.0L105.1 91.1ZM105.1 91.1L107.6 93.0L109.1 90.6L106.0 89.7ZM106.2 99.9L106.6 99.5L104.1 97.9L102.8 99.0ZM104.1 97.9L106.6 99.5L108.3 97.3L105.9 95.6ZM105.9 95.6L108.3 97.3L110.1 94.8L107.6 93.0ZM107.6 93.0L110.1 94.8L111.8 92.3L110.0 90.9L109.1 90.6ZM110.0 90.9L111.8 92.3L112.2 91.6ZM108.9 101.0L109.1 100.8L106.6 99.5L106.2 99.9ZM106.6 99.5L109.1 100.8L110.8 98.7L108.3 97.3ZM108.3 97.3L110.8 98.7L112.6 96.2L110.1 94.8ZM110.1 94.8L112.6 96.2L114.3 93.7L111.8 92.3ZM111.8 92.3L114.3 93.7L114.8 92.8L112.2 91.6ZM110.8 101.7L109.1 100.8L108.9 101.0ZM109.1 100.8L110.8 101.7L111.6 102.1L113.3 100.0L110.8 98.7ZM110.8 98.7L113.3 100.0L115.1 97.6L112.6 96.2ZM112.6 96.2L115.1 97.6L116.8 95.1L114.3 93.7ZM114.3 93.7L116.8 95.1L117.5 93.9L114.8 92.8ZM114.3 103.3L115.8 101.4L113.3 100.0L111.6 102.1ZM113.3 100.0L115.8 101.4L117.6 99.0L115.1 97.6ZM115.1 97.6L117.6 99.0L119.3 96.5L116.8 95.1ZM116.8 95.1L119.3 96.5L120.1 95.1L117.5 93.9ZM116.8 104.5L118.3 102.7L115.8 101.4L114.3 103.3ZM115.8 101.4L118.3 102.7L120.0 100.3L117.6 99.0ZM117.6 99.0L120.0 100.3L121.8 97.9L119.3 96.5ZM119.3 96.5L121.8 97.9L122.7 96.3L120.1 95.1ZM119.3 105.7L120.8 103.9L118.3 102.7L116.8 104.5ZM118.3 102.7L120.8 103.9L122.5 101.5L120.0 100.3ZM120.0 100.3L122.5 101.5L124.3 99.1L121.8 97.9ZM121.8 97.9L124.3 99.1L125.2 97.5L122.7 96.3ZM121.9 106.9L123.3 105.3L120.8 103.9L119.3 105.7ZM120.8 103.9L123.3 105.3L125.0 102.9L122.5 101.5ZM122.5 101.5L125.0 102.9L126.8 100.5L124.3 99.1ZM124.3 99.1L126.8 100.5L127.8 98.7L125.2 97.5Z"/><path class="s2" d="M67.9 71.4L69.5 68.8L67.6 69.7ZM67.6 69.7L69.5 68.8L71.2 64.9L68.7 66.9L67.4 69.2ZM68.7 66.9L71.2 64.9L71.4 64.4L71.2 62.8L70.4 63.7ZM70.4 63.7L71.2 62.8L71.2 62.0ZM70.1 72.8L70.2 72.6L69.4 72.4ZM69.4 72.4L70.2 72.6L71.9 69.5L69.5 68.8L67.9 71.4ZM69.5 68.8L71.9 69.5L73.5 65.8L72.8 65.3L71.2 64.9ZM71.2 64.9L72.8 65.3L71.4 64.4ZM72.6 74.1L72.7 73.8L70.2 72.6L70.1 72.8ZM70.2 72.6L72.7 73.8L74.4 70.6L71.9 69.5ZM71.9 69.5L74.4 70.6L76.0 67.0L73.5 65.8ZM75.0 75.3L75.2 75.0L72.7 73.8L72.6 74.1ZM72.7 73.8L75.2 75.0L76.9 71.8L74.4 70.6ZM74.4 70.6L76.9 71.8L78.5 68.3L76.0 67.0ZM77.4 76.6L77.7 76.0L75.2 75.0L75.0 75.3ZM75.2 75.0L77.7 76.0L79.4 72.7L76.9 71.8ZM76.9 71.8L79.4 72.7L80.8 69.6L78.5 68.3ZM79.9 77.8L80.2 77.4L77.7 76.0L77.4 76.6ZM77.7 76.0L80.2 77.4L81.9 74.1L79.4 72.7ZM79.4 72.7L81.9 74.1L83.4 70.8L80.8 69.6ZM82.4 79.1L82.7 78.7L80.2 77.4L79.9 77.8ZM80.2 77.4L82.7 78.7L84.4 75.4L81.9 74.1ZM81.9 74.1L84.4 75.4L85.9 72.0L83.4 70.8ZM84.9 80.3L85.2 79.9L82.7 78.7L82.4 79.1ZM82.7 78.7L85.2 79.9L86.9 76.7L84.4 75.4ZM84.4 75.4L86.9 76.7L88.5 73.2L85.9 72.0ZM87.5 81.5L87.7 81.2L85.2 79.9L84.9 80.3ZM85.2 79.9L87.7 81.2L89.4 78.1L86.9 76.7ZM86.9 76.7L89.4 78.1L91.1 74.4L88.5 73.2ZM90.1 82.7L90.1 82.6L87.7 81.2L87.5 81.5ZM87.7 81.2L90.1 82.6L91.9 79.6L89.4 78.1ZM89.4 78.1L91.9 79.6L93.6 75.8L92.0 74.8L91.1 74.4ZM92.0 74.8L93.6 75.8L93.7 75.6ZM90.7 82.9L90.1 82.6L90.1 82.7ZM90.1 82.6L90.7 82.9L92.9 83.8L94.4 81.3L91.9 79.6ZM91.9 79.6L94.4 81.3L96.1 77.7L93.6 75.8ZM93.6 75.8L96.1 77.7L96.6 76.7L93.7 75.6ZM95.6 84.9L96.9 82.9L94.4 81.3L92.9 83.8ZM94.4 81.3L96.9 82.9L98.6 79.3L96.1 77.7ZM96.1 77.7L98.6 79.3L99.4 77.8L96.6 76.7ZM98.2 86.1L99.3 84.2L96.9 82.9L95.6 84.9ZM96.9 82.9L99.3 84.2L101.1 80.8L98.6 79.3ZM98.6 79.3L101.1 80.8L102.0 78.9L99.4 77.8ZM100.6 87.4L101.8 85.4L99.3 84.2L98.2 86.1ZM99.3 84.2L101.8 85.4L103.6 81.9L101.1 80.8ZM101.1 80.8L103.6 81.9L104.4 80.2L102.0 78.9ZM103.2 88.6L104.3 86.7L101.8 85.4L100.6 87.4ZM101.8 85.4L104.3 86.7L106.1 83.2L103.6 81.9ZM103.6 81.9L106.1 83.2L107.0 81.4L104.4 80.2ZM106.0 89.7L106.8 88.4L104.3 86.7L103.2 88.6ZM104.3 86.7L106.8 88.4L108.6 85.0L106.1 83.2ZM106.1 83.2L108.6 85.0L109.8 82.5L107.0 81.4ZM109.1 90.6L109.3 90.3L106.8 88.4L106.0 89.7ZM106.8 88.4L109.3 90.3L111.0 87.1L108.6 85.0ZM108.6 85.0L111.0 87.1L112.8 83.9L111.8 83.0L109.8 82.5ZM111.8 83.0L112.8 83.9L113.1 83.4ZM110.0 90.9L109.3 90.3L109.1 90.6ZM109.3 90.3L110.0 90.9L112.2 91.6L113.5 89.2L111.0 87.1ZM111.0 87.1L113.5 89.2L115.3 86.2L112.8 83.9ZM112.8 83.9L115.3 86.2L116.3 84.2L113.1 83.4ZM114.8 92.8L116.0 90.7L113.5 89.2L112.2 91.6ZM113.5 89.2L116.0 90.7L117.8 87.7L115.3 86.2ZM115.3 86.2L117.8 87.7L119.0 85.4L116.3 84.2ZM117.5 93.9L118.5 92.1L116.0 90.7L114.8 92.8ZM116.0 90.7L118.5 92.1L120.3 89.2L117.8 87.7ZM117.8 87.7L120.3 89.2L121.7 86.5L119.0 85.4ZM120.1 95.1L121.0 93.6L118.5 92.1L117.5 93.9ZM118.5 92.1L121.0 93.6L122.7 90.7L120.3 89.2ZM120.3 89.2L122.7 90.7L124.4 87.7L121.7 86.5ZM122.7 96.3L123.5 95.0L121.0 93.6L120.1 95.1ZM121.0 93.6L123.5 95.0L125.2 92.1L122.7 90.7ZM122.7 90.7L125.2 92.1L127.0 88.9L126.3 88.5L124.4 87.7ZM126.3 88.5L127.0 88.9L127.0 88.8ZM125.2 97.5L126.0 96.2L123.5 95.0L122.7 96.3ZM123.5 95.0L126.0 96.2L127.7 93.3L125.2 92.1ZM125.2 92.1L127.7 93.3L129.4 90.1L128.6 89.7L127.0 88.9ZM127.0 88.9L128.6 89.7L127.0 88.8ZM127.8 98.7L128.5 97.6L126.0 96.2L125.2 97.5ZM126.0 96.2L128.5 97.6L130.2 94.8L127.7 93.3ZM127.7 93.3L130.2 94.8L131.9 91.6L129.7 90.2L129.4 90.1ZM129.7 90.2L131.9 91.6L132.1 91.3Z"/><path class="s3" d="M71.4 64.4L72.9 61.1L71.2 62.8ZM71.2 62.8L72.9 61.1L74.4 57.6L74.4 57.3L72.2 60.1L71.2 62.0ZM72.2 60.1L74.4 57.3L74.3 55.6L73.9 56.2ZM73.9 56.2L74.3 55.6L74.3 55.2ZM73.5 65.8L73.7 65.5L72.8 65.3ZM72.8 65.3L73.7 65.5L75.4 61.5L72.9 61.1L71.4 64.4ZM72.9 61.1L75.4 61.5L76.4 59.0L74.4 57.6ZM76.0 67.0L76.2 66.7L73.7 65.5L73.5 65.8ZM73.7 65.5L76.2 66.7L77.9 62.8L75.4 61.5ZM75.4 61.5L77.9 62.8L79.0 60.3L76.4 59.0ZM78.5 68.3L78.7 67.9L76.2 66.7L76.0 67.0ZM76.2 66.7L78.7 67.9L80.4 64.0L77.9 62.8ZM77.9 62.8L80.4 64.0L81.4 61.5L79.0 60.3ZM80.8 69.6L81.1 68.8L78.7 67.9L78.5 68.3ZM78.7 67.9L81.1 68.8L82.9 64.9L80.4 64.0ZM80.4 64.0L82.9 64.9L83.7 62.9L81.4 61.5ZM83.4 70.8L83.6 70.2L81.1 68.8L80.8 69.6ZM81.1 68.8L83.6 70.2L85.4 66.4L82.9 64.9ZM82.9 64.9L85.4 66.4L86.4 64.0L83.7 62.9ZM85.9 72.0L86.1 71.6L83.6 70.2L83.4 70.8ZM83.6 70.2L86.1 71.6L87.9 67.8L85.4 66.4ZM85.4 66.4L87.9 67.8L89.0 65.2L86.4 64.0ZM88.5 73.2L88.6 72.9L86.1 71.6L85.9 72.0ZM86.1 71.6L88.6 72.9L90.4 69.1L87.9 67.8ZM87.9 67.8L90.4 69.1L91.5 66.4L89.0 65.2ZM91.1 74.4L91.1 74.3L88.6 72.9L88.5 73.2ZM88.6 72.9L91.1 74.3L92.8 70.5L90.4 69.1ZM90.4 69.1L92.8 70.5L94.2 67.6L91.5 66.4ZM92.0 74.8L91.1 74.3L91.1 74.4ZM91.1 74.3L92.0 74.8L93.7 75.6L95.3 72.1L92.8 70.5ZM92.8 70.5L95.3 72.1L96.9 68.7L94.2 67.6ZM96.6 76.7L97.8 74.0L95.3 72.1L93.7 75.6ZM95.3 72.1L97.8 74.0L99.6 70.5L97.8 69.0L96.9 68.7ZM97.8 69.0L99.6 70.5L99.9 69.7ZM99.4 77.8L100.3 75.8L97.8 74.0L96.6 76.7ZM97.8 74.0L100.3 75.8L102.1 72.4L99.6 70.5ZM99.6 70.5L102.1 72.4L102.9 70.7L99.9 69.7ZM102.0 78.9L102.8 77.3L100.3 75.8L99.4 77.8ZM100.3 75.8L102.8 77.3L104.5 73.8L102.1 72.4ZM102.1 72.4L104.5 73.8L105.5 71.9L102.9 70.7ZM104.4 80.2L105.3 78.4L102.8 77.3L102.0 78.9ZM102.8 77.3L105.3 78.4L107.0 74.9L104.5 73.8ZM104.5 73.8L107.0 74.9L107.8 73.2L105.5 71.9ZM107.0 81.4L107.8 79.7L105.3 78.4L104.4 80.2ZM105.3 78.4L107.8 79.7L109.5 76.2L107.0 74.9ZM107.0 74.9L109.5 76.2L110.3 74.4L107.8 73.2ZM109.8 82.5L110.3 81.6L107.8 79.7L107.0 81.4ZM107.8 79.7L110.3 81.6L112.0 78.1L109.5 76.2ZM109.5 76.2L112.0 78.1L113.2 75.5L110.3 74.4ZM111.8 83.0L110.3 81.6L109.8 82.5ZM110.3 81.6L111.8 83.0L113.1 83.4L114.5 80.6L112.0 78.1ZM112.0 78.1L114.5 80.6L116.2 77.0L115.3 76.0L113.2 75.5ZM115.3 76.0L116.2 77.0L116.6 76.3ZM116.3 84.2L117.0 82.9L114.5 80.6L113.1 83.4ZM114.5 80.6L117.0 82.9L118.7 79.5L116.2 77.0ZM116.2 77.0L118.7 79.5L120.1 77.1L116.6 76.3ZM119.0 85.4L119.5 84.4L117.0 82.9L116.3 84.2ZM117.0 82.9L119.5 84.4L121.2 81.0L118.7 79.5ZM118.7 79.5L121.2 81.0L122.8 78.2L120.1 77.1ZM121.7 86.5L122.0 86.0L119.5 84.4L119.0 85.4ZM119.5 84.4L122.0 86.0L123.7 82.5L121.2 81.0ZM121.2 81.0L123.7 82.5L125.4 79.5L124.2 78.7L122.8 78.2ZM124.2 78.7L125.4 79.5L125.6 79.3ZM124.4 87.7L124.5 87.5L122.0 86.0L121.7 86.5ZM122.0 86.0L124.5 87.5L126.2 84.1L123.7 82.5ZM123.7 82.5L126.2 84.1L127.9 81.2L125.4 79.5ZM125.4 79.5L127.9 81.2L128.5 80.3L125.6 79.3ZM126.3 88.5L124.5 87.5L124.4 87.7ZM124.5 87.5L126.3 88.5L127.0 88.8L128.7 85.4L126.2 84.1ZM126.2 84.1L128.7 85.4L130.4 82.6L127.9 81.2ZM127.9 81.2L130.4 82.6L131.2 81.5L128.5 80.3ZM129.4 90.1L129.5 90.1L128.6 89.7ZM128.6 89.7L129.5 90.1L131.2 86.6L128.7 85.4L127.0 88.8ZM128.7 85.4L131.2 86.6L132.9 83.8L130.4 82.6ZM130.4 82.6L132.9 83.8L133.6 82.7L131.2 81.5ZM129.7 90.2L129.5 90.1L129.4 90.1ZM129.5 90.1L129.7 90.2L132.1 91.3L133.7 88.0L131.2 86.6ZM131.2 86.6L133.7 88.0L135.4 85.3L132.9 83.8ZM132.9 83.8L135.4 85.3L136.5 83.8L133.6 82.7Z"/><path class="s4" d="M74.4 57.6L74.6 57.0L74.4 57.3ZM74.4 57.3L74.6 57.0L76.4 52.6L74.3 55.6ZM74.3 55.6L76.4 52.6L76.9 51.0L76.7 49.7L75.6 51.4L74.3 55.2ZM75.6 51.4L76.7 49.7L76.6 48.7ZM76.4 59.0L77.1 57.4L74.6 57.0L74.4 57.6ZM74.6 57.0L77.1 57.4L78.9 52.9L76.4 52.6ZM76.4 52.6L78.9 52.9L79.0 52.4L76.9 51.0ZM79.0 60.3L79.6 58.7L77.1 57.4L76.4 59.0ZM77.1 57.4L79.6 58.7L81.4 54.2L78.9 52.9ZM78.9 52.9L81.4 54.2L81.6 53.7L79.0 52.4ZM81.4 61.5L82.1 59.9L79.6 58.7L79.0 60.3ZM79.6 58.7L82.1 59.9L83.8 55.4L81.4 54.2ZM81.4 54.2L83.8 55.4L84.0 54.9L81.6 53.7ZM83.7 62.9L84.6 60.7L82.1 59.9L81.4 61.5ZM82.1 59.9L84.6 60.7L86.3 56.3L86.0 56.1L83.8 55.4ZM83.8 55.4L86.0 56.1L84.0 54.9ZM86.4 64.0L87.1 62.3L84.6 60.7L83.7 62.9ZM84.6 60.7L87.1 62.3L88.8 57.9L86.7 56.4L86.3 56.3ZM86.7 56.4L88.8 57.9L89.0 57.4ZM89.0 65.2L89.6 63.8L87.1 62.3L86.4 64.0ZM87.1 62.3L89.6 63.8L91.3 59.5L88.8 57.9ZM88.8 57.9L91.3 59.5L91.7 58.5L89.0 57.4ZM91.5 66.4L92.1 65.2L89.6 63.8L89.0 65.2ZM89.6 63.8L92.1 65.2L93.8 61.0L91.3 59.5ZM91.3 59.5L93.8 61.0L94.3 59.7L91.7 58.5ZM94.2 67.6L94.6 66.7L92.1 65.2L91.5 66.4ZM92.1 65.2L94.6 66.7L96.3 62.6L93.8 61.0ZM93.8 61.0L96.3 62.6L97.0 60.8L94.3 59.7ZM96.9 68.7L97.1 68.4L94.6 66.7L94.2 67.6ZM94.6 66.7L97.1 68.4L98.8 64.4L96.3 62.6ZM96.3 62.6L98.8 64.4L99.8 61.9L97.0 60.8ZM97.8 69.0L97.1 68.4L96.9 68.7ZM97.1 68.4L97.8 69.0L99.9 69.7L101.3 66.7L98.8 64.4ZM98.8 64.4L101.3 66.7L102.9 62.9L99.8 61.9ZM102.9 70.7L103.8 68.8L101.3 66.7L99.9 69.7ZM101.3 66.7L103.8 68.8L105.5 64.9L103.4 63.0L102.9 62.9ZM103.4 63.0L105.5 64.9L105.9 63.9ZM105.5 71.9L106.3 70.2L103.8 68.8L102.9 70.7ZM103.8 68.8L106.3 70.2L108.0 66.4L105.5 64.9ZM105.5 64.9L108.0 66.4L108.6 65.0L105.9 63.9ZM107.8 73.2L108.8 71.2L106.3 70.2L105.5 71.9ZM106.3 70.2L108.8 71.2L110.5 67.4L108.0 66.4ZM108.0 66.4L110.5 67.4L111.0 66.3L108.6 65.0ZM110.3 74.4L111.3 72.5L108.8 71.2L107.8 73.2ZM108.8 71.2L111.3 72.5L113.0 68.7L110.5 67.4ZM110.5 67.4L113.0 68.7L113.5 67.5L111.0 66.3ZM113.2 75.5L113.7 74.4L111.3 72.5L110.3 74.4ZM111.3 72.5L113.7 74.4L115.5 70.8L113.0 68.7ZM113.0 68.7L115.5 70.8L116.6 68.5L113.5 67.5ZM115.3 76.0L113.7 74.4L113.2 75.5ZM113.7 74.4L115.3 76.0L116.6 76.3L118.0 73.7L115.5 70.8ZM115.5 70.8L118.0 73.7L119.7 70.4L118.4 68.8L116.6 68.5ZM118.4 68.8L119.7 70.4L120.5 69.0ZM120.1 77.1L120.5 76.3L118.0 73.7L116.6 76.3ZM118.0 73.7L120.5 76.3L122.2 73.3L119.7 70.4ZM119.7 70.4L122.2 73.3L123.9 70.6L122.9 69.3L120.5 69.0ZM122.9 69.3L123.9 70.6L125.0 69.3ZM122.8 78.2L123.0 77.9L120.5 76.3L120.1 77.1ZM120.5 76.3L123.0 77.9L124.7 75.0L122.2 73.3ZM122.2 73.3L124.7 75.0L126.4 72.4L123.9 70.6ZM123.9 70.6L126.4 72.4L128.1 70.4L127.6 70.0L125.0 69.3ZM127.6 70.0L128.1 70.4L128.3 70.1ZM124.2 78.7L123.0 77.9L122.8 78.2ZM123.0 77.9L124.2 78.7L125.6 79.3L127.2 76.7L124.7 75.0ZM124.7 75.0L127.2 76.7L128.9 74.2L126.4 72.4ZM126.4 72.4L128.9 74.2L130.6 72.2L128.1 70.4ZM128.1 70.4L130.6 72.2L131.7 70.9L128.3 70.1ZM128.5 80.3L129.7 78.5L127.2 76.7L125.6 79.3ZM127.2 76.7L129.7 78.5L131.4 76.0L128.9 74.2ZM128.9 74.2L131.4 76.0L133.1 74.1L130.6 72.2ZM130.6 72.2L133.1 74.1L134.9 72.1L134.0 71.5L131.7 70.9ZM134.0 71.5L134.9 72.1L135.3 71.6ZM131.2 81.5L132.2 80.0L129.7 78.5L128.5 80.3ZM129.7 78.5L132.2 80.0L133.9 77.6L131.4 76.0ZM131.4 76.0L133.9 77.6L135.6 75.7L133.1 74.1ZM133.1 74.1L135.6 75.7L137.3 73.7L134.9 72.1ZM134.9 72.1L137.3 73.7L138.7 72.5L135.3 71.6ZM133.6 82.7L134.7 81.2L132.2 80.0L131.2 81.5ZM132.2 80.0L134.7 81.2L136.4 78.9L133.9 77.6ZM133.9 77.6L136.4 78.9L138.1 77.0L135.6 75.7ZM135.6 75.7L138.1 77.0L139.8 75.0L137.3 73.7ZM137.3 73.7L139.8 75.0L141.3 73.6L138.7 72.5ZM136.5 83.8L137.1 82.9L134.7 81.2L133.6 82.7ZM134.7 81.2L137.1 82.9L138.9 80.6L136.4 78.9ZM136.4 78.9L138.9 80.6L140.6 78.7L138.1 77.0ZM138.1 77.0L140.6 78.7L142.3 76.8L139.8 75.0ZM139.8 75.0L142.3 76.8L144.1 75.2L142.2 73.8L141.3 73.6ZM142.2 73.8L144.1 75.2L145.8 74.0L145.5 73.7ZM145.5 73.7L145.8 74.0L146.3 73.7ZM162.2 65.8L163.1 65.5L162.7 65.2Z"/><path class="s5" d="M76.9 51.0L78.1 47.4L76.7 49.7ZM76.7 49.7L78.1 47.4L78.9 44.7L78.8 43.7L77.3 46.5L76.6 48.7ZM77.3 46.5L78.8 43.7L79.0 42.2ZM79.0 52.4L80.6 47.9L78.1 47.4L76.9 51.0ZM78.1 47.4L80.6 47.9L81.2 46.0L78.9 44.7ZM81.6 53.7L83.1 49.4L80.6 47.9L79.0 52.4ZM80.6 47.9L83.1 49.4L83.9 47.2L81.2 46.0ZM84.0 54.9L85.6 50.8L83.1 49.4L81.6 53.7ZM83.1 49.4L85.6 50.8L86.5 48.4L83.9 47.2ZM86.3 56.3L86.3 56.2L86.0 56.1ZM86.0 56.1L86.3 56.2L88.1 51.7L85.6 50.8L84.0 54.9ZM85.6 50.8L88.1 51.7L88.9 49.7L86.5 48.4ZM86.7 56.4L86.3 56.2L86.3 56.3ZM86.3 56.2L86.7 56.4L89.0 57.4L90.6 53.5L88.1 51.7ZM88.1 51.7L90.6 53.5L91.6 50.8L88.9 49.7ZM91.7 58.5L93.1 55.2L90.6 53.5L89.0 57.4ZM90.6 53.5L93.1 55.2L94.3 51.9L91.6 50.8ZM94.3 59.7L95.5 56.7L93.1 55.2L91.7 58.5ZM93.1 55.2L95.5 56.7L97.0 53.1L94.3 51.9ZM97.0 60.8L98.0 58.4L95.5 56.7L94.3 59.7ZM95.5 56.7L98.0 58.4L99.7 54.2L97.0 53.1ZM99.8 61.9L100.5 60.3L98.0 58.4L97.0 60.8ZM98.0 58.4L100.5 60.3L102.3 56.0L100.1 54.3L99.7 54.2ZM100.1 54.3L102.3 56.0L102.7 55.2ZM102.9 62.9L103.0 62.7L100.5 60.3L99.8 61.9ZM100.5 60.3L103.0 62.7L104.8 58.6L102.3 56.0ZM102.3 56.0L104.8 58.6L106.1 56.0L102.7 55.2ZM103.4 63.0L103.0 62.7L102.9 62.9ZM103.0 62.7L103.4 63.0L105.9 63.9L107.2 60.8L104.8 58.6ZM104.8 58.6L107.2 60.8L109.0 57.4L108.0 56.6L106.1 56.0ZM108.0 56.6L109.0 57.4L109.4 56.9ZM108.6 65.0L109.7 62.5L107.2 60.8L105.9 63.9ZM107.2 60.8L109.7 62.5L111.5 59.1L109.0 57.4ZM109.0 57.4L111.5 59.1L112.4 57.8L109.4 56.9ZM111.0 66.3L112.2 63.5L109.7 62.5L108.6 65.0ZM109.7 62.5L112.2 63.5L114.0 60.3L111.5 59.1ZM111.5 59.1L114.0 60.3L114.8 59.1L112.4 57.8ZM113.5 67.5L114.7 65.0L112.2 63.5L111.0 66.3ZM112.2 63.5L114.7 65.0L116.4 61.8L114.0 60.3ZM114.0 60.3L116.4 61.8L117.6 60.2L114.8 59.1ZM116.6 68.5L117.2 67.3L114.7 65.0L113.5 67.5ZM114.7 65.0L117.2 67.3L118.9 64.2L116.4 61.8ZM116.4 61.8L118.9 64.2L120.7 62.0L119.1 60.4L117.6 60.2ZM119.1 60.4L120.7 62.0L121.6 60.7ZM118.4 68.8L117.2 67.3L116.6 68.5ZM117.2 67.3L118.4 68.8L120.5 69.0L121.4 67.5L118.9 64.2ZM118.9 64.2L121.4 67.5L123.2 65.4L120.7 62.0ZM120.7 62.0L123.2 65.4L124.9 63.2L123.1 60.7L121.6 60.7ZM123.1 60.7L124.9 63.2L126.6 61.4L125.9 60.4ZM125.9 60.4L126.6 61.4L128.4 60.1L128.1 59.8ZM128.1 59.8L128.4 60.1L129.5 59.3ZM141.4 53.5L142.2 53.2L142.0 53.0ZM142.0 53.0L142.2 53.2L143.9 52.7L143.5 52.0ZM143.5 52.0L143.9 52.7L145.7 52.1L144.9 51.0ZM122.9 69.3L121.4 67.5L120.5 69.0ZM121.4 67.5L122.9 69.3L125.0 69.3L125.7 68.5L123.2 65.4ZM123.2 65.4L125.7 68.5L127.4 66.4L124.9 63.2ZM124.9 63.2L127.4 66.4L129.1 64.7L126.6 61.4ZM126.6 61.4L129.1 64.7L130.8 63.4L128.4 60.1ZM128.4 60.1L130.8 63.4L132.6 62.3L130.2 59.1L129.5 59.3ZM130.2 59.1L132.6 62.3L134.3 61.2L132.3 58.4ZM132.3 58.4L134.3 61.2L136.0 60.3L134.0 57.6ZM134.0 57.6L136.0 60.3L137.8 59.5L135.7 56.7ZM135.7 56.7L137.8 59.5L139.5 58.7L137.4 55.8ZM137.4 55.8L139.5 58.7L141.2 57.9L139.1 55.0ZM139.1 55.0L141.2 57.9L143.0 57.1L140.6 54.0ZM140.6 54.0L143.0 57.1L144.7 56.6L142.2 53.2L141.4 53.5ZM142.2 53.2L144.7 56.6L146.4 56.0L143.9 52.7ZM143.9 52.7L146.4 56.0L148.1 55.4L145.7 52.1ZM127.6 70.0L125.7 68.5L125.0 69.3ZM125.7 68.5L127.6 70.0L128.3 70.1L129.9 68.3L127.4 66.4ZM127.4 66.4L129.9 68.3L131.6 66.6L129.1 64.7ZM129.1 64.7L131.6 66.6L133.3 65.3L130.8 63.4ZM130.8 63.4L133.3 65.3L135.1 64.2L132.6 62.3ZM132.6 62.3L135.1 64.2L136.8 63.1L134.3 61.2ZM134.3 61.2L136.8 63.1L138.5 62.2L136.0 60.3ZM136.0 60.3L138.5 62.2L140.3 61.4L137.8 59.5ZM137.8 59.5L140.3 61.4L142.0 60.6L139.5 58.7ZM139.5 58.7L142.0 60.6L143.7 59.7L141.2 57.9ZM141.2 57.9L143.7 59.7L145.4 59.0L143.0 57.1ZM143.0 57.1L145.4 59.0L147.2 58.4L144.7 56.6ZM144.7 56.6L147.2 58.4L148.9 57.8L146.4 56.0ZM146.4 56.0L148.9 57.8L150.6 57.2L148.1 55.4ZM131.7 70.9L132.4 70.2L129.9 68.3L128.3 70.1ZM129.9 68.3L132.4 70.2L134.1 68.5L131.6 66.6ZM131.6 66.6L134.1 68.5L135.8 67.3L133.3 65.3ZM133.3 65.3L135.8 67.3L137.6 66.1L135.1 64.2ZM135.1 64.2L137.6 66.1L139.3 65.0L136.8 63.1ZM136.8 63.1L139.3 65.0L141.0 64.1L138.5 62.2ZM138.5 62.2L141.0 64.1L142.8 63.3L140.3 61.4ZM140.3 61.4L142.8 63.3L144.5 62.5L142.0 60.6ZM142.0 60.6L144.5 62.5L146.2 61.7L143.7 59.7ZM143.7 59.7L146.2 61.7L147.9 60.9L145.4 59.0ZM145.4 59.0L147.9 60.9L149.7 60.3L147.2 58.4ZM147.2 58.4L149.7 60.3L151.4 59.7L148.9 57.8ZM148.9 57.8L151.4 59.7L153.1 59.0L150.6 57.2ZM134.0 71.5L132.4 70.2L131.7 70.9ZM132.4 70.2L134.0 71.5L135.3 71.6L136.6 70.4L134.1 68.5ZM134.1 68.5L136.6 70.4L138.3 69.2L135.8 67.3ZM135.8 67.3L138.3 69.2L140.0 68.1L137.6 66.1ZM137.6 66.1L140.0 68.1L141.8 67.0L139.3 65.0ZM139.3 65.0L141.8 67.0L143.5 66.1L141.0 64.1ZM141.0 64.1L143.5 66.1L145.2 65.2L142.8 63.3ZM142.8 63.3L145.2 65.2L147.0 64.4L144.5 62.5ZM144.5 62.5L147.0 64.4L148.7 63.6L146.2 61.7ZM146.2 61.7L148.7 63.6L150.4 62.8L147.9 60.9ZM147.9 60.9L150.4 62.8L152.2 62.2L149.7 60.3ZM149.7 60.3L152.2 62.2L153.9 61.6L151.4 59.7ZM151.4 59.7L153.9 61.6L155.6 60.9L153.1 59.0ZM138.7 72.5L139.1 72.1L136.6 70.4L135.3 71.6ZM136.6 70.4L139.1 72.1L140.8 70.9L138.3 69.2ZM138.3 69.2L140.8 70.9L142.5 69.7L140.0 68.1ZM140.0 68.1L142.5 69.7L144.3 68.7L141.8 67.0ZM141.8 67.0L144.3 68.7L146.0 67.8L143.5 66.1ZM143.5 66.1L146.0 67.8L147.7 66.9L145.2 65.2ZM145.2 65.2L147.7 66.9L149.5 66.1L147.0 64.4ZM147.0 64.4L149.5 66.1L151.2 65.3L148.7 63.6ZM148.7 63.6L151.2 65.3L152.9 64.5L150.4 62.8ZM150.4 62.8L152.9 64.5L154.7 63.8L152.2 62.2ZM152.2 62.2L154.7 63.8L156.4 63.2L153.9 61.6ZM153.9 61.6L156.4 63.2L158.1 62.5L155.6 60.9ZM141.3 73.6L141.6 73.4L139.1 72.1L138.7 72.5ZM139.1 72.1L141.6 73.4L143.3 72.2L140.8 70.9ZM140.8 70.9L143.3 72.2L145.0 71.0L142.5 69.7ZM142.5 69.7L145.0 71.0L146.8 70.0L144.3 68.7ZM144.3 68.7L146.8 70.0L148.5 69.1L146.0 67.8ZM146.0 67.8L148.5 69.1L150.2 68.2L147.7 66.9ZM147.7 66.9L150.2 68.2L152.0 67.4L149.5 66.1ZM149.5 66.1L152.0 67.4L153.7 66.5L151.2 65.3ZM151.2 65.3L153.7 66.5L155.4 65.8L152.9 64.5ZM152.9 64.5L155.4 65.8L157.1 65.1L154.7 63.8ZM154.7 63.8L157.1 65.1L158.9 64.4L156.4 63.2ZM156.4 63.2L158.9 64.4L160.6 63.8L158.1 62.5ZM142.2 73.8L141.6 73.4L141.3 73.6ZM141.6 73.4L142.2 73.8L145.5 73.7L143.3 72.2ZM143.3 72.2L145.5 73.7L146.3 73.7L147.5 72.9L145.0 71.0ZM145.0 71.0L147.5 72.9L149.3 71.8L146.8 70.0ZM146.8 70.0L149.3 71.8L151.0 70.9L148.5 69.1ZM148.5 69.1L151.0 70.9L152.7 70.0L150.2 68.2ZM150.2 68.2L152.7 70.0L154.4 69.2L152.0 67.4ZM152.0 67.4L154.4 69.2L156.2 68.3L153.7 66.5ZM153.7 66.5L156.2 68.3L157.9 67.6L155.4 65.8ZM155.4 65.8L157.9 67.6L159.6 66.9L157.1 65.1ZM157.1 65.1L159.6 66.9L161.4 66.2L158.9 64.4ZM158.9 64.4L161.4 66.2L162.2 65.8L162.7 65.2L160.6 63.8Z"/><path class="s6" d="M78.9 44.7L79.8 41.8L78.8 43.7ZM78.8 43.7L79.8 41.8L81.0 38.3L81.1 37.8L79.1 42.0L79.0 42.2ZM79.1 42.0L81.1 37.8L81.4 36.3L80.8 37.5ZM80.8 37.5L81.4 36.3L81.6 35.6ZM81.2 46.0L82.3 42.5L79.8 41.8L78.9 44.7ZM79.8 41.8L82.3 42.5L83.5 39.6L81.0 38.3ZM83.9 47.2L84.8 44.5L82.3 42.5L81.2 46.0ZM82.3 42.5L84.8 44.5L86.5 40.9L86.0 40.3L83.5 39.6ZM86.0 40.3L86.5 40.9L86.8 40.4ZM86.5 48.4L87.3 46.2L84.8 44.5L83.9 47.2ZM84.8 44.5L87.3 46.2L89.0 43.3L86.5 40.9ZM86.5 40.9L89.0 43.3L90.5 41.1L86.8 40.4ZM88.9 49.7L89.8 47.3L87.3 46.2L86.5 48.4ZM87.3 46.2L89.8 47.3L91.5 44.9L89.0 43.3ZM89.0 43.3L91.5 44.9L93.3 42.7L91.6 41.4L90.5 41.1ZM91.6 41.4L93.3 42.7L93.9 41.9ZM91.6 50.8L92.3 49.1L89.8 47.3L88.9 49.7ZM89.8 47.3L92.3 49.1L94.0 46.7L91.5 44.9ZM91.5 44.9L94.0 46.7L95.8 44.4L93.3 42.7ZM93.3 42.7L95.8 44.4L96.9 42.9L93.9 41.9ZM94.3 51.9L94.8 50.8L92.3 49.1L91.6 50.8ZM92.3 49.1L94.8 50.8L96.5 48.1L94.0 46.7ZM94.0 46.7L96.5 48.1L98.2 45.8L95.8 44.4ZM95.8 44.4L98.2 45.8L99.6 44.0L96.9 42.9ZM97.0 53.1L97.3 52.3L94.8 50.8L94.3 51.9ZM94.8 50.8L97.3 52.3L99.0 49.5L96.5 48.1ZM96.5 48.1L99.0 49.5L100.7 47.1L98.2 45.8ZM98.2 45.8L100.7 47.1L102.1 45.2L99.6 44.0ZM99.7 54.2L99.8 54.1L97.3 52.3L97.0 53.1ZM97.3 52.3L99.8 54.1L101.5 51.0L99.0 49.5ZM99.0 49.5L101.5 51.0L103.2 48.6L100.7 47.1ZM100.7 47.1L103.2 48.6L104.9 46.3L102.1 45.2ZM100.1 54.3L99.8 54.1L99.7 54.2ZM99.8 54.1L100.1 54.3L102.7 55.2L104.0 52.8L101.5 51.0ZM101.5 51.0L104.0 52.8L105.7 50.4L103.2 48.6ZM103.2 48.6L105.7 50.4L107.5 47.9L105.4 46.5L104.9 46.3ZM105.4 46.5L107.5 47.9L108.0 47.3ZM106.1 56.0L106.5 55.2L104.0 52.8L102.7 55.2ZM104.0 52.8L106.5 55.2L108.2 52.8L105.7 50.4ZM105.7 50.4L108.2 52.8L109.9 50.4L107.5 47.9ZM107.5 47.9L109.9 50.4L111.7 48.4L110.9 47.5L108.0 47.3ZM110.9 47.5L111.7 48.4L112.9 47.4ZM128.0 40.0L129.0 39.7L128.6 39.3ZM128.6 39.3L129.0 39.7L130.7 39.2L129.7 38.1ZM108.0 56.6L106.5 55.2L106.1 56.0ZM106.5 55.2L108.0 56.6L109.4 56.9L110.7 55.0L108.2 52.8ZM108.2 52.8L110.7 55.0L112.4 52.6L109.9 50.4ZM109.9 50.4L112.4 52.6L114.2 50.6L111.7 48.4ZM111.7 48.4L114.2 50.6L115.9 49.3L113.8 47.3L112.9 47.4ZM113.8 47.3L115.9 49.3L117.6 48.0L116.4 46.9ZM116.4 46.9L117.6 48.0L119.4 46.9L118.9 46.4ZM118.9 46.4L119.4 46.9L121.1 46.0L120.6 45.6ZM120.6 45.6L121.1 46.0L122.8 45.2L122.2 44.6ZM122.2 44.6L122.8 45.2L124.5 44.5L123.8 43.7ZM123.8 43.7L124.5 44.5L126.3 43.7L125.4 42.8ZM125.4 42.8L126.3 43.7L128.0 43.1L126.6 41.7ZM126.6 41.7L128.0 43.1L129.7 42.6L127.6 40.5ZM127.6 40.5L129.7 42.6L131.5 42.2L129.0 39.7L128.0 40.0ZM129.0 39.7L131.5 42.2L133.2 41.7L130.7 39.2ZM112.4 57.8L113.2 56.7L110.7 55.0L109.4 56.9ZM110.7 55.0L113.2 56.7L114.9 54.4L112.4 52.6ZM112.4 52.6L114.9 54.4L116.7 52.4L114.2 50.6ZM114.2 50.6L116.7 52.4L118.4 51.1L115.9 49.3ZM115.9 49.3L118.4 51.1L120.1 49.9L117.6 48.0ZM117.6 48.0L120.1 49.9L121.8 48.7L119.4 46.9ZM119.4 46.9L121.8 48.7L123.6 47.8L121.1 46.0ZM121.1 46.0L123.6 47.8L125.3 47.0L122.8 45.2ZM122.8 45.2L125.3 47.0L127.0 46.3L124.5 44.5ZM124.5 44.5L127.0 46.3L128.8 45.5L126.3 43.7ZM126.3 43.7L128.8 45.5L130.5 44.9L128.0 43.1ZM128.0 43.1L130.5 44.9L132.2 44.4L129.7 42.6ZM129.7 42.6L132.2 44.4L134.0 43.9L131.5 42.2ZM131.5 42.2L134.0 43.9L135.7 43.4L133.2 41.7ZM114.8 59.1L115.7 57.9L113.2 56.7L112.4 57.8ZM113.2 56.7L115.7 57.9L117.4 55.5L114.9 54.4ZM114.9 54.4L117.4 55.5L119.1 53.6L116.7 52.4ZM116.7 52.4L119.1 53.6L120.9 52.2L118.4 51.1ZM118.4 51.1L120.9 52.2L122.6 51.0L120.1 49.9ZM120.1 49.9L122.6 51.0L124.3 49.8L121.8 48.7ZM121.8 48.7L124.3 49.8L126.1 49.0L123.6 47.8ZM123.6 47.8L126.1 49.0L127.8 48.2L125.3 47.0ZM125.3 47.0L127.8 48.2L129.5 47.4L127.0 46.3ZM127.0 46.3L129.5 47.4L131.3 46.6L128.8 45.5ZM128.8 45.5L131.3 46.6L133.0 46.0L130.5 44.9ZM130.5 44.9L133.0 46.0L134.7 45.5L132.2 44.4ZM132.2 44.4L134.7 45.5L136.5 45.0L134.0 43.9ZM134.0 43.9L136.5 45.0L138.2 44.5L135.7 43.4ZM117.6 60.2L118.2 59.5L115.7 57.9L114.8 59.1ZM115.7 57.9L118.2 59.5L119.9 57.1L117.4 55.5ZM117.4 55.5L119.9 57.1L121.6 55.2L119.1 53.6ZM119.1 53.6L121.6 55.2L123.4 53.8L120.9 52.2ZM120.9 52.2L123.4 53.8L125.1 52.6L122.6 51.0ZM122.6 51.0L125.1 52.6L126.8 51.5L124.3 49.8ZM124.3 49.8L126.8 51.5L128.6 50.6L126.1 49.0ZM126.1 49.0L128.6 50.6L130.3 49.8L127.8 48.2ZM127.8 48.2L130.3 49.8L132.0 49.0L129.5 47.4ZM129.5 47.4L132.0 49.0L133.8 48.2L131.3 46.6ZM131.3 46.6L133.8 48.2L135.5 47.6L133.0 46.0ZM133.0 46.0L135.5 47.6L137.2 47.1L134.7 45.5ZM134.7 45.5L137.2 47.1L138.9 46.6L136.5 45.0ZM136.5 45.0L138.9 46.6L140.7 46.0L138.2 44.5ZM119.1 60.4L118.2 59.5L117.6 60.2ZM118.2 59.5L119.1 60.4L121.6 60.7L122.4 59.7L119.9 57.1ZM119.9 57.1L122.4 59.7L124.1 57.8L121.6 55.2ZM121.6 55.2L124.1 57.8L125.9 56.5L123.4 53.8ZM123.4 53.8L125.9 56.5L127.6 55.3L125.1 52.6ZM125.1 52.6L127.6 55.3L129.3 54.1L126.8 51.5ZM126.8 51.5L129.3 54.1L131.1 53.2L128.6 50.6ZM128.6 50.6L131.1 53.2L132.8 52.4L130.3 49.8ZM130.3 49.8L132.8 52.4L134.5 51.6L132.0 49.0ZM132.0 49.0L134.5 51.6L136.2 50.8L133.8 48.2ZM133.8 48.2L136.2 50.8L138.0 50.2L135.5 47.6ZM135.5 47.6L138.0 50.2L139.7 49.7L137.2 47.1ZM137.2 47.1L139.7 49.7L141.4 49.1L138.9 46.6ZM138.9 46.6L141.4 49.1L143.2 48.6L140.7 46.0ZM123.1 60.7L122.4 59.7L121.6 60.7ZM122.4 59.7L123.1 60.7L125.9 60.4L124.1 57.8ZM124.1 57.8L125.9 60.4L128.1 59.8L125.9 56.5ZM125.9 56.5L128.1 59.8L129.5 59.3L130.1 58.9L127.6 55.3ZM127.6 55.3L130.1 58.9L131.8 57.8L129.3 54.1ZM129.3 54.1L131.8 57.8L133.5 56.9L131.1 53.2ZM131.1 53.2L133.5 56.9L135.3 56.1L132.8 52.4ZM132.8 52.4L135.3 56.1L137.0 55.3L134.5 51.6ZM134.5 51.6L137.0 55.3L138.7 54.5L136.2 50.8ZM136.2 50.8L138.7 54.5L140.5 53.8L138.0 50.2ZM138.0 50.2L140.5 53.8L141.4 53.5L142.0 53.0L139.7 49.7ZM139.7 49.7L142.0 53.0L143.5 52.0L141.4 49.1ZM141.4 49.1L143.5 52.0L144.9 51.0L143.2 48.6ZM130.2 59.1L130.1 58.9L129.5 59.3ZM130.1 58.9L130.2 59.1L132.3 58.4L131.8 57.8ZM131.8 57.8L132.3 58.4L134.0 57.6L133.5 56.9ZM133.5 56.9L134.0 57.6L135.7 56.7L135.3 56.1ZM135.3 56.1L135.7 56.7L137.4 55.8L137.0 55.3ZM137.0 55.3L137.4 55.8L139.1 55.0L138.7 54.5ZM138.7 54.5L139.1 55.0L140.6 54.0L140.5 53.8ZM140.5 53.8L140.6 54.0L141.4 53.5Z"/><path class="s7" d="M81.0 38.3L81.6 36.8L81.1 37.8ZM81.1 37.8L81.6 36.8L83.3 32.7L81.4 36.3ZM81.4 36.3L83.3 32.7L83.8 31.7L84.0 30.5L82.5 33.3L81.6 35.6ZM82.5 33.3L84.0 30.5L84.4 29.0L84.3 29.2ZM84.3 29.2L84.4 29.0L84.4 28.9ZM83.5 39.6L84.1 38.1L81.6 36.8L81.0 38.3ZM81.6 36.8L84.1 38.1L85.8 34.6L83.3 32.7ZM83.3 32.7L85.8 34.6L86.7 32.7L83.8 31.7ZM86.0 40.3L84.1 38.1L83.5 39.6ZM84.1 38.1L86.0 40.3L86.8 40.4L88.3 37.8L85.8 34.6ZM85.8 34.6L88.3 37.8L90.0 34.8L88.8 32.9L86.7 32.7ZM88.8 32.9L90.0 34.8L91.1 33.0ZM90.5 41.1L90.8 40.7L88.3 37.8L86.8 40.4ZM88.3 37.8L90.8 40.7L92.5 38.0L90.0 34.8ZM90.0 34.8L92.5 38.0L94.2 35.4L92.5 33.1L91.1 33.0ZM92.5 33.1L94.2 35.4L96.0 33.1L95.9 33.0ZM95.9 33.0L96.0 33.1L96.1 33.0ZM91.6 41.4L90.8 40.7L90.5 41.1ZM90.8 40.7L91.6 41.4L93.9 41.9L95.0 40.3L92.5 38.0ZM92.5 38.0L95.0 40.3L96.7 38.0L94.2 35.4ZM94.2 35.4L96.7 38.0L98.5 35.7L96.0 33.1ZM96.0 33.1L98.5 35.7L100.2 34.4L98.6 32.7L96.1 33.0ZM98.6 32.7L100.2 34.4L101.9 33.2L101.0 32.1ZM101.0 32.1L101.9 33.2L103.6 32.1L103.1 31.5ZM103.1 31.5L103.6 32.1L105.4 31.0L105.3 30.9ZM105.3 30.9L105.4 31.0L107.1 30.1L107.0 30.0ZM107.0 30.0L107.1 30.1L108.8 29.4L108.6 29.1ZM108.6 29.1L108.8 29.4L110.6 28.7L110.1 28.1ZM110.1 28.1L110.6 28.7L112.3 28.1L111.4 27.1ZM111.4 27.1L112.3 28.1L114.0 27.7L112.6 26.0ZM112.6 26.0L114.0 27.7L115.8 27.2L113.9 24.9ZM96.9 42.9L97.5 42.0L95.0 40.3L93.9 41.9ZM95.0 40.3L97.5 42.0L99.2 39.7L96.7 38.0ZM96.7 38.0L99.2 39.7L100.9 37.6L98.5 35.7ZM98.5 35.7L100.9 37.6L102.7 36.3L100.2 34.4ZM100.2 34.4L102.7 36.3L104.4 35.1L101.9 33.2ZM101.9 33.2L104.4 35.1L106.1 34.1L103.6 32.1ZM103.6 32.1L106.1 34.1L107.9 33.0L105.4 31.0ZM105.4 31.0L107.9 33.0L109.6 32.1L107.1 30.1ZM107.1 30.1L109.6 32.1L111.3 31.4L108.8 29.4ZM108.8 29.4L111.3 31.4L113.1 30.7L110.6 28.7ZM110.6 28.7L113.1 30.7L114.8 30.2L112.3 28.1ZM112.3 28.1L114.8 30.2L116.5 29.8L114.0 27.7ZM114.0 27.7L116.5 29.8L118.2 29.3L115.8 27.2ZM99.6 44.0L100.0 43.4L97.5 42.0L96.9 42.9ZM97.5 42.0L100.0 43.4L101.7 41.2L99.2 39.7ZM99.2 39.7L101.7 41.2L103.4 39.2L100.9 37.6ZM100.9 37.6L103.4 39.2L105.2 37.9L102.7 36.3ZM102.7 36.3L105.2 37.9L106.9 36.7L104.4 35.1ZM104.4 35.1L106.9 36.7L108.6 35.7L106.1 34.1ZM106.1 34.1L108.6 35.7L110.4 34.7L107.9 33.0ZM107.9 33.0L110.4 34.7L112.1 33.8L109.6 32.1ZM109.6 32.1L112.1 33.8L113.8 33.1L111.3 31.4ZM111.3 31.4L113.8 33.1L115.5 32.4L113.1 30.7ZM113.1 30.7L115.5 32.4L117.3 31.9L114.8 30.2ZM114.8 30.2L117.3 31.9L119.0 31.5L116.5 29.8ZM116.5 29.8L119.0 31.5L120.7 31.0L118.2 29.3ZM102.1 45.2L102.5 44.7L100.0 43.4L99.6 44.0ZM100.0 43.4L102.5 44.7L104.2 42.5L101.7 41.2ZM101.7 41.2L104.2 42.5L105.9 40.6L103.4 39.2ZM103.4 39.2L105.9 40.6L107.7 39.3L105.2 37.9ZM105.2 37.9L107.7 39.3L109.4 38.1L106.9 36.7ZM106.9 36.7L109.4 38.1L111.1 37.1L108.6 35.7ZM108.6 35.7L111.1 37.1L112.8 36.2L110.4 34.7ZM110.4 34.7L112.8 36.2L114.6 35.4L112.1 33.8ZM112.1 33.8L114.6 35.4L116.3 34.6L113.8 33.1ZM113.8 33.1L116.3 34.6L118.0 34.0L115.5 32.4ZM115.5 32.4L118.0 34.0L119.8 33.5L117.3 31.9ZM117.3 31.9L119.8 33.5L121.5 33.0L119.0 31.5ZM119.0 31.5L121.5 33.0L123.2 32.6L120.7 31.0ZM104.9 46.3L105.0 46.2L102.5 44.7L102.1 45.2ZM102.5 44.7L105.0 46.2L106.7 44.0L104.2 42.5ZM104.2 42.5L106.7 44.0L108.4 42.3L105.9 40.6ZM105.9 40.6L108.4 42.3L110.1 41.0L107.7 39.3ZM107.7 39.3L110.1 41.0L111.9 39.8L109.4 38.1ZM109.4 38.1L111.9 39.8L113.6 38.9L111.1 37.1ZM111.1 37.1L113.6 38.9L115.3 38.0L112.8 36.2ZM112.8 36.2L115.3 38.0L117.1 37.2L114.6 35.4ZM114.6 35.4L117.1 37.2L118.8 36.4L116.3 34.6ZM116.3 34.6L118.8 36.4L120.5 35.8L118.0 34.0ZM118.0 34.0L120.5 35.8L122.3 35.3L119.8 33.5ZM119.8 33.5L122.3 35.3L124.0 34.9L121.5 33.0ZM121.5 33.0L124.0 34.9L125.7 34.4L123.2 32.6ZM105.4 46.5L105.0 46.2L104.9 46.3ZM105.0 46.2L105.4 46.5L108.0 47.3L109.2 45.8L106.7 44.0ZM106.7 44.0L109.2 45.8L110.9 44.2L108.4 42.3ZM108.4 42.3L110.9 44.2L112.6 42.9L110.1 41.0ZM110.1 41.0L112.6 42.9L114.4 41.8L111.9 39.8ZM111.9 39.8L114.4 41.8L116.1 40.8L113.6 38.9ZM113.6 38.9L116.1 40.8L117.8 40.0L115.3 38.0ZM115.3 38.0L117.8 40.0L119.6 39.2L117.1 37.2ZM117.1 37.2L119.6 39.2L121.3 38.4L118.8 36.4ZM118.8 36.4L121.3 38.4L123.0 37.8L120.5 35.8ZM120.5 35.8L123.0 37.8L124.8 37.3L122.3 35.3ZM122.3 35.3L124.8 37.3L126.5 36.9L124.0 34.9ZM124.0 34.9L126.5 36.9L128.2 36.4L125.7 34.4ZM110.9 47.5L109.2 45.8L108.0 47.3ZM109.2 45.8L110.9 47.5L112.9 47.4L113.4 46.9L110.9 44.2ZM110.9 44.2L113.4 46.9L115.1 45.6L112.6 42.9ZM112.6 42.9L115.1 45.6L116.9 44.5L114.4 41.8ZM114.4 41.8L116.9 44.5L118.6 43.6L116.1 40.8ZM116.1 40.8L118.6 43.6L120.3 42.8L117.8 40.0ZM117.8 40.0L120.3 42.8L122.1 42.0L119.6 39.2ZM119.6 39.2L122.1 42.0L123.8 41.2L121.3 38.4ZM121.3 38.4L123.8 41.2L125.5 40.6L123.0 37.8ZM123.0 37.8L125.5 40.6L127.2 40.1L124.8 37.3ZM124.8 37.3L127.2 40.1L128.0 40.0L128.6 39.3L126.5 36.9ZM126.5 36.9L128.6 39.3L129.7 38.1L128.2 36.4ZM113.8 47.3L113.4 46.9L112.9 47.4ZM113.4 46.9L113.8 47.3L116.4 46.9L115.1 45.6ZM115.1 45.6L116.4 46.9L118.9 46.4L116.9 44.5ZM116.9 44.5L118.9 46.4L120.6 45.6L118.6 43.6ZM118.6 43.6L120.6 45.6L122.2 44.6L120.3 42.8ZM120.3 42.8L122.2 44.6L123.8 43.7L122.1 42.0ZM122.1 42.0L123.8 43.7L125.4 42.8L123.8 41.2ZM123.8 41.2L125.4 42.8L126.6 41.7L125.5 40.6ZM125.5 40.6L126.6 41.7L127.6 40.5L127.2 40.1ZM127.2 40.1L127.6 40.5L128.0 40.0Z"/><path class="s8" d="M83.8 31.7L85.0 28.7L84.0 30.5ZM84.0 30.5L85.0 28.7L86.8 25.1L84.4 29.0ZM84.4 29.0L86.8 25.1L87.0 24.7L87.4 23.5L86.0 25.1L84.4 28.9ZM86.0 25.1L87.4 23.5L88.3 22.2L87.7 22.8ZM87.7 22.8L88.3 22.2L89.2 21.2ZM86.7 32.7L87.5 31.0L85.0 28.7L83.8 31.7ZM85.0 28.7L87.5 31.0L89.2 27.9L86.8 25.1ZM86.8 25.1L89.2 27.9L91.0 25.6L90.6 25.0L87.0 24.7ZM90.6 25.0L91.0 25.6L91.5 25.0ZM88.8 32.9L87.5 31.0L86.7 32.7ZM87.5 31.0L88.8 32.9L91.1 33.0L91.7 32.0L89.2 27.9ZM89.2 27.9L91.7 32.0L93.5 29.6L91.0 25.6ZM91.0 25.6L93.5 29.6L95.2 28.0L93.3 24.7L91.5 25.0ZM93.3 24.7L95.2 28.0L96.9 26.5L95.7 24.2ZM95.7 24.2L96.9 26.5L98.7 25.3L97.6 23.4ZM97.6 23.4L98.7 25.3L100.4 24.3L99.5 22.7ZM99.5 22.7L100.4 24.3L102.1 23.3L101.3 21.8ZM101.3 21.8L102.1 23.3L103.9 22.5L103.0 21.0ZM103.0 21.0L103.9 22.5L105.6 21.7L104.7 20.1ZM104.7 20.1L105.6 21.7L107.3 21.1L106.3 19.2ZM106.3 19.2L107.3 21.1L109.0 20.6L107.8 18.3ZM107.8 18.3L109.0 20.6L110.8 20.0L109.4 17.3ZM92.5 33.1L91.7 32.0L91.1 33.0ZM91.7 32.0L92.5 33.1L95.9 33.0L93.5 29.6ZM93.5 29.6L95.9 33.0L96.1 33.0L97.7 31.7L95.2 28.0ZM95.2 28.0L97.7 31.7L99.4 30.4L96.9 26.5ZM96.9 26.5L99.4 30.4L101.2 29.2L98.7 25.3ZM98.7 25.3L101.2 29.2L102.9 28.1L100.4 24.3ZM100.4 24.3L102.9 28.1L104.6 27.2L102.1 23.3ZM102.1 23.3L104.6 27.2L106.3 26.5L103.9 22.5ZM103.9 22.5L106.3 26.5L108.1 25.7L105.6 21.7ZM105.6 21.7L108.1 25.7L109.8 25.2L107.3 21.1ZM107.3 21.1L109.8 25.2L111.5 24.7L109.0 20.6ZM109.0 20.6L111.5 24.7L113.3 24.1L110.8 20.0ZM98.6 32.7L97.7 31.7L96.1 33.0ZM97.7 31.7L98.6 32.7L101.0 32.1L99.4 30.4ZM99.4 30.4L101.0 32.1L103.1 31.5L101.2 29.2ZM101.2 29.2L103.1 31.5L105.3 30.9L102.9 28.1ZM102.9 28.1L105.3 30.9L107.0 30.0L104.6 27.2ZM104.6 27.2L107.0 30.0L108.6 29.1L106.3 26.5ZM106.3 26.5L108.6 29.1L110.1 28.1L108.1 25.7ZM108.1 25.7L110.1 28.1L111.4 27.1L109.8 25.2ZM109.8 25.2L111.4 27.1L112.6 26.0L111.5 24.7ZM111.5 24.7L112.6 26.0L113.9 24.9L113.3 24.1Z"/><path class="s9" d="M87.0 24.7L88.5 22.4L87.4 23.5ZM87.4 23.5L88.5 22.4L90.2 20.2L88.3 22.2ZM88.3 22.2L90.2 20.2L91.9 18.3L89.5 20.9L89.2 21.2ZM89.5 20.9L91.9 18.3L93.7 17.0L91.2 19.0ZM91.2 19.0L93.7 17.0L95.4 15.8L92.9 17.1ZM92.9 17.1L95.4 15.8L97.1 14.7L94.6 15.6ZM94.6 15.6L97.1 14.7L98.9 13.7L96.4 14.4ZM96.4 14.4L98.9 13.7L100.6 12.7L98.1 13.1ZM98.1 13.1L100.6 12.7L102.3 12.0L99.8 12.1ZM99.8 12.1L102.3 12.0L104.1 11.3L101.6 11.2ZM101.6 11.2L104.1 11.3L105.8 10.5L103.3 10.2ZM90.6 25.0L88.5 22.4L87.0 24.7ZM88.5 22.4L90.6 25.0L91.5 25.0L92.7 23.7L90.2 20.2ZM90.2 20.2L92.7 23.7L94.4 22.0L91.9 18.3ZM91.9 18.3L94.4 22.0L96.2 20.8L93.7 17.0ZM93.7 17.0L96.2 20.8L97.9 19.8L95.4 15.8ZM95.4 15.8L97.9 19.8L99.6 18.8L97.1 14.7ZM97.1 14.7L99.6 18.8L101.4 17.9L98.9 13.7ZM98.9 13.7L101.4 17.9L103.1 17.1L100.6 12.7ZM100.6 12.7L103.1 17.1L104.8 16.4L102.3 12.0ZM102.3 12.0L104.8 16.4L106.6 15.8L104.1 11.3ZM104.1 11.3L106.6 15.8L108.3 15.2L105.8 10.5ZM93.3 24.7L92.7 23.7L91.5 25.0ZM92.7 23.7L93.3 24.7L95.7 24.2L94.4 22.0ZM94.4 22.0L95.7 24.2L97.6 23.4L96.2 20.8ZM96.2 20.8L97.6 23.4L99.5 22.7L97.9 19.8ZM97.9 19.8L99.5 22.7L101.3 21.8L99.6 18.8ZM99.6 18.8L101.3 21.8L103.0 21.0L101.4 17.9ZM101.4 17.9L103.0 21.0L104.7 20.1L103.1 17.1ZM103.1 17.1L104.7 20.1L106.3 19.2L104.8 16.4ZM104.8 16.4L106.3 19.2L107.8 18.3L106.6 15.8ZM106.6 15.8L107.8 18.3L109.4 17.3L108.3 15.2Z"/>
<path d="M41.0 92.3L43.5 93.5L46.0 94.7L48.5 96.0L51.0 97.2L53.5 98.5L56.0 99.7L58.4 100.9L60.9 102.2L63.4 103.4L65.9 104.6L68.4 105.9L70.9 107.1L73.4 108.4L75.9 109.6L78.4 110.8L80.9 112.1L83.4 113.4L85.8 114.6L88.3 115.9L90.8 117.1L93.3 118.4L95.8 119.6L98.3 120.9L100.8 122.1M42.7 91.3L45.2 92.4L47.7 93.6L50.2 94.8L52.7 96.1L55.2 97.3L57.7 98.5L60.2 99.8L62.7 101.0L65.2 102.2L67.6 103.5L70.1 104.7L72.6 106.0L75.1 107.2L77.6 108.4L80.1 109.7L82.6 111.0L85.1 112.3L87.6 113.5L90.1 114.8L92.6 116.0L95.1 117.3L97.5 118.5L100.0 119.8L102.5 121.0M44.5 90.3L47.0 91.2L49.4 92.4L51.9 93.6L54.4 94.9L56.9 96.1L59.4 97.3L61.9 98.5L64.4 99.8L66.9 101.0L69.4 102.2L71.9 103.5L74.4 104.8L76.9 106.0L79.3 107.2L81.8 108.5L84.3 109.7L86.8 111.1L89.3 112.4L91.8 113.6L94.3 114.9L96.8 116.1L99.3 117.4L101.8 118.6L104.3 119.9M46.2 89.2L48.7 90.0L51.2 91.1L53.7 92.4L56.2 93.6L58.7 94.9L61.1 96.1L63.6 97.3L66.1 98.5L68.6 99.8L71.1 101.0L73.6 102.3L76.1 103.5L78.6 104.8L81.1 106.0L83.6 107.3L86.1 108.5L88.5 109.9L91.0 111.2L93.5 112.5L96.0 113.7L98.5 115.0L101.0 116.2L103.5 117.5L106.0 118.7M47.9 88.1L50.4 88.8L52.9 89.9L55.4 91.2L57.9 92.4L60.4 93.7L62.9 94.9L65.4 96.1L67.9 97.3L70.3 98.5L72.8 99.8L75.3 101.0L77.8 102.3L80.3 103.6L82.8 104.8L85.3 106.0L87.8 107.3L90.3 108.7L92.8 110.0L95.3 111.3L97.8 112.6L100.2 113.8L102.7 115.1L105.2 116.3L107.7 117.6M49.7 86.9L52.1 87.6L54.6 88.7L57.1 90.0L59.6 91.2L62.1 92.4L64.6 93.7L67.1 94.9L69.6 96.1L72.1 97.3L74.6 98.5L77.1 99.8L79.6 101.1L82.0 102.4L84.5 103.6L87.0 104.8L89.5 106.1L92.0 107.5L94.5 108.9L97.0 110.1L99.5 111.4L102.0 112.7L104.5 113.9L107.0 115.2L109.5 116.4M51.4 85.6L53.9 86.3L56.4 87.5L58.9 88.8L61.4 90.0L63.8 91.2L66.3 92.4L68.8 93.7L71.3 94.8L73.8 96.1L76.3 97.3L78.8 98.6L81.3 99.9L83.8 101.1L86.3 102.3L88.8 103.6L91.2 104.9L93.7 106.3L96.2 107.7L98.7 109.0L101.2 110.3L103.7 111.5L106.2 112.8L108.7 114.0L111.2 115.3M53.1 84.4L55.6 85.1L58.1 86.3L60.6 87.5L63.1 88.8L65.6 90.0L68.1 91.2L70.6 92.4L73.0 93.6L75.5 94.8L78.0 96.1L80.5 97.4L83.0 98.7L85.5 99.9L88.0 101.1L90.5 102.4L93.0 103.7L95.5 105.1L98.0 106.5L100.5 107.8L102.9 109.1L105.4 110.4L107.9 111.6L110.4 112.9L112.9 114.1M54.8 83.1L57.3 83.9L59.8 85.1L62.3 86.3L64.8 87.6L67.3 88.8L69.8 90.0L72.3 91.2L74.8 92.4L77.3 93.6L79.8 94.8L82.3 96.2L84.7 97.4L87.2 98.7L89.7 99.9L92.2 101.2L94.7 102.5L97.2 104.0L99.7 105.4L102.2 106.7L104.7 107.9L107.2 109.2L109.7 110.5L112.2 111.7L114.6 113.0M56.6 81.7L59.1 82.3L61.6 83.4L64.0 84.7L66.5 86.0L69.0 87.2L71.5 88.4L74.0 89.6L76.5 90.8L79.0 92.0L81.5 93.2L84.0 94.6L86.5 95.9L89.0 97.1L91.5 98.3L94.0 99.6L96.4 101.0L98.9 102.5L101.4 103.9L103.9 105.2L106.4 106.5L108.9 107.8L111.4 109.1L113.9 110.3L116.4 111.6M58.3 80.2L60.8 80.6L63.3 81.8L65.8 83.0L68.3 84.3L70.8 85.5L73.3 86.7L75.7 87.9L78.2 89.1L80.7 90.3L83.2 91.6L85.7 92.9L88.2 94.3L90.7 95.5L93.2 96.7L95.7 98.0L98.2 99.4L100.7 100.9L103.2 102.5L105.6 103.8L108.1 105.1L110.6 106.4L113.1 107.7L115.6 108.9L118.1 110.2M60.0 78.7L62.5 79.0L65.0 80.1L67.5 81.4L70.0 82.6L72.5 83.8L75.0 85.0L77.5 86.2L80.0 87.4L82.5 88.6L85.0 89.9L87.4 91.3L89.9 92.6L92.4 93.9L94.9 95.1L97.4 96.4L99.9 97.8L102.4 99.4L104.9 101.0L107.4 102.3L109.9 103.6L112.4 104.9L114.9 106.2L117.3 107.5L119.8 108.8M61.8 77.2L64.3 77.4L66.8 78.4L69.2 79.7L71.7 81.0L74.2 82.1L76.7 83.3L79.2 84.6L81.7 85.7L84.2 87.0L86.7 88.2L89.2 89.7L91.7 91.0L94.2 92.3L96.6 93.5L99.1 94.8L101.6 96.3L104.1 97.9L106.6 99.5L109.1 100.8L111.6 102.2L114.1 103.5L116.6 104.8L119.1 106.0L121.6 107.3M63.5 75.1L66.0 74.8L68.5 75.7L71.0 77.0L73.5 78.2L76.0 79.3L78.4 80.6L80.9 81.8L83.4 83.0L85.9 84.3L88.4 85.6L90.9 87.1L93.4 88.6L95.9 89.9L98.4 91.1L100.9 92.3L103.4 93.9L105.9 95.6L108.3 97.3L110.8 98.7L113.3 100.0L115.8 101.4L118.3 102.7L120.8 103.9L123.3 105.3M65.2 72.6L67.7 71.8L70.2 72.6L72.7 73.8L75.2 75.0L77.7 76.0L80.2 77.4L82.7 78.7L85.2 79.9L87.7 81.2L90.1 82.6L92.6 84.2L95.1 85.7L97.6 87.1L100.1 88.2L102.6 89.5L105.1 91.1L107.6 93.0L110.1 94.8L112.6 96.2L115.1 97.6L117.6 99.0L120.0 100.3L122.5 101.5L125.0 102.9M67.0 70.1L69.5 68.8L71.9 69.5L74.4 70.6L76.9 71.8L79.4 72.7L81.9 74.1L84.4 75.4L86.9 76.7L89.4 78.1L91.9 79.6L94.4 81.3L96.9 82.9L99.3 84.2L101.8 85.4L104.3 86.7L106.8 88.4L109.3 90.3L111.8 92.3L114.3 93.7L116.8 95.1L119.3 96.5L121.8 97.9L124.3 99.1L126.8 100.5M68.7 66.9L71.2 64.9L73.7 65.5L76.2 66.7L78.7 67.9L81.1 68.8L83.6 70.2L86.1 71.6L88.6 72.9L91.1 74.3L93.6 75.8L96.1 77.7L98.6 79.3L101.1 80.8L103.6 81.9L106.1 83.2L108.6 85.0L111.0 87.1L113.5 89.2L116.0 90.7L118.5 92.1L121.0 93.6L123.5 95.0L126.0 96.2L128.5 97.6M70.4 63.7L72.9 61.1L75.4 61.5L77.9 62.8L80.4 64.0L82.9 64.9L85.4 66.4L87.9 67.8L90.4 69.1L92.8 70.5L95.3 72.1L97.8 74.0L100.3 75.8L102.8 77.3L105.3 78.4L107.8 79.7L110.3 81.6L112.8 83.9L115.3 86.2L117.8 87.7L120.3 89.2L122.7 90.7L125.2 92.1L127.7 93.3L130.2 94.8M72.2 60.1L74.6 57.0L77.1 57.4L79.6 58.7L82.1 59.9L84.6 60.7L87.1 62.3L89.6 63.8L92.1 65.2L94.6 66.7L97.1 68.4L99.6 70.5L102.1 72.4L104.5 73.8L107.0 74.9L109.5 76.2L112.0 78.1L114.5 80.6L117.0 82.9L119.5 84.4L122.0 86.0L124.5 87.5L127.0 88.9L129.5 90.1L131.9 91.6M73.9 56.2L76.4 52.6L78.9 52.9L81.4 54.2L83.8 55.4L86.3 56.2L88.8 57.9L91.3 59.5L93.8 61.0L96.3 62.6L98.8 64.4L101.3 66.7L103.8 68.8L106.3 70.2L108.8 71.2L111.3 72.5L113.7 74.4L116.2 77.0L118.7 79.5L121.2 81.0L123.7 82.5L126.2 84.1L128.7 85.4L131.2 86.6L133.7 88.0M75.6 51.4L78.1 47.4L80.6 47.9L83.1 49.4L85.6 50.8L88.1 51.7L90.6 53.5L93.1 55.2L95.5 56.7L98.0 58.4L100.5 60.3L103.0 62.7L105.5 64.9L108.0 66.4L110.5 67.4L113.0 68.7L115.5 70.8L118.0 73.7L120.5 76.3L123.0 77.9L125.4 79.5L127.9 81.2L130.4 82.6L132.9 83.8L135.4 85.3M77.3 46.5L79.8 41.8L82.3 42.5L84.8 44.5L87.3 46.2L89.8 47.3L92.3 49.1L94.8 50.8L97.3 52.3L99.8 54.1L102.3 56.0L104.8 58.6L107.2 60.8L109.7 62.5L112.2 63.5L114.7 65.0L117.2 67.3L119.7 70.4L122.2 73.3L124.7 75.0L127.2 76.7L129.7 78.5L132.2 80.0L134.7 81.2L137.1 82.9M79.1 42.0L81.6 36.8L84.1 38.1L86.5 40.9L89.0 43.3L91.5 44.9L94.0 46.7L96.5 48.1L99.0 49.5L101.5 51.0L104.0 52.8L106.5 55.2L109.0 57.4L111.5 59.1L114.0 60.3L116.4 61.8L118.9 64.2L121.4 67.5L123.9 70.6L126.4 72.4L128.9 74.2L131.4 76.0L133.9 77.6L136.4 78.9L138.9 80.6M80.8 37.5L83.3 32.7L85.8 34.6L88.3 37.8L90.8 40.7L93.3 42.7L95.8 44.4L98.2 45.8L100.7 47.1L103.2 48.6L105.7 50.4L108.2 52.8L110.7 55.0L113.2 56.7L115.7 57.9L118.2 59.5L120.7 62.0L123.2 65.4L125.7 68.5L128.1 70.4L130.6 72.2L133.1 74.1L135.6 75.7L138.1 77.0L140.6 78.7M82.5 33.3L85.0 28.7L87.5 31.0L90.0 34.8L92.5 38.0L95.0 40.3L97.5 42.0L100.0 43.4L102.5 44.7L105.0 46.2L107.5 47.9L109.9 50.4L112.4 52.6L114.9 54.4L117.4 55.5L119.9 57.1L122.4 59.7L124.9 63.2L127.4 66.4L129.9 68.3L132.4 70.2L134.9 72.1L137.3 73.7L139.8 75.0L142.3 76.8M84.3 29.2L86.8 25.1L89.2 27.9L91.7 32.0L94.2 35.4L96.7 38.0L99.2 39.7L101.7 41.2L104.2 42.5L106.7 44.0L109.2 45.8L111.7 48.4L114.2 50.6L116.7 52.4L119.1 53.6L121.6 55.2L124.1 57.8L126.6 61.4L129.1 64.7L131.6 66.6L134.1 68.5L136.6 70.4L139.1 72.1L141.6 73.4L144.1 75.2M86.0 25.1L88.5 22.4L91.0 25.6L93.5 29.6L96.0 33.1L98.5 35.7L100.9 37.6L103.4 39.2L105.9 40.6L108.4 42.3L110.9 44.2L113.4 46.9L115.9 49.3L118.4 51.1L120.9 52.2L123.4 53.8L125.9 56.5L128.4 60.1L130.8 63.4L133.3 65.3L135.8 67.3L138.3 69.2L140.8 70.9L143.3 72.2L145.8 74.0M87.7 22.8L90.2 20.2L92.7 23.7L95.2 28.0L97.7 31.7L100.2 34.4L102.7 36.3L105.2 37.9L107.7 39.3L110.1 41.0L112.6 42.9L115.1 45.6L117.6 48.0L120.1 49.9L122.6 51.0L125.1 52.6L127.6 55.3L130.1 58.9L132.6 62.3L135.1 64.2L137.6 66.1L140.0 68.1L142.5 69.7L145.0 71.0L147.5 72.9M89.5 20.9L91.9 18.3L94.4 22.0L96.9 26.5L99.4 30.4L101.9 33.2L104.4 35.1L106.9 36.7L109.4 38.1L111.9 39.8L114.4 41.8L116.9 44.5L119.4 46.9L121.8 48.7L124.3 49.8L126.8 51.5L129.3 54.1L131.8 57.8L134.3 61.2L136.8 63.1L139.3 65.0L141.8 67.0L144.3 68.7L146.8 70.0L149.3 71.8M91.2 19.0L93.7 17.0L96.2 20.8L98.7 25.3L101.2 29.2L103.6 32.1L106.1 34.1L108.6 35.7L111.1 37.1L113.6 38.9L116.1 40.8L118.6 43.6L121.1 46.0L123.6 47.8L126.1 49.0L128.6 50.6L131.1 53.2L133.5 56.9L136.0 60.3L138.5 62.2L141.0 64.1L143.5 66.1L146.0 67.8L148.5 69.1L151.0 70.9M92.9 17.1L95.4 15.8L97.9 19.8L100.4 24.3L102.9 28.1L105.4 31.0L107.9 33.0L110.4 34.7L112.8 36.2L115.3 38.0L117.8 40.0L120.3 42.8L122.8 45.2L125.3 47.0L127.8 48.2L130.3 49.8L132.8 52.4L135.3 56.1L137.8 59.5L140.3 61.4L142.8 63.3L145.2 65.2L147.7 66.9L150.2 68.2L152.7 70.0M94.6 15.6L97.1 14.7L99.6 18.8L102.1 23.3L104.6 27.2L107.1 30.1L109.6 32.1L112.1 33.8L114.6 35.4L117.1 37.2L119.6 39.2L122.1 42.0L124.5 44.5L127.0 46.3L129.5 47.4L132.0 49.0L134.5 51.6L137.0 55.3L139.5 58.7L142.0 60.6L144.5 62.5L147.0 64.4L149.5 66.1L152.0 67.4L154.4 69.2M96.4 14.4L98.9 13.7L101.4 17.9L103.9 22.5L106.3 26.5L108.8 29.4L111.3 31.4L113.8 33.1L116.3 34.6L118.8 36.4L121.3 38.4L123.8 41.2L126.3 43.7L128.8 45.5L131.3 46.6L133.8 48.2L136.2 50.8L138.7 54.5L141.2 57.9L143.7 59.7L146.2 61.7L148.7 63.6L151.2 65.3L153.7 66.5L156.2 68.3M98.1 13.1L100.6 12.7L103.1 17.1L105.6 21.7L108.1 25.7L110.6 28.7L113.1 30.7L115.5 32.4L118.0 34.0L120.5 35.8L123.0 37.8L125.5 40.6L128.0 43.1L130.5 44.9L133.0 46.0L135.5 47.6L138.0 50.2L140.5 53.8L143.0 57.1L145.4 59.0L147.9 60.9L150.4 62.8L152.9 64.5L155.4 65.8L157.9 67.6M99.8 12.1L102.3 12.0L104.8 16.4L107.3 21.1L109.8 25.2L112.3 28.1L114.8 30.2L117.3 31.9L119.8 33.5L122.3 35.3L124.8 37.3L127.2 40.1L129.7 42.6L132.2 44.4L134.7 45.5L137.2 47.1L139.7 49.7L142.2 53.2L144.7 56.6L147.2 58.4L149.7 60.3L152.2 62.2L154.7 63.8L157.1 65.1L159.6 66.9M101.6 11.2L104.1 11.3L106.6 15.8L109.0 20.6L111.5 24.7L114.0 27.7L116.5 29.8L119.0 31.5L121.5 33.0L124.0 34.9L126.5 36.9L129.0 39.7L131.5 42.2L134.0 43.9L136.5 45.0L138.9 46.6L141.4 49.1L143.9 52.7L146.4 56.0L148.9 57.8L151.4 59.7L153.9 61.6L156.4 63.2L158.9 64.4L161.4 66.2M103.3 10.2L105.8 10.5L108.3 15.2L110.8 20.0L113.3 24.1L115.8 27.2L118.2 29.3L120.7 31.0L123.2 32.6L125.7 34.4L128.2 36.4L130.7 39.2L133.2 41.7L135.7 43.4L138.2 44.5L140.7 46.0L143.2 48.6L145.7 52.1L148.1 55.4L150.6 57.2L153.1 59.0L155.6 60.9L158.1 62.5L160.6 63.8L163.1 65.5" fill="none" stroke="#000" stroke-opacity="0.52" stroke-width="0.45"/>
<path d="M41.0 92.3L42.7 91.3L44.5 90.3L46.2 89.2L47.9 88.1L49.7 86.9L51.4 85.6L53.1 84.4L54.8 83.1L56.6 81.7L58.3 80.2L60.0 78.7L61.8 77.2L63.5 75.1L65.2 72.6L67.0 70.1L68.7 66.9L70.4 63.7L72.2 60.1L73.9 56.2L75.6 51.4L77.3 46.5L79.1 42.0L80.8 37.5L82.5 33.3L84.3 29.2L86.0 25.1L87.7 22.8L89.5 20.9L91.2 19.0L92.9 17.1L94.6 15.6L96.4 14.4L98.1 13.1L99.8 12.1L101.6 11.2L103.3 10.2M43.5 93.5L45.2 92.4L47.0 91.2L48.7 90.0L50.4 88.8L52.1 87.6L53.9 86.3L55.6 85.1L57.3 83.9L59.1 82.3L60.8 80.6L62.5 79.0L64.3 77.4L66.0 74.8L67.7 71.8L69.5 68.8L71.2 64.9L72.9 61.1L74.6 57.0L76.4 52.6L78.1 47.4L79.8 41.8L81.6 36.8L83.3 32.7L85.0 28.7L86.8 25.1L88.5 22.4L90.2 20.2L91.9 18.3L93.7 17.0L95.4 15.8L97.1 14.7L98.9 13.7L100.6 12.7L102.3 12.0L104.1 11.3L105.8 10.5M46.0 94.7L47.7 93.6L49.4 92.4L51.2 91.1L52.9 89.9L54.6 88.7L56.4 87.5L58.1 86.3L59.8 85.1L61.6 83.4L63.3 81.8L65.0 80.1L66.8 78.4L68.5 75.7L70.2 72.6L71.9 69.5L73.7 65.5L75.4 61.5L77.1 57.4L78.9 52.9L80.6 47.9L82.3 42.5L84.1 38.1L85.8 34.6L87.5 31.0L89.2 27.9L91.0 25.6L92.7 23.7L94.4 22.0L96.2 20.8L97.9 19.8L99.6 18.8L101.4 17.9L103.1 17.1L104.8 16.4L106.6 15.8L108.3 15.2M48.5 96.0L50.2 94.8L51.9 93.6L53.7 92.4L55.4 91.2L57.1 90.0L58.9 88.8L60.6 87.5L62.3 86.3L64.0 84.7L65.8 83.0L67.5 81.4L69.2 79.7L71.0 77.0L72.7 73.8L74.4 70.6L76.2 66.7L77.9 62.8L79.6 58.7L81.4 54.2L83.1 49.4L84.8 44.5L86.5 40.9L88.3 37.8L90.0 34.8L91.7 32.0L93.5 29.6L95.2 28.0L96.9 26.5L98.7 25.3L100.4 24.3L102.1 23.3L103.9 22.5L105.6 21.7L107.3 21.1L109.0 20.6L110.8 20.0M51.0 97.2L52.7 96.1L54.4 94.9L56.2 93.6L57.9 92.4L59.6 91.2L61.4 90.0L63.1 88.8L64.8 87.6L66.5 86.0L68.3 84.3L70.0 82.6L71.7 81.0L73.5 78.2L75.2 75.0L76.9 71.8L78.7 67.9L80.4 64.0L82.1 59.9L83.8 55.4L85.6 50.8L87.3 46.2L89.0 43.3L90.8 40.7L92.5 38.0L94.2 35.4L96.0 33.1L97.7 31.7L99.4 30.4L101.2 29.2L102.9 28.1L104.6 27.2L106.3 26.5L108.1 25.7L109.8 25.2L111.5 24.7L113.3 24.1M53.5 98.5L55.2 97.3L56.9 96.1L58.7 94.9L60.4 93.7L62.1 92.4L63.8 91.2L65.6 90.0L67.3 88.8L69.0 87.2L70.8 85.5L72.5 83.8L74.2 82.1L76.0 79.3L77.7 76.0L79.4 72.7L81.1 68.8L82.9 64.9L84.6 60.7L86.3 56.2L88.1 51.7L89.8 47.3L91.5 44.9L93.3 42.7L95.0 40.3L96.7 38.0L98.5 35.7L100.2 34.4L101.9 33.2L103.6 32.1L105.4 31.0L107.1 30.1L108.8 29.4L110.6 28.7L112.3 28.1L114.0 27.7L115.8 27.2M56.0 99.7L57.7 98.5L59.4 97.3L61.1 96.1L62.9 94.9L64.6 93.7L66.3 92.4L68.1 91.2L69.8 90.0L71.5 88.4L73.3 86.7L75.0 85.0L76.7 83.3L78.4 80.6L80.2 77.4L81.9 74.1L83.6 70.2L85.4 66.4L87.1 62.3L88.8 57.9L90.6 53.5L92.3 49.1L94.0 46.7L95.8 44.4L97.5 42.0L99.2 39.7L100.9 37.6L102.7 36.3L104.4 35.1L106.1 34.1L107.9 33.0L109.6 32.1L111.3 31.4L113.1 30.7L114.8 30.2L116.5 29.8L118.2 29.3M58.4 100.9L60.2 99.8L61.9 98.5L63.6 97.3L65.4 96.1L67.1 94.9L68.8 93.7L70.6 92.4L72.3 91.2L74.0 89.6L75.7 87.9L77.5 86.2L79.2 84.6L80.9 81.8L82.7 78.7L84.4 75.4L86.1 71.6L87.9 67.8L89.6 63.8L91.3 59.5L93.1 55.2L94.8 50.8L96.5 48.1L98.2 45.8L100.0 43.4L101.7 41.2L103.4 39.2L105.2 37.9L106.9 36.7L108.6 35.7L110.4 34.7L112.1 33.8L113.8 33.1L115.5 32.4L117.3 31.9L119.0 31.5L120.7 31.0M60.9 102.2L62.7 101.0L64.4 99.8L66.1 98.5L67.9 97.3L69.6 96.1L71.3 94.8L73.0 93.6L74.8 92.4L76.5 90.8L78.2 89.1L80.0 87.4L81.7 85.7L83.4 83.0L85.2 79.9L86.9 76.7L88.6 72.9L90.4 69.1L92.1 65.2L93.8 61.0L95.5 56.7L97.3 52.3L99.0 49.5L100.7 47.1L102.5 44.7L104.2 42.5L105.9 40.6L107.7 39.3L109.4 38.1L111.1 37.1L112.8 36.2L114.6 35.4L116.3 34.6L118.0 34.0L119.8 33.5L121.5 33.0L123.2 32.6M63.4 103.4L65.2 102.2L66.9 101.0L68.6 99.8L70.3 98.5L72.1 97.3L73.8 96.1L75.5 94.8L77.3 93.6L79.0 92.0L80.7 90.3L82.5 88.6L84.2 87.0L85.9 84.3L87.7 81.2L89.4 78.1L91.1 74.3L92.8 70.5L94.6 66.7L96.3 62.6L98.0 58.4L99.8 54.1L101.5 51.0L103.2 48.6L105.0 46.2L106.7 44.0L108.4 42.3L110.1 41.0L111.9 39.8L113.6 38.9L115.3 38.0L117.1 37.2L118.8 36.4L120.5 35.8L122.3 35.3L124.0 34.9L125.7 34.4M65.9 104.6L67.6 103.5L69.4 102.2L71.1 101.0L72.8 99.8L74.6 98.5L76.3 97.3L78.0 96.1L79.8 94.8L81.5 93.2L83.2 91.6L85.0 89.9L86.7 88.2L88.4 85.6L90.1 82.6L91.9 79.6L93.6 75.8L95.3 72.1L97.1 68.4L98.8 64.4L100.5 60.3L102.3 56.0L104.0 52.8L105.7 50.4L107.5 47.9L109.2 45.8L110.9 44.2L112.6 42.9L114.4 41.8L116.1 40.8L117.8 40.0L119.6 39.2L121.3 38.4L123.0 37.8L124.8 37.3L126.5 36.9L128.2 36.4M68.4 105.9L70.1 104.7L71.9 103.5L73.6 102.3L75.3 101.0L77.1 99.8L78.8 98.6L80.5 97.4L82.3 96.2L84.0 94.6L85.7 92.9L87.4 91.3L89.2 89.7L90.9 87.1L92.6 84.2L94.4 81.3L96.1 77.7L97.8 74.0L99.6 70.5L101.3 66.7L103.0 62.7L104.8 58.6L106.5 55.2L108.2 52.8L109.9 50.4L111.7 48.4L113.4 46.9L115.1 45.6L116.9 44.5L118.6 43.6L120.3 42.8L122.1 42.0L123.8 41.2L125.5 40.6L127.2 40.1L129.0 39.7L130.7 39.2M70.9 107.1L72.6 106.0L74.4 104.8L76.1 103.5L77.8 102.3L79.6 101.1L81.3 99.9L83.0 98.7L84.7 97.4L86.5 95.9L88.2 94.3L89.9 92.6L91.7 91.0L93.4 88.6L95.1 85.7L96.9 82.9L98.6 79.3L100.3 75.8L102.1 72.4L103.8 68.8L105.5 64.9L107.2 60.8L109.0 57.4L110.7 55.0L112.4 52.6L114.2 50.6L115.9 49.3L117.6 48.0L119.4 46.9L121.1 46.0L122.8 45.2L124.5 44.5L126.3 43.7L128.0 43.1L129.7 42.6L131.5 42.2L133.2 41.7M73.4 108.4L75.1 107.2L76.9 106.0L78.6 104.8L80.3 103.6L82.0 102.4L83.8 101.1L85.5 99.9L87.2 98.7L89.0 97.1L90.7 95.5L92.4 93.9L94.2 92.3L95.9 89.9L97.6 87.1L99.3 84.2L101.1 80.8L102.8 77.3L104.5 73.8L106.3 70.2L108.0 66.4L109.7 62.5L111.5 59.1L113.2 56.7L114.9 54.4L116.7 52.4L118.4 51.1L120.1 49.9L121.8 48.7L123.6 47.8L125.3 47.0L127.0 46.3L128.8 45.5L130.5 44.9L132.2 44.4L134.0 43.9L135.7 43.4M75.9 109.6L77.6 108.4L79.3 107.2L81.1 106.0L82.8 104.8L84.5 103.6L86.3 102.3L88.0 101.1L89.7 99.9L91.5 98.3L93.2 96.7L94.9 95.1L96.6 93.5L98.4 91.1L100.1 88.2L101.8 85.4L103.6 81.9L105.3 78.4L107.0 74.9L108.8 71.2L110.5 67.4L112.2 63.5L114.0 60.3L115.7 57.9L117.4 55.5L119.1 53.6L120.9 52.2L122.6 51.0L124.3 49.8L126.1 49.0L127.8 48.2L129.5 47.4L131.3 46.6L133.0 46.0L134.7 45.5L136.5 45.0L138.2 44.5M78.4 110.8L80.1 109.7L81.8 108.5L83.6 107.3L85.3 106.0L87.0 104.8L88.8 103.6L90.5 102.4L92.2 101.2L94.0 99.6L95.7 98.0L97.4 96.4L99.1 94.8L100.9 92.3L102.6 89.5L104.3 86.7L106.1 83.2L107.8 79.7L109.5 76.2L111.3 72.5L113.0 68.7L114.7 65.0L116.4 61.8L118.2 59.5L119.9 57.1L121.6 55.2L123.4 53.8L125.1 52.6L126.8 51.5L128.6 50.6L130.3 49.8L132.0 49.0L133.8 48.2L135.5 47.6L137.2 47.1L138.9 46.6L140.7 46.0M80.9 112.1L82.6 111.0L84.3 109.7L86.1 108.5L87.8 107.3L89.5 106.1L91.2 104.9L93.0 103.7L94.7 102.5L96.4 101.0L98.2 99.4L99.9 97.8L101.6 96.3L103.4 93.9L105.1 91.1L106.8 88.4L108.6 85.0L110.3 81.6L112.0 78.1L113.7 74.4L115.5 70.8L117.2 67.3L118.9 64.2L120.7 62.0L122.4 59.7L124.1 57.8L125.9 56.5L127.6 55.3L129.3 54.1L131.1 53.2L132.8 52.4L134.5 51.6L136.2 50.8L138.0 50.2L139.7 49.7L141.4 49.1L143.2 48.6M83.4 113.4L85.1 112.3L86.8 111.1L88.5 109.9L90.3 108.7L92.0 107.5L93.7 106.3L95.5 105.1L97.2 104.0L98.9 102.5L100.7 100.9L102.4 99.4L104.1 97.9L105.9 95.6L107.6 93.0L109.3 90.3L111.0 87.1L112.8 83.9L114.5 80.6L116.2 77.0L118.0 73.7L119.7 70.4L121.4 67.5L123.2 65.4L124.9 63.2L126.6 61.4L128.4 60.1L130.1 58.9L131.8 57.8L133.5 56.9L135.3 56.1L137.0 55.3L138.7 54.5L140.5 53.8L142.2 53.2L143.9 52.7L145.7 52.1M85.8 114.6L87.6 113.5L89.3 112.4L91.0 111.2L92.8 110.0L94.5 108.9L96.2 107.7L98.0 106.5L99.7 105.4L101.4 103.9L103.2 102.5L104.9 101.0L106.6 99.5L108.3 97.3L110.1 94.8L111.8 92.3L113.5 89.2L115.3 86.2L117.0 82.9L118.7 79.5L120.5 76.3L122.2 73.3L123.9 70.6L125.7 68.5L127.4 66.4L129.1 64.7L130.8 63.4L132.6 62.3L134.3 61.2L136.0 60.3L137.8 59.5L139.5 58.7L141.2 57.9L143.0 57.1L144.7 56.6L146.4 56.0L148.1 55.4M88.3 115.9L90.1 114.8L91.8 113.6L93.5 112.5L95.3 111.3L97.0 110.1L98.7 109.0L100.5 107.8L102.2 106.7L103.9 105.2L105.6 103.8L107.4 102.3L109.1 100.8L110.8 98.7L112.6 96.2L114.3 93.7L116.0 90.7L117.8 87.7L119.5 84.4L121.2 81.0L123.0 77.9L124.7 75.0L126.4 72.4L128.1 70.4L129.9 68.3L131.6 66.6L133.3 65.3L135.1 64.2L136.8 63.1L138.5 62.2L140.3 61.4L142.0 60.6L143.7 59.7L145.4 59.0L147.2 58.4L148.9 57.8L150.6 57.2M90.8 117.1L92.6 116.0L94.3 114.9L96.0 113.7L97.8 112.6L99.5 111.4L101.2 110.3L102.9 109.1L104.7 107.9L106.4 106.5L108.1 105.1L109.9 103.6L111.6 102.2L113.3 100.0L115.1 97.6L116.8 95.1L118.5 92.1L120.3 89.2L122.0 86.0L123.7 82.5L125.4 79.5L127.2 76.7L128.9 74.2L130.6 72.2L132.4 70.2L134.1 68.5L135.8 67.3L137.6 66.1L139.3 65.0L141.0 64.1L142.8 63.3L144.5 62.5L146.2 61.7L147.9 60.9L149.7 60.3L151.4 59.7L153.1 59.0M93.3 118.4L95.1 117.3L96.8 116.1L98.5 115.0L100.2 113.8L102.0 112.7L103.7 111.5L105.4 110.4L107.2 109.2L108.9 107.8L110.6 106.4L112.4 104.9L114.1 103.5L115.8 101.4L117.6 99.0L119.3 96.5L121.0 93.6L122.7 90.7L124.5 87.5L126.2 84.1L127.9 81.2L129.7 78.5L131.4 76.0L133.1 74.1L134.9 72.1L136.6 70.4L138.3 69.2L140.0 68.1L141.8 67.0L143.5 66.1L145.2 65.2L147.0 64.4L148.7 63.6L150.4 62.8L152.2 62.2L153.9 61.6L155.6 60.9M95.8 119.6L97.5 118.5L99.3 117.4L101.0 116.2L102.7 115.1L104.5 113.9L106.2 112.8L107.9 111.6L109.7 110.5L111.4 109.1L113.1 107.7L114.9 106.2L116.6 104.8L118.3 102.7L120.0 100.3L121.8 97.9L123.5 95.0L125.2 92.1L127.0 88.9L128.7 85.4L130.4 82.6L132.2 80.0L133.9 77.6L135.6 75.7L137.3 73.7L139.1 72.1L140.8 70.9L142.5 69.7L144.3 68.7L146.0 67.8L147.7 66.9L149.5 66.1L151.2 65.3L152.9 64.5L154.7 63.8L156.4 63.2L158.1 62.5M98.3 120.9L100.0 119.8L101.8 118.6L103.5 117.5L105.2 116.3L107.0 115.2L108.7 114.0L110.4 112.9L112.2 111.7L113.9 110.3L115.6 108.9L117.3 107.5L119.1 106.0L120.8 103.9L122.5 101.5L124.3 99.1L126.0 96.2L127.7 93.3L129.5 90.1L131.2 86.6L132.9 83.8L134.7 81.2L136.4 78.9L138.1 77.0L139.8 75.0L141.6 73.4L143.3 72.2L145.0 71.0L146.8 70.0L148.5 69.1L150.2 68.2L152.0 67.4L153.7 66.5L155.4 65.8L157.1 65.1L158.9 64.4L160.6 63.8M100.8 122.1L102.5 121.0L104.3 119.9L106.0 118.7L107.7 117.6L109.5 116.4L111.2 115.3L112.9 114.1L114.6 113.0L116.4 111.6L118.1 110.2L119.8 108.8L121.6 107.3L123.3 105.3L125.0 102.9L126.8 100.5L128.5 97.6L130.2 94.8L131.9 91.6L133.7 88.0L135.4 85.3L137.1 82.9L138.9 80.6L140.6 78.7L142.3 76.8L144.1 75.2L145.8 74.0L147.5 72.9L149.3 71.8L151.0 70.9L152.7 70.0L154.4 69.2L156.2 68.3L157.9 67.6L159.6 66.9L161.4 66.2L163.1 65.5" fill="none" stroke="#000" stroke-opacity="0.42" stroke-width="0.45"/>
<path d="M100.8 122.7L102.5 121.6L104.3 120.5L106.0 119.3L107.7 118.2L109.5 117.0L111.2 115.9L112.9 114.7L114.6 113.6L116.4 112.2L118.1 110.8L119.8 109.4L121.6 107.9L123.3 105.9L125.0 103.5L126.8 101.1L128.5 98.2L130.2 95.4L131.9 92.2L133.7 88.6L135.4 85.9L137.1 83.5L138.9 81.2L140.6 79.3L142.3 77.4L144.1 75.8L145.8 74.6L147.5 73.5L149.3 72.4L151.0 71.5L152.7 70.6L154.4 69.8L156.2 68.9L157.9 68.2L159.6 67.5L161.4 66.8L163.1 66.1" fill="none" stroke="#dcdcf4" stroke-width="0.9"/>
<text x="31.80" y="106.80" font-size="8.2" text-anchor="start" fill="#111" font-weight="bold" textLength="15.80" lengthAdjust="spacingAndGlyphs" >0.10</text>
<text x="100.50" y="134.00" font-size="8.2" text-anchor="middle" fill="#111" font-weight="bold" textLength="15.80" lengthAdjust="spacingAndGlyphs" >3.90</text>
<text x="163.50" y="104.80" font-size="8.0" text-anchor="middle" fill="#111" font-weight="bold" textLength="13.20" lengthAdjust="spacingAndGlyphs" >360</text>
<text x="61.30" y="128.70" font-size="8.4" text-anchor="middle" fill="#111" font-weight="bold" textLength="57.00" lengthAdjust="spacingAndGlyphs" transform="rotate(27.00 61.30 128.70)" >Concentration</text>
<text x="56.60" y="138.70" font-size="8.4" text-anchor="middle" fill="#111" font-weight="bold" transform="rotate(27.00 56.60 138.70)" >(μg·mL<tspan dy="-3" font-size="5.5">-1</tspan><tspan dy="3">)</tspan></text>
<text x="138.90" y="129.20" font-size="8.4" text-anchor="middle" fill="#111" font-weight="bold" textLength="41.60" lengthAdjust="spacingAndGlyphs" transform="rotate(-27.00 138.90 129.20)" >Time (min)</text>
<text x="7.60" y="62.80" font-size="8.6" text-anchor="middle" fill="#111" font-weight="bold" textLength="45.00" lengthAdjust="spacingAndGlyphs" transform="rotate(-90.00 7.60 62.80)" >Normalized</text>
<text x="17.60" y="63.00" font-size="8.6" text-anchor="middle" fill="#111" font-weight="bold" textLength="87.00" lengthAdjust="spacingAndGlyphs" transform="rotate(-90.00 17.60 63.00)" >grayscale value (a.u.)</text>
</g>
<g transform="translate(0 451.1)">
<line x1="220.00" y1="13.40" x2="220.00" y2="121.60" stroke="#383838" stroke-width="1.3" />
<line x1="219.40" y1="121.00" x2="340.00" y2="121.00" stroke="#383838" stroke-width="1.3" />
<line x1="217.80" y1="121.00" x2="220.00" y2="121.00" stroke="#383838" stroke-width="0.9" />
<line x1="217.80" y1="67.20" x2="220.00" y2="67.20" stroke="#383838" stroke-width="0.9" />
<line x1="217.80" y1="13.40" x2="220.00" y2="13.40" stroke="#383838" stroke-width="0.9" />
<line x1="217.80" y1="94.10" x2="220.00" y2="94.10" stroke="#383838" stroke-width="0.9" />
<line x1="217.80" y1="40.30" x2="220.00" y2="40.30" stroke="#383838" stroke-width="0.9" />
<line x1="280.00" y1="121.00" x2="280.00" y2="123.00" stroke="#383838" stroke-width="0.9" />
<line x1="340.00" y1="121.00" x2="340.00" y2="123.00" stroke="#383838" stroke-width="0.9" />
<path d="M220.50,119.62 L223.06,119.01 L226.70,118.17 L230.97,117.17 L235.41,116.09 L239.57,115.03 L243.00,114.06 L245.69,113.19 L248.00,112.38 L250.03,111.57 L251.89,110.73 L253.68,109.83 L255.50,108.83 L257.33,107.71 L259.06,106.51 L260.73,105.24 L262.35,103.93 L263.93,102.59 L265.50,101.25 L267.04,99.90 L268.53,98.53 L269.98,97.13 L271.42,95.71 L272.84,94.24 L274.25,92.74 L275.63,91.14 L276.97,89.45 L278.30,87.73 L279.64,86.02 L281.03,84.44 L282.50,83.00 L284.04,81.70 L285.61,80.48 L287.23,79.34 L288.92,78.25 L290.67,77.19 L292.50,76.15 L294.44,75.09 L296.48,74.04 L298.59,73.01 L300.74,72.06 L302.89,71.21 L305.00,70.50 L307.08,69.95 L309.17,69.53 L311.25,69.22 L313.33,68.99 L315.42,68.81 L317.50,68.65 L319.62,68.53 L321.77,68.48 L323.92,68.47 L326.04,68.51 L328.08,68.57 L330.00,68.65 L331.90,68.77 L333.81,68.95 L335.66,69.15 L337.32,69.35 L338.72,69.53 L339.75,69.65 L339.75,77.65 L338.72,77.53 L337.32,77.35 L335.66,77.15 L333.81,76.95 L331.90,76.77 L330.00,76.65 L328.08,76.57 L326.04,76.51 L323.92,76.47 L321.77,76.48 L319.62,76.53 L317.50,76.65 L315.42,76.81 L313.33,76.99 L311.25,77.22 L309.17,77.53 L307.08,77.95 L305.00,78.50 L302.89,79.21 L300.74,80.06 L298.59,81.01 L296.48,82.04 L294.44,83.09 L292.50,84.15 L290.67,85.19 L288.92,86.25 L287.23,87.34 L285.61,88.48 L284.04,89.70 L282.50,91.00 L281.03,92.44 L279.64,93.98 L278.30,95.53 L276.97,97.10 L275.63,98.63 L274.25,100.06 L272.84,101.41 L271.42,102.71 L269.98,103.97 L268.53,105.19 L267.04,106.38 L265.50,107.55 L263.93,108.72 L262.35,109.87 L260.73,110.99 L259.06,112.07 L257.33,113.07 L255.50,113.97 L253.68,114.76 L251.89,115.45 L250.03,116.07 L248.00,116.64 L245.69,117.19 L243.00,117.74 L239.57,118.31 L235.41,118.89 L230.97,119.45 L226.70,119.95 L223.06,120.37 L220.50,120.68 Z" fill="#c4aee0" fill-opacity="0.5" stroke="#c4aee0" stroke-width="0.6" stroke-opacity="0.9"/>
<path d="M220.50,119.63 L223.06,119.06 L226.70,118.27 L230.97,117.33 L235.41,116.32 L239.57,115.30 L243.00,114.34 L245.69,113.46 L248.00,112.61 L250.03,111.75 L251.89,110.85 L253.68,109.88 L255.50,108.82 L257.33,107.66 L259.06,106.41 L260.73,105.10 L262.35,103.73 L263.93,102.33 L265.50,100.90 L267.04,99.43 L268.53,97.88 L269.98,96.30 L271.42,94.71 L272.84,93.15 L274.25,91.64 L275.63,90.23 L276.97,88.91 L278.30,87.62 L279.64,86.29 L281.03,84.90 L282.50,83.38 L284.04,81.63 L285.61,79.68 L287.23,77.64 L288.92,75.62 L290.67,73.72 L292.50,72.05 L294.44,70.58 L296.48,69.23 L298.59,68.00 L300.74,66.90 L302.89,65.93 L305.00,65.09 L307.08,64.41 L309.17,63.89 L311.25,63.51 L313.33,63.22 L315.42,63.01 L317.50,62.84 L319.62,62.73 L321.77,62.72 L323.92,62.77 L326.04,62.89 L328.08,63.05 L330.00,63.23 L331.90,63.49 L333.81,63.83 L335.66,64.22 L337.32,64.60 L338.72,64.93 L339.75,65.15 L339.75,72.15 L338.72,71.90 L337.32,71.55 L335.66,71.15 L333.81,70.73 L331.90,70.35 L330.00,70.07 L328.08,69.85 L326.04,69.66 L323.92,69.51 L321.77,69.41 L319.62,69.39 L317.50,69.46 L315.42,69.60 L313.33,69.77 L311.25,70.03 L309.17,70.38 L307.08,70.86 L305.00,71.51 L302.89,72.31 L300.74,73.25 L298.59,74.31 L296.48,75.50 L294.44,76.82 L292.50,78.25 L290.67,79.90 L288.92,81.77 L287.23,83.76 L285.61,85.77 L284.04,87.70 L282.50,89.42 L281.03,90.92 L279.64,92.26 L278.30,93.48 L276.97,94.66 L275.63,95.87 L274.25,97.16 L272.84,98.55 L271.42,99.99 L269.98,101.46 L268.53,102.93 L267.04,104.35 L265.50,105.70 L263.93,106.99 L262.35,108.26 L260.73,109.49 L259.06,110.66 L257.33,111.77 L255.50,112.78 L253.68,113.69 L251.89,114.50 L250.03,115.25 L248.00,115.94 L245.69,116.60 L243.00,117.26 L239.57,117.93 L235.41,118.60 L230.97,119.24 L226.70,119.83 L223.06,120.31 L220.50,120.67 Z" fill="#a6cbef" fill-opacity="0.5" stroke="#a6cbef" stroke-width="0.6" stroke-opacity="0.9"/>
<path d="M220.50,119.62 L223.06,119.02 L226.70,118.18 L230.97,117.18 L235.41,116.10 L239.57,115.00 L243.00,113.95 L245.69,112.98 L248.00,112.04 L250.03,111.07 L251.89,110.05 L253.68,108.91 L255.50,107.62 L257.33,106.15 L259.06,104.53 L260.73,102.80 L262.35,101.00 L263.93,99.18 L265.50,97.38 L267.03,95.59 L268.51,93.79 L269.95,91.96 L271.38,90.19 L272.81,88.39 L274.25,86.56 L275.73,84.65 L277.23,82.65 L278.73,80.61 L280.21,78.60 L281.64,76.65 L283.00,74.84 L284.25,73.11 L285.40,71.42 L286.50,69.80 L287.60,68.29 L288.75,66.90 L290.00,65.69 L291.31,64.71 L292.65,63.96 L294.03,63.35 L295.49,62.77 L297.05,62.12 L298.75,61.31 L300.62,60.27 L302.64,59.06 L304.77,57.78 L306.94,56.54 L309.12,55.44 L311.25,54.59 L313.38,53.99 L315.56,53.57 L317.73,53.29 L319.86,53.11 L321.88,53.00 L323.75,52.92 L325.44,52.89 L327.00,52.96 L328.45,53.09 L329.83,53.28 L331.17,53.48 L332.50,53.69 L333.88,53.94 L335.30,54.26 L336.67,54.59 L337.93,54.92 L338.98,55.20 L339.75,55.40 L339.75,59.40 L338.98,59.23 L337.93,58.98 L336.67,58.69 L335.30,58.39 L333.88,58.12 L332.50,57.91 L331.17,57.73 L329.83,57.57 L328.45,57.42 L327.00,57.33 L325.44,57.31 L323.75,57.38 L321.88,57.51 L319.86,57.68 L317.73,57.92 L315.56,58.27 L313.38,58.75 L311.25,59.41 L309.12,60.33 L306.94,61.49 L304.77,62.79 L302.64,64.12 L300.62,65.39 L298.75,66.49 L297.05,67.35 L295.49,68.04 L294.03,68.66 L292.65,69.31 L291.31,70.10 L290.00,71.11 L288.75,72.37 L287.60,73.78 L286.50,75.33 L285.40,76.98 L284.25,78.70 L283.00,80.46 L281.64,82.32 L280.21,84.31 L278.73,86.36 L277.23,88.44 L275.73,90.48 L274.25,92.44 L272.81,94.31 L271.38,96.15 L269.95,97.95 L268.51,99.64 L267.03,101.29 L265.50,102.93 L263.93,104.57 L262.35,106.23 L260.73,107.87 L259.06,109.44 L257.33,110.89 L255.50,112.18 L253.68,113.28 L251.89,114.24 L250.03,115.08 L248.00,115.84 L245.69,116.55 L243.00,117.25 L239.57,117.96 L235.41,118.64 L230.97,119.28 L226.70,119.85 L223.06,120.32 L220.50,120.68 Z" fill="#9edcae" fill-opacity="0.5" stroke="#9edcae" stroke-width="0.6" stroke-opacity="0.9"/>
<path d="M220.50,119.64 L223.06,119.12 L226.70,118.42 L230.97,117.58 L235.41,116.66 L239.57,115.72 L243.00,114.81 L245.69,113.95 L248.00,113.09 L250.03,112.22 L251.89,111.29 L253.68,110.27 L255.50,109.14 L257.33,107.89 L259.06,106.53 L260.73,105.10 L262.35,103.59 L263.93,102.03 L265.50,100.43 L267.03,98.77 L268.51,97.04 L269.95,95.25 L271.38,93.43 L272.81,91.58 L274.25,89.74 L275.70,87.93 L277.14,86.17 L278.58,84.38 L280.03,82.51 L281.50,80.51 L283.00,78.30 L284.51,75.82 L286.00,73.10 L287.52,70.23 L289.08,67.34 L290.73,64.51 L292.50,61.88 L294.41,59.34 L296.44,56.81 L298.56,54.35 L300.72,52.02 L302.88,49.88 L305.00,48.00 L307.08,46.37 L309.17,44.94 L311.25,43.71 L313.33,42.65 L315.42,41.76 L317.50,41.02 L319.62,40.49 L321.77,40.17 L323.92,40.03 L326.04,39.99 L328.08,40.00 L330.00,40.00 L331.90,40.04 L333.81,40.16 L335.66,40.34 L337.32,40.53 L338.72,40.69 L339.75,40.80 L339.75,45.80 L338.72,45.67 L337.32,45.47 L335.66,45.25 L333.81,45.04 L331.90,44.88 L330.00,44.80 L328.08,44.76 L326.04,44.71 L323.92,44.70 L321.77,44.81 L319.62,45.08 L317.50,45.57 L315.42,46.27 L313.33,47.12 L311.25,48.13 L309.17,49.33 L307.08,50.71 L305.00,52.30 L302.88,54.14 L300.72,56.24 L298.56,58.52 L296.44,60.94 L294.41,63.43 L292.50,65.92 L290.73,68.53 L289.08,71.30 L287.52,74.13 L286.00,76.93 L284.51,79.58 L283.00,82.00 L281.50,84.14 L280.03,86.08 L278.58,87.89 L277.14,89.62 L275.70,91.32 L274.25,93.06 L272.81,94.85 L271.38,96.63 L269.95,98.39 L268.51,100.12 L267.03,101.78 L265.50,103.38 L263.93,104.91 L262.35,106.40 L260.73,107.84 L259.06,109.21 L257.33,110.49 L255.50,111.66 L253.68,112.71 L251.89,113.65 L250.03,114.50 L248.00,115.29 L245.69,116.05 L243.00,116.79 L239.57,117.56 L235.41,118.32 L230.97,119.05 L226.70,119.70 L223.06,120.25 L220.50,120.66 Z" fill="#fbe39a" fill-opacity="0.5" stroke="#fbe39a" stroke-width="0.6" stroke-opacity="0.9"/>
<path d="M220.50,119.64 L221.56,119.51 L223.00,119.34 L224.72,119.14 L226.61,118.89 L228.57,118.59 L230.50,118.23 L232.44,117.81 L234.48,117.33 L236.59,116.81 L238.74,116.23 L240.89,115.60 L243.00,114.92 L245.11,114.19 L247.26,113.41 L249.41,112.58 L251.52,111.70 L253.56,110.74 L255.50,109.71 L257.33,108.59 L259.06,107.40 L260.73,106.15 L262.35,104.83 L263.93,103.46 L265.50,102.04 L267.03,100.58 L268.51,99.07 L269.95,97.50 L271.38,95.88 L272.81,94.22 L274.25,92.50 L275.76,90.67 L277.32,88.74 L278.89,86.75 L280.40,84.78 L281.79,82.89 L283.00,81.12 L283.92,79.62 L284.56,78.33 L285.09,77.12 L285.66,75.83 L286.41,74.28 L287.50,72.34 L288.97,69.91 L290.70,67.13 L292.62,64.09 L294.66,60.94 L296.72,57.78 L298.75,54.74 L300.76,51.70 L302.82,48.53 L304.92,45.35 L307.04,42.31 L309.15,39.53 L311.25,37.14 L313.38,35.16 L315.56,33.49 L317.73,32.08 L319.86,30.88 L321.88,29.85 L323.75,28.94 L325.44,28.20 L327.00,27.68 L328.45,27.34 L329.83,27.10 L331.17,26.91 L332.50,26.71 L333.88,26.53 L335.30,26.43 L336.67,26.37 L337.93,26.34 L338.98,26.33 L339.75,26.30 L339.75,30.30 L338.98,30.31 L337.93,30.31 L336.67,30.31 L335.30,30.35 L333.88,30.43 L332.50,30.59 L331.17,30.76 L329.83,30.93 L328.45,31.14 L327.00,31.47 L325.44,31.96 L323.75,32.66 L321.88,33.55 L319.86,34.54 L317.73,35.71 L315.56,37.08 L313.38,38.72 L311.25,40.66 L309.15,43.02 L307.04,45.76 L304.92,48.77 L302.82,51.91 L300.76,55.05 L298.75,58.06 L296.72,61.06 L294.66,64.18 L292.62,67.30 L290.70,70.30 L288.97,73.06 L287.50,75.46 L286.41,77.39 L285.66,78.92 L285.09,80.21 L284.56,81.41 L283.92,82.68 L283.00,84.18 L281.79,85.92 L280.40,87.79 L278.89,89.72 L277.32,91.65 L275.76,93.53 L274.25,95.30 L272.81,96.98 L271.38,98.60 L269.95,100.17 L268.51,101.68 L267.03,103.15 L265.50,104.56 L263.93,105.92 L262.35,107.24 L260.73,108.50 L259.06,109.71 L257.33,110.84 L255.50,111.89 L253.56,112.86 L251.52,113.75 L249.41,114.57 L247.26,115.32 L245.11,116.02 L243.00,116.68 L240.89,117.30 L238.74,117.85 L236.59,118.36 L234.48,118.82 L232.44,119.22 L230.50,119.58 L228.57,119.87 L226.61,120.11 L224.72,120.30 L223.00,120.44 L221.56,120.56 L220.50,120.66 Z" fill="#f4a3a0" fill-opacity="0.5" stroke="#f4a3a0" stroke-width="0.6" stroke-opacity="0.9"/>
<path d="M220.50,120.15 L223.06,119.69 L226.70,119.06 L230.97,118.31 L235.41,117.49 L239.57,116.67 L243.00,115.90 L245.69,115.19 L248.00,114.51 L250.03,113.82 L251.89,113.09 L253.68,112.30 L255.50,111.40 L257.33,110.39 L259.06,109.29 L260.73,108.12 L262.35,106.90 L263.93,105.65 L265.50,104.40 L267.04,103.14 L268.53,101.86 L269.98,100.55 L271.42,99.21 L272.84,97.83 L274.25,96.40 L275.63,94.88 L276.97,93.28 L278.30,91.63 L279.64,90.00 L281.03,88.44 L282.50,87.00 L284.04,85.70 L285.61,84.48 L287.23,83.34 L288.92,82.25 L290.67,81.19 L292.50,80.15 L294.44,79.09 L296.48,78.04 L298.59,77.01 L300.74,76.06 L302.89,75.21 L305.00,74.50 L307.08,73.95 L309.17,73.53 L311.25,73.22 L313.33,72.99 L315.42,72.81 L317.50,72.65 L319.62,72.53 L321.77,72.48 L323.92,72.47 L326.04,72.51 L328.08,72.57 L330.00,72.65 L331.90,72.77 L333.81,72.95 L335.66,73.15 L337.32,73.35 L338.72,73.53 L339.75,73.65" fill="none" stroke="#6b3fa0" stroke-width="1.3" stroke-linejoin="round" stroke-linecap="round"/>
<path d="M220.50,120.15 L223.06,119.68 L226.70,119.05 L230.97,118.29 L235.41,117.46 L239.57,116.61 L243.00,115.80 L245.69,115.03 L248.00,114.27 L250.03,113.50 L251.89,112.68 L253.68,111.79 L255.50,110.80 L257.33,109.71 L259.06,108.54 L260.73,107.29 L262.35,106.00 L263.93,104.66 L265.50,103.30 L267.04,101.89 L268.53,100.40 L269.98,98.88 L271.42,97.35 L272.84,95.85 L274.25,94.40 L275.63,93.05 L276.97,91.79 L278.30,90.55 L279.64,89.27 L281.03,87.91 L282.50,86.40 L284.04,84.66 L285.61,82.73 L287.23,80.70 L288.92,78.69 L290.67,76.81 L292.50,75.15 L294.44,73.70 L296.48,72.37 L298.59,71.16 L300.74,70.07 L302.89,69.12 L305.00,68.30 L307.08,67.64 L309.17,67.14 L311.25,66.77 L313.33,66.50 L315.42,66.30 L317.50,66.15 L319.62,66.06 L321.77,66.06 L323.92,66.14 L326.04,66.27 L328.08,66.45 L330.00,66.65 L331.90,66.92 L333.81,67.28 L335.66,67.68 L337.32,68.08 L338.72,68.42 L339.75,68.65" fill="none" stroke="#2f6db5" stroke-width="1.3" stroke-linejoin="round" stroke-linecap="round"/>
<path d="M220.50,120.15 L223.06,119.67 L226.70,119.01 L230.97,118.23 L235.41,117.37 L239.57,116.48 L243.00,115.60 L245.69,114.76 L248.00,113.94 L250.03,113.07 L251.89,112.14 L253.68,111.10 L255.50,109.90 L257.33,108.52 L259.06,106.98 L260.73,105.33 L262.35,103.62 L263.93,101.87 L265.50,100.15 L267.03,98.44 L268.51,96.71 L269.95,94.96 L271.38,93.17 L272.81,91.35 L274.25,89.50 L275.73,87.56 L277.23,85.54 L278.73,83.49 L280.21,81.45 L281.64,79.49 L283.00,77.65 L284.25,75.90 L285.40,74.20 L286.50,72.57 L287.60,71.04 L288.75,69.64 L290.00,68.40 L291.31,67.40 L292.65,66.64 L294.03,66.00 L295.49,65.40 L297.05,64.73 L298.75,63.90 L300.62,62.83 L302.64,61.59 L304.77,60.28 L306.94,59.01 L309.12,57.89 L311.25,57.00 L313.38,56.37 L315.56,55.92 L317.73,55.60 L319.86,55.39 L321.88,55.26 L323.75,55.15 L325.44,55.10 L327.00,55.15 L328.45,55.26 L329.83,55.42 L331.17,55.61 L332.50,55.80 L333.88,56.03 L335.30,56.32 L336.67,56.64 L337.93,56.95 L338.98,57.21 L339.75,57.40" fill="none" stroke="#2fa84f" stroke-width="1.3" stroke-linejoin="round" stroke-linecap="round"/>
<path d="M220.50,120.15 L223.06,119.69 L226.70,119.06 L230.97,118.31 L235.41,117.49 L239.57,116.64 L243.00,115.80 L245.69,115.00 L248.00,114.19 L250.03,113.36 L251.89,112.47 L253.68,111.49 L255.50,110.40 L257.33,109.19 L259.06,107.87 L260.73,106.47 L262.35,105.00 L263.93,103.47 L265.50,101.90 L267.03,100.27 L268.51,98.58 L269.95,96.82 L271.38,95.03 L272.81,93.22 L274.25,91.40 L275.70,89.63 L277.14,87.89 L278.58,86.13 L280.03,84.30 L281.50,82.32 L283.00,80.15 L284.51,77.70 L286.00,75.01 L287.52,72.18 L289.08,69.32 L290.73,66.52 L292.50,63.90 L294.41,61.38 L296.44,58.88 L298.56,56.44 L300.72,54.13 L302.88,52.01 L305.00,50.15 L307.08,48.54 L309.17,47.14 L311.25,45.92 L313.33,44.89 L315.42,44.02 L317.50,43.30 L319.62,42.78 L321.77,42.49 L323.92,42.37 L326.04,42.35 L328.08,42.38 L330.00,42.40 L331.90,42.46 L333.81,42.60 L335.66,42.79 L337.32,43.00 L338.72,43.18 L339.75,43.30" fill="none" stroke="#f3c13a" stroke-width="1.3" stroke-linejoin="round" stroke-linecap="round"/>
<path d="M220.50,120.15 L221.56,120.04 L223.00,119.89 L224.72,119.72 L226.61,119.50 L228.57,119.23 L230.50,118.90 L232.44,118.51 L234.48,118.07 L236.59,117.58 L238.74,117.04 L240.89,116.45 L243.00,115.80 L245.11,115.11 L247.26,114.37 L249.41,113.58 L251.52,112.72 L253.56,111.80 L255.50,110.80 L257.33,109.72 L259.06,108.56 L260.73,107.32 L262.35,106.03 L263.93,104.69 L265.50,103.30 L267.03,101.86 L268.51,100.38 L269.95,98.83 L271.38,97.24 L272.81,95.60 L274.25,93.90 L275.76,92.10 L277.32,90.19 L278.89,88.23 L280.40,86.28 L281.79,84.40 L283.00,82.65 L283.92,81.15 L284.56,79.87 L285.09,78.67 L285.66,77.37 L286.41,75.84 L287.50,73.90 L288.97,71.49 L290.70,68.71 L292.62,65.70 L294.66,62.56 L296.72,59.42 L298.75,56.40 L300.76,53.37 L302.82,50.22 L304.92,47.06 L307.04,44.04 L309.15,41.27 L311.25,38.90 L313.38,36.94 L315.56,35.28 L317.73,33.89 L319.86,32.71 L321.88,31.70 L323.75,30.80 L325.44,30.08 L327.00,29.58 L328.45,29.24 L329.83,29.01 L331.17,28.84 L332.50,28.65 L333.88,28.48 L335.30,28.39 L336.67,28.34 L337.93,28.32 L338.98,28.32 L339.75,28.30" fill="none" stroke="#e3342f" stroke-width="1.4" stroke-linejoin="round" stroke-linecap="round"/>
<text x="216.00" y="124.40" font-size="8.2" text-anchor="end" fill="#111" font-weight="bold" textLength="11.20" lengthAdjust="spacingAndGlyphs" >0.0</text>
<text x="216.00" y="70.60" font-size="8.2" text-anchor="end" fill="#111" font-weight="bold" textLength="11.20" lengthAdjust="spacingAndGlyphs" >0.5</text>
<text x="216.00" y="16.80" font-size="8.2" text-anchor="end" fill="#111" font-weight="bold" textLength="11.20" lengthAdjust="spacingAndGlyphs" >1.0</text>
<text x="219.80" y="134.30" font-size="8.2" text-anchor="middle" fill="#111" font-weight="bold" textLength="4.60" lengthAdjust="spacingAndGlyphs" >0</text>
<text x="279.80" y="134.30" font-size="8.2" text-anchor="middle" fill="#111" font-weight="bold" textLength="13.00" lengthAdjust="spacingAndGlyphs" >180</text>
<text x="339.50" y="134.30" font-size="8.2" text-anchor="middle" fill="#111" font-weight="bold" textLength="13.00" lengthAdjust="spacingAndGlyphs" >360</text>
<text x="277.70" y="144.55" font-size="8.8" text-anchor="middle" fill="#111" font-weight="bold" textLength="42.00" lengthAdjust="spacingAndGlyphs" >Time (min)</text>
<text x="185.80" y="70.00" font-size="8.6" text-anchor="middle" fill="#111" font-weight="bold" textLength="46.00" lengthAdjust="spacingAndGlyphs" transform="rotate(-90.00 185.80 70.00)" >Normalized</text>
<text x="196.20" y="71.40" font-size="8.6" text-anchor="middle" fill="#111" font-weight="bold" textLength="90.00" lengthAdjust="spacingAndGlyphs" transform="rotate(-90.00 196.20 71.40)" >grayscale value (a.u.)</text>
<line x1="224.30" y1="15.00" x2="231.80" y2="15.00" stroke="#e3342f" stroke-width="1.8" />
<text x="235.60" y="17.80" font-size="8.4" text-anchor="start" fill="#111" font-weight="bold" textLength="39.15" lengthAdjust="spacingAndGlyphs" >0.1 μg/mL</text>
<line x1="224.30" y1="24.50" x2="231.80" y2="24.50" stroke="#f3c13a" stroke-width="1.8" />
<text x="235.60" y="27.30" font-size="8.4" text-anchor="start" fill="#111" font-weight="bold" textLength="39.15" lengthAdjust="spacingAndGlyphs" >0.3 μg/mL</text>
<line x1="224.30" y1="34.00" x2="231.80" y2="34.00" stroke="#2fa84f" stroke-width="1.8" />
<text x="235.60" y="36.80" font-size="8.4" text-anchor="start" fill="#111" font-weight="bold" textLength="39.15" lengthAdjust="spacingAndGlyphs" >0.9 μg/mL</text>
<line x1="224.30" y1="43.50" x2="231.80" y2="43.50" stroke="#2f6db5" stroke-width="1.8" />
<text x="235.60" y="46.30" font-size="8.4" text-anchor="start" fill="#111" font-weight="bold" textLength="39.15" lengthAdjust="spacingAndGlyphs" >2.0 μg/mL</text>
<line x1="224.30" y1="53.00" x2="231.80" y2="53.00" stroke="#6b3fa0" stroke-width="1.8" />
<text x="235.60" y="55.80" font-size="8.4" text-anchor="start" fill="#111" font-weight="bold" textLength="39.15" lengthAdjust="spacingAndGlyphs" >3.9 μg/mL</text>
<line x1="390.00" y1="13.40" x2="390.00" y2="121.60" stroke="#383838" stroke-width="1.3" />
<line x1="389.40" y1="121.00" x2="510.00" y2="121.00" stroke="#383838" stroke-width="1.3" />
<line x1="387.80" y1="121.00" x2="390.00" y2="121.00" stroke="#383838" stroke-width="0.9" />
<line x1="387.80" y1="67.20" x2="390.00" y2="67.20" stroke="#383838" stroke-width="0.9" />
<line x1="387.80" y1="13.40" x2="390.00" y2="13.40" stroke="#383838" stroke-width="0.9" />
<line x1="387.80" y1="94.10" x2="390.00" y2="94.10" stroke="#383838" stroke-width="0.9" />
<line x1="387.80" y1="40.30" x2="390.00" y2="40.30" stroke="#383838" stroke-width="0.9" />
<line x1="420.00" y1="121.00" x2="420.00" y2="123.00" stroke="#383838" stroke-width="0.9" />
<line x1="450.00" y1="121.00" x2="450.00" y2="123.00" stroke="#383838" stroke-width="0.9" />
<line x1="480.00" y1="121.00" x2="480.00" y2="123.00" stroke="#383838" stroke-width="0.9" />
<line x1="510.00" y1="121.00" x2="510.00" y2="123.00" stroke="#383838" stroke-width="0.9" />
<path d="M390.40,118.80 L509.75,118.80 L509.75,119.80 L390.40,119.80 Z" fill="#8a90c0" fill-opacity="0.5" stroke="#8a90c0" stroke-width="0.6" stroke-opacity="0.9"/>
<path d="M390.40,116.40 L509.75,116.40 L509.75,118.40 L390.40,118.40 Z" fill="#a9cdee" fill-opacity="0.45" stroke="#a9cdee" stroke-width="0.6" stroke-opacity="0.9"/>
<path d="M391.00,106.60 L400.06,106.69 L411.00,106.60 L418.81,105.91 L426.00,105.10 L433.66,104.44 L441.00,104.10 L447.41,104.68 L453.50,105.10 L459.75,103.88 L466.00,102.85 L472.09,104.01 L478.50,105.35 L485.77,105.10 L493.50,104.60 L502.56,104.80 L509.75,105.10 L509.75,108.70 L502.56,108.40 L493.50,108.20 L485.77,108.70 L478.50,108.95 L472.09,107.61 L466.00,106.45 L459.75,107.48 L453.50,108.70 L447.41,108.28 L441.00,107.70 L433.66,108.04 L426.00,108.70 L418.81,109.51 L411.00,110.20 L400.06,110.29 L391.00,110.20 Z" fill="#b7e0a0" fill-opacity="0.5" stroke="#b7e0a0" stroke-width="0.6" stroke-opacity="0.9"/>
<path d="M390.40,52.08 L392.65,48.57 L396.00,45.50 L400.10,47.12 L404.75,50.04 L409.59,52.79 L414.75,54.51 L420.38,53.90 L426.00,52.87 L431.16,53.79 L436.00,54.85 L440.80,55.59 L444.75,56.39 L446.14,57.47 L448.00,58.40 L453.91,58.72 L460.50,58.77 L465.03,57.99 L469.25,58.24 L474.25,61.88 L479.25,65.75 L483.62,66.84 L488.00,67.12 L492.84,67.62 L498.00,68.12 L504.25,68.90 L509.25,69.55 L509.25,79.45 L504.25,78.21 L498.00,76.68 L492.84,75.56 L488.00,74.48 L483.62,73.67 L479.25,72.06 L474.25,67.59 L469.25,63.35 L465.03,62.60 L460.50,62.83 L453.91,63.12 L448.00,63.20 L446.14,62.39 L444.75,61.41 L440.80,60.87 L436.00,60.45 L431.16,59.71 L426.00,59.93 L420.38,62.47 L414.75,64.49 L409.59,62.22 L404.75,58.96 L400.10,55.55 L396.00,53.50 L392.65,55.45 L390.40,58.22 Z" fill="#f7bf98" fill-opacity="0.5" stroke="#f7bf98" stroke-width="0.6" stroke-opacity="0.9"/>
<path d="M390.40,25.05 L392.47,23.02 L395.40,21.95 L398.75,26.18 L402.25,31.82 L405.33,36.17 L408.50,39.99 L412.17,43.13 L416.00,45.45 L419.67,46.63 L423.50,47.15 L427.80,47.59 L432.25,48.15 L436.73,49.19 L441.00,50.60 L444.58,52.67 L448.00,54.60 L451.72,55.38 L455.50,55.52 L459.33,54.93 L463.00,54.73 L465.97,55.50 L469.25,57.38 L474.09,61.62 L479.25,65.78 L483.62,66.91 L488.00,67.25 L493.08,68.24 L498.00,69.00 L502.14,68.88 L505.50,68.62 L507.84,68.96 L509.25,69.34 L509.25,77.26 L507.84,76.74 L505.50,76.18 L502.14,76.09 L498.00,75.80 L493.08,74.54 L488.00,73.05 L483.62,72.28 L479.25,70.82 L474.09,66.91 L469.25,62.92 L465.97,61.20 L463.00,60.57 L459.33,60.87 L455.50,61.07 L451.72,60.55 L448.00,59.40 L444.58,57.13 L441.00,54.70 L436.73,53.19 L432.25,52.15 L427.80,51.59 L423.50,51.15 L419.67,50.67 L416.00,49.85 L412.17,47.92 L408.50,45.31 L405.33,42.17 L402.25,38.48 L398.75,33.60 L395.40,29.65 L392.47,29.26 L390.40,30.25 Z" fill="#f1a0a0" fill-opacity="0.5" stroke="#f1a0a0" stroke-width="0.6" stroke-opacity="0.9"/>
<path d="M390.40,119.30 L509.75,119.30" fill="none" stroke="#1f2869" stroke-width="1.1" stroke-linejoin="round" stroke-linecap="round"/>
<path d="M390.40,117.40 L509.75,117.40" fill="none" stroke="#5ea3d9" stroke-width="1.0" stroke-linejoin="round" stroke-linecap="round"/>
<path d="M391.00,108.40 L400.06,108.49 L411.00,108.40 L418.81,107.71 L426.00,106.90 L433.66,106.24 L441.00,105.90 L447.41,106.48 L453.50,106.90 L459.75,105.68 L466.00,104.65 L472.09,105.81 L478.50,107.15 L485.77,106.90 L493.50,106.40 L502.56,106.60 L509.75,106.90" fill="none" stroke="#5cab3c" stroke-width="1.3" stroke-linejoin="round" stroke-linecap="round"/>
<path d="M390.40,55.15 L392.65,52.01 L396.00,49.50 L400.10,51.33 L404.75,54.50 L409.59,57.51 L414.75,59.50 L420.38,58.18 L426.00,56.40 L431.16,56.75 L436.00,57.65 L440.80,58.23 L444.75,58.90 L446.14,59.93 L448.00,60.80 L453.91,60.92 L460.50,60.80 L465.03,60.29 L469.25,60.80 L474.25,64.73 L479.25,68.90 L483.62,70.26 L488.00,70.80 L492.84,71.59 L498.00,72.40 L504.25,73.55 L509.25,74.50" fill="none" stroke="#ea7d3c" stroke-width="1.3" stroke-linejoin="round" stroke-linecap="round"/>
<path d="M390.40,27.65 L392.47,26.14 L395.40,25.80 L398.75,29.89 L402.25,35.15 L405.33,39.17 L408.50,42.65 L412.17,45.52 L416.00,47.65 L419.67,48.65 L423.50,49.15 L427.80,49.59 L432.25,50.15 L436.73,51.19 L441.00,52.65 L444.58,54.90 L448.00,57.00 L451.72,57.96 L455.50,58.30 L459.33,57.90 L463.00,57.65 L465.97,58.35 L469.25,60.15 L474.09,64.27 L479.25,68.30 L483.62,69.59 L488.00,70.15 L493.08,71.39 L498.00,72.40 L502.14,72.48 L505.50,72.40 L507.84,72.85 L509.25,73.30" fill="none" stroke="#c81e2a" stroke-width="1.8" stroke-linejoin="round" stroke-linecap="round"/>
<text x="386.20" y="124.40" font-size="8.2" text-anchor="end" fill="#111" font-weight="bold" textLength="11.20" lengthAdjust="spacingAndGlyphs" >0.0</text>
<text x="386.20" y="70.60" font-size="8.2" text-anchor="end" fill="#111" font-weight="bold" textLength="11.20" lengthAdjust="spacingAndGlyphs" >0.5</text>
<text x="386.20" y="16.80" font-size="8.2" text-anchor="end" fill="#111" font-weight="bold" textLength="11.20" lengthAdjust="spacingAndGlyphs" >1.0</text>
<text x="389.30" y="134.30" font-size="8.2" text-anchor="middle" fill="#111" font-weight="bold" textLength="10.80" lengthAdjust="spacingAndGlyphs" >0.1</text>
<text x="450.00" y="134.30" font-size="8.2" text-anchor="middle" fill="#111" font-weight="bold" textLength="11.55" lengthAdjust="spacingAndGlyphs" >2.0</text>
<text x="508.70" y="134.30" font-size="8.2" text-anchor="middle" fill="#111" font-weight="bold" textLength="11.85" lengthAdjust="spacingAndGlyphs" >3.9</text>
<text x="449.60" y="144.55" font-size="8.8" text-anchor="middle" fill="#111" font-weight="bold" textLength="97.50" lengthAdjust="spacingAndGlyphs" >Concentration (μg·mL<tspan dy="-3" font-size="5.5">-1</tspan><tspan dy="3">)</tspan></text>
<text x="354.80" y="70.00" font-size="8.6" text-anchor="middle" fill="#111" font-weight="bold" textLength="46.00" lengthAdjust="spacingAndGlyphs" transform="rotate(-90.00 354.80 70.00)" >Normalized</text>
<text x="365.80" y="71.40" font-size="8.6" text-anchor="middle" fill="#111" font-weight="bold" textLength="90.00" lengthAdjust="spacingAndGlyphs" transform="rotate(-90.00 365.80 71.40)" >grayscale value (a.u.)</text>
<line x1="466.90" y1="14.40" x2="474.40" y2="14.40" stroke="#c81e2a" stroke-width="1.8" />
<text x="509.00" y="17.20" font-size="8.3" text-anchor="end" fill="#111" font-weight="bold" >360 min</text>
<line x1="466.90" y1="24.00" x2="474.40" y2="24.00" stroke="#ea7d3c" stroke-width="1.8" />
<text x="509.00" y="26.80" font-size="8.3" text-anchor="end" fill="#111" font-weight="bold" >240 min</text>
<line x1="466.90" y1="33.50" x2="474.40" y2="33.50" stroke="#5cab3c" stroke-width="1.8" />
<text x="509.00" y="36.30" font-size="8.3" text-anchor="end" fill="#111" font-weight="bold" >120 min</text>
<line x1="466.90" y1="43.00" x2="474.40" y2="43.00" stroke="#5ea3d9" stroke-width="1.8" />
<text x="509.00" y="45.80" font-size="8.3" text-anchor="end" fill="#111" font-weight="bold" >60 min</text>
<line x1="466.90" y1="52.50" x2="474.40" y2="52.50" stroke="#1f2869" stroke-width="1.8" />
<text x="509.00" y="55.30" font-size="8.3" text-anchor="end" fill="#111" font-weight="bold" >30 min</text>
</g>
</svg></body></html>
